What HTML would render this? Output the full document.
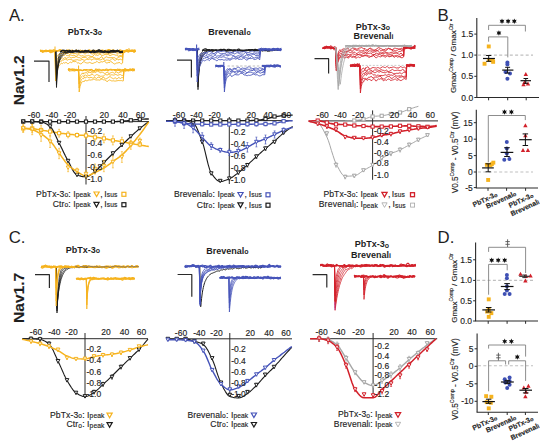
<!DOCTYPE html>
<html><head><meta charset="utf-8"><style>
html,body{margin:0;padding:0;background:#fff;}
svg{display:block;font-family:"Liberation Sans",sans-serif;}
.k{stroke:#1e1e1e;stroke-width:0.14px;}
</style></head><body>
<svg width="550" height="445" viewBox="0 0 550 445">
<rect width="550" height="445" fill="#fff"/>
<text xml:space="preserve" x="8.9" y="20.6" font-size="16.8" text-anchor="start" font-weight="normal" fill="#1e1e1e"><tspan>A.</tspan></text>
<text xml:space="preserve" x="8.7" y="242.5" font-size="16.8" text-anchor="start" font-weight="normal" fill="#1e1e1e"><tspan>C.</tspan></text>
<text xml:space="preserve" x="437.6" y="20.6" font-size="16.8" text-anchor="start" font-weight="normal" fill="#1e1e1e"><tspan>B.</tspan></text>
<text xml:space="preserve" x="437.6" y="242.5" font-size="16.8" text-anchor="start" font-weight="normal" fill="#1e1e1e"><tspan>D.</tspan></text>
<text xml:space="preserve" x="23.9" y="105.3" font-size="15.5" text-anchor="start" font-weight="bold" fill="#1e1e1e" transform="rotate(-90 23.9 105.3)" class="k"><tspan>Nav1.2</tspan></text>
<text xml:space="preserve" x="23.9" y="322.9" font-size="15.5" text-anchor="start" font-weight="bold" fill="#1e1e1e" transform="rotate(-90 23.9 322.9)" class="k"><tspan>Nav1.7</tspan></text>
<text xml:space="preserve" x="85" y="34.5" font-size="9" text-anchor="middle" font-weight="bold" fill="#1e1e1e"><tspan>PbTx-3</tspan><tspan font-size="7" dy="0.3">o</tspan></text>
<path d="M34 61.2 L49 61.2 L49 82" stroke="#2a2a2a" stroke-width="1.2" fill="none" stroke-linejoin="round"/>
<path d="M40 50.7 L40.9 50.3 L41.8 50.3 L42.7 50.4 L43.6 51.1 L44.5 51.6 L45.4 50.9 L46.3 50.7 L47.2 51.2 L48.1 51.3 L49 50.9 L49.9 50.5 L50.8 50.9 L51.7 51 L52.6 50.4 L53.5 49.9 L54.4 49.6 L55 51 L55.6 60 L56 58.8 L56.5 57.7 L56.9 56.6 L57.4 55.7 L57.8 55.2 L58.3 55 L58.7 54.5 L59.2 53.9 L59.6 53.6 L60.1 53.4 L60.5 53.6 L61 53.9 L61.4 53.5 L61.9 53.6 L62.3 53.8 L62.8 53.4 L63.2 53.3 L63.7 53.5 L64.1 53.1 L64.6 52.8 L65 53.4 L65.5 53.7 L65.9 53.1 L66.8 53.4 L67.7 53.4 L68.6 53.5 L69.5 54.4 L70.4 53.9 L71.3 52.9 L72.2 53.2 L73.1 53.6 L74 53.5 L74.9 53.6 L75.8 53.6 L76.7 54 L77.6 54 L78.5 53.4 L79.4 53.1 L80.3 53.1 L81.2 52.9 L82.1 52.6 L83 52.6 L83.9 53.3 L84.8 54 L85.7 53.8 L86.6 52.7 L87.5 52.7 L88.4 52.9 L89.3 52.3 L90.2 52.5 L91.1 53.5 L92 54.1 L92.9 53.9 L93.8 53.2 L94.7 53 L95.6 53.5 L96.5 53.9 L97.4 53.4 L98.3 53.1 L99.2 53.4 L100.1 53.3 L101 52.9 L101.9 52.7 L102.8 52.9 L103.7 53.4 L104.6 54 L105.5 53.9 L106.4 53.6 L107.3 53.6 L108.2 53.6 L109.1 53.8 L110 53.7 L110.9 53.3 L111.8 52.9 L112.7 52.7 L113.6 52 L114.5 51.7 L115.4 52.4 L116.3 52.8 L117.2 53.7 L118.1 54.3 L119 53.3 L119.9 52.8 L120.8 53.4 L121.7 53.6 L122.6 53.3 L123 50.7 L123.9 50.7 L124.8 50.5 L125.7 50.6 L126.6 50.9 L127.5 51.3 L128.4 51.4 L129.3 50.9 L130.2 50.7 L131.1 50.3 L132 49.6 L132.9 50 L133.8 50.3 L134.7 50.2 L135.6 50.4" stroke="#F6B31E" stroke-width="0.9" fill="none" stroke-linejoin="round"/>
<path d="M40 50.9 L40.9 50.6 L41.8 51.6 L42.7 52.1 L43.6 51.3 L44.5 50.8 L45.4 50.6 L46.3 50.7 L47.2 51.2 L48.1 51 L49 50.6 L49.9 50.4 L50.8 50.1 L51.7 50.5 L52.6 51.3 L53.5 51.5 L54.4 51.5 L55 51 L55.6 64 L56 62.4 L56.5 61 L56.9 59.8 L57.4 58.7 L57.8 58.1 L58.3 57.9 L58.7 57.1 L59.2 56.5 L59.6 56.7 L60.1 56.7 L60.5 55.8 L61 55.4 L61.4 55.1 L61.9 54.9 L62.3 55.6 L62.8 55.8 L63.2 55.4 L63.7 55.3 L64.1 55.4 L64.6 55.3 L65 55 L65.5 54.5 L65.9 54.9 L66.8 55.7 L67.7 55.6 L68.6 55.4 L69.5 55.4 L70.4 55 L71.3 55.2 L72.2 55.5 L73.1 55.4 L74 55.2 L74.9 55.7 L75.8 56.2 L76.7 56.2 L77.6 55.6 L78.5 54.8 L79.4 54.8 L80.3 55.8 L81.2 56.1 L82.1 55.7 L83 55.8 L83.9 56.2 L84.8 56.3 L85.7 56 L86.6 55.8 L87.5 55.7 L88.4 55.4 L89.3 55.7 L90.2 56.1 L91.1 56.5 L92 57 L92.9 56.4 L93.8 54.8 L94.7 54.4 L95.6 55.1 L96.5 55.1 L97.4 55.3 L98.3 55.4 L99.2 54.2 L100.1 53.9 L101 55 L101.9 55.4 L102.8 55.3 L103.7 55.1 L104.6 54.6 L105.5 54.3 L106.4 54.7 L107.3 54.4 L108.2 54.4 L109.1 55.2 L110 55.6 L110.9 55.3 L111.8 54.8 L112.7 54.5 L113.6 54.5 L114.5 54.7 L115.4 55.1 L116.3 55.1 L117.2 55.5 L118.1 56.2 L119 56.2 L119.9 55.4 L120.8 55.5 L121.7 55.6 L122.6 55 L123 50.9 L123.9 51.2 L124.8 51.5 L125.7 50.7 L126.6 49.7 L127.5 49.6 L128.4 49 L129.3 48.7 L130.2 50.2 L131.1 51.6 L132 51.1 L132.9 50.2 L133.8 50.5 L134.7 51.4 L135.6 51.4" stroke="#F6B31E" stroke-width="0.9" fill="none" stroke-linejoin="round"/>
<path d="M40 51.6 L40.9 51 L41.8 50.6 L42.7 50.8 L43.6 51.1 L44.5 51.1 L45.4 50.6 L46.3 50.6 L47.2 50.6 L48.1 50.8 L49 51.9 L49.9 52.1 L50.8 51.3 L51.7 51.4 L52.6 50.7 L53.5 49.8 L54.4 50.4 L55 51 L55.6 69 L56 66.9 L56.5 65.1 L56.9 63.7 L57.4 62.5 L57.8 61.6 L58.3 60.6 L58.7 59.6 L59.2 59.2 L59.6 59.5 L60.1 59.7 L60.5 59.3 L61 58.9 L61.4 58.5 L61.9 58.2 L62.3 57.9 L62.8 57.8 L63.2 58.2 L63.7 58.7 L64.1 58.4 L64.6 57.7 L65 57.2 L65.5 57.6 L65.9 58.5 L66.8 58.3 L67.7 57.7 L68.6 57.2 L69.5 56.9 L70.4 57.5 L71.3 57.9 L72.2 57.6 L73.1 57.3 L74 57.5 L74.9 57.2 L75.8 56.7 L76.7 56.8 L77.6 57.3 L78.5 57.6 L79.4 57.6 L80.3 58.1 L81.2 58.5 L82.1 57.7 L83 57.3 L83.9 57.5 L84.8 57.4 L85.7 57.2 L86.6 58.1 L87.5 58.7 L88.4 57.9 L89.3 57.2 L90.2 57.1 L91.1 57.2 L92 56.7 L92.9 57 L93.8 57.7 L94.7 57.7 L95.6 58.3 L96.5 58.7 L97.4 58.3 L98.3 58.5 L99.2 58.7 L100.1 57.9 L101 56.9 L101.9 56.8 L102.8 57.7 L103.7 58.6 L104.6 58.2 L105.5 57.1 L106.4 56.8 L107.3 57.2 L108.2 57.6 L109.1 57.6 L110 57.7 L110.9 57.7 L111.8 57.5 L112.7 57.6 L113.6 57.7 L114.5 57.7 L115.4 58.3 L116.3 58.9 L117.2 58.4 L118.1 57.3 L119 56.8 L119.9 56.9 L120.8 56.3 L121.7 56.6 L122.6 57.9 L123 50.7 L123.9 51.7 L124.8 52.4 L125.7 51.5 L126.6 50.3 L127.5 50.2 L128.4 50.6 L129.3 50.6 L130.2 50.4 L131.1 50.5 L132 50.7 L132.9 51.6 L133.8 52.1 L134.7 51.7 L135.6 51.2" stroke="#F6B31E" stroke-width="0.9" fill="none" stroke-linejoin="round"/>
<path d="M40 49.9 L40.9 50.1 L41.8 51 L42.7 51.2 L43.6 51.3 L44.5 51.1 L45.4 50.2 L46.3 50.2 L47.2 51 L48.1 51.2 L49 51.2 L49.9 51.5 L50.8 51.1 L51.7 50.2 L52.6 50.4 L53.5 51.3 L54.4 51 L55 51 L55.6 75 L56 72.3 L56.5 69.7 L56.9 67.8 L57.4 66.5 L57.8 65.4 L58.3 64.3 L58.7 63.2 L59.2 62.2 L59.6 61.4 L60.1 61.3 L60.5 61.4 L61 60.9 L61.4 61.1 L61.9 60.8 L62.3 59.9 L62.8 59.8 L63.2 60 L63.7 60 L64.1 59.7 L64.6 59.5 L65 59.5 L65.5 59.2 L65.9 59.1 L66.8 59.9 L67.7 60.1 L68.6 59.5 L69.5 59.4 L70.4 59.4 L71.3 59.6 L72.2 60.1 L73.1 60.3 L74 60.4 L74.9 60.1 L75.8 59.9 L76.7 59.8 L77.6 59.7 L78.5 60.1 L79.4 60.2 L80.3 60.3 L81.2 59.8 L82.1 59.4 L83 59.7 L83.9 60.2 L84.8 60.3 L85.7 59.8 L86.6 59.3 L87.5 59.3 L88.4 59.6 L89.3 59.1 L90.2 58.8 L91.1 59.8 L92 60.2 L92.9 59.2 L93.8 58.8 L94.7 59 L95.6 59.3 L96.5 59.7 L97.4 59.5 L98.3 59.6 L99.2 59.9 L100.1 59.9 L101 59.8 L101.9 59.3 L102.8 58.6 L103.7 59.2 L104.6 60.4 L105.5 60.4 L106.4 60 L107.3 60.1 L108.2 60.1 L109.1 60.6 L110 60.7 L110.9 59.6 L111.8 58.7 L112.7 58.7 L113.6 59.2 L114.5 60.3 L115.4 60.4 L116.3 59.4 L117.2 58.9 L118.1 59.8 L119 59.9 L119.9 59 L120.8 59.3 L121.7 59.8 L122.6 60 L123 51.7 L123.9 51.7 L124.8 50.8 L125.7 50 L126.6 49.7 L127.5 50.3 L128.4 50.9 L129.3 50.9 L130.2 50.6 L131.1 50.4 L132 50.7 L132.9 51.3 L133.8 52.1 L134.7 52.3 L135.6 51.2" stroke="#F6B31E" stroke-width="0.9" fill="none" stroke-linejoin="round"/>
<path d="M40 50.5 L40.9 50.6 L41.8 51 L42.7 51.2 L43.6 51.1 L44.5 50.8 L45.4 50.3 L46.3 50.3 L47.2 50.5 L48.1 50.7 L49 51 L49.9 50.7 L50.8 50.3 L51.7 50.3 L52.6 50.2 L53.5 50.3 L54.4 50.1 L55 51 L55.6 81 L56 77.6 L56.5 74.6 L56.9 72.1 L57.4 70.1 L57.8 68.6 L58.3 67.3 L58.7 66.2 L59.2 65.6 L59.6 65.2 L60.1 64.5 L60.5 64.1 L61 63.6 L61.4 63 L61.9 63.3 L62.3 63.6 L62.8 63.4 L63.2 63.1 L63.7 62.6 L64.1 62.7 L64.6 63.2 L65 63.2 L65.5 62.6 L65.9 62.1 L66.8 62.9 L67.7 63.7 L68.6 63.5 L69.5 62.6 L70.4 62.1 L71.3 62.7 L72.2 62.1 L73.1 61.3 L74 61.8 L74.9 61.6 L75.8 61.4 L76.7 62.3 L77.6 63 L78.5 62.8 L79.4 63.1 L80.3 64 L81.2 63.9 L82.1 62.9 L83 62.1 L83.9 61.7 L84.8 62 L85.7 62.7 L86.6 62.9 L87.5 63 L88.4 62.9 L89.3 62.4 L90.2 62.6 L91.1 63.1 L92 63.4 L92.9 63.4 L93.8 63 L94.7 62.6 L95.6 62.4 L96.5 61.7 L97.4 61.6 L98.3 62.5 L99.2 62.8 L100.1 62.3 L101 61.7 L101.9 61.8 L102.8 62 L103.7 61.4 L104.6 61.1 L105.5 62.1 L106.4 63.1 L107.3 62.9 L108.2 62.4 L109.1 62.6 L110 62.3 L110.9 61.3 L111.8 62 L112.7 63 L113.6 63.5 L114.5 64 L115.4 63.7 L116.3 63.1 L117.2 63 L118.1 62.9 L119 62.5 L119.9 62.7 L120.8 63.6 L121.7 63.8 L122.6 63 L123 51.5 L123.9 50.8 L124.8 50.6 L125.7 51.1 L126.6 51.6 L127.5 51.4 L128.4 50.2 L129.3 50.2 L130.2 50.8 L131.1 50.3 L132 50.3 L132.9 51.3 L133.8 51.7 L134.7 51.3 L135.6 51.1" stroke="#F6B31E" stroke-width="0.9" fill="none" stroke-linejoin="round"/>
<path d="M40 50.4 L40.9 50.7 L41.8 50.9 L42.7 51.2 L43.6 51.1 L44.5 50.6 L45.4 50.7 L46.3 51.1 L47.2 51.2 L48.1 50.8 L49 50.9 L49.9 52 L50.8 52.8 L51.7 52.5 L52.6 51.6 L53.5 51.5 L54.4 51.8 L55.3 51.1 L56.2 50.5 L57.1 50.9 L58 51 L58.9 50.3 L59.8 49.7 L60.7 50.1 L61.6 50.8 L62.5 50.8 L63.4 50.8 L64.3 51.2 L65.2 51.3 L66.1 51.1 L67 50.9 L67.9 50.6 L68.8 50.4 L69.7 50.7 L70.6 51.3 L71.5 51.1 L72.4 50.6 L73.3 50.6 L74.2 51 L75.1 50.9 L76 50.2 L76.9 50 L77.8 51.2 L78.7 52.4 L79.6 52 L80.5 51.3 L81.4 51.8 L82.3 52.1 L83.2 51.3 L84.1 51.1 L85 51.6 L85.9 51.7 L86.8 51.3 L87.7 51.4 L88.6 52.2 L89.5 52.4 L90.4 51.8 L91.3 51 L92.2 50.3 L93.1 50.8 L94 51.2 L94.9 51.3 L95.8 51.3 L96.7 50.6 L97.6 50.2 L98.5 50.6 L99.4 50.7 L100.3 50.5 L101.2 50.5 L102.1 50.1 L103 50.1 L103.9 51.1 L104.8 51.7 L105.7 52.1 L106.6 52.2 L107.5 51.1 L108.4 49.9 L109.3 49.8 L110.2 50.1 L111.1 50.5 L112 50.4 L112.9 50.1 L113.8 50.3 L114.7 50.4 L115.6 50.8 L116.5 50.9 L117.4 50.8 L118.3 50.8 L119.2 50.6 L120.1 50.2 L121 50 L121.9 51 L122.8 52.4 L123.7 52.7 L124.6 52.3 L125.5 51.5 L126.4 51.2 L127.3 51.5 L128.2 51.3 L129.1 50.9 L130 50.9 L130.9 50.9 L131.8 50.8 L132.7 50.6 L133.6 50.4 L134.5 51.1 L135.4 52" stroke="#F6B31E" stroke-width="1.1" fill="none" stroke-linejoin="round"/>
<path d="M40 50.6 L40.9 50.9 L41.8 51.5 L42.7 51.4 L43.6 51.5 L44.5 51.6 L45.4 51.1 L46.3 50.8 L47.2 51.1 L48.1 51.1 L49 50.3 L49.9 50.1 L50.8 50.7 L51.7 51.3 L52.6 51.8 L53.5 51.4 L54.4 50.8 L55.3 50.9 L56.2 50.9 L57.1 50.7 L58 50.9 L58.9 50.2 L59.8 49.7 L60.7 50 L61.6 50 L62.5 50.4 L63.4 51.1 L64.3 51.6 L65.2 51.8 L66.1 50.9 L67 50 L67.9 50 L68.8 50.1 L69.7 50.3 L70.6 50.8 L71.5 50.3 L72.4 50.1 L73.3 50.8 L74.2 51.2 L75.1 51.2 L76 51.3 L76.9 51.3 L77.8 51.5 L78.7 51.7 L79.6 51.6 L80.5 51.4 L81.4 50.9 L82.3 50.4 L83.2 50.5 L84.1 50.9 L85 50.7 L85.9 50.8 L86.8 51.5 L87.7 51.2 L88.6 50 L89.5 49.8 L90.4 50.4 L91.3 50.7 L92.2 50.7 L93.1 50.7 L94 50.8 L94.9 50.9 L95.8 50.8 L96.7 51 L97.6 52.1 L98.5 52.2 L99.4 51 L100.3 50.3 L101.2 50.7 L102.1 50.9 L103 50.5 L103.9 50.5 L104.8 50.6 L105.7 50.3 L106.6 50.2 L107.5 50 L108.4 49.5 L109.3 49.7 L110.2 50.5 L111.1 50.9 L112 50.5 L112.9 50 L113.8 50.5 L114.7 51.4 L115.6 51.4 L116.5 50.9 L117.4 50.7 L118.3 51 L119.2 50.6 L120.1 50.1 L121 50.7 L121.9 51.6 L122.8 51.7 L123.7 51.5 L124.6 51.3 L125.5 51.2 L126.4 50.9 L127.3 51.4 L128.2 52.3 L129.1 51.8 L130 50.9 L130.9 50.9 L131.8 51.4 L132.7 51.5 L133.6 50.6 L134.5 50 L135.4 50.5" stroke="#F6B31E" stroke-width="1.1" fill="none" stroke-linejoin="round"/>
<path d="M40 51.2 L40.9 50.9 L41.8 51.7 L42.7 52.4 L43.6 51.9 L44.5 51.3 L45.4 51.6 L46.3 51.7 L47.2 51 L48.1 50.8 L49 51.4 L49.9 51.4 L50.8 51 L51.7 51 L52.6 51 L53.5 51 L54.4 50.7 L55.3 50.4 L56.2 50.9 L57.1 51.2 L58 50.7 L58.9 50.8 L59.8 51 L60.7 50.7 L61.6 50.6 L62.5 50.8 L63.4 51.8 L64.3 52.9 L65.2 52.5 L66.1 51.6 L67 51.3 L67.9 51.3 L68.8 51.4 L69.7 51.5 L70.6 51 L71.5 51.2 L72.4 51.6 L73.3 51.7 L74.2 51.3 L75.1 50.8 L76 51.1 L76.9 51.4 L77.8 51.3 L78.7 51.1 L79.6 50.4 L80.5 50.1 L81.4 51.1 L82.3 51.6 L83.2 51.3 L84.1 51.3 L85 51.4 L85.9 50.9 L86.8 50.5 L87.7 51 L88.6 51.2 L89.5 50.9 L90.4 51.1 L91.3 50.7 L92.2 50.6 L93.1 51.3 L94 50.9 L94.9 50.3 L95.8 50.7 L96.7 51.6 L97.6 51.7 L98.5 51.2 L99.4 51.3 L100.3 51.3 L101.2 50.9 L102.1 51 L103 50.9 L103.9 50.6 L104.8 50.7 L105.7 50.9 L106.6 50.9 L107.5 50.6 L108.4 50.9 L109.3 51.5 L110.2 51.6 L111.1 51.8 L112 51.9 L112.9 52.1 L113.8 52 L114.7 51.3 L115.6 51.1 L116.5 51.5 L117.4 52.2 L118.3 51.8 L119.2 50.2 L120.1 50.2 L121 51.3 L121.9 51.7 L122.8 51.5 L123.7 51.3 L124.6 51.4 L125.5 51.4 L126.4 51.4 L127.3 50.9 L128.2 50.3 L129.1 50.5 L130 50.9 L130.9 51.2 L131.8 50.9 L132.7 50.6 L133.6 50.7 L134.5 50.4 L135.4 50" stroke="#F6B31E" stroke-width="1.1" fill="none" stroke-linejoin="round"/>
<path d="M55.8 51.3 L56.5 87.5 L56.9 76.6 L57.4 68.3 L57.8 62.8 L58.3 59 L58.7 56.6 L59.2 54.9 L59.6 53.9 L60.1 53.3 L60.5 52.8 L61 52.4 L61.4 52.1 L61.9 52.1 L62.3 52.1 L63.2 52 L64.1 52.2 L65 52.3 L65.9 52.3 L66.8 52.1 L67.7 51.7 L68.6 51.7 L69.5 51.9 L70.4 51.9 L71.3 51.8 L72.2 51.6 L73.1 51.4 L74 51.4 L74.9 51.4 L75.8 51.6 L76.7 51.6 L77.6 51.6 L78.5 51.7 L79.4 51.7 L80.3 51.4 L81.2 51.2 L82.1 51.2 L83 51.2 L83.9 51.6 L84.8 51.9 L85.7 51.8 L86.6 51.7 L87.5 51.6 L88.4 51.7 L89.3 51.8 L90.2 51.8 L91.1 52.1 L92 52.2 L92.9 52 L93.8 51.7 L94.7 51.7 L95.6 51.8 L96.5 51.9 L97.4 51.9 L98.3 52 L99.2 51.9 L100.1 51.5 L101 51.6 L101.9 51.9 L102.8 51.7 L103.7 51.6 L104.6 51.5 L105.5 51.5 L106.4 51.9 L107.3 52.4 L108.2 52.2 L109.1 51.6 L110 51.5 L110.9 51.7 L111.8 51.9 L112.7 51.7 L113.6 51.7 L114.5 52 L115.4 52 L116.3 51.7 L117.2 51.4 L118.1 51.3 L119 51.3 L119.9 51.4 L120.8 51.7 L121.7 51.8 L122.6 52" stroke="#1c1c1c" stroke-width="0.8" fill="none" stroke-linejoin="round"/>
<path d="M55.8 51.3 L56.5 85 L56.9 78 L57.4 71.9 L57.8 67.1 L58.3 63.5 L58.7 60.8 L59.2 58.8 L59.6 57.2 L60.1 55.9 L60.5 55 L61 54.2 L61.4 53.4 L61.9 52.9 L62.3 52.8 L62.8 52.6 L63.2 52.4 L63.7 52.1 L64.1 52 L64.6 52.2 L65 52.1 L65.9 52 L66.8 52.4 L67.7 52.4 L68.6 51.8 L69.5 52 L70.4 52.4 L71.3 52.2 L72.2 51.9 L73.1 51.7 L74 51.7 L74.9 51.6 L75.8 51.7 L76.7 51.9 L77.6 51.8 L78.5 51.6 L79.4 51.5 L80.3 51.6 L81.2 51.6 L82.1 51.8 L83 52 L83.9 52 L84.8 52 L85.7 51.9 L86.6 51.8 L87.5 51.7 L88.4 51.8 L89.3 51.8 L90.2 51.8 L91.1 52 L92 51.9 L92.9 51.6 L93.8 51.6 L94.7 51.6 L95.6 51.7 L96.5 51.8 L97.4 51.9 L98.3 51.5 L99.2 51.2 L100.1 51.2 L101 51.3 L101.9 51.7 L102.8 52.1 L103.7 51.9 L104.6 51.5 L105.5 51.7 L106.4 52.1 L107.3 52 L108.2 51.9 L109.1 52.3 L110 52.5 L110.9 52.3 L111.8 52 L112.7 51.9 L113.6 51.9 L114.5 51.6 L115.4 51.5 L116.3 51.6 L117.2 51.6 L118.1 51.7 L119 52 L119.9 52.2 L120.8 51.9 L121.7 51.7 L122.6 51.8" stroke="#1c1c1c" stroke-width="0.8" fill="none" stroke-linejoin="round"/>
<path d="M55.8 51.3 L56.5 80 L56.9 75.8 L57.4 71.9 L57.8 68.6 L58.3 65.8 L58.7 63.5 L59.2 61.5 L59.6 59.8 L60.1 58.5 L60.5 57.5 L61 56.4 L61.4 55.6 L61.9 55.1 L62.3 54.5 L62.8 53.9 L63.2 53.6 L63.7 53.4 L64.1 52.9 L64.6 52.5 L65 52.4 L65.5 52.3 L65.9 52.3 L66.4 52.4 L66.8 52.5 L67.3 52.4 L67.7 52.2 L68.2 52.3 L68.6 52.5 L69.1 52.5 L70 52.3 L70.9 52 L71.8 51.9 L72.7 51.9 L73.6 51.7 L74.5 51.7 L75.4 51.7 L76.3 51.5 L77.2 51.3 L78.1 51.5 L79 51.8 L79.9 52.1 L80.8 52.1 L81.7 51.9 L82.6 51.7 L83.5 51.7 L84.4 51.8 L85.3 51.9 L86.2 52.1 L87.1 52.2 L88 51.8 L88.9 51.4 L89.8 51.3 L90.7 51.3 L91.6 51.5 L92.5 52 L93.4 51.8 L94.3 51.6 L95.2 51.9 L96.1 52.1 L97 51.8 L97.9 51.6 L98.8 51.7 L99.7 51.9 L100.6 52.1 L101.5 52.2 L102.4 52.3 L103.3 52.3 L104.2 52.3 L105.1 51.9 L106 51.5 L106.9 51.7 L107.8 51.8 L108.7 51.8 L109.6 51.9 L110.5 51.7 L111.4 51.7 L112.3 52.1 L113.2 52.1 L114.1 52 L115 52.1 L115.9 52.1 L116.8 51.7 L117.7 51.3 L118.6 51.4 L119.5 51.5 L120.4 51.6 L121.3 51.9 L122.2 52" stroke="#1c1c1c" stroke-width="0.8" fill="none" stroke-linejoin="round"/>
<path d="M55.8 51.3 L56.5 74 L56.9 71.5 L57.4 69.1 L57.8 66.9 L58.3 65.1 L58.7 63.4 L59.2 62 L59.6 60.7 L60.1 59.7 L60.5 58.8 L61 57.9 L61.4 57.2 L61.9 56.5 L62.3 55.9 L62.8 55.5 L63.2 55.1 L63.7 54.8 L64.1 54.3 L64.6 53.8 L65 53.5 L65.5 53.5 L65.9 53.5 L66.4 53.4 L66.8 53.2 L67.3 53.1 L67.7 53 L68.2 52.6 L68.6 52 L69.1 51.8 L69.5 52 L70 52.3 L70.4 52.3 L70.9 52.3 L71.3 52.5 L71.8 52.6 L72.2 52.4 L72.7 52.1 L73.1 51.9 L73.6 52 L74.5 51.9 L75.4 51.8 L76.3 52 L77.2 52 L78.1 51.7 L79 51.6 L79.9 51.7 L80.8 51.8 L81.7 52 L82.6 52 L83.5 51.8 L84.4 51.7 L85.3 51.8 L86.2 51.9 L87.1 51.9 L88 51.6 L88.9 51.2 L89.8 51.4 L90.7 51.9 L91.6 52.2 L92.5 52 L93.4 51.7 L94.3 51.7 L95.2 52.1 L96.1 52.3 L97 52 L97.9 51.6 L98.8 51.5 L99.7 52.1 L100.6 52.5 L101.5 52.3 L102.4 52.2 L103.3 51.9 L104.2 51.8 L105.1 51.8 L106 51.7 L106.9 51.7 L107.8 51.9 L108.7 52 L109.6 52 L110.5 51.8 L111.4 51.6 L112.3 51.5 L113.2 51.6 L114.1 51.5 L115 51.3 L115.9 51.4 L116.8 51.4 L117.7 51.2 L118.6 51.2 L119.5 51.4 L120.4 51.7 L121.3 52.1 L122.2 52.1" stroke="#1c1c1c" stroke-width="0.8" fill="none" stroke-linejoin="round"/>
<path d="M60 51.4 L60.9 51.9 L61.8 51.2 L62.7 50.2 L63.6 50.4 L64.5 51.1 L65.4 51.1 L66.3 50.4 L67.2 50.5 L68.1 51.4 L69 51.5 L69.9 51.2 L70.8 51.5 L71.7 51.2 L72.6 50.4 L73.5 50.7 L74.4 51.2 L75.3 50.5 L76.2 50 L77.1 50.7 L78 51.9 L78.9 51.6 L79.8 51.2 L80.7 51.7 L81.6 51.5 L82.5 51.7 L83.4 52.3 L84.3 52 L85.2 51.2 L86.1 50.8 L87 51.1 L87.9 50.4 L88.8 50.5 L89.7 52.1 L90.6 52.7 L91.5 52 L92.4 51.6 L93.3 52.1 L94.2 52.7 L95.1 52.3 L96 51.3 L96.9 50.6 L97.8 50.3 L98.7 49.7 L99.6 49.9 L100.5 50.6 L101.4 50.7 L102.3 50.9 L103.2 51.6 L104.1 52.4 L105 52.3 L105.9 51.8 L106.8 51.6 L107.7 51 L108.6 51.1 L109.5 51.3 L110.4 50.8 L111.3 50.5 L112.2 50.5 L113.1 51.3 L114 51.8 L114.9 51.3 L115.8 50.9 L116.7 50.5 L117.6 50.1 L118.5 50.7 L119.4 52.2 L120.3 52.8 L121.2 51.8 L122.1 51.1 L123 51.3" stroke="#1c1c1c" stroke-width="1.1" fill="none" stroke-linejoin="round"/>
<path d="M60 51.4 L60.9 51 L61.8 50.5 L62.7 50.2 L63.6 50.2 L64.5 50.4 L65.4 50.6 L66.3 50.7 L67.2 51.1 L68.1 51.1 L69 50.4 L69.9 50.2 L70.8 50.7 L71.7 51.7 L72.6 52.4 L73.5 51.9 L74.4 51.6 L75.3 51.5 L76.2 51.2 L77.1 51.4 L78 50.6 L78.9 50.3 L79.8 52.2 L80.7 52.3 L81.6 51.1 L82.5 51 L83.4 51.2 L84.3 50.8 L85.2 50.3 L86.1 50.6 L87 51.3 L87.9 51.7 L88.8 51.8 L89.7 52.1 L90.6 52.2 L91.5 51.5 L92.4 50.7 L93.3 50 L94.2 50.5 L95.1 51.3 L96 51.2 L96.9 51.2 L97.8 51 L98.7 50.6 L99.6 50.7 L100.5 50.8 L101.4 51 L102.3 51.6 L103.2 51.6 L104.1 50.9 L105 50.7 L105.9 51.1 L106.8 51.5 L107.7 52.3 L108.6 52.9 L109.5 52.2 L110.4 51.3 L111.3 50.9 L112.2 50.5 L113.1 50.3 L114 50.4 L114.9 50.7 L115.8 51.1 L116.7 51.4 L117.6 51.1 L118.5 50.7 L119.4 51 L120.3 51.8 L121.2 52.3 L122.1 52.4 L123 52.4" stroke="#1c1c1c" stroke-width="1.1" fill="none" stroke-linejoin="round"/>
<line x1="55" y1="46.5" x2="55" y2="52" stroke="#F6B31E" stroke-width="1"/>
<path d="M68 70.4 L68.9 70.7 L69.8 71.3 L70.7 70.9 L71.6 70.8 L72.5 70.7 L73.4 70.1 L74.3 69.8 L75.2 69.5 L76.1 69.2 L77 69.5 L77.9 69.8 L78.6 70 L79.2 80 L79.6 78.3 L80 76.7 L80.5 75.5 L81 74.7 L81.4 74.3 L81.9 73.6 L82.3 72.9 L82.8 73.7 L83.2 74.1 L83.7 72.9 L84.1 72.9 L84.6 73.1 L85 73 L85.5 73 L85.9 72.3 L86.4 72.7 L87.3 73.3 L88.2 72.7 L89.1 72.3 L90 72.3 L90.9 72.7 L91.8 73 L92.7 72.7 L93.6 72.4 L94.5 72.2 L95.4 72.5 L96.3 71.9 L97.2 71.1 L98.1 71.5 L99 71.8 L99.9 72.4 L100.8 72.9 L101.7 72 L102.6 72 L103.5 73 L104.4 73.4 L105.3 73.4 L106.2 72.8 L107.1 72.1 L108 72.6 L108.9 73.4 L109.8 73.3 L110.7 72.8 L111.6 72.5 L112.5 72.3 L113.4 72.7 L114.3 73.4 L115.2 72.7 L116.1 71.8 L117 72.1 L117.9 72.9 L118.8 73 L119.7 72.4 L120.6 72.1 L121.5 71.9 L122.4 71.3 L123.3 71.6 L124 70.7 L124.9 70.8 L125.8 71.3 L126.7 70.8 L127.6 70.2 L128.5 70.4 L129.4 70.2 L130.3 69.7 L131.2 69.8 L132.1 69.4 L133 68.9 L133.9 69.3 L134.8 69.7" stroke="#F6B31E" stroke-width="0.9" fill="none" stroke-linejoin="round"/>
<path d="M68 69.7 L68.9 69.6 L69.8 69.7 L70.7 69.5 L71.6 69.9 L72.5 70.5 L73.4 69.8 L74.3 69.8 L75.2 70.3 L76.1 70 L77 69.8 L77.9 70.3 L78.6 70 L79.2 84 L79.6 81.7 L80 79.8 L80.5 78.5 L81 77.6 L81.4 76.8 L81.9 76.5 L82.3 76.2 L82.8 75.7 L83.2 76 L83.7 76.6 L84.1 75.9 L84.6 75.1 L85 74.9 L85.5 74.9 L85.9 75.4 L86.4 75.6 L87.3 75 L88.2 75.2 L89.1 75.6 L90 75.3 L90.9 74.9 L91.8 74.5 L92.7 74.4 L93.6 75.3 L94.5 76.1 L95.4 75.4 L96.3 74.7 L97.2 74.7 L98.1 75.1 L99 75.5 L99.9 76 L100.8 76.4 L101.7 76.2 L102.6 76.1 L103.5 75.9 L104.4 75.2 L105.3 74.6 L106.2 74.7 L107.1 75.1 L108 74.5 L108.9 74.2 L109.8 75 L110.7 75.1 L111.6 74.8 L112.5 74.9 L113.4 75.1 L114.3 75 L115.2 74.4 L116.1 74.5 L117 75.1 L117.9 75.3 L118.8 74.9 L119.7 74.6 L120.6 74.6 L121.5 75.3 L122.4 75.5 L123.3 75.4 L124 69 L124.9 68.4 L125.8 68.8 L126.7 69.4 L127.6 69.6 L128.5 69.7 L129.4 69.4 L130.3 69 L131.2 69.3 L132.1 69.2 L133 69.2 L133.9 69.3 L134.8 68.9" stroke="#F6B31E" stroke-width="0.9" fill="none" stroke-linejoin="round"/>
<path d="M68 70.2 L68.9 69.4 L69.8 69.1 L70.7 69.4 L71.6 69.5 L72.5 69.4 L73.4 70 L74.3 69.9 L75.2 69.6 L76.1 70.2 L77 70.7 L77.9 70.7 L78.6 70 L79.2 88 L79.6 85.5 L80 83.5 L80.5 82 L81 80.7 L81.4 79.6 L81.9 79.2 L82.3 78.9 L82.8 78.3 L83.2 78.5 L83.7 78.6 L84.1 77.8 L84.6 76.9 L85 77.5 L85.5 78 L85.9 77.7 L86.4 77.1 L87.3 76.8 L88.2 77.4 L89.1 77.9 L90 77.6 L90.9 77.3 L91.8 77.6 L92.7 78.1 L93.6 77.9 L94.5 77.4 L95.4 77.8 L96.3 78.6 L97.2 77.8 L98.1 77.1 L99 77.2 L99.9 77.5 L100.8 78.6 L101.7 78.8 L102.6 77.4 L103.5 77 L104.4 78.2 L105.3 78.9 L106.2 78.8 L107.1 78.4 L108 77.6 L108.9 77.1 L109.8 76.7 L110.7 77 L111.6 77.8 L112.5 78.3 L113.4 78.8 L114.3 78.3 L115.2 77.7 L116.1 78.5 L117 79.1 L117.9 78.2 L118.8 77.4 L119.7 78 L120.6 78.5 L121.5 77.7 L122.4 77.5 L123.3 78.2 L124 70 L124.9 70.4 L125.8 70.8 L126.7 70.3 L127.6 69.5 L128.5 70 L129.4 70.7 L130.3 70.7 L131.2 70.5 L132.1 69.7 L133 69.6 L133.9 70 L134.8 69.1" stroke="#F6B31E" stroke-width="0.9" fill="none" stroke-linejoin="round"/>
<path d="M68 68.8 L68.9 68.6 L69.8 69 L70.7 69.6 L71.6 69.5 L72.5 69.1 L73.4 69.5 L74.3 69.3 L75.2 69.3 L76.1 70.1 L77 69.7 L77.9 69.7 L78.6 70 L79.2 92 L79.6 89.1 L80 86.7 L80.5 84.9 L81 83.7 L81.4 82.8 L81.9 81.9 L82.3 81.6 L82.8 82 L83.2 81.5 L83.7 81.4 L84.1 81.8 L84.6 81 L85 80.2 L85.5 80.2 L85.9 80.2 L86.4 80.9 L87.3 81 L88.2 80.1 L89.1 79.8 L90 80.1 L90.9 80 L91.8 79.8 L92.7 79.7 L93.6 79.2 L94.5 79.3 L95.4 79.8 L96.3 80 L97.2 80 L98.1 79.8 L99 80.1 L99.9 80.1 L100.8 79.5 L101.7 79 L102.6 79.3 L103.5 79.8 L104.4 79.8 L105.3 80.3 L106.2 81 L107.1 81.4 L108 81.2 L108.9 80.2 L109.8 79.8 L110.7 80.5 L111.6 80.9 L112.5 80.9 L113.4 80.8 L114.3 81 L115.2 81.1 L116.1 80.9 L117 80.8 L117.9 80.6 L118.8 80.5 L119.7 80.6 L120.6 80.6 L121.5 80.6 L122.4 80.9 L123.3 80.9 L124 70 L124.9 69.1 L125.8 69.2 L126.7 70.2 L127.6 71.1 L128.5 70.9 L129.4 70.3 L130.3 69.8 L131.2 70.1 L132.1 70.9 L133 70.9 L133.9 70.3 L134.8 70.2" stroke="#F6B31E" stroke-width="0.9" fill="none" stroke-linejoin="round"/>
<path d="M68 69 L68.9 69.9 L69.8 70.3 L70.7 69.6 L71.6 69.6 L72.5 70.5 L73.4 70.7 L74.3 70.9 L75.2 70.8 L76.1 70.3 L77 70.2 L77.9 70.1 L78.8 69.9 L79.7 69.9 L80.6 70.2 L81.5 70.6 L82.4 70.3 L83.3 69.9 L84.2 69.9 L85.1 69.9 L86 69.5 L86.9 69.5 L87.8 69.7 L88.7 69.7 L89.6 69.7 L90.5 70.2 L91.4 71.1 L92.3 71.2 L93.2 70.5 L94.1 70.6 L95 71.1 L95.9 70.7 L96.8 70.1 L97.7 70.2 L98.6 70.6 L99.5 70.7 L100.4 70.8 L101.3 70.8 L102.2 70.2 L103.1 69.9 L104 70.1 L104.9 70.6 L105.8 70.3 L106.7 70.1 L107.6 70.7 L108.5 70.6 L109.4 69.7 L110.3 69.2 L111.2 69.3 L112.1 69.7 L113 69.9 L113.9 69.6 L114.8 69.5 L115.7 69.5 L116.6 69.7 L117.5 70.4 L118.4 70.4 L119.3 69.4 L120.2 69.4 L121.1 69.9 L122 69.9 L122.9 69.6 L123.8 69.5 L124.7 69.6 L125.6 70.1 L126.5 70.2 L127.4 70 L128.3 70.1 L129.2 69.6 L130.1 69.3 L131 70 L131.9 70.2 L132.8 70.2 L133.7 70.7 L134.6 70.6" stroke="#F6B31E" stroke-width="1.1" fill="none" stroke-linejoin="round"/>
<path d="M68 69.7 L68.9 69.1 L69.8 69.3 L70.7 69.2 L71.6 69.1 L72.5 69.3 L73.4 69.1 L74.3 69.3 L75.2 70 L76.1 69.9 L77 70 L77.9 70.5 L78.8 70.5 L79.7 70 L80.6 69.7 L81.5 70 L82.4 70.8 L83.3 70.5 L84.2 69.6 L85.1 69.9 L86 70.5 L86.9 70.8 L87.8 71.3 L88.7 71 L89.6 70 L90.5 69.5 L91.4 69.4 L92.3 69.8 L93.2 70.8 L94.1 71.4 L95 70.2 L95.9 68.9 L96.8 69.2 L97.7 69.6 L98.6 69.2 L99.5 69.2 L100.4 69.7 L101.3 70 L102.2 69.8 L103.1 69.7 L104 70 L104.9 69.8 L105.8 69.3 L106.7 69 L107.6 69.4 L108.5 69.7 L109.4 69.4 L110.3 69.7 L111.2 70.2 L112.1 70 L113 69.8 L113.9 69.8 L114.8 70.6 L115.7 70.9 L116.6 70 L117.5 69 L118.4 69.3 L119.3 70.6 L120.2 71.1 L121.1 70.9 L122 70.5 L122.9 70 L123.8 69.8 L124.7 70.1 L125.6 69.8 L126.5 69.6 L127.4 70.4 L128.3 70.6 L129.2 69.4 L130.1 69.2 L131 69.7 L131.9 69.2 L132.8 68.9 L133.7 69.9 L134.6 70.2" stroke="#F6B31E" stroke-width="1.1" fill="none" stroke-linejoin="round"/>
<line x1="78.6" y1="65.5" x2="78.6" y2="71" stroke="#F6B31E" stroke-width="1"/>
<line x1="22" y1="121.6" x2="149" y2="121.6" stroke="#2a2a2a" stroke-width="1"/>
<line x1="86" y1="116" x2="86" y2="184.5" stroke="#2a2a2a" stroke-width="1"/>
<path d="M23.2 121.6 L24.7 121.6 L26.2 121.6 L27.7 121.6 L29.2 121.6 L30.7 121.6 L32.2 121.6 L33.7 121.6 L35.2 121.6 L36.7 121.6 L38.2 121.6 L39.7 121.6 L41.1 121.6 L42.6 121.6 L44.1 121.6 L45.6 121.6 L47.1 121.6 L48.6 121.6 L50.1 121.6 L51.6 121.6 L53.1 121.6 L54.6 121.6 L56.1 121.6 L57.6 121.6 L59.1 121.6 L60.6 121.6 L62.1 121.6 L63.6 121.6 L65.1 121.6 L66.6 121.6 L68.1 121.6 L69.6 121.6 L71 121.6 L72.5 121.6 L74 121.6 L75.5 121.6 L77 121.6 L78.5 121.6 L80 121.6 L81.5 121.6 L83 121.6 L84.5 121.6 L86 121.6 L87.5 121.6 L89 121.6 L90.5 121.6 L92 121.6 L93.5 121.6 L95 121.6 L96.5 121.6 L98 121.6 L99.5 121.6 L101 121.6 L102.4 121.6 L103.9 121.6 L105.4 121.6 L106.9 121.6 L108.4 121.6 L109.9 121.6 L111.4 121.6 L112.9 121.6 L114.4 121.6 L115.9 121.6 L117.4 121.5 L118.9 121.4 L120.4 121.4 L121.9 121.3 L123.4 121.2 L124.9 121 L126.4 120.9 L127.9 120.7 L129.4 120.5 L130.8 120.3 L132.3 120.1 L133.8 119.9 L135.3 119.7 L136.8 119.6 L138.3 119.4 L139.8 119.3 L141.3 119.2 L142.8 119.2 L144.3 119.1 L145.8 119 L147.3 119 L148.8 119" stroke="#1c1c1c" stroke-width="1.3" fill="none" stroke-linejoin="round"/>
<path d="M23.2 128.4 L24.7 128.4 L26.2 128.4 L27.7 128.5 L29.2 128.5 L30.7 128.5 L32.2 128.6 L33.7 128.7 L35.2 128.9 L36.7 129.2 L38.2 129.4 L39.7 129.7 L41.1 130 L42.6 130.2 L44.1 130.5 L45.6 130.7 L47.1 131 L48.6 131.2 L50.1 131.5 L51.6 131.8 L53.1 132 L54.6 132.3 L56.1 132.5 L57.6 132.8 L59.1 133 L60.6 133.2 L62.1 133.4 L63.6 133.6 L65.1 133.8 L66.6 134 L68.1 134.2 L69.6 134.4 L71 134.5 L72.5 134.6 L74 134.8 L75.5 134.9 L77 135 L78.5 135.1 L80 135.2 L81.5 135.2 L83 135.3 L84.5 135.4 L86 135.5 L87.5 135.7 L89 135.9 L90.5 136.2 L92 136.5 L93.5 136.8 L95 137.1 L96.5 137.4 L98 137.6 L99.5 137.8 L101 138.1 L102.4 138.3 L103.9 138.6 L105.4 138.9 L106.9 139.1 L108.4 139.4 L109.9 139.7 L111.4 139.9 L112.9 140.2 L114.4 140.5 L115.9 140.7 L117.4 141 L118.9 141.3 L120.4 141.5 L121.9 141.8 L123.4 142.1 L124.9 142.3 L126.4 142.6 L127.9 142.9 L129.4 143.1 L130.8 143.4 L132.3 143.7 L133.8 143.9 L135.3 144.2 L136.8 144.4 L138.3 144.6 L139.8 144.9 L141.3 145.2 L142.8 145.4 L144.3 145.7 L145.8 146 L147.3 146.2 L148.8 146.5" stroke="#F6B31E" stroke-width="1.5" fill="none" stroke-linejoin="round"/>
<path d="M23.2 121.6 L24.7 121.6 L26.2 121.6 L27.7 121.6 L29.2 121.6 L30.7 121.6 L32.2 121.6 L33.7 121.6 L35.2 121.6 L36.7 121.7 L38.2 121.8 L39.7 121.9 L41.1 122 L42.6 122.3 L44.1 122.8 L45.6 123.5 L47.1 124.3 L48.6 125.4 L50.1 126.5 L51.6 128.1 L53.1 130.6 L54.6 133.5 L56.1 136.7 L57.6 139.9 L59.1 143 L60.6 146 L62.1 149.1 L63.6 152.2 L65.1 155.3 L66.6 158.2 L68.1 161 L69.6 163.8 L71 166.7 L72.5 169.6 L74 172.1 L75.5 174 L77 175 L78.5 175.5 L80 175.9 L81.5 176.3 L83 176.6 L84.5 176.7 L86 176.8 L87.5 176.6 L89 175.9 L90.5 175 L92 173.9 L93.5 172.7 L95 171.5 L96.5 170.3 L98 168.8 L99.5 167.3 L101 165.7 L102.4 164.1 L103.9 162.5 L105.4 161 L106.9 159.5 L108.4 158 L109.9 156.5 L111.4 155 L112.9 153.5 L114.4 152.1 L115.9 150.6 L117.4 149.2 L118.9 147.8 L120.4 146.4 L121.9 145 L123.4 143.6 L124.9 142.1 L126.4 140.7 L127.9 139.3 L129.4 137.9 L130.8 136.5 L132.3 135.1 L133.8 133.8 L135.3 132.4 L136.8 131.1 L138.3 129.8 L139.8 128.5 L141.3 127.3 L142.8 126.1 L144.3 124.9 L145.8 123.8 L147.3 122.7 L148.8 121.6" stroke="#1c1c1c" stroke-width="1.2" fill="none" stroke-linejoin="round"/>
<path d="M23.2 128.4 L24.7 128.5 L26.2 128.6 L27.7 128.8 L29.2 129.1 L30.7 129.5 L32.2 129.8 L33.7 130.2 L35.2 130.8 L36.7 131.5 L38.2 132.3 L39.7 133.1 L41.1 134 L42.6 134.9 L44.1 135.9 L45.6 137.1 L47.1 138.3 L48.6 139.6 L50.1 141 L51.6 142.6 L53.1 144.5 L54.6 146.6 L56.1 148.8 L57.6 150.9 L59.1 153 L60.6 155.1 L62.1 157.3 L63.6 159.4 L65.1 161.5 L66.6 163.4 L68.1 165 L69.6 166.3 L71 167.5 L72.5 168.6 L74 169.7 L75.5 170.6 L77 171.5 L78.5 172.4 L80 173.5 L81.5 174.4 L83 175.2 L84.5 175.8 L86 176 L87.5 175.8 L89 175.4 L90.5 174.7 L92 174 L93.5 173.2 L95 172.5 L96.5 171.8 L98 171.1 L99.5 170.4 L101 169.7 L102.4 168.9 L103.9 168 L105.4 167.1 L106.9 166 L108.4 164.9 L109.9 163.8 L111.4 162.6 L112.9 161.5 L114.4 160.4 L115.9 159.4 L117.4 158.4 L118.9 157.3 L120.4 156.2 L121.9 155 L123.4 153.6 L124.9 152.1 L126.4 150.6 L127.9 148.9 L129.4 147.2 L130.8 145.5 L132.3 143.8 L133.8 142 L135.3 140.2 L136.8 138.3 L138.3 136.4 L139.8 134.5 L141.3 132.5 L142.8 130.5 L144.3 128.4 L145.8 126.2 L147.3 124 L148.8 121.8" stroke="#F6B31E" stroke-width="1.5" fill="none" stroke-linejoin="round"/>
<rect x="21.6" y="120" width="3.2" height="3.2" stroke="#1c1c1c" stroke-width="1" fill="#fff"/>
<rect x="30.6" y="120" width="3.2" height="3.2" stroke="#1c1c1c" stroke-width="1" fill="#fff"/>
<rect x="39.5" y="120" width="3.2" height="3.2" stroke="#1c1c1c" stroke-width="1" fill="#fff"/>
<rect x="48.5" y="120" width="3.2" height="3.2" stroke="#1c1c1c" stroke-width="1" fill="#fff"/>
<rect x="57.5" y="120" width="3.2" height="3.2" stroke="#1c1c1c" stroke-width="1" fill="#fff"/>
<rect x="66.5" y="120" width="3.2" height="3.2" stroke="#1c1c1c" stroke-width="1" fill="#fff"/>
<rect x="75.4" y="120" width="3.2" height="3.2" stroke="#1c1c1c" stroke-width="1" fill="#fff"/>
<rect x="84.4" y="120" width="3.2" height="3.2" stroke="#1c1c1c" stroke-width="1" fill="#fff"/>
<rect x="93.4" y="120" width="3.2" height="3.2" stroke="#1c1c1c" stroke-width="1" fill="#fff"/>
<rect x="102.3" y="120" width="3.2" height="3.2" stroke="#1c1c1c" stroke-width="1" fill="#fff"/>
<rect x="111.3" y="120" width="3.2" height="3.2" stroke="#1c1c1c" stroke-width="1" fill="#fff"/>
<rect x="120.3" y="119.7" width="3.2" height="3.2" stroke="#1c1c1c" stroke-width="1" fill="#fff"/>
<rect x="129.2" y="118.7" width="3.2" height="3.2" stroke="#1c1c1c" stroke-width="1" fill="#fff"/>
<rect x="138.2" y="117.7" width="3.2" height="3.2" stroke="#1c1c1c" stroke-width="1" fill="#fff"/>
<line x1="23.2" y1="125.2" x2="23.2" y2="131.6" stroke="#F6B31E" stroke-width="0.7"/>
<line x1="22.2" y1="125.2" x2="24.2" y2="125.2" stroke="#F6B31E" stroke-width="0.6"/>
<line x1="22.2" y1="131.6" x2="24.2" y2="131.6" stroke="#F6B31E" stroke-width="0.6"/>
<rect x="21.6" y="126.8" width="3.2" height="3.2" stroke="#F6B31E" stroke-width="1" fill="#fff"/>
<line x1="32.2" y1="124.4" x2="32.2" y2="132.4" stroke="#F6B31E" stroke-width="0.7"/>
<line x1="31.2" y1="124.4" x2="33.2" y2="124.4" stroke="#F6B31E" stroke-width="0.6"/>
<line x1="31.2" y1="132.4" x2="33.2" y2="132.4" stroke="#F6B31E" stroke-width="0.6"/>
<rect x="30.6" y="126.8" width="3.2" height="3.2" stroke="#F6B31E" stroke-width="1" fill="#fff"/>
<line x1="41.1" y1="125.6" x2="41.1" y2="134.4" stroke="#F6B31E" stroke-width="0.7"/>
<line x1="40.1" y1="125.6" x2="42.1" y2="125.6" stroke="#F6B31E" stroke-width="0.6"/>
<line x1="40.1" y1="134.4" x2="42.1" y2="134.4" stroke="#F6B31E" stroke-width="0.6"/>
<rect x="39.5" y="128.4" width="3.2" height="3.2" stroke="#F6B31E" stroke-width="1" fill="#fff"/>
<line x1="50.1" y1="127.1" x2="50.1" y2="135.9" stroke="#F6B31E" stroke-width="0.7"/>
<line x1="49.1" y1="127.1" x2="51.1" y2="127.1" stroke="#F6B31E" stroke-width="0.6"/>
<line x1="49.1" y1="135.9" x2="51.1" y2="135.9" stroke="#F6B31E" stroke-width="0.6"/>
<rect x="48.5" y="129.9" width="3.2" height="3.2" stroke="#F6B31E" stroke-width="1" fill="#fff"/>
<line x1="59.1" y1="129.3" x2="59.1" y2="137.1" stroke="#F6B31E" stroke-width="0.7"/>
<line x1="58.1" y1="129.3" x2="60.1" y2="129.3" stroke="#F6B31E" stroke-width="0.6"/>
<line x1="58.1" y1="137.1" x2="60.1" y2="137.1" stroke="#F6B31E" stroke-width="0.6"/>
<rect x="57.5" y="131.6" width="3.2" height="3.2" stroke="#F6B31E" stroke-width="1" fill="#fff"/>
<line x1="68.1" y1="131.6" x2="68.1" y2="137.8" stroke="#F6B31E" stroke-width="0.7"/>
<line x1="67.1" y1="131.6" x2="69.1" y2="131.6" stroke="#F6B31E" stroke-width="0.6"/>
<line x1="67.1" y1="137.8" x2="69.1" y2="137.8" stroke="#F6B31E" stroke-width="0.6"/>
<rect x="66.5" y="133.1" width="3.2" height="3.2" stroke="#F6B31E" stroke-width="1" fill="#fff"/>
<line x1="77" y1="133.1" x2="77" y2="137.1" stroke="#F6B31E" stroke-width="0.7"/>
<line x1="76" y1="133.1" x2="78" y2="133.1" stroke="#F6B31E" stroke-width="0.6"/>
<line x1="76" y1="137.1" x2="78" y2="137.1" stroke="#F6B31E" stroke-width="0.6"/>
<rect x="75.4" y="133.5" width="3.2" height="3.2" stroke="#F6B31E" stroke-width="1" fill="#fff"/>
<line x1="86" y1="132.6" x2="86" y2="138.4" stroke="#F6B31E" stroke-width="0.7"/>
<line x1="85" y1="132.6" x2="87" y2="132.6" stroke="#F6B31E" stroke-width="0.6"/>
<line x1="85" y1="138.4" x2="87" y2="138.4" stroke="#F6B31E" stroke-width="0.6"/>
<rect x="84.4" y="133.9" width="3.2" height="3.2" stroke="#F6B31E" stroke-width="1" fill="#fff"/>
<line x1="95" y1="133.6" x2="95" y2="141.2" stroke="#F6B31E" stroke-width="0.7"/>
<line x1="94" y1="133.6" x2="96" y2="133.6" stroke="#F6B31E" stroke-width="0.6"/>
<line x1="94" y1="141.2" x2="96" y2="141.2" stroke="#F6B31E" stroke-width="0.6"/>
<rect x="93.4" y="135.8" width="3.2" height="3.2" stroke="#F6B31E" stroke-width="1" fill="#fff"/>
<line x1="103.9" y1="134" x2="103.9" y2="142.8" stroke="#F6B31E" stroke-width="0.7"/>
<line x1="102.9" y1="134" x2="104.9" y2="134" stroke="#F6B31E" stroke-width="0.6"/>
<line x1="102.9" y1="142.8" x2="104.9" y2="142.8" stroke="#F6B31E" stroke-width="0.6"/>
<rect x="102.3" y="136.8" width="3.2" height="3.2" stroke="#F6B31E" stroke-width="1" fill="#fff"/>
<line x1="112.9" y1="135.9" x2="112.9" y2="144.9" stroke="#F6B31E" stroke-width="0.7"/>
<line x1="111.9" y1="135.9" x2="113.9" y2="135.9" stroke="#F6B31E" stroke-width="0.6"/>
<line x1="111.9" y1="144.9" x2="113.9" y2="144.9" stroke="#F6B31E" stroke-width="0.6"/>
<rect x="111.3" y="138.8" width="3.2" height="3.2" stroke="#F6B31E" stroke-width="1" fill="#fff"/>
<line x1="121.9" y1="137.3" x2="121.9" y2="145.5" stroke="#F6B31E" stroke-width="0.7"/>
<line x1="120.9" y1="137.3" x2="122.9" y2="137.3" stroke="#F6B31E" stroke-width="0.6"/>
<line x1="120.9" y1="145.5" x2="122.9" y2="145.5" stroke="#F6B31E" stroke-width="0.6"/>
<rect x="120.3" y="139.8" width="3.2" height="3.2" stroke="#F6B31E" stroke-width="1" fill="#fff"/>
<line x1="130.8" y1="140.1" x2="130.8" y2="146.7" stroke="#F6B31E" stroke-width="0.7"/>
<line x1="129.8" y1="140.1" x2="131.8" y2="140.1" stroke="#F6B31E" stroke-width="0.6"/>
<line x1="129.8" y1="146.7" x2="131.8" y2="146.7" stroke="#F6B31E" stroke-width="0.6"/>
<rect x="129.2" y="141.8" width="3.2" height="3.2" stroke="#F6B31E" stroke-width="1" fill="#fff"/>
<line x1="139.8" y1="142.1" x2="139.8" y2="146.7" stroke="#F6B31E" stroke-width="0.7"/>
<line x1="138.8" y1="142.1" x2="140.8" y2="142.1" stroke="#F6B31E" stroke-width="0.6"/>
<line x1="138.8" y1="146.7" x2="140.8" y2="146.7" stroke="#F6B31E" stroke-width="0.6"/>
<rect x="138.2" y="142.8" width="3.2" height="3.2" stroke="#F6B31E" stroke-width="1" fill="#fff"/>
<line x1="23.2" y1="120.4" x2="23.2" y2="122.8" stroke="#1c1c1c" stroke-width="0.7"/>
<line x1="22.2" y1="120.4" x2="24.2" y2="120.4" stroke="#1c1c1c" stroke-width="0.6"/>
<line x1="22.2" y1="122.8" x2="24.2" y2="122.8" stroke="#1c1c1c" stroke-width="0.6"/>
<path d="M21.4 119.9 L25.1 119.9 L23.2 123.3Z" stroke="#1c1c1c" stroke-width="1" fill="#fff"/>
<line x1="32.2" y1="120.1" x2="32.2" y2="123.1" stroke="#1c1c1c" stroke-width="0.7"/>
<line x1="31.2" y1="120.1" x2="33.2" y2="120.1" stroke="#1c1c1c" stroke-width="0.6"/>
<line x1="31.2" y1="123.1" x2="33.2" y2="123.1" stroke="#1c1c1c" stroke-width="0.6"/>
<path d="M30.3 119.9 L34 119.9 L32.2 123.3Z" stroke="#1c1c1c" stroke-width="1" fill="#fff"/>
<line x1="41.1" y1="120.3" x2="41.1" y2="123.7" stroke="#1c1c1c" stroke-width="0.7"/>
<line x1="40.1" y1="120.3" x2="42.1" y2="120.3" stroke="#1c1c1c" stroke-width="0.6"/>
<line x1="40.1" y1="123.7" x2="42.1" y2="123.7" stroke="#1c1c1c" stroke-width="0.6"/>
<path d="M39.3 120.3 L43 120.3 L41.1 123.7Z" stroke="#1c1c1c" stroke-width="1" fill="#fff"/>
<line x1="50.1" y1="124.8" x2="50.1" y2="128.2" stroke="#1c1c1c" stroke-width="0.7"/>
<line x1="49.1" y1="124.8" x2="51.1" y2="124.8" stroke="#1c1c1c" stroke-width="0.6"/>
<line x1="49.1" y1="128.2" x2="51.1" y2="128.2" stroke="#1c1c1c" stroke-width="0.6"/>
<path d="M48.3 124.8 L52 124.8 L50.1 128.2Z" stroke="#1c1c1c" stroke-width="1" fill="#fff"/>
<line x1="59.1" y1="141.5" x2="59.1" y2="144.5" stroke="#1c1c1c" stroke-width="0.7"/>
<line x1="58.1" y1="141.5" x2="60.1" y2="141.5" stroke="#1c1c1c" stroke-width="0.6"/>
<line x1="58.1" y1="144.5" x2="60.1" y2="144.5" stroke="#1c1c1c" stroke-width="0.6"/>
<path d="M57.2 141.3 L60.9 141.3 L59.1 144.7Z" stroke="#1c1c1c" stroke-width="1" fill="#fff"/>
<line x1="68.1" y1="159.8" x2="68.1" y2="162.2" stroke="#1c1c1c" stroke-width="0.7"/>
<line x1="67.1" y1="159.8" x2="69.1" y2="159.8" stroke="#1c1c1c" stroke-width="0.6"/>
<line x1="67.1" y1="162.2" x2="69.1" y2="162.2" stroke="#1c1c1c" stroke-width="0.6"/>
<path d="M66.2 159.3 L69.9 159.3 L68.1 162.7Z" stroke="#1c1c1c" stroke-width="1" fill="#fff"/>
<line x1="77" y1="174.2" x2="77" y2="175.8" stroke="#1c1c1c" stroke-width="0.7"/>
<line x1="76" y1="174.2" x2="78" y2="174.2" stroke="#1c1c1c" stroke-width="0.6"/>
<line x1="76" y1="175.8" x2="78" y2="175.8" stroke="#1c1c1c" stroke-width="0.6"/>
<path d="M75.2 173.3 L78.9 173.3 L77 176.7Z" stroke="#1c1c1c" stroke-width="1" fill="#fff"/>
<line x1="86" y1="175.7" x2="86" y2="177.9" stroke="#1c1c1c" stroke-width="0.7"/>
<line x1="85" y1="175.7" x2="87" y2="175.7" stroke="#1c1c1c" stroke-width="0.6"/>
<line x1="85" y1="177.9" x2="87" y2="177.9" stroke="#1c1c1c" stroke-width="0.6"/>
<path d="M84.2 175.1 L87.8 175.1 L86 178.5Z" stroke="#1c1c1c" stroke-width="1" fill="#fff"/>
<line x1="95" y1="170.1" x2="95" y2="172.9" stroke="#1c1c1c" stroke-width="0.7"/>
<line x1="94" y1="170.1" x2="96" y2="170.1" stroke="#1c1c1c" stroke-width="0.6"/>
<line x1="94" y1="172.9" x2="96" y2="172.9" stroke="#1c1c1c" stroke-width="0.6"/>
<path d="M93.1 169.8 L96.8 169.8 L95 173.2Z" stroke="#1c1c1c" stroke-width="1" fill="#fff"/>
<line x1="103.9" y1="160.9" x2="103.9" y2="164.1" stroke="#1c1c1c" stroke-width="0.7"/>
<line x1="102.9" y1="160.9" x2="104.9" y2="160.9" stroke="#1c1c1c" stroke-width="0.6"/>
<line x1="102.9" y1="164.1" x2="104.9" y2="164.1" stroke="#1c1c1c" stroke-width="0.6"/>
<path d="M102.1 160.8 L105.8 160.8 L103.9 164.2Z" stroke="#1c1c1c" stroke-width="1" fill="#fff"/>
<line x1="112.9" y1="151.8" x2="112.9" y2="155.2" stroke="#1c1c1c" stroke-width="0.7"/>
<line x1="111.9" y1="151.8" x2="113.9" y2="151.8" stroke="#1c1c1c" stroke-width="0.6"/>
<line x1="111.9" y1="155.2" x2="113.9" y2="155.2" stroke="#1c1c1c" stroke-width="0.6"/>
<path d="M111.1 151.8 L114.8 151.8 L112.9 155.2Z" stroke="#1c1c1c" stroke-width="1" fill="#fff"/>
<line x1="121.9" y1="143.5" x2="121.9" y2="146.5" stroke="#1c1c1c" stroke-width="0.7"/>
<line x1="120.9" y1="143.5" x2="122.9" y2="143.5" stroke="#1c1c1c" stroke-width="0.6"/>
<line x1="120.9" y1="146.5" x2="122.9" y2="146.5" stroke="#1c1c1c" stroke-width="0.6"/>
<path d="M120 143.3 L123.7 143.3 L121.9 146.7Z" stroke="#1c1c1c" stroke-width="1" fill="#fff"/>
<line x1="130.8" y1="135.3" x2="130.8" y2="137.7" stroke="#1c1c1c" stroke-width="0.7"/>
<line x1="129.8" y1="135.3" x2="131.8" y2="135.3" stroke="#1c1c1c" stroke-width="0.6"/>
<line x1="129.8" y1="137.7" x2="131.8" y2="137.7" stroke="#1c1c1c" stroke-width="0.6"/>
<path d="M129 134.8 L132.7 134.8 L130.8 138.2Z" stroke="#1c1c1c" stroke-width="1" fill="#fff"/>
<line x1="139.8" y1="127.6" x2="139.8" y2="129.4" stroke="#1c1c1c" stroke-width="0.7"/>
<line x1="138.8" y1="127.6" x2="140.8" y2="127.6" stroke="#1c1c1c" stroke-width="0.6"/>
<line x1="138.8" y1="129.4" x2="140.8" y2="129.4" stroke="#1c1c1c" stroke-width="0.6"/>
<path d="M138 126.8 L141.7 126.8 L139.8 130.2Z" stroke="#1c1c1c" stroke-width="1" fill="#fff"/>
<line x1="23.2" y1="124.3" x2="23.2" y2="132.5" stroke="#F6B31E" stroke-width="0.7"/>
<line x1="22.2" y1="124.3" x2="24.2" y2="124.3" stroke="#F6B31E" stroke-width="0.6"/>
<line x1="22.2" y1="132.5" x2="24.2" y2="132.5" stroke="#F6B31E" stroke-width="0.6"/>
<path d="M21.4 126.7 L25.1 126.7 L23.2 130.1Z" stroke="#F6B31E" stroke-width="1" fill="#fff"/>
<line x1="32.2" y1="124.3" x2="32.2" y2="134.7" stroke="#F6B31E" stroke-width="0.7"/>
<line x1="31.2" y1="124.3" x2="33.2" y2="124.3" stroke="#F6B31E" stroke-width="0.6"/>
<line x1="31.2" y1="134.7" x2="33.2" y2="134.7" stroke="#F6B31E" stroke-width="0.6"/>
<path d="M30.3 127.8 L34 127.8 L32.2 131.2Z" stroke="#F6B31E" stroke-width="1" fill="#fff"/>
<line x1="41.1" y1="129.7" x2="41.1" y2="141.3" stroke="#F6B31E" stroke-width="0.7"/>
<line x1="40.1" y1="129.7" x2="42.1" y2="129.7" stroke="#F6B31E" stroke-width="0.6"/>
<line x1="40.1" y1="141.3" x2="42.1" y2="141.3" stroke="#F6B31E" stroke-width="0.6"/>
<path d="M39.3 133.8 L43 133.8 L41.1 137.2Z" stroke="#F6B31E" stroke-width="1" fill="#fff"/>
<line x1="50.1" y1="135.9" x2="50.1" y2="147.5" stroke="#F6B31E" stroke-width="0.7"/>
<line x1="49.1" y1="135.9" x2="51.1" y2="135.9" stroke="#F6B31E" stroke-width="0.6"/>
<line x1="49.1" y1="147.5" x2="51.1" y2="147.5" stroke="#F6B31E" stroke-width="0.6"/>
<path d="M48.3 140 L52 140 L50.1 143.4Z" stroke="#F6B31E" stroke-width="1" fill="#fff"/>
<line x1="59.1" y1="148.3" x2="59.1" y2="158.7" stroke="#F6B31E" stroke-width="0.7"/>
<line x1="58.1" y1="148.3" x2="60.1" y2="148.3" stroke="#F6B31E" stroke-width="0.6"/>
<line x1="58.1" y1="158.7" x2="60.1" y2="158.7" stroke="#F6B31E" stroke-width="0.6"/>
<path d="M57.2 151.8 L60.9 151.8 L59.1 155.2Z" stroke="#F6B31E" stroke-width="1" fill="#fff"/>
<line x1="68.1" y1="163.7" x2="68.1" y2="171.7" stroke="#F6B31E" stroke-width="0.7"/>
<line x1="67.1" y1="163.7" x2="69.1" y2="163.7" stroke="#F6B31E" stroke-width="0.6"/>
<line x1="67.1" y1="171.7" x2="69.1" y2="171.7" stroke="#F6B31E" stroke-width="0.6"/>
<path d="M66.2 166 L69.9 166 L68.1 169.4Z" stroke="#F6B31E" stroke-width="1" fill="#fff"/>
<line x1="77" y1="168.2" x2="77" y2="173.4" stroke="#F6B31E" stroke-width="0.7"/>
<line x1="76" y1="168.2" x2="78" y2="168.2" stroke="#F6B31E" stroke-width="0.6"/>
<line x1="76" y1="173.4" x2="78" y2="173.4" stroke="#F6B31E" stroke-width="0.6"/>
<path d="M75.2 169.1 L78.9 169.1 L77 172.5Z" stroke="#F6B31E" stroke-width="1" fill="#fff"/>
<line x1="86" y1="170.2" x2="86" y2="177.8" stroke="#F6B31E" stroke-width="0.7"/>
<line x1="85" y1="170.2" x2="87" y2="170.2" stroke="#F6B31E" stroke-width="0.6"/>
<line x1="85" y1="177.8" x2="87" y2="177.8" stroke="#F6B31E" stroke-width="0.6"/>
<path d="M84.2 172.3 L87.8 172.3 L86 175.7Z" stroke="#F6B31E" stroke-width="1" fill="#fff"/>
<line x1="95" y1="164" x2="95" y2="174" stroke="#F6B31E" stroke-width="0.7"/>
<line x1="94" y1="164" x2="96" y2="164" stroke="#F6B31E" stroke-width="0.6"/>
<line x1="94" y1="174" x2="96" y2="174" stroke="#F6B31E" stroke-width="0.6"/>
<path d="M93.1 167.3 L96.8 167.3 L95 170.7Z" stroke="#F6B31E" stroke-width="1" fill="#fff"/>
<line x1="103.9" y1="160.3" x2="103.9" y2="171.7" stroke="#F6B31E" stroke-width="0.7"/>
<line x1="102.9" y1="160.3" x2="104.9" y2="160.3" stroke="#F6B31E" stroke-width="0.6"/>
<line x1="102.9" y1="171.7" x2="104.9" y2="171.7" stroke="#F6B31E" stroke-width="0.6"/>
<path d="M102.1 164.3 L105.8 164.3 L103.9 167.7Z" stroke="#F6B31E" stroke-width="1" fill="#fff"/>
<line x1="112.9" y1="156.1" x2="112.9" y2="167.9" stroke="#F6B31E" stroke-width="0.7"/>
<line x1="111.9" y1="156.1" x2="113.9" y2="156.1" stroke="#F6B31E" stroke-width="0.6"/>
<line x1="111.9" y1="167.9" x2="113.9" y2="167.9" stroke="#F6B31E" stroke-width="0.6"/>
<path d="M111.1 160.3 L114.8 160.3 L112.9 163.7Z" stroke="#F6B31E" stroke-width="1" fill="#fff"/>
<line x1="121.9" y1="151.6" x2="121.9" y2="162.4" stroke="#F6B31E" stroke-width="0.7"/>
<line x1="120.9" y1="151.6" x2="122.9" y2="151.6" stroke="#F6B31E" stroke-width="0.6"/>
<line x1="120.9" y1="162.4" x2="122.9" y2="162.4" stroke="#F6B31E" stroke-width="0.6"/>
<path d="M120 155.3 L123.7 155.3 L121.9 158.7Z" stroke="#F6B31E" stroke-width="1" fill="#fff"/>
<line x1="130.8" y1="140.7" x2="130.8" y2="149.3" stroke="#F6B31E" stroke-width="0.7"/>
<line x1="129.8" y1="140.7" x2="131.8" y2="140.7" stroke="#F6B31E" stroke-width="0.6"/>
<line x1="129.8" y1="149.3" x2="131.8" y2="149.3" stroke="#F6B31E" stroke-width="0.6"/>
<path d="M129 143.3 L132.7 143.3 L130.8 146.7Z" stroke="#F6B31E" stroke-width="1" fill="#fff"/>
<line x1="139.8" y1="138" x2="139.8" y2="144" stroke="#F6B31E" stroke-width="0.7"/>
<line x1="138.8" y1="138" x2="140.8" y2="138" stroke="#F6B31E" stroke-width="0.6"/>
<line x1="138.8" y1="144" x2="140.8" y2="144" stroke="#F6B31E" stroke-width="0.6"/>
<path d="M138 139.3 L141.7 139.3 L139.8 142.7Z" stroke="#F6B31E" stroke-width="1" fill="#fff"/>
<text xml:space="preserve" x="34" y="118.4" font-size="8.5" text-anchor="middle" font-weight="normal" fill="#1e1e1e" class="k"><tspan>-60</tspan></text>
<text xml:space="preserve" x="52" y="118.4" font-size="8.5" text-anchor="middle" font-weight="normal" fill="#1e1e1e" class="k"><tspan>-40</tspan></text>
<text xml:space="preserve" x="70" y="118.4" font-size="8.5" text-anchor="middle" font-weight="normal" fill="#1e1e1e" class="k"><tspan>-20</tspan></text>
<text xml:space="preserve" x="104.3" y="118.4" font-size="8.5" text-anchor="middle" font-weight="normal" fill="#1e1e1e" class="k"><tspan>20</tspan></text>
<text xml:space="preserve" x="123" y="118.4" font-size="8.5" text-anchor="middle" font-weight="normal" fill="#1e1e1e" class="k"><tspan>40</tspan></text>
<text xml:space="preserve" x="140.5" y="118.4" font-size="8.5" text-anchor="middle" font-weight="normal" fill="#1e1e1e" class="k"><tspan>60</tspan></text>
<text xml:space="preserve" x="87.5" y="134.1" font-size="8.5" text-anchor="start" font-weight="normal" fill="#1e1e1e" class="k"><tspan>-0.2</tspan></text>
<text xml:space="preserve" x="87.5" y="146" font-size="8.5" text-anchor="start" font-weight="normal" fill="#1e1e1e" class="k"><tspan>-0.4</tspan></text>
<text xml:space="preserve" x="87.5" y="158.1" font-size="8.5" text-anchor="start" font-weight="normal" fill="#1e1e1e" class="k"><tspan>-0.6</tspan></text>
<text xml:space="preserve" x="87.5" y="170.1" font-size="8.5" text-anchor="start" font-weight="normal" fill="#1e1e1e" class="k"><tspan>-0.8</tspan></text>
<text xml:space="preserve" x="87.5" y="182.1" font-size="8.5" text-anchor="start" font-weight="normal" fill="#1e1e1e" class="k"><tspan>-1.0</tspan></text>
<text xml:space="preserve" x="90.6" y="196.6" font-size="8.6" text-anchor="end" font-weight="normal" fill="#1e1e1e" letter-spacing="0.1" class="k"><tspan>PbTx-3</tspan><tspan font-size="6.7" dy="0.3">o</tspan><tspan dy="-0.3">: I</tspan><tspan font-size="6.7" dy="0.3">peak</tspan></text>
<path d="M94 192 L99.2 192 L96.6 196.6Z" stroke="#F6B31E" stroke-width="1.2" fill="none"/>
<text xml:space="preserve" x="100.3" y="196.6" font-size="8.6" text-anchor="start" font-weight="normal" fill="#1e1e1e" letter-spacing="0.1" class="k"><tspan>,</tspan></text>
<text xml:space="preserve" x="104.2" y="196.6" font-size="8.6" text-anchor="start" font-weight="normal" fill="#1e1e1e" letter-spacing="0.1" class="k"><tspan>I</tspan><tspan font-size="6.7" dy="0.3">sus</tspan></text>
<rect x="121.9" y="192.3" width="4" height="4" stroke="#F6B31E" stroke-width="1.2" fill="none"/>
<text xml:space="preserve" x="90.6" y="207" font-size="8.6" text-anchor="end" font-weight="normal" fill="#1e1e1e" letter-spacing="0.1" class="k"><tspan>Ctr</tspan><tspan font-size="6.7" dy="0.3">o</tspan><tspan dy="-0.3">: I</tspan><tspan font-size="6.7" dy="0.3">peak</tspan></text>
<path d="M93.9 202.4 L99.1 202.4 L96.5 207Z" stroke="#1c1c1c" stroke-width="1.2" fill="none"/>
<text xml:space="preserve" x="100.3" y="207" font-size="8.6" text-anchor="start" font-weight="normal" fill="#1e1e1e" letter-spacing="0.1" class="k"><tspan>,</tspan></text>
<text xml:space="preserve" x="104.2" y="207" font-size="8.6" text-anchor="start" font-weight="normal" fill="#1e1e1e" letter-spacing="0.1" class="k"><tspan>I</tspan><tspan font-size="6.7" dy="0.3">sus</tspan></text>
<rect x="121.9" y="202.7" width="4" height="4" stroke="#1c1c1c" stroke-width="1.2" fill="none"/>
<text xml:space="preserve" x="229.5" y="34.7" font-size="9" text-anchor="middle" font-weight="bold" fill="#1e1e1e"><tspan>Brevenal</tspan><tspan font-size="7" dy="0.3">o</tspan></text>
<path d="M177 60.2 L191.4 60.2 L191.4 77.4" stroke="#2a2a2a" stroke-width="1.2" fill="none" stroke-linejoin="round"/>
<path d="M197.3 50 L198 89.7 L198.4 78.5 L198.8 69.8 L199.3 63.8 L199.7 59.7 L200.2 56.9 L200.6 54.9 L201.1 53.6 L201.5 52.8 L202 52.1 L202.4 51.6 L202.9 51 L203.3 50.6 L203.8 50.4 L204.2 50.5 L205.1 50.7 L206 50.7 L206.9 50.4 L207.8 50.3 L208.7 50.3 L209.6 50.1 L210.5 50.1 L211.4 50.1 L212.3 50.1 L213.2 50.3 L214.1 50.3 L215 50.2 L215.9 50 L216.8 50.2 L217.7 50.5 L218.6 50.5 L219.5 50.6 L220.4 50.6 L221.3 50.3 L222.2 50.2 L223.1 50.7 L224 50.8 L224.9 50.4 L225.8 50.4 L226.8 50.6 L227.7 50.8 L228.6 50.8 L229.5 50.5 L230.4 50.3 L231.3 50.4 L232.2 50.6 L233.1 50.2 L234 49.9 L234.9 50.1 L235.8 50.6 L236.7 50.7 L237.6 50.5 L238.5 50.4 L239.4 50.7 L240.3 50.8 L241.2 50.6 L242.1 50.7 L243 50.6 L243.9 50.4 L244.8 50.4 L245.7 50.3 L246.6 50.3 L247.5 50.4 L248.4 50.4 L249.3 50.6 L250.2 50.7 L251.1 50.4 L252 50.2 L252.9 50.3 L253.8 50.5 L254.7 50.6 L255.6 50.6 L256.5 50.6 L257.4 50.4 L258.3 50.2 L259.2 50.2 L260.1 50.4 L261 50.5 L261.9 50.4 L262.8 50.7 L263.6 50.4 L264.5 49.9 L265.4 50 L266.3 50.2 L267.2 50.7 L268.1 51 L269 50.6 L269.9 50.3" stroke="#1c1c1c" stroke-width="0.8" fill="none" stroke-linejoin="round"/>
<path d="M197.3 50 L198 87 L198.4 79.7 L198.8 73.3 L199.3 68.1 L199.7 64.2 L200.2 61.1 L200.6 58.8 L201.1 57 L201.5 55.4 L202 54.4 L202.4 53.7 L202.9 53 L203.3 52.6 L203.8 52.3 L204.2 51.9 L204.7 51.6 L205.1 51.5 L205.6 51.2 L206 50.7 L206.5 50.8 L206.9 50.7 L207.4 50.4 L208.3 50.1 L209.2 50 L210.1 50.1 L211 50.3 L211.9 50.3 L212.8 50.3 L213.7 50.6 L214.6 50.6 L215.5 50.3 L216.4 50.2 L217.3 50.1 L218.2 50 L219.1 50.2 L220 50.3 L220.9 50.2 L221.8 50.1 L222.7 50.1 L223.6 50.2 L224.5 50.5 L225.4 50.9 L226.3 50.7 L227.2 50.2 L228.1 49.9 L229 49.8 L229.9 50 L230.8 50.3 L231.7 50.3 L232.6 50.3 L233.5 50.3 L234.4 50.5 L235.3 50.6 L236.2 50.4 L237.1 50.2 L238 50.3 L238.9 50.4 L239.8 50.2 L240.7 49.9 L241.6 49.9 L242.5 50 L243.4 50.6 L244.3 50.9 L245.2 50.6 L246.1 50.5 L247 50.4 L247.9 50.2 L248.8 50.2 L249.7 50.3 L250.6 50.4 L251.5 50.5 L252.4 50.2 L253.3 50.3 L254.2 50.4 L255.1 50.3 L256 50.5 L256.9 50.6 L257.8 50.6 L258.7 50.6 L259.6 50.4 L260.5 50.2 L261.4 50.7 L262.3 51.1 L263.2 50.9 L264.1 50.6 L265 50.2 L265.9 50.2 L266.8 50.2 L267.7 50.3 L268.6 50.5 L269.5 50.3" stroke="#1c1c1c" stroke-width="0.8" fill="none" stroke-linejoin="round"/>
<path d="M197.3 50 L198 82 L198.4 77.3 L198.8 72.9 L199.3 69.3 L199.7 66.2 L200.2 63.6 L200.6 61.3 L201.1 59.5 L201.5 58.1 L202 56.8 L202.4 55.9 L202.9 55.1 L203.3 54.3 L203.8 53.7 L204.2 53.3 L204.7 52.8 L205.1 52.3 L205.6 52 L206 51.6 L206.5 51.3 L206.9 51.2 L207.4 51 L207.8 50.6 L208.3 50.4 L208.7 50.6 L209.2 51.2 L209.6 51.3 L210.1 51.1 L210.5 50.9 L211.4 50.6 L212.3 50.5 L213.2 50.4 L214.1 50.2 L215 50.1 L215.9 50.3 L216.8 50.3 L217.7 50.2 L218.6 50.4 L219.5 50.5 L220.4 50.6 L221.3 50.5 L222.2 50.4 L223.1 50.4 L224 50.3 L224.9 50.2 L225.8 50.3 L226.7 50.6 L227.6 50.7 L228.5 50.6 L229.4 50.2 L230.3 50.1 L231.2 50.3 L232.1 50.3 L233 50.3 L233.9 50.3 L234.8 50.5 L235.7 50.4 L236.6 50.3 L237.5 50.6 L238.4 50.7 L239.3 50.5 L240.2 50.4 L241.1 50.4 L242 50.5 L242.9 50.4 L243.8 50.2 L244.7 50.2 L245.6 50.2 L246.5 50.4 L247.4 50.5 L248.3 50.4 L249.2 49.9 L250.1 49.6 L251 49.9 L251.9 50.1 L252.8 50.4 L253.7 50.7 L254.6 50.5 L255.5 50.3 L256.4 50.3 L257.3 50.3 L258.2 50.2 L259.1 50.1 L260 50.3 L260.9 50.5 L261.8 50.6 L262.7 50.6 L263.6 50.5 L264.5 50.4 L265.4 50.4 L266.3 50.6 L267.2 50.6 L268.1 50.5 L269 50.2 L269.9 50.3" stroke="#1c1c1c" stroke-width="0.8" fill="none" stroke-linejoin="round"/>
<path d="M197.3 50 L198 75 L198.4 72.2 L198.8 69.4 L199.3 67 L199.7 64.8 L200.2 62.9 L200.6 61.4 L201.1 60 L201.5 58.7 L202 57.6 L202.4 56.6 L202.9 55.8 L203.3 55.1 L203.8 54.7 L204.2 54.5 L204.7 54.2 L205.1 53.5 L205.6 52.8 L206 52.1 L206.5 51.6 L206.9 51.6 L207.4 51.8 L207.8 51.9 L208.3 51.8 L208.7 51.5 L209.2 51.4 L209.6 51.4 L210.1 51.3 L210.5 50.8 L211 50.5 L211.4 50.7 L211.9 51.1 L212.3 51.2 L212.8 50.8 L213.2 50.5 L213.7 50.5 L214.1 50.6 L214.6 50.5 L215.5 50.5 L216.4 50.5 L217.3 50.5 L218.2 50.6 L219.1 50.5 L220 50.4 L220.9 50.3 L221.8 50.4 L222.7 50.5 L223.6 50.5 L224.5 50.4 L225.4 50.2 L226.3 50.2 L227.2 50.3 L228.1 50.3 L229 50.5 L229.9 50.4 L230.8 50 L231.7 50 L232.6 50.1 L233.5 50.1 L234.4 50.2 L235.3 50.4 L236.2 50.5 L237.1 50.4 L238 50.4 L238.9 50.3 L239.8 50.3 L240.7 50.4 L241.6 50.5 L242.5 50.4 L243.4 50.2 L244.3 50.2 L245.2 50.4 L246.1 50.5 L247 50.3 L247.9 50.3 L248.8 50.7 L249.7 50.9 L250.6 50.6 L251.5 50.5 L252.4 50.3 L253.3 49.9 L254.2 50.1 L255.1 50.4 L256 50.6 L256.9 50.4 L257.8 50.2 L258.7 50.3 L259.6 50.4 L260.5 50.3 L261.4 50.2 L262.3 50.1 L263.2 50.3 L264.1 50.7 L265 50.9 L265.9 50.8 L266.8 50.6 L267.7 50.8 L268.6 50.9 L269.5 50.9" stroke="#1c1c1c" stroke-width="0.8" fill="none" stroke-linejoin="round"/>
<path d="M202 50.3 L202.9 50.1 L203.8 49.3 L204.7 48.9 L205.6 48.9 L206.5 49.1 L207.4 49.7 L208.3 49.7 L209.2 49.5 L210.1 50.2 L211 50.7 L211.9 50.7 L212.8 51.3 L213.7 51 L214.6 50.2 L215.5 50.4 L216.4 50.6 L217.3 50.6 L218.2 50.4 L219.1 49.9 L220 49.5 L220.9 49.4 L221.8 49.6 L222.7 49.6 L223.6 49.2 L224.5 49.4 L225.4 50.1 L226.3 50.3 L227.2 49.8 L228.1 49.2 L229 49.2 L229.9 49.7 L230.8 49.9 L231.7 50.1 L232.6 50.4 L233.5 50.3 L234.4 50.1 L235.3 50.3 L236.2 50.3 L237.1 50.3 L238 50.6 L238.9 50.6 L239.8 50.3 L240.7 50.3 L241.6 50.6 L242.5 50.9 L243.4 50.8 L244.3 50.7 L245.2 50.6 L246.1 50.6 L247 50.7 L247.9 49.9 L248.8 49.5 L249.7 50.3 L250.6 50.2 L251.5 49.6 L252.4 49.6 L253.3 50.1 L254.2 50.9 L255.1 50.4 L256 49.6 L256.9 49.9 L257.8 50.5 L258.7 50.6 L259.6 49.6 L260.5 48.9 L261.4 49.6 L262.3 49.9 L263.2 49.4 L264.1 49.2 L265 50.2 L265.9 50.5 L266.8 49.9 L267.7 50.1 L268.6 50.6 L269.5 51.1 L270.4 50.8 L271.3 50.4 L272.2 50.7 L273.1 50.4 L274 50.1 L274.9 50.2 L275.8 49.6 L276.7 49.6 L277.6 50.5 L278.5 50.3 L279.4 49.8 L280.3 49.8" stroke="#1c1c1c" stroke-width="1.1" fill="none" stroke-linejoin="round"/>
<path d="M202 50.3 L202.9 50.5 L203.8 50.2 L204.7 50.3 L205.6 50.2 L206.5 49.8 L207.4 49.8 L208.3 50 L209.2 50.5 L210.1 50.5 L211 49.9 L211.9 49.5 L212.8 49.7 L213.7 49.9 L214.6 50.2 L215.5 50 L216.4 49.9 L217.3 50.5 L218.2 50.5 L219.1 50.3 L220 50.4 L220.9 50.2 L221.8 49.9 L222.7 49.9 L223.6 49.7 L224.5 49.7 L225.4 50.3 L226.3 51.1 L227.2 51 L228.1 50.7 L229 50.7 L229.9 50.5 L230.8 50.5 L231.7 50.6 L232.6 51 L233.5 51.3 L234.4 50.5 L235.3 49.9 L236.2 50.3 L237.1 50.1 L238 49.2 L238.9 48.9 L239.8 50.1 L240.7 50.9 L241.6 50.8 L242.5 51.1 L243.4 51 L244.3 50.7 L245.2 50.3 L246.1 49.9 L247 50 L247.9 50.6 L248.8 50.2 L249.7 49.7 L250.6 49.9 L251.5 49.9 L252.4 49.8 L253.3 50 L254.2 49.7 L255.1 49.1 L256 49.7 L256.9 50.3 L257.8 49.9 L258.7 50 L259.6 50.6 L260.5 50.2 L261.4 49.6 L262.3 49.7 L263.2 50.3 L264.1 50.3 L265 49.7 L265.9 49.7 L266.8 50.5 L267.7 50.9 L268.6 50.4 L269.5 50 L270.4 50.2 L271.3 50.4 L272.2 50.2 L273.1 49.8 L274 49.8 L274.9 49.8 L275.8 49.6 L276.7 50 L277.6 50.1 L278.5 50 L279.4 49.9 L280.3 49.6" stroke="#1c1c1c" stroke-width="1.1" fill="none" stroke-linejoin="round"/>
<path d="M185 48.8 L185.9 48.5 L186.8 49.4 L187.7 50.3 L188.6 50.8 L189.5 50.1 L190.4 49.4 L191.3 49.5 L192.2 48.9 L193.1 49.2 L194 50.5 L194.9 50.5 L195.8 50.1 L196.6 49.5 L197.2 60 L197.6 58.6 L198 57.4 L198.5 56.6 L198.9 55.9 L199.4 55.2 L199.8 54.5 L200.3 53.9 L200.7 53.6 L201.2 53.7 L201.6 53.6 L202.1 53.2 L202.5 53.2 L203 53.2 L203.4 53.1 L203.9 52.6 L204.3 52.1 L204.8 52.7 L205.2 53.3 L205.7 52.4 L206.1 52.2 L206.6 52.7 L207 52.9 L207.5 52.2 L207.9 51.6 L208.4 51.6 L209.3 51.4 L210.2 51.5 L211.1 52 L212 52.2 L212.9 53.1 L213.8 53.9 L214.7 53.3 L215.6 52.3 L216.5 51.6 L217.4 51.2 L218.3 51.2 L219.2 51.2 L220.1 51.2 L221 51.4 L221.9 51.5 L222.8 51.1 L223.7 50.8 L224.6 51.1 L225.5 51.9 L226.4 52.4 L227.3 52.8 L228.2 52.7 L229.1 52.2 L230 51.9 L230.9 52 L231.8 53 L232.7 53.1 L233.6 51.9 L234.5 51.5 L235.4 51.5 L236.3 51 L237.2 51.4 L238.1 52.2 L239 52.1 L239.9 52 L240.8 52.1 L241.7 51.8 L242.6 51.8 L243.5 51.6 L244.4 51.6 L245.3 51.8 L246.2 52.1 L247.1 52.5 L248 52.7 L248.9 52.6 L249.8 52.1 L250.7 51.7 L251.6 51.2 L252.5 51.1 L253.4 51.9 L254.3 52.1 L255.2 51.8 L256.1 52.1 L257 51.9 L257.9 52 L258.8 52.4 L259.7 51.9 L260.5 48.5 L261.4 48.1 L262.3 48.6 L263.2 49.4 L264.1 49.2 L265 48.7 L265.9 49.4 L266.8 50 L267.7 49.6 L268.6 49.5 L269.5 50.1 L270.4 50.1 L271.3 49.5 L272.2 48.8 L273.1 48.3 L274 48.5 L274.9 48.9 L275.8 49.4 L276.7 49.8 L277.6 49.9 L278.5 49.8 L279.4 49.4 L280.3 48.6 L281.2 48.1" stroke="#4654B9" stroke-width="0.9" fill="none" stroke-linejoin="round"/>
<path d="M185 48.6 L185.9 48.6 L186.8 49.2 L187.7 49.4 L188.6 49.3 L189.5 49.5 L190.4 49.3 L191.3 49 L192.2 49.7 L193.1 50.3 L194 49.9 L194.9 50.2 L195.8 50.8 L196.6 49.5 L197.2 65 L197.6 63.1 L198 61.4 L198.5 60.1 L198.9 58.9 L199.4 58 L199.8 57.3 L200.3 56.4 L200.7 55.8 L201.2 55.8 L201.6 55.8 L202.1 55.3 L202.5 54.8 L203 54.9 L203.4 55.3 L203.9 55 L204.3 54.1 L204.8 53.9 L205.2 53.6 L205.7 53 L206.1 53.5 L206.6 54.2 L207 53.8 L207.5 53.7 L207.9 54.4 L208.4 54.8 L209.3 54.4 L210.2 53.7 L211.1 53.9 L212 54.1 L212.9 53.6 L213.8 53.5 L214.7 54.4 L215.6 54.5 L216.5 53 L217.4 51.9 L218.3 52.2 L219.2 52.9 L220.1 53.6 L221 54 L221.9 53.7 L222.8 53.5 L223.7 53.5 L224.6 53.4 L225.5 53.4 L226.4 54.1 L227.3 55.1 L228.2 54.6 L229.1 53.4 L230 53 L230.9 53 L231.8 52.7 L232.7 52.9 L233.6 53.5 L234.5 53.9 L235.4 53.6 L236.3 53 L237.2 52.7 L238.1 52.9 L239 53.4 L239.9 54 L240.8 54.1 L241.7 54 L242.6 54.2 L243.5 54.2 L244.4 53.4 L245.3 52.5 L246.2 52.9 L247.1 54.2 L248 54.7 L248.9 54.4 L249.8 54.1 L250.7 53.7 L251.6 53.4 L252.5 53.6 L253.4 54.2 L254.3 54.1 L255.2 53.7 L256.1 53.7 L257 54.1 L257.9 53.9 L258.8 53.9 L259.7 54.5 L260.5 49.8 L261.4 49.5 L262.3 49 L263.2 48.4 L264.1 48.6 L265 49.1 L265.9 49 L266.8 49.2 L267.7 49 L268.6 48.8 L269.5 49.2 L270.4 49.7 L271.3 50.3 L272.2 50.6 L273.1 50.3 L274 49.9 L274.9 49.6 L275.8 49.7 L276.7 49.6 L277.6 49.3 L278.5 49.3 L279.4 49.5 L280.3 49.7 L281.2 49.6" stroke="#4654B9" stroke-width="0.9" fill="none" stroke-linejoin="round"/>
<path d="M185 49.2 L185.9 49.4 L186.8 48.4 L187.7 48.7 L188.6 49.3 L189.5 49.5 L190.4 49.7 L191.3 49.2 L192.2 49.9 L193.1 50.8 L194 50.3 L194.9 49.7 L195.8 49.4 L196.6 49.5 L197.2 70 L197.6 67.6 L198 65.3 L198.5 63.5 L198.9 62 L199.4 60.8 L199.8 60 L200.3 59.2 L200.7 58.1 L201.2 57.6 L201.6 57.1 L202.1 56.8 L202.5 56.6 L203 56.6 L203.4 56.6 L203.9 56.4 L204.3 56.4 L204.8 56.5 L205.2 56.2 L205.7 55.7 L206.1 55.2 L206.6 55.3 L207 56 L207.5 56.8 L207.9 57.3 L208.4 56.9 L209.3 56 L210.2 55.7 L211.1 55.8 L212 56 L212.9 56.5 L213.8 56.2 L214.7 55.3 L215.6 55.4 L216.5 56.2 L217.4 56 L218.3 55.8 L219.2 56 L220.1 55.6 L221 55.3 L221.9 54.8 L222.8 54.8 L223.7 55.3 L224.6 55.1 L225.5 54.9 L226.4 55.3 L227.3 55.8 L228.2 55.7 L229.1 55.2 L230 54.8 L230.9 54.8 L231.8 54.9 L232.7 55.5 L233.6 55.8 L234.5 56.2 L235.4 56.7 L236.3 56.5 L237.2 56 L238.1 55.8 L239 55.8 L239.9 56.3 L240.8 56 L241.7 55.5 L242.6 55.9 L243.5 56.3 L244.4 56.3 L245.3 55.8 L246.2 54.8 L247.1 55.2 L248 56.3 L248.9 55.8 L249.8 55.1 L250.7 55.3 L251.6 55.1 L252.5 54.1 L253.4 53.7 L254.3 54.3 L255.2 55.3 L256.1 55.6 L257 55.5 L257.9 55.8 L258.8 55.5 L259.7 54.7 L260.5 49.2 L261.4 49 L262.3 48.6 L263.2 49.4 L264.1 50.1 L265 49.1 L265.9 48.5 L266.8 49.4 L267.7 50 L268.6 49.6 L269.5 49.3 L270.4 49.5 L271.3 49.1 L272.2 48.6 L273.1 48.9 L274 49.5 L274.9 50 L275.8 50 L276.7 49.9 L277.6 50 L278.5 50 L279.4 49.6 L280.3 48.7 L281.2 48.6" stroke="#4654B9" stroke-width="0.9" fill="none" stroke-linejoin="round"/>
<path d="M185 49.1 L185.9 49.5 L186.8 49.5 L187.7 48.8 L188.6 49.9 L189.5 50.8 L190.4 50.1 L191.3 49.7 L192.2 50.3 L193.1 50.3 L194 49.4 L194.9 49.2 L195.8 49.6 L196.6 49.5 L197.2 76 L197.6 72.9 L198 70 L198.5 67.6 L198.9 65.7 L199.4 64.1 L199.8 62.9 L200.3 62.2 L200.7 61.1 L201.2 60.2 L201.6 59.9 L202.1 59.4 L202.5 59.1 L203 58.9 L203.4 58.6 L203.9 58.3 L204.3 57.9 L204.8 58.4 L205.2 58.3 L205.7 57.2 L206.1 57.3 L206.6 57.6 L207 56.9 L207.5 57.2 L207.9 58.2 L208.4 58.4 L209.3 58.5 L210.2 58.2 L211.1 57.7 L212 57.8 L212.9 58.1 L213.8 58.2 L214.7 57.9 L215.6 57.6 L216.5 57.8 L217.4 58.3 L218.3 57.9 L219.2 57 L220.1 56.9 L221 57.3 L221.9 57.1 L222.8 56.8 L223.7 56.8 L224.6 57.1 L225.5 57.8 L226.4 58 L227.3 58.1 L228.2 58.4 L229.1 58.6 L230 59.2 L230.9 58.8 L231.8 57.8 L232.7 56.6 L233.6 55.9 L234.5 56.7 L235.4 57.9 L236.3 58 L237.2 57.7 L238.1 57.9 L239 57.9 L239.9 57.1 L240.8 56.4 L241.7 56.8 L242.6 57.4 L243.5 57.7 L244.4 57.3 L245.3 57.1 L246.2 57.7 L247.1 58.1 L248 58.1 L248.9 58.3 L249.8 58.2 L250.7 57.3 L251.6 56.4 L252.5 56.7 L253.4 57.9 L254.3 58.1 L255.2 57.5 L256.1 57.2 L257 57.3 L257.9 57.3 L258.8 57.1 L259.7 57.5 L260.5 49 L261.4 49.9 L262.3 50 L263.2 49.6 L264.1 49.4 L265 49.1 L265.9 49.2 L266.8 49.9 L267.7 50.6 L268.6 50.6 L269.5 49.7 L270.4 49.5 L271.3 49.8 L272.2 49.3 L273.1 48.5 L274 48.7 L274.9 49.4 L275.8 49.7 L276.7 49.8 L277.6 50.2 L278.5 50.3 L279.4 49.9 L280.3 49.5 L281.2 49.5" stroke="#4654B9" stroke-width="0.9" fill="none" stroke-linejoin="round"/>
<path d="M185 49.1 L185.9 48.5 L186.8 48.9 L187.7 49.7 L188.6 50.3 L189.5 50.4 L190.4 50.1 L191.3 50.2 L192.2 50.6 L193.1 50.1 L194 49.4 L194.9 49.3 L195.8 49.3 L196.6 49.5 L197.2 82 L197.6 78.3 L198 74.7 L198.5 71.8 L198.9 69.4 L199.4 67.5 L199.8 66.1 L200.3 65 L200.7 64.3 L201.2 63.4 L201.6 62.5 L202.1 61.4 L202.5 60.6 L203 60.3 L203.4 60.3 L203.9 60.5 L204.3 60.7 L204.8 60.9 L205.2 60.7 L205.7 60.3 L206.1 60 L206.6 59.8 L207 60 L207.5 59.8 L207.9 59.4 L208.4 60 L209.3 60.6 L210.2 59.8 L211.1 58.9 L212 58.5 L212.9 58.6 L213.8 59.4 L214.7 59.6 L215.6 59.8 L216.5 60.8 L217.4 60.6 L218.3 59.6 L219.2 59.6 L220.1 59.8 L221 59.7 L221.9 59.5 L222.8 59.7 L223.7 60.1 L224.6 60 L225.5 59.8 L226.4 60.1 L227.3 60 L228.2 59.7 L229.1 59.9 L230 60.2 L230.9 59.8 L231.8 59.1 L232.7 58.7 L233.6 58.6 L234.5 58.6 L235.4 59.1 L236.3 58.9 L237.2 58.3 L238.1 58.9 L239 59.6 L239.9 59.2 L240.8 59.1 L241.7 59.4 L242.6 58.9 L243.5 58.2 L244.4 58.4 L245.3 59.2 L246.2 60 L247.1 60 L248 59.3 L248.9 58.5 L249.8 58.4 L250.7 58.6 L251.6 58.5 L252.5 58.3 L253.4 59 L254.3 59.5 L255.2 59.4 L256.1 59.2 L257 58.5 L257.9 58.1 L258.8 58.8 L259.7 59.9 L260.5 50.3 L261.4 50 L262.3 49.6 L263.2 49.6 L264.1 49.1 L265 48.5 L265.9 48.6 L266.8 49.3 L267.7 49.5 L268.6 49.4 L269.5 49.6 L270.4 50 L271.3 49.5 L272.2 49.4 L273.1 50.3 L274 50.6 L274.9 49.6 L275.8 48.6 L276.7 48.9 L277.6 49.7 L278.5 50 L279.4 49.9 L280.3 49.4 L281.2 49.3" stroke="#4654B9" stroke-width="0.9" fill="none" stroke-linejoin="round"/>
<path d="M185 48.9 L185.9 48.3 L186.8 48.4 L187.7 48.6 L188.6 49 L189.5 49.9 L190.4 50.2 L191.3 49.5 L192.2 48.9 L193.1 48.9 L194 49.3 L194.9 49.9 L195.8 49.9 L196.7 49.5 L197.6 48.8 L198.5 48.2 L199.4 48.3" stroke="#4654B9" stroke-width="1.1" fill="none" stroke-linejoin="round"/>
<path d="M185 49.3 L185.9 49.7 L186.8 49 L187.7 48.6 L188.6 48.8 L189.5 48.8 L190.4 49.1 L191.3 49.8 L192.2 49.8 L193.1 48.9 L194 48.9 L194.9 49.3 L195.8 49.2 L196.7 49.1 L197.6 49.3 L198.5 49.6 L199.4 49.3" stroke="#4654B9" stroke-width="1.1" fill="none" stroke-linejoin="round"/>
<path d="M185 49.7 L185.9 49.6 L186.8 49.4 L187.7 49.1 L188.6 48.7 L189.5 48.5 L190.4 48.7 L191.3 49 L192.2 48.8 L193.1 48.7 L194 49.3 L194.9 49.2 L195.8 49 L196.7 49.7 L197.6 49.7 L198.5 49.5 L199.4 49.8" stroke="#4654B9" stroke-width="1.1" fill="none" stroke-linejoin="round"/>
<path d="M258 49.3 L258.9 49.5 L259.8 49.1 L260.7 49.2 L261.6 50.1 L262.5 50.3 L263.4 49.5 L264.3 49.3 L265.2 49.7 L266.1 49.3 L267 49 L267.9 49.3 L268.8 49.6 L269.7 49.9 L270.6 50.2 L271.5 50.2 L272.4 49.9 L273.3 49.4 L274.2 49 L275.1 49.1 L276 49.4 L276.9 49.3 L277.8 49.2 L278.7 49.4 L279.6 50.4 L280.5 50.6 L281.4 49.8" stroke="#4654B9" stroke-width="1.1" fill="none" stroke-linejoin="round"/>
<path d="M258 49.5 L258.9 49.3 L259.8 49.2 L260.7 49.1 L261.6 49.3 L262.5 49.4 L263.4 49.5 L264.3 49.8 L265.2 49.9 L266.1 49.9 L267 49.6 L267.9 49.4 L268.8 49.4 L269.7 49.5 L270.6 49.5 L271.5 49.7 L272.4 49.4 L273.3 48.8 L274.2 48.8 L275.1 49.1 L276 49.2 L276.9 48.6 L277.8 48.2 L278.7 48.8 L279.6 49.5 L280.5 49.2 L281.4 49" stroke="#4654B9" stroke-width="1.1" fill="none" stroke-linejoin="round"/>
<path d="M258 49.7 L258.9 49.7 L259.8 49.4 L260.7 49.2 L261.6 49.3 L262.5 49.9 L263.4 50.4 L264.3 50 L265.2 49.4 L266.1 49 L267 49.3 L267.9 49.6 L268.8 49 L269.7 48.7 L270.6 49.1 L271.5 49.6 L272.4 49.6 L273.3 48.9 L274.2 49.2 L275.1 49.5 L276 48.9 L276.9 49 L277.8 49.8 L278.7 50 L279.6 49 L280.5 48.7 L281.4 49.8" stroke="#4654B9" stroke-width="1.1" fill="none" stroke-linejoin="round"/>
<line x1="196.6" y1="44.5" x2="196.6" y2="50" stroke="#4654B9" stroke-width="1.1"/>
<path d="M215.6 66.5 L216.5 66.5 L217.4 66.2 L218.3 65.7 L219.2 66 L220.1 66.9 L221 66.5 L221.9 65.1 L222.8 65.5 L223.7 66.5 L223.8 66 L224.4 76 L224.8 74 L225.2 72.4 L225.7 71.2 L226.1 70.3 L226.6 69.7 L227 69.1 L227.5 68.8 L227.9 69 L228.4 69.3 L228.8 69 L229.3 68.6 L229.7 68.7 L230.2 68.9 L230.6 69 L231.1 69.2 L231.5 69.6 L232.4 69.3 L233.3 68.4 L234.2 68.2 L235.1 68.7 L236 68.6 L236.9 67.9 L237.8 67 L238.7 67 L239.6 68.1 L240.5 68.8 L241.4 68.5 L242.3 68 L243.2 68.3 L244.1 68.3 L245 68.4 L245.9 68.3 L246.8 67.8 L247.7 67.2 L248.6 66.8 L249.5 66.8 L250.4 67.2 L251.3 68 L252.2 68.6 L253.1 68.7 L254 68.4 L254.9 68.1 L255.8 68.1 L256.8 68.2 L257.6 68.5 L258.5 68.3 L259.4 67.8 L260.3 68 L261.2 68.2 L262.1 68.3 L263 69 L263.9 69.1 L264.8 68.4 L265 64.9 L265.9 65.8 L266.8 66.2 L267.7 65.7 L268.6 65.4 L269.5 65.6 L270.4 65.8 L271.3 65.4 L272.2 66 L273.1 66.9 L274 66.6 L274.9 66.2 L275.8 65.8 L276.7 65.4 L277.6 65.8 L278.5 65.9 L279.4 65.7 L280.3 66.2" stroke="#4654B9" stroke-width="0.9" fill="none" stroke-linejoin="round"/>
<path d="M215.6 65.2 L216.5 66.3 L217.4 66.7 L218.3 66.3 L219.2 65.5 L220.1 65.2 L221 65.8 L221.9 65.9 L222.8 65.6 L223.7 66 L223.8 66 L224.4 80 L224.8 77.4 L225.2 75.3 L225.7 73.7 L226.1 72.4 L226.6 71.6 L227 71.3 L227.5 70.9 L227.9 70.3 L228.4 69.6 L228.8 69.5 L229.3 69.6 L229.7 69.1 L230.2 68.8 L230.6 69.5 L231.1 70.2 L231.5 70.4 L232.4 70.3 L233.3 69.8 L234.2 69.1 L235.1 68.7 L236 69.3 L236.9 70.2 L237.8 70.3 L238.7 70.2 L239.6 70.1 L240.5 69.7 L241.4 69.5 L242.3 69.8 L243.2 70.1 L244.1 70.1 L245 70 L245.9 69.6 L246.8 69.2 L247.7 69.1 L248.6 69.3 L249.5 69.4 L250.4 68.8 L251.3 69.6 L252.2 70.6 L253.1 69.7 L254 69 L254.9 69.6 L255.8 70.2 L256.8 70 L257.6 69.9 L258.5 69.7 L259.4 70.2 L260.3 71 L261.2 70.3 L262.1 69.2 L263 69.3 L263.9 69.8 L264.8 70.1 L265 65.9 L265.9 65.4 L266.8 65.1 L267.7 65.2 L268.6 65.5 L269.5 65.5 L270.4 65.3 L271.3 65.7 L272.2 65.8 L273.1 65.3 L274 65.2 L274.9 65.7 L275.8 65.6 L276.7 64.9 L277.6 64.8 L278.5 65 L279.4 65.6 L280.3 66.2" stroke="#4654B9" stroke-width="0.9" fill="none" stroke-linejoin="round"/>
<path d="M215.6 67.2 L216.5 66.4 L217.4 65.4 L218.3 65.4 L219.2 66.2 L220.1 66.1 L221 65.9 L221.9 65.8 L222.8 65.7 L223.7 66.1 L223.8 66 L224.4 84 L224.8 80.8 L225.2 78.2 L225.7 76.5 L226.1 75.1 L226.6 74.1 L227 72.9 L227.5 71.8 L227.9 71.9 L228.4 71.9 L228.8 71.5 L229.3 71 L229.7 70.5 L230.2 70.9 L230.6 71.8 L231.1 71.9 L231.5 71 L232.4 70.9 L233.3 71.4 L234.2 71.5 L235.1 71.9 L236 71.4 L236.9 70.9 L237.8 71.8 L238.7 71.8 L239.6 71.2 L240.5 71.4 L241.4 71.7 L242.3 71.7 L243.2 70.9 L244.1 70.4 L245 71.2 L245.9 72.2 L246.8 72.7 L247.7 72.6 L248.6 71.8 L249.5 71 L250.4 70.7 L251.3 70.6 L252.2 70.6 L253.1 70.2 L254 69.9 L254.9 70.6 L255.8 71.7 L256.8 72.5 L257.6 72 L258.5 71.2 L259.4 71 L260.3 70.5 L261.2 70.1 L262.1 70.4 L263 71.5 L263.9 71.4 L264.8 70.7 L265 65.5 L265.9 65.5 L266.8 66.1 L267.7 66.3 L268.6 65.6 L269.5 65.5 L270.4 66.1 L271.3 66.1 L272.2 66.4 L273.1 66.6 L274 66.9 L274.9 67.2 L275.8 66.9 L276.7 66.3 L277.6 65.6 L278.5 65.6 L279.4 66.5 L280.3 67.2" stroke="#4654B9" stroke-width="0.9" fill="none" stroke-linejoin="round"/>
<path d="M215.6 66.5 L216.5 66.2 L217.4 65.7 L218.3 65.7 L219.2 66 L220.1 65.8 L221 65.6 L221.9 65.7 L222.8 65.9 L223.7 66 L223.8 66 L224.4 88 L224.8 84.2 L225.2 81 L225.7 78.6 L226.1 76.7 L226.6 75.8 L227 75.1 L227.5 74.2 L227.9 73.9 L228.4 73.2 L228.8 72.8 L229.3 72.9 L229.7 73.4 L230.2 73.6 L230.6 73 L231.1 73.1 L231.5 73.1 L232.4 71.7 L233.3 71.7 L234.2 72.6 L235.1 72.8 L236 73.1 L236.9 73.4 L237.8 72.6 L238.7 71.5 L239.6 71.3 L240.5 72 L241.4 72.5 L242.3 72.8 L243.2 72.7 L244.1 72.6 L245 73.6 L245.9 73.9 L246.8 73.2 L247.7 72.3 L248.6 72.2 L249.5 72.3 L250.4 72.2 L251.3 72.3 L252.2 72.8 L253.1 73.1 L254 72.9 L254.9 73 L255.8 73.3 L256.8 72.5 L257.6 71.4 L258.5 71.8 L259.4 72.9 L260.3 73.2 L261.2 72.8 L262.1 72.4 L263 72.6 L263.9 72.9 L264.8 72.6 L265 65.2 L265.9 65.7 L266.8 65.9 L267.7 66.1 L268.6 66.6 L269.5 66.9 L270.4 66.7 L271.3 65.9 L272.2 65.5 L273.1 65.7 L274 66.6 L274.9 66.9 L275.8 66.7 L276.7 65.7 L277.6 65.3 L278.5 66.3 L279.4 66.4 L280.3 66.1" stroke="#4654B9" stroke-width="0.9" fill="none" stroke-linejoin="round"/>
<path d="M215.6 66 L216.5 65.9 L217.4 66.1 L218.3 66.9 L219.2 66.8 L220.1 65.6 L221 65.1 L221.9 65.8 L222.8 66.3 L223.7 65.8 L223.8 66 L224.4 92 L224.8 87.8 L225.2 84.3 L225.7 81.6 L226.1 79.8 L226.6 78.5 L227 77.3 L227.5 76.9 L227.9 77 L228.4 76.6 L228.8 75.9 L229.3 75.3 L229.7 74.7 L230.2 74.3 L230.6 74.9 L231.1 76 L231.5 76.5 L232.4 76.1 L233.3 75.5 L234.2 74.9 L235.1 74.5 L236 74.7 L236.9 74.9 L237.8 74.8 L238.7 74.8 L239.6 74.1 L240.5 73.5 L241.4 73.5 L242.3 73.4 L243.2 74 L244.1 75 L245 75 L245.9 75.1 L246.8 75.7 L247.7 75.6 L248.6 75.2 L249.5 75.4 L250.4 75.3 L251.3 75 L252.2 74.7 L253.1 74 L254 74.1 L254.9 74.7 L255.8 75 L256.8 74.7 L257.6 74.9 L258.5 75.6 L259.4 75.9 L260.3 75.8 L261.2 75.5 L262.1 74.8 L263 74.6 L263.9 74.8 L264.8 74.6 L265 66.4 L265.9 67 L266.8 66.8 L267.7 66.5 L268.6 66 L269.5 65.5 L270.4 65.5 L271.3 66.2 L272.2 66.6 L273.1 66.3 L274 66.3 L274.9 65.9 L275.8 65.8 L276.7 66.5 L277.6 66.6 L278.5 65.9 L279.4 65.4 L280.3 65.5" stroke="#4654B9" stroke-width="0.9" fill="none" stroke-linejoin="round"/>
<path d="M215.6 65.4 L216.5 65.3 L217.4 65.5 L218.3 66.1 L219.2 66.2 L220.1 66 L221 65.7 L221.9 65.9 L222.8 66.2 L223.7 65.5" stroke="#4654B9" stroke-width="1.1" fill="none" stroke-linejoin="round"/>
<path d="M215.6 66.1 L216.5 66 L217.4 66.1 L218.3 66.2 L219.2 66.8 L220.1 66.8 L221 66 L221.9 65.6 L222.8 65.6 L223.7 66.2" stroke="#4654B9" stroke-width="1.1" fill="none" stroke-linejoin="round"/>
<path d="M215.6 64.9 L216.5 65.5 L217.4 66.5 L218.3 66.5 L219.2 66 L220.1 66 L221 65.9 L221.9 65.3 L222.8 66 L223.7 66.9" stroke="#4654B9" stroke-width="1.1" fill="none" stroke-linejoin="round"/>
<path d="M262 66 L262.9 66.5 L263.8 66.4 L264.7 66.1 L265.6 66 L266.5 66.1 L267.4 66.4 L268.3 66.8 L269.2 66.6 L270.1 65.5 L271 65 L271.9 65.9 L272.8 66.3 L273.7 65.3 L274.6 64.7 L275.5 65.3 L276.4 65.9 L277.3 65.6 L278.2 65.6 L279.1 66.3 L280 66.6 L280.9 66.2" stroke="#4654B9" stroke-width="1.1" fill="none" stroke-linejoin="round"/>
<path d="M262 65.9 L262.9 65.2 L263.8 65.5 L264.7 65.9 L265.6 66 L266.5 66.3 L267.4 66.4 L268.3 66.4 L269.2 66.5 L270.1 66.2 L271 65.7 L271.9 66.2 L272.8 66.7 L273.7 65.9 L274.6 65.8 L275.5 66.3 L276.4 66 L277.3 65.3 L278.2 65.4 L279.1 66.2 L280 66.9 L280.9 66.9" stroke="#4654B9" stroke-width="1.1" fill="none" stroke-linejoin="round"/>
<path d="M262 65.8 L262.9 66.1 L263.8 66.6 L264.7 66.4 L265.6 66.1 L266.5 66.2 L267.4 65.8 L268.3 65.4 L269.2 65.4 L270.1 65.3 L271 65.7 L271.9 66.1 L272.8 66.1 L273.7 66.1 L274.6 66 L275.5 65.6 L276.4 65.4 L277.3 65.5 L278.2 65.5 L279.1 65.6 L280 65.9 L280.9 65.7" stroke="#4654B9" stroke-width="1.1" fill="none" stroke-linejoin="round"/>
<line x1="227.5" y1="66" x2="262" y2="66" stroke="#b4b4b4" stroke-width="0.9" stroke-dasharray="2.4,1.8"/>
<line x1="223.8" y1="62" x2="223.8" y2="66" stroke="#4654B9" stroke-width="1.1"/>
<line x1="166" y1="120.6" x2="292" y2="120.6" stroke="#2a2a2a" stroke-width="1"/>
<line x1="229.3" y1="117" x2="229.3" y2="184" stroke="#2a2a2a" stroke-width="1"/>
<path d="M166 120.6 L167.5 120.6 L169 120.6 L170.5 120.6 L172 120.6 L173.5 120.6 L175 120.6 L176.5 120.6 L178 120.6 L179.5 120.6 L181 120.6 L182.5 120.6 L184.1 120.6 L185.6 120.6 L187.1 120.6 L188.6 120.6 L190.1 120.6 L191.6 120.6 L193.1 120.6 L194.6 120.6 L196.1 120.6 L197.6 120.6 L199.1 120.6 L200.6 120.6 L202.2 120.6 L203.7 120.6 L205.2 120.6 L206.7 120.6 L208.2 120.6 L209.7 120.6 L211.2 120.6 L212.7 120.6 L214.2 120.6 L215.7 120.6 L217.2 120.6 L218.7 120.6 L220.2 120.6 L221.8 120.6 L223.3 120.6 L224.8 120.6 L226.3 120.6 L227.8 120.6 L229.3 120.6 L230.8 120.6 L232.3 120.6 L233.8 120.6 L235.3 120.6 L236.8 120.6 L238.4 120.6 L239.9 120.6 L241.4 120.6 L242.9 120.6 L244.4 120.6 L245.9 120.6 L247.4 120.6 L248.9 120.6 L250.4 120.6 L251.9 120.5 L253.4 120.4 L254.9 120.4 L256.4 120.3 L258 120.2 L259.5 120 L261 119.8 L262.5 119.5 L264 119.3 L265.5 119 L267 118.7 L268.5 118.3 L270 117.9 L271.5 117.5 L273 117.1 L274.6 116.8 L276.1 116.5 L277.6 116.3 L279.1 116.1 L280.6 115.9 L282.1 115.7 L283.6 115.6 L285.1 115.5 L286.6 115.4 L288.1 115.3 L289.6 115.3 L291.1 115.2 L292.7 115.2" stroke="#1c1c1c" stroke-width="1.3" fill="none" stroke-linejoin="round"/>
<path d="M166 121 L167.5 121 L169 121.1 L170.5 121.2 L172 121.3 L173.5 121.4 L175 121.5 L176.5 121.7 L178 122 L179.5 122.3 L181 122.7 L182.5 123 L184.1 123.2 L185.6 123.4 L187.1 123.5 L188.6 123.7 L190.1 123.8 L191.6 123.9 L193.1 124 L194.6 124 L196.1 124.1 L197.6 124.1 L199.1 124.1 L200.6 124.2 L202.2 124.2 L203.7 124.3 L205.2 124.3 L206.7 124.4 L208.2 124.4 L209.7 124.5 L211.2 124.5 L212.7 124.5 L214.2 124.5 L215.7 124.5 L217.2 124.5 L218.7 124.5 L220.2 124.5 L221.8 124.5 L223.3 124.5 L224.8 124.5 L226.3 124.4 L227.8 124.4 L229.3 124.4 L230.8 124.4 L232.3 124.4 L233.8 124.4 L235.3 124.3 L236.8 124.3 L238.4 124.3 L239.9 124.3 L241.4 124.3 L242.9 124.2 L244.4 124.2 L245.9 124.2 L247.4 124.2 L248.9 124.2 L250.4 124.2 L251.9 124.2 L253.4 124.1 L254.9 124.1 L256.4 124.1 L258 124.1 L259.5 124.1 L261 124.1 L262.5 124 L264 124 L265.5 124 L267 124 L268.5 123.9 L270 123.8 L271.5 123.6 L273 123.5 L274.6 123.3 L276.1 123.1 L277.6 122.8 L279.1 122.4 L280.6 122 L282.1 121.7 L283.6 121.5 L285.1 121.3 L286.6 121.2 L288.1 121 L289.6 120.9 L291.1 120.8 L292.7 120.8" stroke="#4654B9" stroke-width="1.4" fill="none" stroke-linejoin="round"/>
<path d="M166 120.6 L167.5 120.6 L169 120.6 L170.5 120.6 L172 120.6 L173.5 120.6 L175 120.6 L176.5 120.6 L178 120.6 L179.5 120.7 L181 120.7 L182.5 120.8 L184.1 120.9 L185.6 121 L187.1 121.2 L188.6 121.5 L190.1 121.9 L191.6 122.4 L193.1 123 L194.6 124.3 L196.1 126.6 L197.6 129.8 L199.1 133.5 L200.6 137.5 L202.2 141.5 L203.7 146.2 L205.2 152.1 L206.7 158.5 L208.2 164.6 L209.7 169.7 L211.2 173 L212.7 175.2 L214.2 177.2 L215.7 178.9 L217.2 180.3 L218.7 181.2 L220.2 181.5 L221.8 181.4 L223.3 181.1 L224.8 180.6 L226.3 180.1 L227.8 179.4 L229.3 178.8 L230.8 178.1 L232.3 177.2 L233.8 176.1 L235.3 175 L236.8 173.9 L238.4 172.7 L239.9 171.5 L241.4 170.3 L242.9 169 L244.4 167.7 L245.9 166.3 L247.4 165 L248.9 163.6 L250.4 162.2 L251.9 160.8 L253.4 159.4 L254.9 158 L256.4 156.6 L258 155.2 L259.5 153.9 L261 152.5 L262.5 151.2 L264 149.9 L265.5 148.6 L267 147.3 L268.5 146.1 L270 144.8 L271.5 143.5 L273 142.3 L274.6 141 L276.1 139.7 L277.6 138.3 L279.1 136.9 L280.6 135.6 L282.1 134.2 L283.6 133 L285.1 131.8 L286.6 130.7 L288.1 129.6 L289.6 128.5 L291.1 127.5 L292.7 126.5" stroke="#1c1c1c" stroke-width="1.1" fill="none" stroke-linejoin="round"/>
<path d="M166 121.3 L167.5 121.3 L169 121.3 L170.5 121.4 L172 121.4 L173.5 121.4 L175 121.5 L176.5 121.6 L178 121.8 L179.5 122 L181 122.3 L182.5 122.6 L184.1 123 L185.6 123.5 L187.1 124.2 L188.6 125 L190.1 125.9 L191.6 126.9 L193.1 128 L194.6 129.2 L196.1 130.7 L197.6 132.3 L199.1 134 L200.6 135.7 L202.2 137.3 L203.7 138.9 L205.2 140.6 L206.7 142.2 L208.2 143.8 L209.7 145.2 L211.2 146.3 L212.7 147.2 L214.2 148 L215.7 148.8 L217.2 149.4 L218.7 150 L220.2 150.5 L221.8 150.9 L223.3 151.4 L224.8 151.8 L226.3 152.1 L227.8 152.3 L229.3 152.4 L230.8 152.4 L232.3 152.2 L233.8 152.1 L235.3 151.8 L236.8 151.6 L238.4 151.3 L239.9 150.9 L241.4 150.3 L242.9 149.6 L244.4 148.9 L245.9 148.1 L247.4 147.3 L248.9 146.5 L250.4 145.6 L251.9 144.7 L253.4 143.8 L254.9 142.9 L256.4 142.2 L258 141.6 L259.5 141 L261 140.5 L262.5 139.9 L264 139.4 L265.5 138.8 L267 138.1 L268.5 137.4 L270 136.7 L271.5 136 L273 135.2 L274.6 134.5 L276.1 133.8 L277.6 133 L279.1 132.3 L280.6 131.6 L282.1 130.9 L283.6 130.3 L285.1 129.8 L286.6 129.2 L288.1 128.7 L289.6 128.3 L291.1 127.9 L292.7 127.5" stroke="#4654B9" stroke-width="1.4" fill="none" stroke-linejoin="round"/>
<rect x="173.4" y="119" width="3.2" height="3.2" stroke="#1c1c1c" stroke-width="1" fill="#fff"/>
<rect x="182.5" y="119" width="3.2" height="3.2" stroke="#1c1c1c" stroke-width="1" fill="#fff"/>
<rect x="191.5" y="119" width="3.2" height="3.2" stroke="#1c1c1c" stroke-width="1" fill="#fff"/>
<rect x="200.6" y="119" width="3.2" height="3.2" stroke="#1c1c1c" stroke-width="1" fill="#fff"/>
<rect x="209.6" y="119" width="3.2" height="3.2" stroke="#1c1c1c" stroke-width="1" fill="#fff"/>
<rect x="218.7" y="119" width="3.2" height="3.2" stroke="#1c1c1c" stroke-width="1" fill="#fff"/>
<rect x="227.7" y="119" width="3.2" height="3.2" stroke="#1c1c1c" stroke-width="1" fill="#fff"/>
<rect x="236.8" y="119" width="3.2" height="3.2" stroke="#1c1c1c" stroke-width="1" fill="#fff"/>
<rect x="245.8" y="119" width="3.2" height="3.2" stroke="#1c1c1c" stroke-width="1" fill="#fff"/>
<rect x="254.8" y="118.7" width="3.2" height="3.2" stroke="#1c1c1c" stroke-width="1" fill="#fff"/>
<rect x="263.9" y="117.4" width="3.2" height="3.2" stroke="#1c1c1c" stroke-width="1" fill="#fff"/>
<rect x="272.9" y="114.9" width="3.2" height="3.2" stroke="#1c1c1c" stroke-width="1" fill="#fff"/>
<rect x="282" y="113.9" width="3.2" height="3.2" stroke="#1c1c1c" stroke-width="1" fill="#fff"/>
<line x1="175" y1="119.6" x2="175" y2="123.4" stroke="#4654B9" stroke-width="0.7"/>
<line x1="174" y1="119.6" x2="176" y2="119.6" stroke="#4654B9" stroke-width="0.6"/>
<line x1="174" y1="123.4" x2="176" y2="123.4" stroke="#4654B9" stroke-width="0.6"/>
<rect x="173.4" y="119.9" width="3.2" height="3.2" stroke="#4654B9" stroke-width="1" fill="#fff"/>
<line x1="184.1" y1="121.1" x2="184.1" y2="125.3" stroke="#4654B9" stroke-width="0.7"/>
<line x1="183.1" y1="121.1" x2="185.1" y2="121.1" stroke="#4654B9" stroke-width="0.6"/>
<line x1="183.1" y1="125.3" x2="185.1" y2="125.3" stroke="#4654B9" stroke-width="0.6"/>
<rect x="182.5" y="121.6" width="3.2" height="3.2" stroke="#4654B9" stroke-width="1" fill="#fff"/>
<line x1="193.1" y1="121.9" x2="193.1" y2="126.1" stroke="#4654B9" stroke-width="0.7"/>
<line x1="192.1" y1="121.9" x2="194.1" y2="121.9" stroke="#4654B9" stroke-width="0.6"/>
<line x1="192.1" y1="126.1" x2="194.1" y2="126.1" stroke="#4654B9" stroke-width="0.6"/>
<rect x="191.5" y="122.4" width="3.2" height="3.2" stroke="#4654B9" stroke-width="1" fill="#fff"/>
<line x1="202.2" y1="122.4" x2="202.2" y2="126" stroke="#4654B9" stroke-width="0.7"/>
<line x1="201.2" y1="122.4" x2="203.2" y2="122.4" stroke="#4654B9" stroke-width="0.6"/>
<line x1="201.2" y1="126" x2="203.2" y2="126" stroke="#4654B9" stroke-width="0.6"/>
<rect x="200.6" y="122.6" width="3.2" height="3.2" stroke="#4654B9" stroke-width="1" fill="#fff"/>
<line x1="211.2" y1="123.1" x2="211.2" y2="125.9" stroke="#4654B9" stroke-width="0.7"/>
<line x1="210.2" y1="123.1" x2="212.2" y2="123.1" stroke="#4654B9" stroke-width="0.6"/>
<line x1="210.2" y1="125.9" x2="212.2" y2="125.9" stroke="#4654B9" stroke-width="0.6"/>
<rect x="209.6" y="122.9" width="3.2" height="3.2" stroke="#4654B9" stroke-width="1" fill="#fff"/>
<line x1="220.2" y1="123.6" x2="220.2" y2="125.4" stroke="#4654B9" stroke-width="0.7"/>
<line x1="219.2" y1="123.6" x2="221.2" y2="123.6" stroke="#4654B9" stroke-width="0.6"/>
<line x1="219.2" y1="125.4" x2="221.2" y2="125.4" stroke="#4654B9" stroke-width="0.6"/>
<rect x="218.7" y="122.9" width="3.2" height="3.2" stroke="#4654B9" stroke-width="1" fill="#fff"/>
<line x1="229.3" y1="123" x2="229.3" y2="125.8" stroke="#4654B9" stroke-width="0.7"/>
<line x1="228.3" y1="123" x2="230.3" y2="123" stroke="#4654B9" stroke-width="0.6"/>
<line x1="228.3" y1="125.8" x2="230.3" y2="125.8" stroke="#4654B9" stroke-width="0.6"/>
<rect x="227.7" y="122.8" width="3.2" height="3.2" stroke="#4654B9" stroke-width="1" fill="#fff"/>
<line x1="238.4" y1="122.5" x2="238.4" y2="126.1" stroke="#4654B9" stroke-width="0.7"/>
<line x1="237.4" y1="122.5" x2="239.4" y2="122.5" stroke="#4654B9" stroke-width="0.6"/>
<line x1="237.4" y1="126.1" x2="239.4" y2="126.1" stroke="#4654B9" stroke-width="0.6"/>
<rect x="236.8" y="122.7" width="3.2" height="3.2" stroke="#4654B9" stroke-width="1" fill="#fff"/>
<line x1="247.4" y1="122.2" x2="247.4" y2="126.2" stroke="#4654B9" stroke-width="0.7"/>
<line x1="246.4" y1="122.2" x2="248.4" y2="122.2" stroke="#4654B9" stroke-width="0.6"/>
<line x1="246.4" y1="126.2" x2="248.4" y2="126.2" stroke="#4654B9" stroke-width="0.6"/>
<rect x="245.8" y="122.6" width="3.2" height="3.2" stroke="#4654B9" stroke-width="1" fill="#fff"/>
<line x1="256.4" y1="122" x2="256.4" y2="126.2" stroke="#4654B9" stroke-width="0.7"/>
<line x1="255.4" y1="122" x2="257.4" y2="122" stroke="#4654B9" stroke-width="0.6"/>
<line x1="255.4" y1="126.2" x2="257.4" y2="126.2" stroke="#4654B9" stroke-width="0.6"/>
<rect x="254.8" y="122.5" width="3.2" height="3.2" stroke="#4654B9" stroke-width="1" fill="#fff"/>
<line x1="265.5" y1="122.1" x2="265.5" y2="125.9" stroke="#4654B9" stroke-width="0.7"/>
<line x1="264.5" y1="122.1" x2="266.5" y2="122.1" stroke="#4654B9" stroke-width="0.6"/>
<line x1="264.5" y1="125.9" x2="266.5" y2="125.9" stroke="#4654B9" stroke-width="0.6"/>
<rect x="263.9" y="122.4" width="3.2" height="3.2" stroke="#4654B9" stroke-width="1" fill="#fff"/>
<line x1="274.6" y1="121.7" x2="274.6" y2="124.9" stroke="#4654B9" stroke-width="0.7"/>
<line x1="273.6" y1="121.7" x2="275.6" y2="121.7" stroke="#4654B9" stroke-width="0.6"/>
<line x1="273.6" y1="124.9" x2="275.6" y2="124.9" stroke="#4654B9" stroke-width="0.6"/>
<rect x="272.9" y="121.7" width="3.2" height="3.2" stroke="#4654B9" stroke-width="1" fill="#fff"/>
<line x1="283.6" y1="120.1" x2="283.6" y2="122.3" stroke="#4654B9" stroke-width="0.7"/>
<line x1="282.6" y1="120.1" x2="284.6" y2="120.1" stroke="#4654B9" stroke-width="0.6"/>
<line x1="282.6" y1="122.3" x2="284.6" y2="122.3" stroke="#4654B9" stroke-width="0.6"/>
<rect x="282" y="119.6" width="3.2" height="3.2" stroke="#4654B9" stroke-width="1" fill="#fff"/>
<line x1="175" y1="119" x2="175" y2="122.2" stroke="#1c1c1c" stroke-width="0.7"/>
<line x1="174" y1="119" x2="176" y2="119" stroke="#1c1c1c" stroke-width="0.6"/>
<line x1="174" y1="122.2" x2="176" y2="122.2" stroke="#1c1c1c" stroke-width="0.6"/>
<path d="M173.2 118.9 L176.8 118.9 L175 122.3Z" stroke="#1c1c1c" stroke-width="1" fill="#fff"/>
<line x1="184.1" y1="119.1" x2="184.1" y2="122.7" stroke="#1c1c1c" stroke-width="0.7"/>
<line x1="183.1" y1="119.1" x2="185.1" y2="119.1" stroke="#1c1c1c" stroke-width="0.6"/>
<line x1="183.1" y1="122.7" x2="185.1" y2="122.7" stroke="#1c1c1c" stroke-width="0.6"/>
<path d="M182.2 119.2 L185.9 119.2 L184.1 122.6Z" stroke="#1c1c1c" stroke-width="1" fill="#fff"/>
<line x1="193.1" y1="121.2" x2="193.1" y2="124.8" stroke="#1c1c1c" stroke-width="0.7"/>
<line x1="192.1" y1="121.2" x2="194.1" y2="121.2" stroke="#1c1c1c" stroke-width="0.6"/>
<line x1="192.1" y1="124.8" x2="194.1" y2="124.8" stroke="#1c1c1c" stroke-width="0.6"/>
<path d="M191.3 121.3 L195 121.3 L193.1 124.7Z" stroke="#1c1c1c" stroke-width="1" fill="#fff"/>
<line x1="202.2" y1="140.3" x2="202.2" y2="143.5" stroke="#1c1c1c" stroke-width="0.7"/>
<line x1="201.2" y1="140.3" x2="203.2" y2="140.3" stroke="#1c1c1c" stroke-width="0.6"/>
<line x1="201.2" y1="143.5" x2="203.2" y2="143.5" stroke="#1c1c1c" stroke-width="0.6"/>
<path d="M200.3 140.2 L204 140.2 L202.2 143.6Z" stroke="#1c1c1c" stroke-width="1" fill="#fff"/>
<line x1="211.2" y1="172.3" x2="211.2" y2="174.7" stroke="#1c1c1c" stroke-width="0.7"/>
<line x1="210.2" y1="172.3" x2="212.2" y2="172.3" stroke="#1c1c1c" stroke-width="0.6"/>
<line x1="210.2" y1="174.7" x2="212.2" y2="174.7" stroke="#1c1c1c" stroke-width="0.6"/>
<path d="M209.4 171.8 L213.1 171.8 L211.2 175.2Z" stroke="#1c1c1c" stroke-width="1" fill="#fff"/>
<line x1="220.2" y1="180.2" x2="220.2" y2="181.8" stroke="#1c1c1c" stroke-width="0.7"/>
<line x1="219.2" y1="180.2" x2="221.2" y2="180.2" stroke="#1c1c1c" stroke-width="0.6"/>
<line x1="219.2" y1="181.8" x2="221.2" y2="181.8" stroke="#1c1c1c" stroke-width="0.6"/>
<path d="M218.4 179.3 L222.1 179.3 L220.2 182.7Z" stroke="#1c1c1c" stroke-width="1" fill="#fff"/>
<line x1="229.3" y1="177.4" x2="229.3" y2="179.8" stroke="#1c1c1c" stroke-width="0.7"/>
<line x1="228.3" y1="177.4" x2="230.3" y2="177.4" stroke="#1c1c1c" stroke-width="0.6"/>
<line x1="228.3" y1="179.8" x2="230.3" y2="179.8" stroke="#1c1c1c" stroke-width="0.6"/>
<path d="M227.5 176.9 L231.2 176.9 L229.3 180.3Z" stroke="#1c1c1c" stroke-width="1" fill="#fff"/>
<line x1="238.4" y1="171.2" x2="238.4" y2="174.2" stroke="#1c1c1c" stroke-width="0.7"/>
<line x1="237.4" y1="171.2" x2="239.4" y2="171.2" stroke="#1c1c1c" stroke-width="0.6"/>
<line x1="237.4" y1="174.2" x2="239.4" y2="174.2" stroke="#1c1c1c" stroke-width="0.6"/>
<path d="M236.5 171 L240.2 171 L238.4 174.4Z" stroke="#1c1c1c" stroke-width="1" fill="#fff"/>
<line x1="247.4" y1="163.4" x2="247.4" y2="167" stroke="#1c1c1c" stroke-width="0.7"/>
<line x1="246.4" y1="163.4" x2="248.4" y2="163.4" stroke="#1c1c1c" stroke-width="0.6"/>
<line x1="246.4" y1="167" x2="248.4" y2="167" stroke="#1c1c1c" stroke-width="0.6"/>
<path d="M245.6 163.5 L249.2 163.5 L247.4 166.9Z" stroke="#1c1c1c" stroke-width="1" fill="#fff"/>
<line x1="256.4" y1="154.8" x2="256.4" y2="158.4" stroke="#1c1c1c" stroke-width="0.7"/>
<line x1="255.4" y1="154.8" x2="257.4" y2="154.8" stroke="#1c1c1c" stroke-width="0.6"/>
<line x1="255.4" y1="158.4" x2="257.4" y2="158.4" stroke="#1c1c1c" stroke-width="0.6"/>
<path d="M254.6 154.9 L258.3 154.9 L256.4 158.3Z" stroke="#1c1c1c" stroke-width="1" fill="#fff"/>
<line x1="265.5" y1="146.9" x2="265.5" y2="150.3" stroke="#1c1c1c" stroke-width="0.7"/>
<line x1="264.5" y1="146.9" x2="266.5" y2="146.9" stroke="#1c1c1c" stroke-width="0.6"/>
<line x1="264.5" y1="150.3" x2="266.5" y2="150.3" stroke="#1c1c1c" stroke-width="0.6"/>
<path d="M263.6 146.9 L267.4 146.9 L265.5 150.3Z" stroke="#1c1c1c" stroke-width="1" fill="#fff"/>
<line x1="274.6" y1="140.7" x2="274.6" y2="143.3" stroke="#1c1c1c" stroke-width="0.7"/>
<line x1="273.6" y1="140.7" x2="275.6" y2="140.7" stroke="#1c1c1c" stroke-width="0.6"/>
<line x1="273.6" y1="143.3" x2="275.6" y2="143.3" stroke="#1c1c1c" stroke-width="0.6"/>
<path d="M272.7 140.3 L276.4 140.3 L274.6 143.7Z" stroke="#1c1c1c" stroke-width="1" fill="#fff"/>
<line x1="283.6" y1="131.9" x2="283.6" y2="133.7" stroke="#1c1c1c" stroke-width="0.7"/>
<line x1="282.6" y1="131.9" x2="284.6" y2="131.9" stroke="#1c1c1c" stroke-width="0.6"/>
<line x1="282.6" y1="133.7" x2="284.6" y2="133.7" stroke="#1c1c1c" stroke-width="0.6"/>
<path d="M281.8 131.1 L285.5 131.1 L283.6 134.5Z" stroke="#1c1c1c" stroke-width="1" fill="#fff"/>
<line x1="175" y1="117.4" x2="175" y2="126.2" stroke="#4654B9" stroke-width="0.7"/>
<line x1="174" y1="117.4" x2="176" y2="117.4" stroke="#4654B9" stroke-width="0.6"/>
<line x1="174" y1="126.2" x2="176" y2="126.2" stroke="#4654B9" stroke-width="0.6"/>
<path d="M173.2 120.1 L176.8 120.1 L175 123.5Z" stroke="#4654B9" stroke-width="1" fill="#fff"/>
<line x1="184.1" y1="118.8" x2="184.1" y2="128.4" stroke="#4654B9" stroke-width="0.7"/>
<line x1="183.1" y1="118.8" x2="185.1" y2="118.8" stroke="#4654B9" stroke-width="0.6"/>
<line x1="183.1" y1="128.4" x2="185.1" y2="128.4" stroke="#4654B9" stroke-width="0.6"/>
<path d="M182.2 121.9 L185.9 121.9 L184.1 125.3Z" stroke="#4654B9" stroke-width="1" fill="#fff"/>
<line x1="193.1" y1="123.2" x2="193.1" y2="132.8" stroke="#4654B9" stroke-width="0.7"/>
<line x1="192.1" y1="123.2" x2="194.1" y2="123.2" stroke="#4654B9" stroke-width="0.6"/>
<line x1="192.1" y1="132.8" x2="194.1" y2="132.8" stroke="#4654B9" stroke-width="0.6"/>
<path d="M191.3 126.3 L195 126.3 L193.1 129.7Z" stroke="#4654B9" stroke-width="1" fill="#fff"/>
<line x1="202.2" y1="132.7" x2="202.2" y2="141.3" stroke="#4654B9" stroke-width="0.7"/>
<line x1="201.2" y1="132.7" x2="203.2" y2="132.7" stroke="#4654B9" stroke-width="0.6"/>
<line x1="201.2" y1="141.3" x2="203.2" y2="141.3" stroke="#4654B9" stroke-width="0.6"/>
<path d="M200.3 135.3 L204 135.3 L202.2 138.7Z" stroke="#4654B9" stroke-width="1" fill="#fff"/>
<line x1="211.2" y1="142.7" x2="211.2" y2="149.5" stroke="#4654B9" stroke-width="0.7"/>
<line x1="210.2" y1="142.7" x2="212.2" y2="142.7" stroke="#4654B9" stroke-width="0.6"/>
<line x1="210.2" y1="149.5" x2="212.2" y2="149.5" stroke="#4654B9" stroke-width="0.6"/>
<path d="M209.4 144.4 L213.1 144.4 L211.2 147.8Z" stroke="#4654B9" stroke-width="1" fill="#fff"/>
<line x1="220.2" y1="148" x2="220.2" y2="152.4" stroke="#4654B9" stroke-width="0.7"/>
<line x1="219.2" y1="148" x2="221.2" y2="148" stroke="#4654B9" stroke-width="0.6"/>
<line x1="219.2" y1="152.4" x2="221.2" y2="152.4" stroke="#4654B9" stroke-width="0.6"/>
<path d="M218.4 148.5 L222.1 148.5 L220.2 151.9Z" stroke="#4654B9" stroke-width="1" fill="#fff"/>
<line x1="229.3" y1="149.2" x2="229.3" y2="155.6" stroke="#4654B9" stroke-width="0.7"/>
<line x1="228.3" y1="149.2" x2="230.3" y2="149.2" stroke="#4654B9" stroke-width="0.6"/>
<line x1="228.3" y1="155.6" x2="230.3" y2="155.6" stroke="#4654B9" stroke-width="0.6"/>
<path d="M227.5 150.7 L231.2 150.7 L229.3 154.1Z" stroke="#4654B9" stroke-width="1" fill="#fff"/>
<line x1="238.4" y1="146.9" x2="238.4" y2="155.3" stroke="#4654B9" stroke-width="0.7"/>
<line x1="237.4" y1="146.9" x2="239.4" y2="146.9" stroke="#4654B9" stroke-width="0.6"/>
<line x1="237.4" y1="155.3" x2="239.4" y2="155.3" stroke="#4654B9" stroke-width="0.6"/>
<path d="M236.5 149.4 L240.2 149.4 L238.4 152.8Z" stroke="#4654B9" stroke-width="1" fill="#fff"/>
<line x1="247.4" y1="142.5" x2="247.4" y2="152.1" stroke="#4654B9" stroke-width="0.7"/>
<line x1="246.4" y1="142.5" x2="248.4" y2="142.5" stroke="#4654B9" stroke-width="0.6"/>
<line x1="246.4" y1="152.1" x2="248.4" y2="152.1" stroke="#4654B9" stroke-width="0.6"/>
<path d="M245.6 145.6 L249.2 145.6 L247.4 149Z" stroke="#4654B9" stroke-width="1" fill="#fff"/>
<line x1="256.4" y1="137.1" x2="256.4" y2="146.9" stroke="#4654B9" stroke-width="0.7"/>
<line x1="255.4" y1="137.1" x2="257.4" y2="137.1" stroke="#4654B9" stroke-width="0.6"/>
<line x1="255.4" y1="146.9" x2="257.4" y2="146.9" stroke="#4654B9" stroke-width="0.6"/>
<path d="M254.6 140.3 L258.3 140.3 L256.4 143.7Z" stroke="#4654B9" stroke-width="1" fill="#fff"/>
<line x1="265.5" y1="135" x2="265.5" y2="144" stroke="#4654B9" stroke-width="0.7"/>
<line x1="264.5" y1="135" x2="266.5" y2="135" stroke="#4654B9" stroke-width="0.6"/>
<line x1="264.5" y1="144" x2="266.5" y2="144" stroke="#4654B9" stroke-width="0.6"/>
<path d="M263.6 137.8 L267.4 137.8 L265.5 141.2Z" stroke="#4654B9" stroke-width="1" fill="#fff"/>
<line x1="274.6" y1="130.9" x2="274.6" y2="138.1" stroke="#4654B9" stroke-width="0.7"/>
<line x1="273.6" y1="130.9" x2="275.6" y2="130.9" stroke="#4654B9" stroke-width="0.6"/>
<line x1="273.6" y1="138.1" x2="275.6" y2="138.1" stroke="#4654B9" stroke-width="0.6"/>
<path d="M272.7 132.8 L276.4 132.8 L274.6 136.2Z" stroke="#4654B9" stroke-width="1" fill="#fff"/>
<line x1="283.6" y1="127.8" x2="283.6" y2="132.8" stroke="#4654B9" stroke-width="0.7"/>
<line x1="282.6" y1="127.8" x2="284.6" y2="127.8" stroke="#4654B9" stroke-width="0.6"/>
<line x1="282.6" y1="132.8" x2="284.6" y2="132.8" stroke="#4654B9" stroke-width="0.6"/>
<path d="M281.8 128.6 L285.5 128.6 L283.6 132Z" stroke="#4654B9" stroke-width="1" fill="#fff"/>
<text xml:space="preserve" x="179" y="117.8" font-size="8.5" text-anchor="middle" font-weight="normal" fill="#1e1e1e" class="k"><tspan>-60</tspan></text>
<text xml:space="preserve" x="196.5" y="117.8" font-size="8.5" text-anchor="middle" font-weight="normal" fill="#1e1e1e" class="k"><tspan>-40</tspan></text>
<text xml:space="preserve" x="214.6" y="117.8" font-size="8.5" text-anchor="middle" font-weight="normal" fill="#1e1e1e" class="k"><tspan>-20</tspan></text>
<text xml:space="preserve" x="251.3" y="117.8" font-size="8.5" text-anchor="middle" font-weight="normal" fill="#1e1e1e" class="k"><tspan>20</tspan></text>
<text xml:space="preserve" x="268" y="117.8" font-size="8.5" text-anchor="middle" font-weight="normal" fill="#1e1e1e" class="k"><tspan>40</tspan></text>
<text xml:space="preserve" x="286.5" y="117.8" font-size="8.5" text-anchor="middle" font-weight="normal" fill="#1e1e1e" class="k"><tspan>60</tspan></text>
<text xml:space="preserve" x="230.8" y="134.6" font-size="8.5" text-anchor="start" font-weight="normal" fill="#1e1e1e" class="k"><tspan>-0.2</tspan></text>
<text xml:space="preserve" x="230.8" y="146.6" font-size="8.5" text-anchor="start" font-weight="normal" fill="#1e1e1e" class="k"><tspan>-0.4</tspan></text>
<text xml:space="preserve" x="230.8" y="158.8" font-size="8.5" text-anchor="start" font-weight="normal" fill="#1e1e1e" class="k"><tspan>-0.6</tspan></text>
<text xml:space="preserve" x="230.8" y="171" font-size="8.5" text-anchor="start" font-weight="normal" fill="#1e1e1e" class="k"><tspan>-0.8</tspan></text>
<text xml:space="preserve" x="230.8" y="183" font-size="8.5" text-anchor="start" font-weight="normal" fill="#1e1e1e" class="k"><tspan>-1.0</tspan></text>
<text xml:space="preserve" x="234.8" y="197.1" font-size="8.6" text-anchor="end" font-weight="normal" fill="#1e1e1e" letter-spacing="0.1" class="k"><tspan>Brevenal</tspan><tspan font-size="6.7" dy="0.3">o</tspan><tspan dy="-0.3">: I</tspan><tspan font-size="6.7" dy="0.3">peak</tspan></text>
<path d="M237.9 192.5 L243.1 192.5 L240.5 197.1Z" stroke="#4654B9" stroke-width="1.2" fill="none"/>
<text xml:space="preserve" x="244.6" y="197.1" font-size="8.6" text-anchor="start" font-weight="normal" fill="#1e1e1e" letter-spacing="0.1" class="k"><tspan>,</tspan></text>
<text xml:space="preserve" x="248.8" y="197.1" font-size="8.6" text-anchor="start" font-weight="normal" fill="#1e1e1e" letter-spacing="0.1" class="k"><tspan>I</tspan><tspan font-size="6.7" dy="0.3">sus</tspan></text>
<rect x="266" y="192.8" width="4" height="4" stroke="#4654B9" stroke-width="1.2" fill="none"/>
<text xml:space="preserve" x="234.8" y="207.5" font-size="8.6" text-anchor="end" font-weight="normal" fill="#1e1e1e" letter-spacing="0.1" class="k"><tspan>Ctr</tspan><tspan font-size="6.7" dy="0.3">o</tspan><tspan dy="-0.3">: I</tspan><tspan font-size="6.7" dy="0.3">peak</tspan></text>
<path d="M237.9 202.9 L243.1 202.9 L240.5 207.5Z" stroke="#1c1c1c" stroke-width="1.2" fill="none"/>
<text xml:space="preserve" x="244.6" y="207.5" font-size="8.6" text-anchor="start" font-weight="normal" fill="#1e1e1e" letter-spacing="0.1" class="k"><tspan>,</tspan></text>
<text xml:space="preserve" x="248.8" y="207.5" font-size="8.6" text-anchor="start" font-weight="normal" fill="#1e1e1e" letter-spacing="0.1" class="k"><tspan>I</tspan><tspan font-size="6.7" dy="0.3">sus</tspan></text>
<rect x="266" y="203.2" width="4" height="4" stroke="#1c1c1c" stroke-width="1.2" fill="none"/>
<text xml:space="preserve" x="372.8" y="29.5" font-size="9" text-anchor="middle" font-weight="bold" fill="#1e1e1e"><tspan>PbTx-3</tspan><tspan font-size="7" dy="0.3">o</tspan></text>
<text xml:space="preserve" x="373.5" y="38.9" font-size="9" text-anchor="middle" font-weight="bold" fill="#1e1e1e"><tspan>Brevenal</tspan><tspan font-size="7" dy="0.3">i</tspan></text>
<path d="M314.5 58.7 L328.6 58.7 L328.6 73.6" stroke="#2a2a2a" stroke-width="1.2" fill="none" stroke-linejoin="round"/>
<path d="M322.7 48.1 L323.6 48.5 L324.5 48.6 L325.4 48.2 L326.3 47.5 L327.2 46.8 L328.1 46.7 L329 47.2 L329.9 47.7 L330.8 47.8 L331.7 47.6 L332.6 47.7 L333.5 47.9 L334.4 47.9 L335.3 47.9 L335.7 47.6 L336.3 62 L336.7 59.1 L337.1 56.5 L337.6 54.6 L338 53.4 L338.5 52.1 L338.9 51 L339.4 50.4 L339.8 49.7 L340.3 49.9 L340.7 50.6 L341.2 50.3 L341.6 49.8 L342.1 49.5 L342.5 49.3 L343 49.3 L343.4 48.8 L343.9 48.5 L344.3 48.9 L345.2 49.2 L346.1 49.2 L347 48.5 L347.9 48 L348.8 49.3 L349.7 50.5 L350.6 49.8 L351.5 48.6 L352.4 48.1 L353.3 48.3 L354.2 48.3 L355.1 48.6 L356 48.8 L356.9 49.3 L357.8 49 L358.7 48 L359.6 48 L360.5 47.9 L361.4 47.5 L362.3 47.9 L363.2 48.6 L364.1 48.7 L365 48.4 L365.9 49.3 L366.8 50.1 L367.7 49.6 L368.6 49 L369.5 48.4 L370.4 48.1 L371.3 48.7 L372.2 49.1 L373.1 49.7 L374 50.3 L374.9 49.8 L375.8 49.4 L376.7 49.2 L377.6 48 L378.5 47.6 L379.4 47.9 L380.3 48.3 L381.2 48.7 L382.1 49.1 L383 49.8 L383.9 50 L384.8 49.3 L385.7 48.8 L386.6 49 L387.5 48.9 L388.4 48.3 L389.3 48.7 L390.2 49.1 L391.1 49.3 L392 49.8 L392.9 49.4 L393.8 48.5 L394.7 48.2 L395.6 48.3 L396.5 48.5 L397.4 48.5 L398.3 49 L399.2 49.3 L400.1 49.2 L401 48.4 L401.9 48.3 L402.8 49.1 L403.7 49.3 L404 48.6 L404.9 48 L405.8 47.4 L406.7 47.6 L407.6 47.7 L408.5 47.5 L409.4 47.7 L410.3 48.2 L411.2 48.1 L412.1 47.1 L413 47 L413.9 47.5 L414.8 47.9" stroke="#D2202A" stroke-width="0.9" fill="none" stroke-linejoin="round"/>
<path d="M322.7 48.2 L323.6 47.7 L324.5 47.2 L325.4 47 L326.3 47.6 L327.2 48 L328.1 47.8 L329 47.5 L329.9 46.3 L330.8 45.7 L331.7 46.3 L332.6 47 L333.5 47.5 L334.4 47.5 L335.3 47.7 L335.7 47.6 L336.3 64 L336.7 61 L337.1 58.3 L337.6 56.3 L338 55.3 L338.5 54 L338.9 52.8 L339.4 52.4 L339.8 52.4 L340.3 52 L340.7 51.3 L341.2 51.3 L341.6 51.5 L342.1 51.8 L342.5 51.6 L343 50.4 L343.4 49.8 L343.9 50.8 L344.3 51.7 L345.2 51.3 L346.1 51.4 L347 51.5 L347.9 50.7 L348.8 50.5 L349.7 50.4 L350.6 50.3 L351.5 50.9 L352.4 51 L353.3 50.2 L354.2 49.5 L355.1 49.6 L356 50.1 L356.9 50.4 L357.8 50.2 L358.7 49.9 L359.6 50.2 L360.5 50.8 L361.4 50.7 L362.3 50.8 L363.2 50.7 L364.1 49.9 L365 49.8 L365.9 50.6 L366.8 51 L367.7 50.4 L368.6 49.2 L369.5 48.5 L370.4 48.6 L371.3 49.7 L372.2 50.9 L373.1 51 L374 50.6 L374.9 50.7 L375.8 50.8 L376.7 50.5 L377.6 50.6 L378.5 50 L379.4 49.2 L380.3 50 L381.2 50.9 L382.1 50.5 L383 50.1 L383.9 49.9 L384.8 50.3 L385.7 50.8 L386.6 50.3 L387.5 49 L388.4 48.4 L389.3 48.8 L390.2 48.8 L391.1 49.1 L392 50.5 L392.9 50.5 L393.8 49.8 L394.7 50.5 L395.6 50.7 L396.5 50.3 L397.4 50.2 L398.3 49.4 L399.2 49 L400.1 49 L401 49.7 L401.9 50.2 L402.8 49.6 L403.7 49.2 L404 47.1 L404.9 46.6 L405.8 47 L406.7 47.2 L407.6 47.2 L408.5 48 L409.4 48.5 L410.3 47.8 L411.2 47.8 L412.1 48.1 L413 47.4 L413.9 46.7 L414.8 46.9" stroke="#D2202A" stroke-width="0.9" fill="none" stroke-linejoin="round"/>
<path d="M322.7 48.5 L323.6 48 L324.5 47.1 L325.4 47.2 L326.3 47.8 L327.2 47.9 L328.1 47.5 L329 47.1 L329.9 46.7 L330.8 46.5 L331.7 46.9 L332.6 47.4 L333.5 47.4 L334.4 47 L335.3 46.8 L335.7 47.6 L336.3 66 L336.7 62.9 L337.1 60.2 L337.6 58.1 L338 56.5 L338.5 55.3 L338.9 54.7 L339.4 54.3 L339.8 53.8 L340.3 53.4 L340.7 53.4 L341.2 53.3 L341.6 53.2 L342.1 53 L342.5 52.5 L343 52.3 L343.4 52.3 L343.9 52.2 L344.3 52.6 L345.2 53.1 L346.1 52.8 L347 51.9 L347.9 51.4 L348.8 51.8 L349.7 52.4 L350.6 52.6 L351.5 52.2 L352.4 52.1 L353.3 52.4 L354.2 52.1 L355.1 52.4 L356 53.4 L356.9 53.5 L357.8 52.9 L358.7 52.2 L359.6 51.9 L360.5 52.2 L361.4 52.4 L362.3 52.1 L363.2 51.9 L364.1 52 L365 52.1 L365.9 52.6 L366.8 53.1 L367.7 52.3 L368.6 51.1 L369.5 50.8 L370.4 50.9 L371.3 51.5 L372.2 52.3 L373.1 52.3 L374 52 L374.9 51.9 L375.8 51.5 L376.7 50.9 L377.6 50.8 L378.5 51.7 L379.4 52.3 L380.3 52.1 L381.2 52.8 L382.1 53.1 L383 52.4 L383.9 51.9 L384.8 51.8 L385.7 52.1 L386.6 52.5 L387.5 52.6 L388.4 53 L389.3 53.1 L390.2 52.7 L391.1 52.4 L392 52.3 L392.9 52 L393.8 51.8 L394.7 52.1 L395.6 52.1 L396.5 52.3 L397.4 52.8 L398.3 52 L399.2 51.5 L400.1 51.6 L401 51 L401.9 50.8 L402.8 50.9 L403.7 51.2 L404 48.5 L404.9 48 L405.8 47.7 L406.7 47.9 L407.6 47.4 L408.5 47.5 L409.4 48.4 L410.3 48.4 L411.2 48.1 L412.1 48.2 L413 47.8 L413.9 47 L414.8 46.8" stroke="#D2202A" stroke-width="0.9" fill="none" stroke-linejoin="round"/>
<path d="M322.7 48 L323.6 47.3 L324.5 47 L325.4 46.9 L326.3 47.4 L327.2 47.9 L328.1 47.3 L329 46.5 L329.9 47 L330.8 47.8 L331.7 48.1 L332.6 47.9 L333.5 47.3 L334.4 47.3 L335.3 47.4 L335.7 47.6 L336.3 68 L336.7 64.9 L337.1 62.1 L337.6 60 L338 58.6 L338.5 57.4 L338.9 56 L339.4 55.4 L339.8 55.6 L340.3 56 L340.7 55.9 L341.2 54.8 L341.6 53.7 L342.1 53.9 L342.5 54.5 L343 54.6 L343.4 54.4 L343.9 54.5 L344.3 55.3 L345.2 55.2 L346.1 54 L347 54 L347.9 54.6 L348.8 54.5 L349.7 54.9 L350.6 55 L351.5 54 L352.4 53.8 L353.3 54 L354.2 54.2 L355.1 54.7 L356 55.2 L356.9 54.7 L357.8 54.4 L358.7 54.5 L359.6 54 L360.5 54.3 L361.4 54.8 L362.3 54 L363.2 53.5 L364.1 53.6 L365 52.9 L365.9 52.8 L366.8 53.7 L367.7 53.7 L368.6 53.4 L369.5 53.3 L370.4 53.1 L371.3 53.2 L372.2 54.4 L373.1 55.4 L374 55.1 L374.9 54.1 L375.8 53.3 L376.7 53.2 L377.6 53.5 L378.5 54 L379.4 54 L380.3 53.9 L381.2 53.8 L382.1 53.2 L383 53.1 L383.9 53.5 L384.8 53.1 L385.7 52.9 L386.6 53.3 L387.5 53.6 L388.4 54.2 L389.3 54.6 L390.2 54.4 L391.1 54.1 L392 54.2 L392.9 53.9 L393.8 53.3 L394.7 53.4 L395.6 53.2 L396.5 53.1 L397.4 53.5 L398.3 53.9 L399.2 54.4 L400.1 54.1 L401 53 L401.9 53.8 L402.8 55.2 L403.7 55.3 L404 47.9 L404.9 48 L405.8 47.3 L406.7 47.3 L407.6 47.1 L408.5 46.6 L409.4 47.3 L410.3 48.9 L411.2 49.1 L412.1 48.5 L413 48.3 L413.9 47.5 L414.8 46.4" stroke="#D2202A" stroke-width="0.9" fill="none" stroke-linejoin="round"/>
<path d="M322.7 48.4 L323.6 47.3 L324.5 47 L325.4 47.8 L326.3 47.7 L327.2 46.8 L328.1 46.6 L329 47.7 L329.9 48.1 L330.8 47.5 L331.7 47.5 L332.6 48 L333.5 48.2 L334.4 48.3 L335.3 48.4 L335.7 47.6 L336.3 70 L336.7 66.7 L337.1 64.1 L337.6 62 L338 60.3 L338.5 59 L338.9 57.7 L339.4 57.3 L339.8 57.4 L340.3 57 L340.7 56.5 L341.2 57 L341.6 57.2 L342.1 56.4 L342.5 55.7 L343 54.6 L343.4 54.4 L343.9 55.5 L344.3 55.9 L345.2 55.6 L346.1 55.2 L347 55.5 L347.9 56.3 L348.8 56.6 L349.7 55.5 L350.6 55 L351.5 55.9 L352.4 56.4 L353.3 56.1 L354.2 56.4 L355.1 56.8 L356 56.3 L356.9 55.4 L357.8 54.6 L358.7 54.6 L359.6 55 L360.5 55.4 L361.4 55.5 L362.3 55.7 L363.2 56 L364.1 55.3 L365 55.1 L365.9 55.2 L366.8 55.1 L367.7 55.7 L368.6 55.9 L369.5 56.1 L370.4 56.5 L371.3 56.2 L372.2 55.5 L373.1 54.7 L374 54.3 L374.9 54.7 L375.8 55.1 L376.7 55.4 L377.6 55.2 L378.5 54.2 L379.4 53.9 L380.3 54.7 L381.2 55.6 L382.1 55.5 L383 54.8 L383.9 55.1 L384.8 55.6 L385.7 55.6 L386.6 55 L387.5 54.9 L388.4 55.7 L389.3 56.2 L390.2 56.3 L391.1 56.3 L392 55.7 L392.9 55.6 L393.8 56 L394.7 55.9 L395.6 55.5 L396.5 55.4 L397.4 55.5 L398.3 56 L399.2 56.2 L400.1 56.3 L401 56.1 L401.9 55.2 L402.8 55.5 L403.7 56.3 L404 47.3 L404.9 47.4 L405.8 46.9 L406.7 46.5 L407.6 47 L408.5 47 L409.4 46.8 L410.3 46.8 L411.2 46.9 L412.1 47.3 L413 47.7 L413.9 47.8 L414.8 47.2" stroke="#D2202A" stroke-width="0.9" fill="none" stroke-linejoin="round"/>
<path d="M322.7 48.2 L323.6 47.7 L324.5 47.6 L325.4 47.5 L326.3 47.7 L327.2 47.8 L328.1 48 L329 48 L329.9 47.7 L330.8 47.4 L331.7 47.1 L332.6 47.5 L333.5 49.2 L334.4 50.2 L335.3 49 L335.7 47.6 L336.3 71 L336.7 67.8 L337.1 65.2 L337.6 63.2 L338 62 L338.5 60.9 L338.9 59.6 L339.4 58.5 L339.8 57.6 L340.3 57.3 L340.7 57.8 L341.2 58.1 L341.6 57.9 L342.1 57.4 L342.5 57.1 L343 56.8 L343.4 56.4 L343.9 57.1 L344.3 58.2 L345.2 58 L346.1 57 L347 57 L347.9 58.1 L348.8 57.9 L349.7 56.5 L350.6 56.4 L351.5 57.3 L352.4 57.4 L353.3 57 L354.2 57 L355.1 57.6 L356 58.2 L356.9 57.8 L357.8 56.9 L358.7 57 L359.6 57.6 L360.5 57.3 L361.4 56.6 L362.3 56.4 L363.2 56.1 L364.1 55.9 L365 55.7 L365.9 55.7 L366.8 56 L367.7 56.4 L368.6 57.2 L369.5 57.4 L370.4 56.7 L371.3 56.5 L372.2 56.6 L373.1 55.6 L374 55.6 L374.9 57 L375.8 57.7 L376.7 57.6 L377.6 56.8 L378.5 56.1 L379.4 56.5 L380.3 56.9 L381.2 56.5 L382.1 56 L383 55.7 L383.9 56.2 L384.8 57.2 L385.7 57.1 L386.6 56.2 L387.5 55.9 L388.4 56.5 L389.3 56.8 L390.2 56.4 L391.1 56 L392 55.5 L392.9 55.8 L393.8 57.1 L394.7 57.2 L395.6 56.4 L396.5 56.5 L397.4 57.1 L398.3 56.8 L399.2 56.7 L400.1 57.1 L401 57.5 L401.9 57.8 L402.8 57.5 L403.7 56.8 L404 47.4 L404.9 47.2 L405.8 47.7 L406.7 47.9 L407.6 47.7 L408.5 47.9 L409.4 48.3 L410.3 48.2 L411.2 47.6 L412.1 47.3 L413 47.9 L413.9 48.7 L414.8 48.3" stroke="#D2202A" stroke-width="0.9" fill="none" stroke-linejoin="round"/>
<path d="M322.7 48.3 L323.6 48.3 L324.5 47.5 L325.4 47.7 L326.3 47.9 L327.2 47.3 L328.1 47.2 L329 47.3 L329.9 47.7 L330.8 47.7 L331.7 47.4 L332.6 47.8 L333.5 48.1 L334.4 48.4 L335.3 48.5" stroke="#D2202A" stroke-width="1.1" fill="none" stroke-linejoin="round"/>
<path d="M322.7 47.3 L323.6 47.9 L324.5 48.7 L325.4 48.3 L326.3 47 L327.2 47.2 L328.1 47.7 L329 47.1 L329.9 47.7 L330.8 49 L331.7 48.6 L332.6 47.8 L333.5 48.4 L334.4 48.8 L335.3 48.4" stroke="#D2202A" stroke-width="1.1" fill="none" stroke-linejoin="round"/>
<path d="M322.7 47.9 L323.6 48.3 L324.5 48.5 L325.4 47.3 L326.3 46.1 L327.2 46.8 L328.1 47.7 L329 47.9 L329.9 47.5 L330.8 47.5 L331.7 48 L332.6 47.8 L333.5 47.7 L334.4 47.3 L335.3 47.2" stroke="#D2202A" stroke-width="1.1" fill="none" stroke-linejoin="round"/>
<path d="M403 47.5 L403.9 47.6 L404.8 47.4 L405.7 47.7 L406.6 48.3 L407.5 47.8 L408.4 47 L409.3 46.6 L410.2 46.9 L411.1 47.6 L412 47.8 L412.9 47.3 L413.8 47.2 L414.7 47.1 L415.6 46.6" stroke="#D2202A" stroke-width="1.1" fill="none" stroke-linejoin="round"/>
<path d="M403 46.9 L403.9 47.3 L404.8 48.2 L405.7 48.5 L406.6 48.2 L407.5 47.9 L408.4 48 L409.3 48.3 L410.2 48.7 L411.1 48.8 L412 47.9 L412.9 47.4 L413.8 46.6 L414.7 45.4 L415.6 45.9" stroke="#D2202A" stroke-width="1.1" fill="none" stroke-linejoin="round"/>
<path d="M403 48.2 L403.9 47.8 L404.8 48.4 L405.7 48.7 L406.6 47.8 L407.5 47.4 L408.4 47.8 L409.3 47.6 L410.2 47.2 L411.1 47.2 L412 47.4 L412.9 48 L413.8 48.3 L414.7 48.3 L415.6 47.8" stroke="#D2202A" stroke-width="1.1" fill="none" stroke-linejoin="round"/>
<path d="M334.4 47.5 L335.4 47.5 L335.8 50.6 L336.1 55.1 L336.5 60.4 L336.8 66.3 L337.2 72.6 L337.5 79.3 L337.9 86.4 L338.2 89.6 L338.6 83.4 L338.9 78.1 L339.3 73.5 L339.6 69.6 L340 66.3 L340.3 63.4 L340.7 60.9 L341 58.7 L341.4 56.9 L341.7 55.3 L342.1 54 L342.4 52.8 L342.8 51.8 L343.1 51 L343.5 50.3 L343.8 49.8 L344.2 49 L344.5 49.2 L344.9 48.2 L345.2 47.8 L345.6 47.8 L345.9 47.5 L346.3 47.1 L346.6 46.9 L347 46.9 L347.3 46.8 L347.7 46.7 L348 46.4 L348.4 46.4 L348.7 46.4 L349.1 46.3 L350 45.4 L350.9 45.8 L351.8 45.8 L352.7 45.8 L353.6 45.9 L354.5 46 L355.4 45.9 L356.3 45.8 L357.2 45.8 L358.1 46.2 L359 45.7 L359.9 45.9 L360.8 46.1 L361.7 45.9 L362.6 45.4 L363.5 45.9 L364.4 45.7 L365.3 45.8 L366.2 46 L367.1 45.9 L368 45.7 L368.9 46 L369.8 45.9 L370.7 45.8 L371.6 45.9 L372.5 45.9 L373.4 45.7 L374.3 45.7 L375.2 45.8 L376.1 45.6 L377 45.5 L377.9 46.1 L378.8 45.8 L379.7 45.8 L380.6 45.8 L381.5 45.8 L382.4 45.8 L383.2 45.8 L384.1 45.6 L385 46 L385.9 45.7 L386.8 46 L387.7 45.4 L388.6 45.6 L389.5 46 L390.4 45.8 L391.3 45.7 L392.2 45.9 L393.1 45.6 L394 45.8 L394.9 45.4 L395.8 45.7 L396.7 45.7 L397.6 45.9 L398.5 46 L399.4 45.6 L400.3 46.1 L401.2 45.7 L402.1 45.4 L403 45.3 L403.9 46.1 L404.8 45.8 L405.7 45.7 L406.6 45.7 L407.5 45.6 L408.4 46.1 L409.3 45.8 L410.2 46.2 L411.1 45.8" stroke="#A6A6A6" stroke-width="0.8" fill="none" stroke-linejoin="round"/>
<path d="M334.4 47.5 L335.4 47.5 L335.8 49.7 L336.1 53 L336.5 56.8 L336.8 60.9 L337.2 65.5 L337.5 70.3 L337.9 75.3 L338.2 80.6 L338.6 86.1 L338.9 85.6 L339.3 80.9 L339.6 76.8 L340 73.1 L340.3 69.9 L340.7 67.1 L341 64.6 L341.4 62.4 L341.7 60.5 L342.1 58.7 L342.4 57.2 L342.8 55.9 L343.1 54.7 L343.5 53.7 L343.8 52.7 L344.2 51.9 L344.5 51.2 L344.9 50.6 L345.2 50 L345.6 49 L345.9 49.2 L346.3 48.6 L346.6 48.3 L347 48.4 L347.3 47.7 L347.7 47.8 L348 47.3 L348.4 47 L348.7 47.1 L349.1 46.7 L349.4 47 L349.8 46.8 L350.1 46.5 L350.5 46.6 L350.8 46.5 L351.2 46.2 L351.5 46.4 L351.9 46.1 L352.2 46.3 L353.1 45.9 L354 46 L354.9 46 L355.8 45.7 L356.7 45.8 L357.6 45.7 L358.5 46 L359.4 45.7 L360.3 45.9 L361.2 46.1 L362.1 45.9 L363 45.5 L363.9 45.8 L364.8 46 L365.7 45.7 L366.6 46 L367.5 45.9 L368.4 45.9 L369.3 45.8 L370.2 45.7 L371.1 45.8 L372 45.8 L372.9 45.9 L373.8 45.9 L374.7 45.7 L375.6 45.8 L376.5 45.9 L377.4 45.5 L378.3 45.6 L379.2 45.6 L380.1 45.8 L381 45.7 L381.9 45.8 L382.8 45.6 L383.7 45.9 L384.6 45.9 L385.5 45.5 L386.4 45.8 L387.3 45.6 L388.2 46.1 L389.1 45.7 L390 45.7 L390.9 45.8 L391.8 45.8 L392.7 45.8 L393.6 46.1 L394.5 45.8 L395.4 46 L396.3 46 L397.2 45.6 L398.1 46.1 L399 45.9 L399.9 46 L400.8 45.6 L401.7 46 L402.6 45.9 L403.5 45.7 L404.4 46.3 L405.3 45.9 L406.2 45.8 L407.1 45.8 L408 46 L408.9 46 L409.8 45.9 L410.7 46 L411.6 46.1" stroke="#A6A6A6" stroke-width="0.8" fill="none" stroke-linejoin="round"/>
<path d="M334.4 47.5 L335.4 47.5 L335.8 48.8 L336.1 50.6 L336.5 52.7 L336.8 55.1 L337.2 57.7 L337.5 60.4 L337.9 63.3 L338.2 66.3 L338.6 69.4 L338.9 72.6 L339.3 75.9 L339.6 79.3 L340 82.8 L340.3 84.3 L340.7 81.2 L341 78.3 L341.4 75.6 L341.7 73.1 L342.1 70.9 L342.4 68.8 L342.8 66.9 L343.1 65.2 L343.5 63.6 L343.8 62.1 L344.2 60.8 L344.5 59.6 L344.9 58.4 L345.2 57.4 L345.6 56.4 L345.9 55.6 L346.3 54.8 L346.6 54 L347 53.4 L347.3 52.7 L347.7 52.2 L348 51.6 L348.4 51.2 L348.7 50.7 L349.1 50.3 L349.4 49.9 L349.8 49.6 L350.1 49 L350.5 48.9 L350.8 48.6 L351.2 48.5 L351.5 48.6 L351.9 48.2 L352.2 47.7 L352.6 47.7 L352.9 47.8 L353.3 47.3 L353.6 47.3 L354 47.2 L354.3 46.7 L354.7 47.1 L355 46.9 L355.4 46.9 L355.7 46.5 L356.1 46.5 L356.4 46.4 L356.8 46.5 L357.1 46.4 L357.5 46.4 L357.8 46.7 L358.2 46.6 L358.5 46.1 L358.9 46.1 L359.2 46.5 L359.6 46.1 L360.5 46.4 L361.4 46.3 L362.3 45.9 L363.2 45.9 L364.1 45.9 L365 45.7 L365.9 45.7 L366.8 45.8 L367.7 46 L368.6 45.8 L369.5 45.8 L370.4 45.7 L371.3 45.6 L372.2 46.1 L373.1 45.3 L374 45.7 L374.9 45.9 L375.8 45.5 L376.7 45.9 L377.6 46.1 L378.5 45.6 L379.4 45.8 L380.3 45.6 L381.2 45.9 L382.1 45.8 L383 45.8 L383.9 46.1 L384.8 45.9 L385.7 46.1 L386.6 45.9 L387.5 45.6 L388.4 45.9 L389.3 45.9 L390.2 45.5 L391.1 46.1 L392 45.8 L392.9 45.9 L393.8 45.6 L394.7 45.8 L395.6 45.9 L396.5 45.7 L397.4 45.8 L398.3 45.4 L399.2 46.1 L400.1 45.6 L401 45.4 L401.9 45.6 L402.8 45.6 L403.7 45.9 L404.6 45.6 L405.5 45.9 L406.4 45.6 L407.3 46.2 L408.2 45.9 L409.1 46.2 L410 45.6 L410.9 45.9 L411.8 45.6" stroke="#A6A6A6" stroke-width="0.8" fill="none" stroke-linejoin="round"/>
<path d="M334.4 47.5 L335.4 47.5 L335.8 48.9 L336.1 50.9 L336.5 53.2 L336.8 55.8 L337.2 58.6 L337.5 61.6 L337.9 64.7 L338.2 67.9 L338.6 71.3 L338.9 74.8 L339.3 78.4 L339.6 78 L340 74.9 L340.3 72 L340.7 69.5 L341 67.2 L341.4 65.1 L341.7 63.2 L342.1 61.5 L342.4 60 L342.8 58.6 L343.1 57.3 L343.5 56.2 L343.8 55.2 L344.2 54.3 L344.5 53.4 L344.9 52.7 L345.2 52 L345.6 51.4 L345.9 50.9 L346.3 50.4 L346.6 49.9 L347 49.5 L347.3 49.1 L347.7 48.9 L348 48.7 L348.4 47.9 L348.7 47.8 L349.1 47.6 L349.4 47.3 L349.8 47.3 L350.1 47.1 L350.5 46.8 L350.8 47 L351.2 47 L351.5 46.5 L351.9 46.6 L352.2 46.6 L352.6 46.5 L352.9 46.3 L353.3 46.5 L353.6 46.5 L354 46.4 L354.3 46.2 L354.7 46.6 L355 46.5 L355.4 46 L355.7 46.1 L356.6 46.3 L357.5 45.8 L358.4 46 L359.3 45.9 L360.2 45.7 L361.1 45.8 L362 45.5 L362.9 45.7 L363.8 45.4 L364.7 46.3 L365.6 46.1 L366.5 46.1 L367.4 45.9 L368.3 46 L369.2 46.1 L370.1 46 L371 46 L371.9 45.6 L372.8 45.9 L373.7 45.7 L374.6 45.6 L375.5 45.6 L376.4 45.9 L377.3 46 L378.2 45.5 L379.1 46.2 L380 46.1 L380.9 45.7 L381.8 45.7 L382.7 45.8 L383.6 46 L384.5 45.7 L385.4 45.6 L386.3 45.9 L387.2 45.4 L388.1 45.8 L389 46 L389.9 45.9 L390.8 46 L391.7 45.9 L392.6 45.9 L393.5 45.8 L394.4 45.6 L395.3 45.8 L396.2 45.8 L397.1 46.1 L398 46.1 L398.9 45.9 L399.8 45.6 L400.7 45.7 L401.6 45.8 L402.5 46.1 L403.4 45.9 L404.3 45.8 L405.2 45.6 L406.1 46 L407 45.9 L407.9 45.8 L408.8 45.8 L409.7 46.1 L410.6 45.8 L411.5 46.1" stroke="#A6A6A6" stroke-width="0.8" fill="none" stroke-linejoin="round"/>
<path d="M345 46.1 L345.9 45.9 L346.8 45.6 L347.7 45.6 L348.6 45.7 L349.5 45.9 L350.4 46.1 L351.3 46.2 L352.2 45.8 L353.1 45.2 L354 45.3 L354.9 45.5 L355.8 45.6 L356.7 45.7 L357.6 46 L358.5 46.1 L359.4 45.6 L360.3 45.7 L361.2 45.6 L362.1 45.4 L363 45.8 L363.9 45.9 L364.8 45.7 L365.7 46.1 L366.6 46.6 L367.5 46 L368.4 45.2 L369.3 45.3 L370.2 45.6 L371.1 45.7 L372 45.7 L372.9 45.7 L373.8 45.8 L374.7 45.6 L375.6 45.3 L376.5 45.4 L377.4 45.8 L378.3 46.2 L379.2 46.1 L380.1 45.9 L381 45.9 L381.9 46.2 L382.8 46.4 L383.7 46.1 L384.6 46 L385.5 46 L386.4 45.8 L387.3 45.8 L388.2 45.9 L389.1 45.9 L390 46.1 L390.9 46.4 L391.8 46.3 L392.7 46 L393.6 46.3 L394.5 46.4 L395.4 46 L396.3 45.9 L397.2 46.2 L398.1 46.2 L399 46.1 L399.9 46.1 L400.8 46.3 L401.7 46.3 L402.6 46 L403.5 45.9 L404.4 45.9 L405.3 45.8 L406.2 45.7 L407.1 45.7 L408 46.2 L408.9 46.7 L409.8 46.8 L410.7 46.4 L411.6 46" stroke="#A6A6A6" stroke-width="1.1" fill="none" stroke-linejoin="round"/>
<path d="M345 46 L345.9 46 L346.8 46.1 L347.7 45.8 L348.6 45.7 L349.5 45.8 L350.4 46 L351.3 46.3 L352.2 46.2 L353.1 45.6 L354 45.5 L354.9 45.6 L355.8 45.4 L356.7 45.4 L357.6 45.7 L358.5 45.6 L359.4 45.3 L360.3 45.6 L361.2 45.8 L362.1 45.5 L363 45.7 L363.9 46.4 L364.8 46.3 L365.7 45.4 L366.6 45.3 L367.5 45.6 L368.4 45.6 L369.3 45.6 L370.2 45.8 L371.1 45.6 L372 45 L372.9 44.8 L373.8 45.4 L374.7 46 L375.6 45.8 L376.5 45.5 L377.4 45.9 L378.3 46.1 L379.2 45.9 L380.1 45.8 L381 46.1 L381.9 46.3 L382.8 46.2 L383.7 46.1 L384.6 45.9 L385.5 45.7 L386.4 45.6 L387.3 45.8 L388.2 45.8 L389.1 45.9 L390 46.2 L390.9 46.3 L391.8 46 L392.7 45.7 L393.6 45.8 L394.5 45.7 L395.4 45.5 L396.3 45.7 L397.2 46.2 L398.1 46.2 L399 45.7 L399.9 45.5 L400.8 45.7 L401.7 46 L402.6 46.1 L403.5 45.5 L404.4 45.1 L405.3 45.6 L406.2 45.9 L407.1 46 L408 46.4 L408.9 46.5 L409.8 46 L410.7 45.5 L411.6 45.4" stroke="#A6A6A6" stroke-width="1.1" fill="none" stroke-linejoin="round"/>
<path d="M350 66.1 L350.9 66.3 L351.8 65.7 L352.7 64.8 L353.6 64.4 L354.5 64 L355.4 64.2 L356.3 65.3 L357.2 66.4 L358.1 66.6 L359 65.8 L359.8 65.4 L360.4 72 L360.8 71 L361.2 70.2 L361.7 69.5 L362.1 68.7 L362.6 68.6 L363 68.5 L363.5 68.1 L363.9 68.2 L364.4 69.2 L364.8 69.7 L365.3 69 L365.7 67.6 L366.2 67.5 L366.6 67.8 L367.1 67.3 L367.5 66.7 L368.4 67.2 L369.3 68.6 L370.2 69 L371.1 68.4 L372 67.9 L372.9 67.5 L373.8 67.6 L374.7 67.8 L375.6 67.9 L376.5 68.1 L377.4 67.6 L378.3 67.6 L379.2 68.2 L380.1 68.2 L381 67.9 L381.9 67.1 L382.8 66.7 L383.7 67.1 L384.6 67.5 L385.5 67.6 L386.4 66.8 L387.3 66.5 L388.2 67.6 L389.1 68.1 L390 67.7 L390.9 67.4 L391.8 67.6 L392.7 67.1 L393.6 67 L394.5 67.2 L395.4 67.6 L396.3 68 L397.2 67.8 L398.1 68.1 L399 67.9 L399.9 66.8 L400.8 66.6 L401.7 67.1 L402.6 67.5 L403.5 67.3 L404.4 67.1 L405.3 67.9 L406.2 68.3 L406.7 65.5 L407.6 65.7 L408.5 65.6 L409.4 65.7 L410.3 65.4 L411.2 64.3 L412.1 64.4 L413 65 L413.9 64.9 L414.8 65.1" stroke="#D2202A" stroke-width="0.9" fill="none" stroke-linejoin="round"/>
<path d="M350 65.3 L350.9 65.3 L351.8 65.7 L352.7 66.4 L353.6 65.7 L354.5 65.1 L355.4 65.8 L356.3 66.4 L357.2 66.7 L358.1 66.4 L359 65.7 L359.8 65.4 L360.4 76 L360.8 74.4 L361.2 73.2 L361.7 72.6 L362.1 71.6 L362.6 71.1 L363 71.2 L363.5 71.4 L363.9 71.1 L364.4 70.1 L364.8 70.2 L365.3 70.5 L365.7 69.9 L366.2 70.4 L366.6 71.6 L367.1 71.6 L367.5 70.2 L368.4 69 L369.3 69.6 L370.2 70.3 L371.1 70.1 L372 70.9 L372.9 71.7 L373.8 70.6 L374.7 69.7 L375.6 70 L376.5 70 L377.4 69.9 L378.3 70.3 L379.2 70.6 L380.1 70.2 L381 69.6 L381.9 69.9 L382.8 70.3 L383.7 70.4 L384.6 70.9 L385.5 70.6 L386.4 70 L387.3 70.6 L388.2 71.7 L389.1 71.5 L390 70.8 L390.9 70.5 L391.8 69.7 L392.7 69.4 L393.6 70.2 L394.5 70.6 L395.4 70.5 L396.3 70.4 L397.2 70.2 L398.1 70.1 L399 70.5 L399.9 70.7 L400.8 70.6 L401.7 70.1 L402.6 69.3 L403.5 69.7 L404.4 71.2 L405.3 71.6 L406.2 70.8 L406.7 65 L407.6 65.4 L408.5 65.9 L409.4 65.5 L410.3 65.1 L411.2 65 L412.1 65.1 L413 65.8 L413.9 65.6 L414.8 65.2" stroke="#D2202A" stroke-width="0.9" fill="none" stroke-linejoin="round"/>
<path d="M350 65.5 L350.9 65.6 L351.8 65.5 L352.7 64.8 L353.6 65.3 L354.5 65.6 L355.4 65.1 L356.3 64.9 L357.2 65 L358.1 64.7 L359 64.5 L359.8 65.4 L360.4 80 L360.8 78.1 L361.2 76.6 L361.7 75.6 L362.1 75 L362.6 74.4 L363 73.7 L363.5 73.2 L363.9 73.3 L364.4 73.6 L364.8 73.4 L365.3 72.2 L365.7 72.1 L366.2 73.5 L366.6 73.8 L367.1 73.1 L367.5 72.8 L368.4 72.2 L369.3 71.9 L370.2 72.1 L371.1 72.2 L372 71.8 L372.9 71.6 L373.8 72.2 L374.7 72.7 L375.6 72.5 L376.5 71.9 L377.4 71.5 L378.3 71.9 L379.2 72.2 L380.1 71.5 L381 71.5 L381.9 72.2 L382.8 72.4 L383.7 72.5 L384.6 72.7 L385.5 72.7 L386.4 72.2 L387.3 71.7 L388.2 72.1 L389.1 72.6 L390 72.7 L390.9 72.4 L391.8 72.5 L392.7 73.2 L393.6 73.6 L394.5 73.6 L395.4 73.5 L396.3 73.3 L397.2 73.3 L398.1 73.4 L399 73.1 L399.9 72.8 L400.8 73.3 L401.7 73.9 L402.6 73.2 L403.5 72.4 L404.4 72.3 L405.3 72.6 L406.2 72.4 L406.7 65.2 L407.6 65.8 L408.5 66.5 L409.4 66.7 L410.3 65.9 L411.2 64.9 L412.1 64.4 L413 64.7 L413.9 64.7 L414.8 64.4" stroke="#D2202A" stroke-width="0.9" fill="none" stroke-linejoin="round"/>
<path d="M350 65.2 L350.9 64.9 L351.8 64.5 L352.7 64.4 L353.6 65.4 L354.5 66.3 L355.4 66 L356.3 65.4 L357.2 65.4 L358.1 65.7 L359 65.6 L359.8 65.4 L360.4 85 L360.8 82.5 L361.2 80.5 L361.7 79 L362.1 77.9 L362.6 77 L363 76.5 L363.5 76 L363.9 75.6 L364.4 74.9 L364.8 74.3 L365.3 74.4 L365.7 74.8 L366.2 75.3 L366.6 75.3 L367.1 74.5 L367.5 74.1 L368.4 73.6 L369.3 73.8 L370.2 73.9 L371.1 73.2 L372 73.5 L372.9 74.6 L373.8 75.1 L374.7 74.8 L375.6 75.1 L376.5 75.9 L377.4 75.3 L378.3 74.9 L379.2 75.8 L380.1 75.7 L381 75.3 L381.9 75.6 L382.8 75.6 L383.7 75.4 L384.6 75 L385.5 74.8 L386.4 75.3 L387.3 75.1 L388.2 74.3 L389.1 74.6 L390 75.2 L390.9 75.1 L391.8 75.1 L392.7 75.4 L393.6 74.8 L394.5 74.4 L395.4 75.2 L396.3 75.9 L397.2 76.1 L398.1 76.2 L399 75.8 L399.9 75.9 L400.8 76 L401.7 75.7 L402.6 76.3 L403.5 76.6 L404.4 76.3 L405.3 76.4 L406.2 75.7 L406.7 65.9 L407.6 66.3 L408.5 65.9 L409.4 65.3 L410.3 65.7 L411.2 65.7 L412.1 65.1 L413 64.9 L413.9 64.9 L414.8 65.1" stroke="#D2202A" stroke-width="0.9" fill="none" stroke-linejoin="round"/>
<path d="M350 66.5 L350.9 66.6 L351.8 66.3 L352.7 65.7 L353.6 65.7 L354.5 65.7 L355.4 65.3 L356.3 65 L357.2 64.9 L358.1 64.8 L359 64.8 L359.8 65.4 L360.4 89 L360.8 86.1 L361.2 83.7 L361.7 81.8 L362.1 80.1 L362.6 78.7 L363 78.4 L363.5 78.5 L363.9 78 L364.4 78.2 L364.8 78.7 L365.3 78.3 L365.7 78.9 L366.2 79.2 L366.6 79.1 L367.1 79.1 L367.5 78.2 L368.4 77.4 L369.3 77.4 L370.2 77 L371.1 76.3 L372 77 L372.9 78.1 L373.8 77.7 L374.7 77.1 L375.6 77.1 L376.5 77.2 L377.4 77.2 L378.3 76.8 L379.2 76.3 L380.1 76.2 L381 76.7 L381.9 77.9 L382.8 78.8 L383.7 79 L384.6 78.8 L385.5 78.1 L386.4 77.2 L387.3 76.7 L388.2 76.5 L389.1 76.2 L390 77.1 L390.9 78.3 L391.8 78.3 L392.7 78 L393.6 77.2 L394.5 76.5 L395.4 76.7 L396.3 77.4 L397.2 78.5 L398.1 78.6 L399 77.5 L399.9 77 L400.8 77.2 L401.7 76.9 L402.6 76.7 L403.5 77.2 L404.4 77.7 L405.3 77.4 L406.2 76.9 L406.7 64.9 L407.6 65 L408.5 64.7 L409.4 64.3 L410.3 64.7 L411.2 65.9 L412.1 66.1 L413 66.2 L413.9 66.6 L414.8 66.1" stroke="#D2202A" stroke-width="0.9" fill="none" stroke-linejoin="round"/>
<path d="M350 65.7 L350.9 65.5 L351.8 65.8 L352.7 65.6 L353.6 64.6 L354.5 64.7 L355.4 65.1 L356.3 64.7 L357.2 64.5 L358.1 65.1 L359 65.1 L359.8 65.4 L360.4 93 L360.8 89.5 L361.2 86.7 L361.7 84.8 L362.1 83.4 L362.6 82.4 L363 82 L363.5 82 L363.9 81.1 L364.4 79.8 L364.8 79.4 L365.3 79.5 L365.7 79.5 L366.2 79.3 L366.6 79.6 L367.1 80.4 L367.5 80.1 L368.4 79.4 L369.3 79.4 L370.2 79.8 L371.1 80.4 L372 80.5 L372.9 79.5 L373.8 78.4 L374.7 79.3 L375.6 80.8 L376.5 80.9 L377.4 79.7 L378.3 78.9 L379.2 79.3 L380.1 79 L381 78.4 L381.9 79.1 L382.8 80.3 L383.7 80.7 L384.6 80.1 L385.5 79.9 L386.4 80.4 L387.3 79.7 L388.2 78.9 L389.1 79.2 L390 80.1 L390.9 80.4 L391.8 80.2 L392.7 79.9 L393.6 79.7 L394.5 79.2 L395.4 79 L396.3 79.9 L397.2 80.3 L398.1 79.7 L399 79.6 L399.9 80.2 L400.8 80.6 L401.7 80.3 L402.6 79.6 L403.5 79 L404.4 78.6 L405.3 79 L406.2 79.5 L406.7 65.9 L407.6 65.9 L408.5 65.7 L409.4 65.6 L410.3 65.2 L411.2 65 L412.1 65.3 L413 65.3 L413.9 65.6 L414.8 66" stroke="#D2202A" stroke-width="0.9" fill="none" stroke-linejoin="round"/>
<path d="M350 65.9 L350.9 65.6 L351.8 65.8 L352.7 66.2 L353.6 66.2 L354.5 65.4 L355.4 64.6 L356.3 64.9 L357.2 65.9 L358.1 66.5 L359 66.1 L359.9 65.8" stroke="#D2202A" stroke-width="1.1" fill="none" stroke-linejoin="round"/>
<path d="M350 65 L350.9 65.7 L351.8 65.9 L352.7 65.1 L353.6 64.8 L354.5 65.6 L355.4 66.1 L356.3 65.2 L357.2 64.8 L358.1 65 L359 64.2 L359.9 63.8" stroke="#D2202A" stroke-width="1.1" fill="none" stroke-linejoin="round"/>
<path d="M350 65.4 L350.9 65.3 L351.8 65 L352.7 65.2 L353.6 65.9 L354.5 66.4 L355.4 66.4 L356.3 65.2 L357.2 63.7 L358.1 64 L359 65.1 L359.9 65.1" stroke="#D2202A" stroke-width="1.1" fill="none" stroke-linejoin="round"/>
<path d="M406 65.1 L406.9 64.9 L407.8 64.9 L408.7 65.2 L409.6 64.8 L410.5 64.3 L411.4 64.6 L412.3 64.8 L413.2 65 L414.1 65.3 L415 65.5" stroke="#D2202A" stroke-width="1.1" fill="none" stroke-linejoin="round"/>
<path d="M406 65.8 L406.9 65.2 L407.8 64.7 L408.7 65.5 L409.6 65.9 L410.5 65.2 L411.4 65.2 L412.3 65.4 L413.2 65.1 L414.1 65 L415 65.3" stroke="#D2202A" stroke-width="1.1" fill="none" stroke-linejoin="round"/>
<path d="M406 65.2 L406.9 65.3 L407.8 65.8 L408.7 66 L409.6 66 L410.5 65.9 L411.4 65.7 L412.3 65.8 L413.2 66.2 L414.1 66.2 L415 65.7" stroke="#D2202A" stroke-width="1.1" fill="none" stroke-linejoin="round"/>
<line x1="362" y1="65.4" x2="405.5" y2="65.4" stroke="#bdbdbd" stroke-width="0.8" stroke-dasharray="2,1.6"/>
<line x1="309.5" y1="120.9" x2="438" y2="120.9" stroke="#2a2a2a" stroke-width="1"/>
<line x1="372.6" y1="110.4" x2="372.6" y2="179.8" stroke="#2a2a2a" stroke-width="1"/>
<path d="M345.2 120.9 L346.7 120.9 L348.2 120.8 L349.7 120.8 L351.2 120.7 L352.8 120.6 L354.3 120.5 L355.8 120.4 L357.4 120.2 L358.9 120 L360.4 119.8 L361.9 119.6 L363.5 119.3 L365 118.9 L366.5 118.4 L368 117.8 L369.6 117.3 L371.1 116.8 L372.6 116.5 L374.1 116.3 L375.7 116.2 L377.2 116.1 L378.7 116 L380.2 115.9 L381.8 115.8 L383.3 115.6 L384.8 115.3 L386.3 115 L387.9 114.6 L389.4 114.3 L390.9 114 L392.4 113.7 L394 113.5 L395.5 113.3 L397 113.1 L398.5 112.8 L400.1 112.5 L401.6 112.1 L403.1 111.6 L404.6 111 L406.2 110.4 L407.7 109.8 L409.2 109.2 L410.7 108.7 L412.3 108.2 L413.8 107.7 L415.3 107.2 L416.8 106.8 L418.4 106.3" stroke="#A6A6A6" stroke-width="1" fill="none" stroke-linejoin="round"/>
<path d="M308.6 120.9 L310.1 120.8 L311.6 120.8 L313.1 120.7 L314.7 120.7 L316.2 120.7 L317.7 120.7 L319.2 120.8 L320.8 121.1 L322.3 121.4 L323.8 121.8 L325.3 122.3 L326.9 122.6 L328.4 122.9 L329.9 123.3 L331.4 123.6 L333 123.9 L334.5 124.2 L336 124.3 L337.5 124.4 L339.1 124.4 L340.6 124.5 L342.1 124.5 L343.6 124.5 L345.2 124.6 L346.7 124.7 L348.2 124.9 L349.7 125 L351.2 125.2 L352.8 125.4 L354.3 125.5 L355.8 125.6 L357.4 125.7 L358.9 125.8 L360.4 125.8 L361.9 125.9 L363.5 126 L365 126.1 L366.5 126.2 L368 126.4 L369.6 126.5 L371.1 126.6 L372.6 126.6 L374.1 126.6 L375.7 126.6 L377.2 126.6 L378.7 126.6 L380.2 126.6 L381.8 126.6 L383.3 126.6 L384.8 126.6 L386.3 126.5 L387.9 126.5 L389.4 126.4 L390.9 126.4 L392.4 126.3 L394 126.3 L395.5 126.2 L397 126.1 L398.5 126 L400.1 126 L401.6 126 L403.1 126 L404.6 125.9 L406.2 125.9 L407.7 125.9 L409.2 125.9 L410.7 125.9 L412.3 126 L413.8 126.1 L415.3 126.2 L416.8 126.2 L418.4 126.3 L419.9 126.3 L421.4 126.4 L422.9 126.4 L424.5 126.5 L426 126.5 L427.5 126.5 L429 126.5 L430.6 126.4 L432.1 126.2 L433.6 126 L435.1 125.8 L436.7 125.5" stroke="#D2202A" stroke-width="1.6" fill="none" stroke-linejoin="round"/>
<path d="M308.6 121 L310.1 121.1 L311.6 121.3 L313.1 121.6 L314.7 122 L316.2 122.4 L317.7 123 L319.2 124 L320.8 125.8 L322.3 128.1 L323.8 130.9 L325.3 133.9 L326.9 137 L328.4 140.7 L329.9 145.3 L331.4 150.4 L333 155.4 L334.5 160 L336 163.5 L337.5 166.4 L339.1 169.3 L340.6 172 L342.1 174.2 L343.6 175.7 L345.2 176.2 L346.7 176.2 L348.2 176.2 L349.7 176.1 L351.2 176 L352.8 175.9 L354.3 175.8 L355.8 175.4 L357.4 174.7 L358.9 173.7 L360.4 172.6 L361.9 171.5 L363.5 170.5 L365 169.6 L366.5 168.8 L368 167.9 L369.6 167.1 L371.1 166.2 L372.6 165.2 L374.1 164.1 L375.7 163 L377.2 161.8 L378.7 160.6 L380.2 159.4 L381.8 158.4 L383.3 157.5 L384.8 156.6 L386.3 155.8 L387.9 155 L389.4 154.3 L390.9 153.6 L392.4 152.9 L394 152.3 L395.5 151.8 L397 151.2 L398.5 150.6 L400.1 149.9 L401.6 149.2 L403.1 148.3 L404.6 147.5 L406.2 146.6 L407.7 145.8 L409.2 144.9 L410.7 144.1 L412.3 143.2 L413.8 142.4 L415.3 141.5 L416.8 140.7 L418.4 139.9 L419.9 139.1 L421.4 138.3 L422.9 137.6 L424.5 136.8 L426 136 L427.5 135.3" stroke="#A6A6A6" stroke-width="1" fill="none" stroke-linejoin="round"/>
<path d="M308.6 121.2 L310.1 121.6 L311.6 121.9 L313.1 122.3 L314.7 122.7 L316.2 123.2 L317.7 123.6 L319.2 124.1 L320.8 124.5 L322.3 125 L323.8 125.5 L325.3 126 L326.9 126.6 L328.4 127.2 L329.9 127.8 L331.4 128.4 L333 129.1 L334.5 129.8 L336 130.5 L337.5 131.4 L339.1 132.4 L340.6 133.5 L342.1 134.5 L343.6 135.4 L345.2 136 L346.7 136.5 L348.2 136.9 L349.7 137.3 L351.2 137.6 L352.8 137.9 L354.3 138 L355.8 138.1 L357.4 138.2 L358.9 138.2 L360.4 138.3 L361.9 138.3 L363.5 138.3 L365 138.3 L366.5 138.2 L368 138 L369.6 137.9 L371.1 137.7 L372.6 137.5 L374.1 137.2 L375.7 136.9 L377.2 136.5 L378.7 136 L380.2 135.6 L381.8 135.3 L383.3 135.1 L384.8 134.8 L386.3 134.7 L387.9 134.5 L389.4 134.3 L390.9 134 L392.4 133.7 L394 133.3 L395.5 132.8 L397 132.4 L398.5 132 L400.1 131.6 L401.6 131.3 L403.1 131 L404.6 130.7 L406.2 130.5 L407.7 130.2 L409.2 130 L410.7 129.8 L412.3 129.5 L413.8 129.3 L415.3 129 L416.8 128.8 L418.4 128.6 L419.9 128.4 L421.4 128.2 L422.9 128 L424.5 127.9 L426 127.7 L427.5 127.5 L429 127.3 L430.6 127.1 L432.1 126.9 L433.6 126.7 L435.1 126.5 L436.7 126.3" stroke="#D2202A" stroke-width="1.6" fill="none" stroke-linejoin="round"/>
<rect x="352.7" y="118.9" width="3.2" height="3.2" stroke="#A6A6A6" stroke-width="1" fill="#fff"/>
<rect x="361.9" y="117.7" width="3.2" height="3.2" stroke="#A6A6A6" stroke-width="1" fill="#fff"/>
<rect x="371" y="114.9" width="3.2" height="3.2" stroke="#A6A6A6" stroke-width="1" fill="#fff"/>
<rect x="380.1" y="114.2" width="3.2" height="3.2" stroke="#A6A6A6" stroke-width="1" fill="#fff"/>
<rect x="389.3" y="112.4" width="3.2" height="3.2" stroke="#A6A6A6" stroke-width="1" fill="#fff"/>
<rect x="398.4" y="110.9" width="3.2" height="3.2" stroke="#A6A6A6" stroke-width="1" fill="#fff"/>
<rect x="407.6" y="107.6" width="3.2" height="3.2" stroke="#A6A6A6" stroke-width="1" fill="#fff"/>
<line x1="317.7" y1="119.4" x2="317.7" y2="121.8" stroke="#D2202A" stroke-width="0.7"/>
<line x1="316.7" y1="119.4" x2="318.7" y2="119.4" stroke="#D2202A" stroke-width="0.6"/>
<line x1="316.7" y1="121.8" x2="318.7" y2="121.8" stroke="#D2202A" stroke-width="0.6"/>
<rect x="316.1" y="119" width="3.2" height="3.2" stroke="#D2202A" stroke-width="1" fill="#fff"/>
<line x1="326.9" y1="121.2" x2="326.9" y2="124" stroke="#D2202A" stroke-width="0.7"/>
<line x1="325.9" y1="121.2" x2="327.9" y2="121.2" stroke="#D2202A" stroke-width="0.6"/>
<line x1="325.9" y1="124" x2="327.9" y2="124" stroke="#D2202A" stroke-width="0.6"/>
<rect x="325.2" y="121" width="3.2" height="3.2" stroke="#D2202A" stroke-width="1" fill="#fff"/>
<line x1="336" y1="122.9" x2="336" y2="125.7" stroke="#D2202A" stroke-width="0.7"/>
<line x1="335" y1="122.9" x2="337" y2="122.9" stroke="#D2202A" stroke-width="0.6"/>
<line x1="335" y1="125.7" x2="337" y2="125.7" stroke="#D2202A" stroke-width="0.6"/>
<rect x="334.4" y="122.7" width="3.2" height="3.2" stroke="#D2202A" stroke-width="1" fill="#fff"/>
<line x1="345.2" y1="123.4" x2="345.2" y2="125.8" stroke="#D2202A" stroke-width="0.7"/>
<line x1="344.2" y1="123.4" x2="346.2" y2="123.4" stroke="#D2202A" stroke-width="0.6"/>
<line x1="344.2" y1="125.8" x2="346.2" y2="125.8" stroke="#D2202A" stroke-width="0.6"/>
<rect x="343.6" y="123" width="3.2" height="3.2" stroke="#D2202A" stroke-width="1" fill="#fff"/>
<line x1="354.3" y1="124.5" x2="354.3" y2="126.5" stroke="#D2202A" stroke-width="0.7"/>
<line x1="353.3" y1="124.5" x2="355.3" y2="124.5" stroke="#D2202A" stroke-width="0.6"/>
<line x1="353.3" y1="126.5" x2="355.3" y2="126.5" stroke="#D2202A" stroke-width="0.6"/>
<rect x="352.7" y="123.9" width="3.2" height="3.2" stroke="#D2202A" stroke-width="1" fill="#fff"/>
<line x1="363.5" y1="125.4" x2="363.5" y2="126.6" stroke="#D2202A" stroke-width="0.7"/>
<line x1="362.5" y1="125.4" x2="364.5" y2="125.4" stroke="#D2202A" stroke-width="0.6"/>
<line x1="362.5" y1="126.6" x2="364.5" y2="126.6" stroke="#D2202A" stroke-width="0.6"/>
<rect x="361.9" y="124.4" width="3.2" height="3.2" stroke="#D2202A" stroke-width="1" fill="#fff"/>
<line x1="372.6" y1="125.7" x2="372.6" y2="127.5" stroke="#D2202A" stroke-width="0.7"/>
<line x1="371.6" y1="125.7" x2="373.6" y2="125.7" stroke="#D2202A" stroke-width="0.6"/>
<line x1="371.6" y1="127.5" x2="373.6" y2="127.5" stroke="#D2202A" stroke-width="0.6"/>
<rect x="371" y="125" width="3.2" height="3.2" stroke="#D2202A" stroke-width="1" fill="#fff"/>
<line x1="381.8" y1="125.4" x2="381.8" y2="127.8" stroke="#D2202A" stroke-width="0.7"/>
<line x1="380.8" y1="125.4" x2="382.8" y2="125.4" stroke="#D2202A" stroke-width="0.6"/>
<line x1="380.8" y1="127.8" x2="382.8" y2="127.8" stroke="#D2202A" stroke-width="0.6"/>
<rect x="380.1" y="125" width="3.2" height="3.2" stroke="#D2202A" stroke-width="1" fill="#fff"/>
<line x1="390.9" y1="125.1" x2="390.9" y2="127.9" stroke="#D2202A" stroke-width="0.7"/>
<line x1="389.9" y1="125.1" x2="391.9" y2="125.1" stroke="#D2202A" stroke-width="0.6"/>
<line x1="389.9" y1="127.9" x2="391.9" y2="127.9" stroke="#D2202A" stroke-width="0.6"/>
<rect x="389.3" y="124.9" width="3.2" height="3.2" stroke="#D2202A" stroke-width="1" fill="#fff"/>
<line x1="400.1" y1="124.4" x2="400.1" y2="127.2" stroke="#D2202A" stroke-width="0.7"/>
<line x1="399.1" y1="124.4" x2="401.1" y2="124.4" stroke="#D2202A" stroke-width="0.6"/>
<line x1="399.1" y1="127.2" x2="401.1" y2="127.2" stroke="#D2202A" stroke-width="0.6"/>
<rect x="398.4" y="124.2" width="3.2" height="3.2" stroke="#D2202A" stroke-width="1" fill="#fff"/>
<line x1="409.2" y1="124.5" x2="409.2" y2="127.1" stroke="#D2202A" stroke-width="0.7"/>
<line x1="408.2" y1="124.5" x2="410.2" y2="124.5" stroke="#D2202A" stroke-width="0.6"/>
<line x1="408.2" y1="127.1" x2="410.2" y2="127.1" stroke="#D2202A" stroke-width="0.6"/>
<rect x="407.6" y="124.2" width="3.2" height="3.2" stroke="#D2202A" stroke-width="1" fill="#fff"/>
<line x1="418.4" y1="125.3" x2="418.4" y2="127.3" stroke="#D2202A" stroke-width="0.7"/>
<line x1="417.4" y1="125.3" x2="419.4" y2="125.3" stroke="#D2202A" stroke-width="0.6"/>
<line x1="417.4" y1="127.3" x2="419.4" y2="127.3" stroke="#D2202A" stroke-width="0.6"/>
<rect x="416.8" y="124.7" width="3.2" height="3.2" stroke="#D2202A" stroke-width="1" fill="#fff"/>
<line x1="427.5" y1="126.1" x2="427.5" y2="127.5" stroke="#D2202A" stroke-width="0.7"/>
<line x1="426.5" y1="126.1" x2="428.5" y2="126.1" stroke="#D2202A" stroke-width="0.6"/>
<line x1="426.5" y1="127.5" x2="428.5" y2="127.5" stroke="#D2202A" stroke-width="0.6"/>
<rect x="425.9" y="125.2" width="3.2" height="3.2" stroke="#D2202A" stroke-width="1" fill="#fff"/>
<line x1="317.7" y1="121.1" x2="317.7" y2="124.9" stroke="#A6A6A6" stroke-width="0.7"/>
<line x1="316.7" y1="121.1" x2="318.7" y2="121.1" stroke="#A6A6A6" stroke-width="0.6"/>
<line x1="316.7" y1="124.9" x2="318.7" y2="124.9" stroke="#A6A6A6" stroke-width="0.6"/>
<path d="M315.9 121.3 L319.6 121.3 L317.7 124.7Z" stroke="#A6A6A6" stroke-width="1" fill="#fff"/>
<line x1="326.9" y1="131.4" x2="326.9" y2="135.6" stroke="#A6A6A6" stroke-width="0.7"/>
<line x1="325.9" y1="131.4" x2="327.9" y2="131.4" stroke="#A6A6A6" stroke-width="0.6"/>
<line x1="325.9" y1="135.6" x2="327.9" y2="135.6" stroke="#A6A6A6" stroke-width="0.6"/>
<path d="M325 131.8 L328.7 131.8 L326.9 135.2Z" stroke="#A6A6A6" stroke-width="1" fill="#fff"/>
<line x1="336" y1="162.9" x2="336" y2="167.1" stroke="#A6A6A6" stroke-width="0.7"/>
<line x1="335" y1="162.9" x2="337" y2="162.9" stroke="#A6A6A6" stroke-width="0.6"/>
<line x1="335" y1="167.1" x2="337" y2="167.1" stroke="#A6A6A6" stroke-width="0.6"/>
<path d="M334.1 163.3 L337.9 163.3 L336 166.7Z" stroke="#A6A6A6" stroke-width="1" fill="#fff"/>
<line x1="345.2" y1="175.2" x2="345.2" y2="178.8" stroke="#A6A6A6" stroke-width="0.7"/>
<line x1="344.2" y1="175.2" x2="346.2" y2="175.2" stroke="#A6A6A6" stroke-width="0.6"/>
<line x1="344.2" y1="178.8" x2="346.2" y2="178.8" stroke="#A6A6A6" stroke-width="0.6"/>
<path d="M343.3 175.3 L347 175.3 L345.2 178.7Z" stroke="#A6A6A6" stroke-width="1" fill="#fff"/>
<line x1="354.3" y1="174.5" x2="354.3" y2="177.3" stroke="#A6A6A6" stroke-width="0.7"/>
<line x1="353.3" y1="174.5" x2="355.3" y2="174.5" stroke="#A6A6A6" stroke-width="0.6"/>
<line x1="353.3" y1="177.3" x2="355.3" y2="177.3" stroke="#A6A6A6" stroke-width="0.6"/>
<path d="M352.4 174.2 L356.2 174.2 L354.3 177.6Z" stroke="#A6A6A6" stroke-width="1" fill="#fff"/>
<line x1="363.5" y1="169.5" x2="363.5" y2="171.3" stroke="#A6A6A6" stroke-width="0.7"/>
<line x1="362.5" y1="169.5" x2="364.5" y2="169.5" stroke="#A6A6A6" stroke-width="0.6"/>
<line x1="362.5" y1="171.3" x2="364.5" y2="171.3" stroke="#A6A6A6" stroke-width="0.6"/>
<path d="M361.6 168.7 L365.3 168.7 L363.5 172.1Z" stroke="#A6A6A6" stroke-width="1" fill="#fff"/>
<line x1="372.6" y1="163.6" x2="372.6" y2="166.4" stroke="#A6A6A6" stroke-width="0.7"/>
<line x1="371.6" y1="163.6" x2="373.6" y2="163.6" stroke="#A6A6A6" stroke-width="0.6"/>
<line x1="371.6" y1="166.4" x2="373.6" y2="166.4" stroke="#A6A6A6" stroke-width="0.6"/>
<path d="M370.8 163.3 L374.5 163.3 L372.6 166.7Z" stroke="#A6A6A6" stroke-width="1" fill="#fff"/>
<line x1="381.8" y1="156.4" x2="381.8" y2="160" stroke="#A6A6A6" stroke-width="0.7"/>
<line x1="380.8" y1="156.4" x2="382.8" y2="156.4" stroke="#A6A6A6" stroke-width="0.6"/>
<line x1="380.8" y1="160" x2="382.8" y2="160" stroke="#A6A6A6" stroke-width="0.6"/>
<path d="M379.9 156.5 L383.6 156.5 L381.8 159.9Z" stroke="#A6A6A6" stroke-width="1" fill="#fff"/>
<line x1="390.9" y1="151.6" x2="390.9" y2="155.6" stroke="#A6A6A6" stroke-width="0.7"/>
<line x1="389.9" y1="151.6" x2="391.9" y2="151.6" stroke="#A6A6A6" stroke-width="0.6"/>
<line x1="389.9" y1="155.6" x2="391.9" y2="155.6" stroke="#A6A6A6" stroke-width="0.6"/>
<path d="M389.1 151.9 L392.8 151.9 L390.9 155.3Z" stroke="#A6A6A6" stroke-width="1" fill="#fff"/>
<line x1="400.1" y1="147.8" x2="400.1" y2="152" stroke="#A6A6A6" stroke-width="0.7"/>
<line x1="399.1" y1="147.8" x2="401.1" y2="147.8" stroke="#A6A6A6" stroke-width="0.6"/>
<line x1="399.1" y1="152" x2="401.1" y2="152" stroke="#A6A6A6" stroke-width="0.6"/>
<path d="M398.2 148.2 L401.9 148.2 L400.1 151.6Z" stroke="#A6A6A6" stroke-width="1" fill="#fff"/>
<line x1="409.2" y1="143" x2="409.2" y2="146.8" stroke="#A6A6A6" stroke-width="0.7"/>
<line x1="408.2" y1="143" x2="410.2" y2="143" stroke="#A6A6A6" stroke-width="0.6"/>
<line x1="408.2" y1="146.8" x2="410.2" y2="146.8" stroke="#A6A6A6" stroke-width="0.6"/>
<path d="M407.4 143.2 L411.1 143.2 L409.2 146.6Z" stroke="#A6A6A6" stroke-width="1" fill="#fff"/>
<line x1="418.4" y1="138.3" x2="418.4" y2="141.5" stroke="#A6A6A6" stroke-width="0.7"/>
<line x1="417.4" y1="138.3" x2="419.4" y2="138.3" stroke="#A6A6A6" stroke-width="0.6"/>
<line x1="417.4" y1="141.5" x2="419.4" y2="141.5" stroke="#A6A6A6" stroke-width="0.6"/>
<path d="M416.5 138.2 L420.2 138.2 L418.4 141.6Z" stroke="#A6A6A6" stroke-width="1" fill="#fff"/>
<line x1="427.5" y1="134.2" x2="427.5" y2="136.4" stroke="#A6A6A6" stroke-width="0.7"/>
<line x1="426.5" y1="134.2" x2="428.5" y2="134.2" stroke="#A6A6A6" stroke-width="0.6"/>
<line x1="426.5" y1="136.4" x2="428.5" y2="136.4" stroke="#A6A6A6" stroke-width="0.6"/>
<path d="M425.6 133.6 L429.4 133.6 L427.5 137Z" stroke="#A6A6A6" stroke-width="1" fill="#fff"/>
<line x1="317.7" y1="122.2" x2="317.7" y2="125.4" stroke="#D2202A" stroke-width="0.7"/>
<line x1="316.7" y1="122.2" x2="318.7" y2="122.2" stroke="#D2202A" stroke-width="0.6"/>
<line x1="316.7" y1="125.4" x2="318.7" y2="125.4" stroke="#D2202A" stroke-width="0.6"/>
<path d="M315.9 122.1 L319.6 122.1 L317.7 125.5Z" stroke="#D2202A" stroke-width="1" fill="#fff"/>
<line x1="326.9" y1="124.8" x2="326.9" y2="128.4" stroke="#D2202A" stroke-width="0.7"/>
<line x1="325.9" y1="124.8" x2="327.9" y2="124.8" stroke="#D2202A" stroke-width="0.6"/>
<line x1="325.9" y1="128.4" x2="327.9" y2="128.4" stroke="#D2202A" stroke-width="0.6"/>
<path d="M325 124.9 L328.7 124.9 L326.9 128.3Z" stroke="#D2202A" stroke-width="1" fill="#fff"/>
<line x1="336" y1="127.8" x2="336" y2="131.4" stroke="#D2202A" stroke-width="0.7"/>
<line x1="335" y1="127.8" x2="337" y2="127.8" stroke="#D2202A" stroke-width="0.6"/>
<line x1="335" y1="131.4" x2="337" y2="131.4" stroke="#D2202A" stroke-width="0.6"/>
<path d="M334.1 127.9 L337.9 127.9 L336 131.3Z" stroke="#D2202A" stroke-width="1" fill="#fff"/>
<line x1="345.2" y1="135.5" x2="345.2" y2="138.7" stroke="#D2202A" stroke-width="0.7"/>
<line x1="344.2" y1="135.5" x2="346.2" y2="135.5" stroke="#D2202A" stroke-width="0.6"/>
<line x1="344.2" y1="138.7" x2="346.2" y2="138.7" stroke="#D2202A" stroke-width="0.6"/>
<path d="M343.3 135.4 L347 135.4 L345.2 138.8Z" stroke="#D2202A" stroke-width="1" fill="#fff"/>
<line x1="354.3" y1="136.8" x2="354.3" y2="139.2" stroke="#D2202A" stroke-width="0.7"/>
<line x1="353.3" y1="136.8" x2="355.3" y2="136.8" stroke="#D2202A" stroke-width="0.6"/>
<line x1="353.3" y1="139.2" x2="355.3" y2="139.2" stroke="#D2202A" stroke-width="0.6"/>
<path d="M352.4 136.3 L356.2 136.3 L354.3 139.7Z" stroke="#D2202A" stroke-width="1" fill="#fff"/>
<line x1="363.5" y1="137.6" x2="363.5" y2="139.2" stroke="#D2202A" stroke-width="0.7"/>
<line x1="362.5" y1="137.6" x2="364.5" y2="137.6" stroke="#D2202A" stroke-width="0.6"/>
<line x1="362.5" y1="139.2" x2="364.5" y2="139.2" stroke="#D2202A" stroke-width="0.6"/>
<path d="M361.6 136.7 L365.3 136.7 L363.5 140.1Z" stroke="#D2202A" stroke-width="1" fill="#fff"/>
<line x1="372.6" y1="136.4" x2="372.6" y2="138.8" stroke="#D2202A" stroke-width="0.7"/>
<line x1="371.6" y1="136.4" x2="373.6" y2="136.4" stroke="#D2202A" stroke-width="0.6"/>
<line x1="371.6" y1="138.8" x2="373.6" y2="138.8" stroke="#D2202A" stroke-width="0.6"/>
<path d="M370.8 135.9 L374.5 135.9 L372.6 139.3Z" stroke="#D2202A" stroke-width="1" fill="#fff"/>
<line x1="381.8" y1="133.8" x2="381.8" y2="136.8" stroke="#D2202A" stroke-width="0.7"/>
<line x1="380.8" y1="133.8" x2="382.8" y2="133.8" stroke="#D2202A" stroke-width="0.6"/>
<line x1="380.8" y1="136.8" x2="382.8" y2="136.8" stroke="#D2202A" stroke-width="0.6"/>
<path d="M379.9 133.6 L383.6 133.6 L381.8 137Z" stroke="#D2202A" stroke-width="1" fill="#fff"/>
<line x1="390.9" y1="132.3" x2="390.9" y2="135.9" stroke="#D2202A" stroke-width="0.7"/>
<line x1="389.9" y1="132.3" x2="391.9" y2="132.3" stroke="#D2202A" stroke-width="0.6"/>
<line x1="389.9" y1="135.9" x2="391.9" y2="135.9" stroke="#D2202A" stroke-width="0.6"/>
<path d="M389.1 132.4 L392.8 132.4 L390.9 135.8Z" stroke="#D2202A" stroke-width="1" fill="#fff"/>
<line x1="400.1" y1="129.8" x2="400.1" y2="133.4" stroke="#D2202A" stroke-width="0.7"/>
<line x1="399.1" y1="129.8" x2="401.1" y2="129.8" stroke="#D2202A" stroke-width="0.6"/>
<line x1="399.1" y1="133.4" x2="401.1" y2="133.4" stroke="#D2202A" stroke-width="0.6"/>
<path d="M398.2 129.9 L401.9 129.9 L400.1 133.3Z" stroke="#D2202A" stroke-width="1" fill="#fff"/>
<line x1="409.2" y1="128.3" x2="409.2" y2="131.7" stroke="#D2202A" stroke-width="0.7"/>
<line x1="408.2" y1="128.3" x2="410.2" y2="128.3" stroke="#D2202A" stroke-width="0.6"/>
<line x1="408.2" y1="131.7" x2="410.2" y2="131.7" stroke="#D2202A" stroke-width="0.6"/>
<path d="M407.4 128.3 L411.1 128.3 L409.2 131.7Z" stroke="#D2202A" stroke-width="1" fill="#fff"/>
<line x1="418.4" y1="127.3" x2="418.4" y2="129.9" stroke="#D2202A" stroke-width="0.7"/>
<line x1="417.4" y1="127.3" x2="419.4" y2="127.3" stroke="#D2202A" stroke-width="0.6"/>
<line x1="417.4" y1="129.9" x2="419.4" y2="129.9" stroke="#D2202A" stroke-width="0.6"/>
<path d="M416.5 126.9 L420.2 126.9 L418.4 130.3Z" stroke="#D2202A" stroke-width="1" fill="#fff"/>
<line x1="427.5" y1="126.6" x2="427.5" y2="128.4" stroke="#D2202A" stroke-width="0.7"/>
<line x1="426.5" y1="126.6" x2="428.5" y2="126.6" stroke="#D2202A" stroke-width="0.6"/>
<line x1="426.5" y1="128.4" x2="428.5" y2="128.4" stroke="#D2202A" stroke-width="0.6"/>
<path d="M425.6 125.8 L429.4 125.8 L427.5 129.2Z" stroke="#D2202A" stroke-width="1" fill="#fff"/>
<text xml:space="preserve" x="322.7" y="117.5" font-size="8.5" text-anchor="middle" font-weight="normal" fill="#1e1e1e" class="k"><tspan>-60</tspan></text>
<text xml:space="preserve" x="340.5" y="117.5" font-size="8.5" text-anchor="middle" font-weight="normal" fill="#1e1e1e" class="k"><tspan>-40</tspan></text>
<text xml:space="preserve" x="358.2" y="117.5" font-size="8.5" text-anchor="middle" font-weight="normal" fill="#1e1e1e" class="k"><tspan>-20</tspan></text>
<text xml:space="preserve" x="394.4" y="117.5" font-size="8.5" text-anchor="middle" font-weight="normal" fill="#1e1e1e" class="k"><tspan>20</tspan></text>
<text xml:space="preserve" x="412.6" y="117.5" font-size="8.5" text-anchor="middle" font-weight="normal" fill="#1e1e1e" class="k"><tspan>40</tspan></text>
<text xml:space="preserve" x="430.3" y="117.5" font-size="8.5" text-anchor="middle" font-weight="normal" fill="#1e1e1e" class="k"><tspan>60</tspan></text>
<text xml:space="preserve" x="374" y="134.1" font-size="8.5" text-anchor="start" font-weight="normal" fill="#1e1e1e" class="k"><tspan>-0.2</tspan></text>
<text xml:space="preserve" x="374" y="144.8" font-size="8.5" text-anchor="start" font-weight="normal" fill="#1e1e1e" class="k"><tspan>-0.4</tspan></text>
<text xml:space="preserve" x="374" y="155.6" font-size="8.5" text-anchor="start" font-weight="normal" fill="#1e1e1e" class="k"><tspan>-0.6</tspan></text>
<text xml:space="preserve" x="374" y="166.4" font-size="8.5" text-anchor="start" font-weight="normal" fill="#1e1e1e" class="k"><tspan>-0.8</tspan></text>
<text xml:space="preserve" x="374" y="177.6" font-size="8.5" text-anchor="start" font-weight="normal" fill="#1e1e1e" class="k"><tspan>-1.0</tspan></text>
<text xml:space="preserve" x="377.9" y="197" font-size="8.6" text-anchor="end" font-weight="normal" fill="#1e1e1e" letter-spacing="0.1" class="k"><tspan>PbTx-3</tspan><tspan font-size="6.7" dy="0.3">o</tspan><tspan dy="-0.3">: I</tspan><tspan font-size="6.7" dy="0.3">peak</tspan></text>
<path d="M381.9 192.4 L387.1 192.4 L384.5 197Z" stroke="#D2202A" stroke-width="1.3" fill="none"/>
<text xml:space="preserve" x="387.9" y="197" font-size="8.6" text-anchor="start" font-weight="normal" fill="#1e1e1e" letter-spacing="0.1" class="k"><tspan>,</tspan></text>
<text xml:space="preserve" x="391.8" y="197" font-size="8.6" text-anchor="start" font-weight="normal" fill="#1e1e1e" letter-spacing="0.1" class="k"><tspan>I</tspan><tspan font-size="6.7" dy="0.3">sus</tspan></text>
<rect x="410.5" y="192.7" width="4" height="4" stroke="#D2202A" stroke-width="1.3" fill="none"/>
<text xml:space="preserve" x="318.7" y="207.4" font-size="8.6" text-anchor="start" font-weight="normal" fill="#1e1e1e" letter-spacing="0.2" class="k"><tspan>Brevenal</tspan><tspan font-size="6.7" dy="0.3">i</tspan><tspan dy="-0.3">:</tspan></text>
<text xml:space="preserve" x="377.9" y="207.4" font-size="8.6" text-anchor="end" font-weight="normal" fill="#1e1e1e" letter-spacing="0.1" class="k"><tspan>I</tspan><tspan font-size="6.7" dy="0.3">peak</tspan></text>
<path d="M381.9 202.8 L387.1 202.8 L384.5 207.4Z" stroke="#A6A6A6" stroke-width="0.8" fill="none"/>
<text xml:space="preserve" x="388.3" y="207.4" font-size="8.6" text-anchor="start" font-weight="normal" fill="#1e1e1e" letter-spacing="0.1" class="k"><tspan>,</tspan></text>
<text xml:space="preserve" x="392.6" y="207.4" font-size="8.6" text-anchor="start" font-weight="normal" fill="#1e1e1e" letter-spacing="0.1" class="k"><tspan>I</tspan><tspan font-size="6.7" dy="0.3">sus</tspan></text>
<rect x="410.6" y="203.1" width="4" height="4" stroke="#A6A6A6" stroke-width="0.8" fill="none"/>
<line x1="476.8" y1="18" x2="476.8" y2="97.5" stroke="#2a2a2a" stroke-width="1.1"/>
<line x1="476.2" y1="97.5" x2="539" y2="97.5" stroke="#2a2a2a" stroke-width="1.1"/>
<line x1="474.3" y1="97.5" x2="476.8" y2="97.5" stroke="#2a2a2a" stroke-width="1"/>
<text xml:space="preserve" x="473.2" y="100.5" font-size="8.5" text-anchor="end" font-weight="normal" fill="#1e1e1e" class="k"><tspan>0.0</tspan></text>
<line x1="474.3" y1="76.3" x2="476.8" y2="76.3" stroke="#2a2a2a" stroke-width="1"/>
<text xml:space="preserve" x="473.2" y="79.3" font-size="8.5" text-anchor="end" font-weight="normal" fill="#1e1e1e" class="k"><tspan>0.5</tspan></text>
<line x1="474.3" y1="55.1" x2="476.8" y2="55.1" stroke="#2a2a2a" stroke-width="1"/>
<text xml:space="preserve" x="473.2" y="58.1" font-size="8.5" text-anchor="end" font-weight="normal" fill="#1e1e1e" class="k"><tspan>1.0</tspan></text>
<line x1="474.3" y1="34.1" x2="476.8" y2="34.1" stroke="#2a2a2a" stroke-width="1"/>
<text xml:space="preserve" x="473.2" y="37.1" font-size="8.5" text-anchor="end" font-weight="normal" fill="#1e1e1e" class="k"><tspan>1.5</tspan></text>
<line x1="488.6" y1="97.5" x2="488.6" y2="100.3" stroke="#2a2a2a" stroke-width="1"/>
<line x1="507.7" y1="97.5" x2="507.7" y2="100.3" stroke="#2a2a2a" stroke-width="1"/>
<line x1="526.2" y1="97.5" x2="526.2" y2="100.3" stroke="#2a2a2a" stroke-width="1"/>
<line x1="478" y1="55.1" x2="533" y2="55.1" stroke="#c0c0c0" stroke-width="1.1" stroke-dasharray="3,2.3"/>
<path d="M488.6 30 L488.6 25.3 L525.4 25.3 L525.4 31.5" stroke="#808080" stroke-width="0.9" fill="none" stroke-linejoin="round"/>
<path d="M488.6 41.7 L488.6 36.9 L507.8 36.9 L507.8 57.4" stroke="#808080" stroke-width="0.9" fill="none" stroke-linejoin="round"/>
<path d="M502 18.4 L502.7 20 L504.4 19.8 L503.4 21.2 L504.4 22.6 L502.7 22.4 L502 24 L501.3 22.4 L499.6 22.6 L500.6 21.2 L499.6 19.8 L501.3 20Z" fill="#111"/>
<path d="M508.1 18.4 L508.8 20 L510.5 19.8 L509.5 21.2 L510.5 22.6 L508.8 22.4 L508.1 24 L507.4 22.4 L505.7 22.6 L506.7 21.2 L505.7 19.8 L507.4 20Z" fill="#111"/>
<path d="M514.3 18.4 L515 20 L516.7 19.8 L515.7 21.2 L516.7 22.6 L515 22.4 L514.3 24 L513.6 22.4 L511.9 22.6 L512.9 21.2 L511.9 19.8 L513.6 20Z" fill="#111"/>
<path d="M498.9 30.2 L499.6 31.8 L501.3 31.6 L500.3 33 L501.3 34.4 L499.6 34.2 L498.9 35.8 L498.2 34.2 L496.5 34.4 L497.5 33 L496.5 31.6 L498.2 31.8Z" fill="#111"/>
<rect x="486.8" y="44.5" width="3.9" height="3.9" fill="#F6B31E"/>
<rect x="482.6" y="61.8" width="3.9" height="3.9" fill="#F6B31E"/>
<rect x="491.2" y="59.9" width="3.9" height="3.9" fill="#F6B31E"/>
<rect x="487.1" y="58" width="3.9" height="3.9" fill="#F6B31E"/>
<rect x="490.7" y="58.2" width="3.9" height="3.9" fill="#F6B31E"/>
<line x1="483" y1="58.5" x2="494.9" y2="58.5" stroke="#111" stroke-width="1.2"/>
<line x1="488.7" y1="55.5" x2="488.7" y2="61.3" stroke="#111" stroke-width="1"/>
<line x1="486.1" y1="55.5" x2="491.3" y2="55.5" stroke="#111" stroke-width="1"/>
<line x1="486.1" y1="61.3" x2="491.3" y2="61.3" stroke="#111" stroke-width="1"/>
<circle cx="507.4" cy="62.5" r="2" fill="#3E50B4"/>
<circle cx="507.4" cy="64.5" r="2" fill="#3E50B4"/>
<circle cx="505.5" cy="72" r="2" fill="#3E50B4"/>
<circle cx="510" cy="73.5" r="2" fill="#3E50B4"/>
<circle cx="507.4" cy="78.8" r="2" fill="#3E50B4"/>
<line x1="502.2" y1="70.1" x2="513.4" y2="70.1" stroke="#111" stroke-width="1.2"/>
<line x1="507.6" y1="67.3" x2="507.6" y2="73.1" stroke="#111" stroke-width="1"/>
<line x1="505.1" y1="67.3" x2="510.1" y2="67.3" stroke="#111" stroke-width="1"/>
<line x1="505.1" y1="73.1" x2="510.1" y2="73.1" stroke="#111" stroke-width="1"/>
<path d="M523.6 75.9 L528 75.9 L525.8 71.9Z" fill="#D2202A"/>
<path d="M521.3 86.2 L525.7 86.2 L523.5 82.2Z" fill="#D2202A"/>
<path d="M525.8 85.6 L530.2 85.6 L528 81.6Z" fill="#D2202A"/>
<path d="M522.4 84.1 L526.8 84.1 L524.6 80.1Z" fill="#D2202A"/>
<line x1="520.5" y1="80.7" x2="531" y2="80.7" stroke="#111" stroke-width="1.2"/>
<line x1="525.8" y1="78.5" x2="525.8" y2="83.3" stroke="#111" stroke-width="1"/>
<line x1="523.5" y1="78.5" x2="528.1" y2="78.5" stroke="#111" stroke-width="1"/>
<line x1="523.5" y1="83.3" x2="528.1" y2="83.3" stroke="#111" stroke-width="1"/>
<text xml:space="preserve" x="456.4" y="93" font-size="8" text-anchor="start" font-weight="normal" fill="#1e1e1e" transform="rotate(-90 456.4 93)" class="k"><tspan>Gmax</tspan><tspan font-size="5" dy="-3.7">Comp</tspan><tspan dy="3.7"> / Gmax</tspan><tspan font-size="5" dy="-3.7">Ctr</tspan></text>
<line x1="476.3" y1="109.8" x2="476.3" y2="188" stroke="#2a2a2a" stroke-width="1.1"/>
<line x1="475.8" y1="188" x2="538" y2="188" stroke="#2a2a2a" stroke-width="1.1"/>
<line x1="473.8" y1="187.6" x2="476.3" y2="187.6" stroke="#2a2a2a" stroke-width="1"/>
<text xml:space="preserve" x="472.7" y="190.6" font-size="8.5" text-anchor="end" font-weight="normal" fill="#1e1e1e" class="k"><tspan>-5</tspan></text>
<line x1="473.8" y1="172" x2="476.3" y2="172" stroke="#2a2a2a" stroke-width="1"/>
<text xml:space="preserve" x="472.7" y="175" font-size="8.5" text-anchor="end" font-weight="normal" fill="#1e1e1e" class="k"><tspan>0</tspan></text>
<line x1="473.8" y1="155.6" x2="476.3" y2="155.6" stroke="#2a2a2a" stroke-width="1"/>
<text xml:space="preserve" x="472.7" y="158.6" font-size="8.5" text-anchor="end" font-weight="normal" fill="#1e1e1e" class="k"><tspan>5</tspan></text>
<line x1="473.8" y1="139.2" x2="476.3" y2="139.2" stroke="#2a2a2a" stroke-width="1"/>
<text xml:space="preserve" x="472.7" y="142.2" font-size="8.5" text-anchor="end" font-weight="normal" fill="#1e1e1e" class="k"><tspan>10</tspan></text>
<line x1="473.8" y1="122.7" x2="476.3" y2="122.7" stroke="#2a2a2a" stroke-width="1"/>
<text xml:space="preserve" x="472.7" y="125.7" font-size="8.5" text-anchor="end" font-weight="normal" fill="#1e1e1e" class="k"><tspan>15</tspan></text>
<line x1="488" y1="188" x2="488" y2="190.8" stroke="#2a2a2a" stroke-width="1"/>
<line x1="506.6" y1="188" x2="506.6" y2="190.8" stroke="#2a2a2a" stroke-width="1"/>
<line x1="525.6" y1="188" x2="525.6" y2="190.8" stroke="#2a2a2a" stroke-width="1"/>
<line x1="478" y1="172" x2="533" y2="172" stroke="#c0c0c0" stroke-width="1.1" stroke-dasharray="3,2.3"/>
<path d="M488.3 162.3 L488.3 115.5 L525.3 115.5 L525.3 120.1" stroke="#808080" stroke-width="0.9" fill="none" stroke-linejoin="round"/>
<path d="M504.5 109.2 L505.2 110.8 L506.9 110.6 L505.9 112 L506.9 113.4 L505.2 113.2 L504.5 114.8 L503.8 113.2 L502.1 113.4 L503.1 112 L502.1 110.6 L503.8 110.8Z" fill="#111"/>
<path d="M511.4 109.2 L512.1 110.8 L513.8 110.6 L512.8 112 L513.8 113.4 L512.1 113.2 L511.4 114.8 L510.7 113.2 L509 113.4 L510 112 L509 110.6 L510.7 110.8Z" fill="#111"/>
<rect x="486.2" y="178" width="3.9" height="3.9" fill="#F6B31E"/>
<rect x="491.4" y="160.7" width="3.9" height="3.9" fill="#F6B31E"/>
<rect x="489.9" y="162.2" width="3.9" height="3.9" fill="#F6B31E"/>
<rect x="488.4" y="163.1" width="3.9" height="3.9" fill="#F6B31E"/>
<rect x="484.9" y="162.9" width="3.9" height="3.9" fill="#F6B31E"/>
<line x1="482.1" y1="167.9" x2="493.8" y2="167.9" stroke="#111" stroke-width="1.2"/>
<line x1="488.2" y1="163.8" x2="488.2" y2="171.8" stroke="#111" stroke-width="1"/>
<line x1="485.6" y1="163.8" x2="490.8" y2="163.8" stroke="#111" stroke-width="1"/>
<line x1="485.6" y1="171.8" x2="490.8" y2="171.8" stroke="#111" stroke-width="1"/>
<circle cx="506.8" cy="141.9" r="2" fill="#3E50B4"/>
<circle cx="506.8" cy="148.5" r="2" fill="#3E50B4"/>
<circle cx="504.3" cy="159.7" r="2" fill="#3E50B4"/>
<circle cx="509.4" cy="159.1" r="2" fill="#3E50B4"/>
<circle cx="506.8" cy="153.6" r="2" fill="#3E50B4"/>
<line x1="500.6" y1="152.4" x2="513.3" y2="152.4" stroke="#111" stroke-width="1.2"/>
<line x1="507" y1="147.7" x2="507" y2="156.5" stroke="#111" stroke-width="1"/>
<line x1="504.2" y1="147.7" x2="509.8" y2="147.7" stroke="#111" stroke-width="1"/>
<line x1="504.2" y1="156.5" x2="509.8" y2="156.5" stroke="#111" stroke-width="1"/>
<path d="M523.2 127.3 L527.6 127.3 L525.4 123.3Z" fill="#D2202A"/>
<path d="M523.2 137.3 L527.6 137.3 L525.4 133.3Z" fill="#D2202A"/>
<path d="M520.8 151.9 L525.2 151.9 L523 147.9Z" fill="#D2202A"/>
<path d="M525.7 151.9 L530.1 151.9 L527.9 147.9Z" fill="#D2202A"/>
<line x1="519.2" y1="139.7" x2="531.7" y2="139.7" stroke="#111" stroke-width="1.2"/>
<line x1="525.4" y1="133.9" x2="525.4" y2="145.5" stroke="#111" stroke-width="1"/>
<line x1="522.6" y1="133.9" x2="528.1" y2="133.9" stroke="#111" stroke-width="1"/>
<line x1="522.6" y1="145.5" x2="528.1" y2="145.5" stroke="#111" stroke-width="1"/>
<text xml:space="preserve" x="458.2" y="193.3" font-size="8.2" text-anchor="start" font-weight="normal" fill="#1e1e1e" transform="rotate(-90 458.2 193.3)" class="k"><tspan>V0.5</tspan><tspan font-size="5.2" dy="-3.8">Comp</tspan><tspan dy="3.8"> - V0.5</tspan><tspan font-size="5.2" dy="-3.8">Ctr</tspan><tspan dy="3.8"> (mV)</tspan></text>
<text xml:space="preserve" x="474" y="207.2" font-size="6.9" text-anchor="start" font-weight="bold" fill="#1e1e1e" transform="rotate(-25 474 207.2)" class="k"><tspan>PbTx-3</tspan><tspan font-size="5.4" dy="0.2">o</tspan></text>
<text xml:space="preserve" x="487.3" y="208.8" font-size="6.9" text-anchor="start" font-weight="bold" fill="#1e1e1e" transform="rotate(-25 487.3 208.8)" class="k"><tspan>Brevenal</tspan><tspan font-size="5.4" dy="0.2">o</tspan></text>
<text xml:space="preserve" x="510" y="208" font-size="6.9" text-anchor="start" font-weight="bold" fill="#1e1e1e" transform="rotate(-25 510 208)" class="k"><tspan>PbTx-3</tspan><tspan font-size="5.4" dy="0.2">o</tspan></text>
<text xml:space="preserve" x="512" y="216.3" font-size="6.9" text-anchor="start" font-weight="bold" fill="#1e1e1e" transform="rotate(-25 512 216.3)" class="k"><tspan>Brevenal</tspan><tspan font-size="5.4" dy="0.2">i</tspan></text>
<text xml:space="preserve" x="83" y="253" font-size="9" text-anchor="middle" font-weight="bold" fill="#1e1e1e"><tspan>PbTx-3</tspan><tspan font-size="7" dy="0.3">o</tspan></text>
<path d="M35 274.7 L49.4 274.7 L49.4 288" stroke="#2a2a2a" stroke-width="1.2" fill="none" stroke-linejoin="round"/>
<path d="M56.2 267 L57 313 L57.4 302.3 L57.9 293.2 L58.3 286.5 L58.8 281.5 L59.2 277.8 L59.7 275.1 L60.1 273 L60.6 271.4 L61 270.4 L61.5 269.8 L61.9 269.3 L62.4 268.8 L62.8 268.3 L63.3 267.8 L63.7 267.5 L64.2 267.6 L64.6 267.7 L65.5 267.5 L66.4 267.5 L67.3 267.6 L68.2 267.5 L69.1 267.4 L70 267.2 L70.9 266.9 L71.8 267 L72.7 267.2 L73.6 267.2 L74.5 267.1 L75.4 267 L76.3 267 L77.2 267.1 L78.1 267.3 L79 267.4 L79.9 267.4 L80.8 267.3 L81.7 267.3 L82.6 267.3 L83.5 267.4 L84.4 267.3 L85.3 266.9 L86.2 267 L87.1 267.4 L88 267.3 L88.9 267.2 L89.8 267.3 L90.7 267.4 L91.6 267.1 L92.5 266.9 L93.4 266.9 L94.3 267.1 L95.2 267.2 L96.1 267.3 L97 267.5 L97.9 267.3 L98.8 267.1 L99.7 267 L100.6 267 L101.5 267.3 L102.4 267.5 L103.3 267.4 L104.2 267.3 L105.1 267.2 L106 267.4 L106.9 267.5 L107.8 267.3 L108.7 267.4 L109.6 267.4" stroke="#1c1c1c" stroke-width="0.8" fill="none" stroke-linejoin="round"/>
<path d="M56.2 267 L57 311 L57.4 303.4 L57.9 296.4 L58.3 290.8 L58.8 286.3 L59.2 282.6 L59.7 279.6 L60.1 277.2 L60.6 275.3 L61 273.7 L61.5 272.3 L61.9 271.3 L62.4 270.4 L62.8 269.8 L63.3 269.4 L63.7 269 L64.2 268.6 L64.6 268.5 L65.1 268.4 L65.5 268 L66 267.6 L66.4 267.4 L66.9 267.4 L67.3 267.5 L67.8 267.6 L68.7 267.6 L69.6 267.4 L70.5 267.4 L71.4 267.3 L72.3 267.3 L73.2 267.3 L74.1 267.4 L75 267.4 L75.9 267.1 L76.8 266.8 L77.7 267 L78.6 267 L79.5 266.8 L80.4 267 L81.3 267.2 L82.2 267.1 L83.1 267.1 L84 267.5 L84.9 267.6 L85.8 267.4 L86.7 267.5 L87.6 267.4 L88.5 267.4 L89.4 267.5 L90.3 267.3 L91.2 267 L92.1 267 L93 267 L93.9 267 L94.8 267.2 L95.7 267.4 L96.6 267.3 L97.5 267.3 L98.4 267.4 L99.3 267.3 L100.2 267.3 L101.1 267.3 L102 267.2 L102.9 267.2 L103.8 267.2 L104.7 267.2 L105.6 267 L106.5 267.1 L107.4 267.2 L108.3 267.1 L109.2 267" stroke="#1c1c1c" stroke-width="0.8" fill="none" stroke-linejoin="round"/>
<path d="M56.2 267 L57 308.5 L57.4 303 L57.9 297.7 L58.3 293.1 L58.8 289.2 L59.2 286 L59.7 283.2 L60.1 280.8 L60.6 278.8 L61 277 L61.5 275.4 L61.9 274.2 L62.4 273.3 L62.8 272.5 L63.3 271.9 L63.7 271.3 L64.2 270.6 L64.6 270 L65.1 269.5 L65.5 269.2 L66 268.8 L66.4 268.6 L66.9 268.5 L67.3 268.1 L67.8 268 L68.2 268.1 L68.7 267.8 L69.1 267.6 L69.6 267.5 L70 267.4 L70.5 267.3 L70.9 267.4 L71.4 267.3 L72.3 267.3 L73.2 267.3 L74.1 267.2 L75 267.2 L75.9 267.2 L76.8 267.3 L77.7 267.3 L78.6 267.2 L79.5 267 L80.4 266.9 L81.3 267 L82.2 267.2 L83.1 267.4 L84 267.4 L84.9 267.2 L85.8 267 L86.7 266.8 L87.6 266.6 L88.5 266.8 L89.4 266.9 L90.3 266.8 L91.2 266.8 L92.1 267.1 L93 267 L93.9 267 L94.8 267.4 L95.7 267.4 L96.6 267.2 L97.5 267.2 L98.4 267.3 L99.3 267.3 L100.2 267 L101.1 266.9 L102 267 L102.9 267.2 L103.8 267.2 L104.7 267 L105.6 267 L106.5 267.2 L107.4 267.4 L108.3 267.4 L109.2 267.5" stroke="#1c1c1c" stroke-width="0.8" fill="none" stroke-linejoin="round"/>
<path d="M56.2 267 L57 305 L57.4 301 L57.9 297 L58.3 293.5 L58.8 290.4 L59.2 287.7 L59.7 285.4 L60.1 283.3 L60.6 281.4 L61 279.6 L61.5 278.2 L61.9 277 L62.4 275.8 L62.8 274.8 L63.3 273.9 L63.7 273.1 L64.2 272.4 L64.6 271.6 L65.1 271 L65.5 270.6 L66 270.3 L66.4 269.9 L66.9 269.6 L67.3 269.4 L67.8 269.2 L68.2 268.9 L68.7 268.4 L69.1 268.4 L69.6 268.3 L70 267.9 L70.5 267.8 L70.9 267.9 L71.4 267.7 L71.8 267.7 L72.3 267.7 L72.7 267.7 L73.2 267.6 L73.6 267.5 L74.1 267.6 L74.5 267.7 L75 267.4 L75.4 267.1 L76.3 267.3 L77.2 267.3 L78.1 267.3 L79 267.3 L79.9 267.2 L80.8 267.3 L81.7 267.4 L82.6 267.4 L83.5 267.2 L84.4 267 L85.3 267.1 L86.2 267.3 L87.1 267.4 L88 267.3 L88.9 267.2 L89.8 267.3 L90.7 267.3 L91.6 267.1 L92.5 266.9 L93.4 267 L94.3 267.3 L95.2 267.3 L96.1 267 L97 267 L97.9 267.1 L98.8 267 L99.7 267 L100.6 266.9 L101.5 266.8 L102.4 267 L103.3 267.3 L104.2 267.6 L105.1 267.6 L106 267.4 L106.9 267.4 L107.8 267.4 L108.7 267.1 L109.6 267.1" stroke="#1c1c1c" stroke-width="0.8" fill="none" stroke-linejoin="round"/>
<path d="M41 266.5 L41.9 266.6 L42.8 267 L43.7 267.1 L44.6 266.5 L45.5 266.2 L46.4 266.2 L47.3 266.1 L48.2 266.4 L49.1 267.3 L50 267.7 L50.9 267 L51.8 266.5 L52.7 266.4 L53.6 266 L54.5 266.3 L55.4 267.2 L55.6 266.7 L56.2 306 L56.6 292 L57.1 282.1 L57.5 276.1 L58 272.2 L58.4 269.8 L58.9 268.8 L59.3 267.9 L59.8 267 L60.2 266.8 L60.7 266.9 L61.1 266.9 L62 267 L62.9 267.1 L63.8 267.1 L64.7 266.8 L65.6 266.3 L66.5 266 L67.4 266.3 L68.3 267.4 L69.2 267.8 L70.1 266.8 L71 266.4 L71.9 266.9 L72.8 267 L73.7 266.7 L74.6 266.5 L75.5 266.3 L76.4 266.7 L77.3 267.4 L78.2 267.5 L79.1 267 L80 266.8 L80.9 267.1 L81.8 267.4 L82.7 267.1 L83.6 266.8 L84.5 267 L85.4 267.1 L86.3 266.6 L87.2 266.4 L88.1 266.9 L89 267.2 L89.9 267.2 L90.8 266.9 L91.7 266.6 L92.6 266.5 L93.5 266.3 L94.4 266.3 L95.3 266.5 L96.2 266.8 L97.1 266.9 L98 266.6 L98.9 266.6 L99.8 266.9 L100.7 267.3 L101.6 267.1 L102.5 266.9 L103.4 267.1 L104.3 266.9 L105.2 267 L106.1 267.4 L107 267.6 L107.9 267.7 L108.8 267.6 L109.7 267.3 L110.6 266.9 L111.5 266.7 L112.4 266.9 L113.3 267.1 L114.2 267.1 L115.1 266.9 L116 266.5 L116.9 266.6 L117.8 267.1 L118.7 267.3 L119.6 267.1 L120.5 267.2 L121.4 267.3 L122.3 266.8 L123.2 266.5 L124.1 266.6 L125 267.1 L125.9 267.1 L126.8 266.5 L127.7 266.2 L128.6 266.7 L129.5 267.1 L130.4 266.9 L131.3 266.8 L132.2 266.8 L133.1 266.6 L134 266.8 L134.9 266.9 L135.8 266.6 L136.7 266.5 L137.6 266.8 L138.5 266.8" stroke="#F6B31E" stroke-width="0.8" fill="none" stroke-linejoin="round"/>
<path d="M41 266.4 L41.9 266.9 L42.8 267.3 L43.7 267.1 L44.6 266.8 L45.5 267 L46.4 267.1 L47.3 266.9 L48.2 267 L49.1 267.3 L50 267.2 L50.9 266.7 L51.8 266.7 L52.7 266.7 L53.6 266.8 L54.5 267.1 L55.4 267 L55.6 266.7 L56.2 301 L56.6 291.3 L57.1 283.7 L57.5 278.5 L58 275 L58.4 272.7 L58.9 270.8 L59.3 269.6 L59.8 269.1 L60.2 268.1 L60.7 267.3 L61.1 267.1 L61.6 267.4 L62 267.5 L62.5 267.3 L63.4 267.1 L64.3 266.8 L65.2 266.5 L66.1 266.6 L67 266.9 L67.9 267.2 L68.8 267.3 L69.7 266.8 L70.6 266.4 L71.5 266.7 L72.4 267 L73.3 266.8 L74.2 267.2 L75.1 267.4 L76 267.2 L76.9 266.8 L77.8 266.3 L78.7 266.2 L79.6 266.3 L80.5 266.7 L81.4 266.8 L82.3 266.8 L83.2 267.1 L84.1 267.1 L85 266.7 L85.9 266.4 L86.8 266.3 L87.7 266.9 L88.6 267.4 L89.5 267.1 L90.4 266.8 L91.3 266.9 L92.2 267.1 L93.1 267.1 L94 266.6 L94.9 266.2 L95.8 266.6 L96.7 267.1 L97.6 267.1 L98.5 267 L99.4 266.5 L100.3 266.3 L101.2 266.8 L102.1 267 L103 266.7 L103.9 266.7 L104.8 266.8 L105.7 266.8 L106.6 266.9 L107.5 266.5 L108.4 266.1 L109.3 266.4 L110.2 266.5 L111.1 266.6 L112 266.8 L112.9 266.9 L113.8 267.2 L114.7 267.3 L115.6 266.9 L116.5 266.3 L117.4 266.6 L118.3 267 L119.2 266.8 L120.1 266.6 L121 266.8 L121.9 267.1 L122.8 267.1 L123.7 267 L124.6 266.7 L125.5 266.6 L126.4 266.8 L127.3 266.5 L128.2 266.2 L129.1 266.3 L130 266.6 L130.9 267.4 L131.8 267.9 L132.7 267.8 L133.6 267.3 L134.5 267 L135.4 267.1 L136.3 267.1 L137.2 266.9 L138.1 266.6 L139 266.6" stroke="#F6B31E" stroke-width="0.8" fill="none" stroke-linejoin="round"/>
<path d="M41 267.7 L41.9 266.7 L42.8 266.3 L43.7 266.4 L44.6 266.4 L45.5 266.5 L46.4 266.7 L47.3 267.1 L48.2 267.2 L49.1 266.9 L50 266.8 L50.9 266.7 L51.8 266.8 L52.7 266.9 L53.6 266.9 L54.5 266.6 L55.4 266.5 L55.6 266.7 L56.2 295 L56.6 288.4 L57.1 282.8 L57.5 278.4 L58 275.5 L58.4 273.5 L58.9 271.9 L59.3 270.8 L59.8 269.9 L60.2 268.7 L60.7 267.6 L61.1 267.3 L61.6 267.7 L62 267.6 L62.5 267 L62.9 266.9 L63.4 266.9 L63.8 266.2 L64.7 266 L65.6 266.6 L66.5 266.9 L67.4 266.4 L68.3 266.1 L69.2 266.3 L70.1 266.6 L71 266.9 L71.9 267 L72.8 267.1 L73.7 267.1 L74.6 267 L75.5 267.3 L76.4 267.5 L77.3 267.4 L78.2 267.3 L79.1 267 L80 267.1 L80.9 267 L81.8 266.6 L82.7 266.6 L83.6 266.6 L84.5 266.6 L85.4 267 L86.3 267.2 L87.2 267 L88.1 266.6 L89 266.5 L89.9 266.9 L90.8 267.4 L91.7 267.4 L92.6 267.1 L93.5 266.6 L94.4 266.5 L95.3 266.5 L96.2 266.3 L97.1 266.4 L98 266.9 L98.9 267 L99.8 267.1 L100.7 266.8 L101.6 266.6 L102.5 266.6 L103.4 266.6 L104.3 266.6 L105.2 266.7 L106.1 266.8 L107 266.8 L107.9 267.2 L108.8 267.4 L109.7 267.1 L110.6 267.1 L111.5 267.1 L112.4 267.2 L113.3 267.2 L114.2 266.4 L115.1 266 L116 266.2 L116.9 266.5 L117.8 267.4 L118.7 268.1 L119.6 267.9 L120.5 267.7 L121.4 267.5 L122.3 267 L123.2 267.2 L124.1 267.5 L125 267.2 L125.9 267.1 L126.8 266.8 L127.7 266.4 L128.6 266.4 L129.5 267 L130.4 267 L131.3 266.6 L132.2 266.6 L133.1 266.8 L134 266.9 L134.9 267.1 L135.8 267.1 L136.7 266.7 L137.6 266.3 L138.5 266.4" stroke="#F6B31E" stroke-width="0.8" fill="none" stroke-linejoin="round"/>
<path d="M41 266.4 L41.9 266.7 L42.8 266.4 L43.7 266.2 L44.6 266.3 L45.5 267 L46.4 267.2 L47.3 266.4 L48.2 266.3 L49.1 266.8 L50 266.9 L50.9 266.3 L51.8 266.1 L52.7 266.5 L53.6 266.5 L54.5 266.3 L55.4 266.1 L55.6 266.7 L56.2 288 L56.6 283.8 L57.1 280.1 L57.5 277.1 L58 274.9 L58.4 273.2 L58.9 271.8 L59.3 270.6 L59.8 269.8 L60.2 269.2 L60.7 268.6 L61.1 268.3 L61.6 268.3 L62 268 L62.5 267.7 L62.9 267.8 L63.4 267.4 L63.8 267 L64.3 267.4 L64.7 267.1 L65.2 266.6 L65.6 267.2 L66.5 267.8 L67.4 267.2 L68.3 266.5 L69.2 266.8 L70.1 267 L71 266.6 L71.9 266.6 L72.8 267.1 L73.7 267.5 L74.6 267.3 L75.5 267.1 L76.4 266.7 L77.3 266.7 L78.2 267.2 L79.1 267 L80 266.5 L80.9 266.9 L81.8 267.1 L82.7 266.8 L83.6 266.9 L84.5 266.9 L85.4 266.7 L86.3 266.5 L87.2 266.5 L88.1 266.5 L89 266.4 L89.9 266.4 L90.8 266.4 L91.7 266.7 L92.6 266.7 L93.5 266.7 L94.4 267.3 L95.3 267.8 L96.2 267.4 L97.1 266.9 L98 267.1 L98.9 267.1 L99.8 266.8 L100.7 266.7 L101.6 267 L102.5 267.4 L103.4 267.2 L104.3 266.7 L105.2 266.5 L106.1 266.7 L107 267.3 L107.9 267.4 L108.8 266.8 L109.7 266.6 L110.6 266.6 L111.5 266.6 L112.4 267 L113.3 266.9 L114.2 266.4 L115.1 266.5 L116 267.1 L116.9 267.3 L117.8 267 L118.7 266.7 L119.6 266.8 L120.5 266.9 L121.4 266.6 L122.3 266.4 L123.2 266.8 L124.1 267 L125 266.9 L125.9 267.2 L126.8 267.1 L127.7 266.7 L128.6 266.7 L129.5 267 L130.4 267.2 L131.3 267 L132.2 266.4 L133.1 266.4 L134 267 L134.9 267.1 L135.8 267.1 L136.7 267.3 L137.6 267.2 L138.5 266.9" stroke="#F6B31E" stroke-width="0.8" fill="none" stroke-linejoin="round"/>
<path d="M41 266.4 L41.9 266.5 L42.8 266.6 L43.7 266.5 L44.6 266.4 L45.5 265.9 L46.4 266.1 L47.3 267 L48.2 267.1 L49.1 266.3 L50 266.4 L50.9 267.7 L51.8 267.8 L52.7 266.9 L53.6 266.1 L54.5 266.2 L55.4 266.4 L56.3 266.6 L57.2 267.2 L58.1 267.2 L59 266.6 L59.9 266.1 L60.8 265.8 L61.7 266.1 L62.6 266.5 L63.5 266.5 L64.4 266.5 L65.3 266.8 L66.2 267.2 L67.1 267.4 L68 266.7 L68.9 266.1 L69.8 266.8 L70.7 267.2 L71.6 266.8 L72.5 266.5 L73.4 266.6 L74.3 266.8 L75.2 266.7 L76.1 266.3 L77 266.6 L77.9 267.3 L78.8 267.6 L79.7 267.6 L80.6 267.2 L81.5 266.6 L82.4 266.6 L83.3 266.7 L84.2 266.3 L85.1 265.9 L86 265.7 L86.9 265.9 L87.8 266 L88.7 266.1 L89.6 266.5 L90.5 266.4 L91.4 266.3 L92.3 266.3 L93.2 266.6 L94.1 267 L95 266.8 L95.9 266.3 L96.8 266 L97.7 266.1 L98.6 266.3 L99.5 266.3 L100.4 266.4 L101.3 267 L102.2 267.4 L103.1 266.9 L104 266.5 L104.9 267 L105.8 268.2 L106.7 268.2 L107.6 267.5 L108.5 267 L109.4 266.5 L110.3 266.5 L111.2 266.8 L112.1 266.6 L113 266.1 L113.9 266.2 L114.8 266.8 L115.7 266.4 L116.6 265.8 L117.5 266.5 L118.4 267.1 L119.3 266.7 L120.2 266.3 L121.1 266.2 L122 266.5 L122.9 266 L123.8 265.7 L124.7 266.8 L125.6 267.6 L126.5 266.6 L127.4 266 L128.3 266.6 L129.2 267.3 L130.1 267.2 L131 266.1 L131.9 265.5 L132.8 266.2 L133.7 266.9 L134.6 267.2 L135.5 266.9 L136.4 266 L137.3 265.9 L138.2 266.6" stroke="#F6B31E" stroke-width="1.1" fill="none" stroke-linejoin="round"/>
<path d="M41 267.1 L41.9 268 L42.8 268.1 L43.7 267.6 L44.6 267.1 L45.5 266.4 L46.4 266 L47.3 266.1 L48.2 266.1 L49.1 266 L50 266.2 L50.9 266.4 L51.8 266.6 L52.7 266.9 L53.6 266.8 L54.5 267 L55.4 267.4 L56.3 267.2 L57.2 266.8 L58.1 266.7 L59 266.8 L59.9 266.8 L60.8 266.7 L61.7 267.4 L62.6 268 L63.5 267.5 L64.4 266.3 L65.3 265.7 L66.2 266.1 L67.1 266.8 L68 267.1 L68.9 266.7 L69.8 266.8 L70.7 267.2 L71.6 267 L72.5 267.2 L73.4 267 L74.3 266.3 L75.2 266.4 L76.1 266.3 L77 265.7 L77.9 265.2 L78.8 265.6 L79.7 266.4 L80.6 266.7 L81.5 266.5 L82.4 266.2 L83.3 266.2 L84.2 266.1 L85.1 265.5 L86 265.6 L86.9 266.5 L87.8 266.6 L88.7 266.2 L89.6 266.6 L90.5 267.4 L91.4 267.5 L92.3 266.8 L93.2 267.3 L94.1 267.8 L95 267.5 L95.9 266.8 L96.8 266.1 L97.7 266.7 L98.6 266.6 L99.5 266 L100.4 266.8 L101.3 267.6 L102.2 267.8 L103.1 267.5 L104 266.8 L104.9 266.2 L105.8 266.3 L106.7 266.6 L107.6 266.7 L108.5 266.6 L109.4 266.8 L110.3 267.2 L111.2 267.6 L112.1 268.3 L113 268 L113.9 266.5 L114.8 265.8 L115.7 265.6 L116.6 265.9 L117.5 266.4 L118.4 266.1 L119.3 265.9 L120.2 266.5 L121.1 266.9 L122 266.6 L122.9 266.6 L123.8 267.1 L124.7 267.2 L125.6 267.2 L126.5 267 L127.4 266.5 L128.3 266.4 L129.2 266.7 L130.1 267.2 L131 267.1 L131.9 266.7 L132.8 266.8 L133.7 266.7 L134.6 267 L135.5 266.8 L136.4 266 L137.3 265.9 L138.2 266.3" stroke="#F6B31E" stroke-width="1.1" fill="none" stroke-linejoin="round"/>
<path d="M41 266.3 L41.9 266.2 L42.8 265.9 L43.7 266.1 L44.6 265.6 L45.5 265 L46.4 265.7 L47.3 266.6 L48.2 266.9 L49.1 267 L50 267.6 L50.9 268 L51.8 267.8 L52.7 267.6 L53.6 267 L54.5 266.6 L55.4 267.1 L56.3 267.3 L57.2 267 L58.1 266.2 L59 266 L59.9 266.7 L60.8 266.7 L61.7 266.2 L62.6 266.6 L63.5 267 L64.4 267 L65.3 267.2 L66.2 266.9 L67.1 266.1 L68 266.3 L68.9 267 L69.8 267.6 L70.7 267.1 L71.6 266.1 L72.5 266.4 L73.4 267.3 L74.3 267.8 L75.2 267.5 L76.1 266.5 L77 266 L77.9 266.3 L78.8 266.5 L79.7 266.5 L80.6 267.1 L81.5 267.5 L82.4 266.6 L83.3 265.6 L84.2 266 L85.1 266.5 L86 266.1 L86.9 266.2 L87.8 266.8 L88.7 267.1 L89.6 267.1 L90.5 266.8 L91.4 266.5 L92.3 266.5 L93.2 266.8 L94.1 266.9 L95 267 L95.9 266.7 L96.8 266.4 L97.7 266.8 L98.6 267.1 L99.5 267.2 L100.4 267.2 L101.3 267.4 L102.2 267.4 L103.1 266.8 L104 266.5 L104.9 266.7 L105.8 266.3 L106.7 265.9 L107.6 266.1 L108.5 266.3 L109.4 266.2 L110.3 266 L111.2 266.2 L112.1 267.1 L113 267.7 L113.9 267.5 L114.8 266.4 L115.7 266 L116.6 266.1 L117.5 266 L118.4 266.2 L119.3 266.3 L120.2 266.4 L121.1 266.7 L122 267.2 L122.9 267.7 L123.8 267.1 L124.7 266.4 L125.6 266.5 L126.5 266.3 L127.4 266.1 L128.3 265.9 L129.2 266.3 L130.1 267 L131 266.6 L131.9 266.1 L132.8 266.2 L133.7 266.7 L134.6 267 L135.5 266.2 L136.4 265.9 L137.3 266.3 L138.2 266" stroke="#F6B31E" stroke-width="1.1" fill="none" stroke-linejoin="round"/>
<path d="M75 266.3 L75.9 266.2 L76.8 266.5 L77.7 267.1 L78.6 267.6 L79.5 267.4 L80.4 266.7 L81.3 266.6 L82.2 266.6 L83.1 266.2 L84 266.3 L84.9 266.4 L85.8 266.2 L86.7 266.3 L87.6 266.5 L88.5 266.1 L89.4 266 L90.3 266.4 L91.2 266.5 L92.1 266.5 L93 267 L93.9 266.9 L94.8 266.6 L95.7 266.5 L96.6 266.3 L97.5 266.6 L98.4 267.2 L99.3 267.1 L100.2 267 L101.1 267.1 L102 266.9 L102.9 267 L103.8 266.8 L104.7 266.7 L105.6 266.7 L106.5 266.5 L107.4 266.6 L108.3 266.7 L109.2 267.1 L110.1 267.6 L111 267.2 L111.9 266.7 L112.8 266.6 L113.7 266.5 L114.6 266.1 L115.5 266.2 L116.4 266.7 L117.3 266.7 L118.2 266.2 L119.1 266.6 L120 267 L120.9 266.8 L121.8 266.7 L122.7 266.8 L123.6 266.7 L124.5 267.2 L125.4 267.2 L126.3 266.4 L127.2 266.6 L128.1 267.1 L129 266.8 L129.9 266.5 L130.8 266.3 L131.7 266.2 L132.6 266.7 L133.5 266.9 L134.4 266.5 L135.3 266.2 L136.2 266.5 L137.1 266.7 L138 266.8 L138.9 266.8" stroke="#44507a" stroke-width="0.6" fill="none" stroke-linejoin="round"/>
<path d="M76 278.9 L76.9 278.2 L77.8 278.2 L78.7 278.7 L79.6 279 L80.5 279.1 L81.4 279 L82.3 278.8 L83.2 278.7 L84.1 278.7 L85 278.7 L85.9 278.9 L86.3 278.6 L86.8 309 L87.2 298.1 L87.7 290.4 L88.1 285.5 L88.6 282.7 L89 281.4 L89.5 280.3 L89.9 279.4 L90.4 279.1 L90.8 279.4 L91.3 279.4 L91.7 279 L92.6 279 L93.5 279.1 L94.4 279.3 L95.3 278.8 L96.2 278.3 L97.1 278.6 L98 279.2 L98.9 279 L99.8 278.8 L100.7 278.9 L101.6 279 L102.5 278.7 L103.4 278.2 L104.3 278.3 L105.2 278.8 L106.1 278.8 L107 279.1 L107.9 279.4 L108.8 279 L109.7 278.7 L110.6 278.5 L111.5 278.4 L112.4 278.4 L113.3 277.9 L114.2 278.1 L115.1 278.8 L116 279.1 L116.9 279.1 L117.8 279 L118.7 278.9 L119.6 279.1 L120.5 278.9 L121.4 278.7 L122.3 278.8 L123.2 278.7 L124.1 279 L125 279.6 L125.9 279.4 L126.8 279.2 L127.7 279 L128.6 278.9 L129.5 278.9 L130.4 278.7 L131.3 278.4 L132.2 278.4 L133.1 278.5 L134 278.2 L134.9 278.3" stroke="#F6B31E" stroke-width="0.8" fill="none" stroke-linejoin="round"/>
<path d="M76 278.4 L76.9 278.5 L77.8 278.5 L78.7 278.8 L79.6 279 L80.5 278.4 L81.4 277.9 L82.3 278.3 L83.2 278.6 L84.1 278.3 L85 278.2 L85.9 278.6 L86.3 278.6 L86.8 305 L87.2 297.6 L87.7 291.8 L88.1 287.6 L88.6 284.7 L89 282.8 L89.5 281.5 L89.9 280.6 L90.4 279.8 L90.8 279.4 L91.3 279.3 L91.7 279.1 L92.2 278.7 L92.6 278.6 L93.1 278.6 L94 278.6 L94.9 278.7 L95.8 278.3 L96.7 278 L97.6 278.6 L98.5 279.2 L99.4 279.1 L100.3 279 L101.2 278.9 L102.1 278.5 L103 278.4 L103.9 278.9 L104.8 279.3 L105.7 279.1 L106.6 279 L107.5 278.9 L108.4 278.8 L109.3 278.8 L110.2 278.8 L111.1 278.7 L112 278.4 L112.9 278.5 L113.8 278.8 L114.7 278.3 L115.6 278 L116.5 278 L117.4 278.3 L118.3 279.1 L119.2 279.4 L120.1 279 L121 278.5 L121.9 278.3 L122.8 278.5 L123.7 278.6 L124.6 278.5 L125.5 278.8 L126.4 279.1 L127.3 278.9 L128.2 278.2 L129.1 277.9 L130 278.3 L130.9 278.6 L131.8 279 L132.7 279.6 L133.6 279.5 L134.5 279.3" stroke="#F6B31E" stroke-width="0.8" fill="none" stroke-linejoin="round"/>
<path d="M76 278.8 L76.9 278.6 L77.8 278.3 L78.7 278.2 L79.6 278.3 L80.5 278.5 L81.4 278.6 L82.3 278.8 L83.2 279.1 L84.1 279 L85 278.5 L85.9 278.6 L86.3 278.6 L86.8 299 L87.2 294.3 L87.7 290.2 L88.1 287.3 L88.6 285.1 L89 283.5 L89.5 282.2 L89.9 281.2 L90.4 280.5 L90.8 280 L91.3 279.9 L91.7 279.9 L92.2 279.5 L92.6 279.6 L93.1 279.9 L93.5 279.4 L94 278.8 L94.4 278.9 L95.3 279.1 L96.2 279 L97.1 278.9 L98 278.7 L98.9 278.7 L99.8 278.8 L100.7 278.9 L101.6 278.7 L102.5 278.5 L103.4 278.6 L104.3 278.3 L105.2 278.4 L106.1 278.6 L107 278.4 L107.9 278.7 L108.8 278.6 L109.7 278.5 L110.6 278.8 L111.5 278.9 L112.4 278.7 L113.3 278.7 L114.2 279.1 L115.1 279.1 L116 278.8 L116.9 278.4 L117.8 278.3 L118.7 278.6 L119.6 279 L120.5 279.1 L121.4 279.2 L122.3 279.2 L123.2 278.8 L124.1 278.6 L125 278.9 L125.9 279 L126.8 278.5 L127.7 278.6 L128.6 279 L129.5 279.2 L130.4 279.7 L131.3 279.6 L132.2 279.1 L133.1 278.7 L134 278.7 L134.9 278.8" stroke="#F6B31E" stroke-width="0.8" fill="none" stroke-linejoin="round"/>
<path d="M76 279.3 L76.9 279.2 L77.8 278.5 L78.7 278.2 L79.6 278.8 L80.5 279 L81.4 278.6 L82.3 278.5 L83.2 278.6 L84.1 278.6 L85 278.5 L85.9 278.2 L86.3 278.6 L86.8 292 L87.2 289.4 L87.7 287 L88.1 285.2 L88.6 283.8 L89 282.7 L89.5 281.9 L89.9 281 L90.4 280.3 L90.8 279.7 L91.3 279.4 L91.7 279.6 L92.2 280 L92.6 279.7 L93.1 279.1 L93.5 279.2 L94 279.2 L94.4 279 L94.9 279.1 L95.3 279.1 L95.8 278.8 L96.2 278.7 L97.1 278.7 L98 278.6 L98.9 278.7 L99.8 278.7 L100.7 278.5 L101.6 278.5 L102.5 278.9 L103.4 279.2 L104.3 278.9 L105.2 278.7 L106.1 278.9 L107 279 L107.9 279.2 L108.8 279.1 L109.7 278.7 L110.6 278.5 L111.5 278.5 L112.4 278.7 L113.3 279.4 L114.2 279.1 L115.1 278.5 L116 278.6 L116.9 278.9 L117.8 279.1 L118.7 279 L119.6 278.8 L120.5 278.9 L121.4 278.9 L122.3 278.8 L123.2 278.7 L124.1 278.8 L125 278.8 L125.9 278.5 L126.8 278.6 L127.7 278.7 L128.6 278.7 L129.5 278.8 L130.4 278.5 L131.3 278.4 L132.2 278.6 L133.1 278.8 L134 278.7 L134.9 278.8" stroke="#F6B31E" stroke-width="0.8" fill="none" stroke-linejoin="round"/>
<path d="M76 278.3 L76.9 278.7 L77.8 279.1 L78.7 279.5 L79.6 279.6 L80.5 279 L81.4 278.3 L82.3 278.4 L83.2 279.1 L84.1 279.5 L85 279 L85.9 278.5 L86.8 278.7 L87.7 278.8 L88.6 278.5 L89.5 277.7 L90.4 277.2 L91.3 278 L92.2 279 L93.1 278.4 L94 277.7 L94.9 277.7 L95.8 278.2 L96.7 279.1 L97.6 278.9 L98.5 278.3 L99.4 278.5 L100.3 278.6 L101.2 278.7 L102.1 278.5 L103 278.2 L103.9 278.3 L104.8 278.4 L105.7 278.9 L106.6 278.7 L107.5 277.7 L108.4 277.9 L109.3 279.2 L110.2 279.3 L111.1 278.7 L112 279.1 L112.9 279 L113.8 278.5 L114.7 278.5 L115.6 278.8 L116.5 279.2 L117.4 278.6 L118.3 278.3 L119.2 279.3 L120.1 279.2 L121 278.2 L121.9 278 L122.8 278.1 L123.7 278.5 L124.6 278.8 L125.5 278.7 L126.4 278.2 L127.3 278.3 L128.2 278.8 L129.1 279.2 L130 279.4 L130.9 278.9 L131.8 278.8 L132.7 278.6 L133.6 278.6 L134.5 279.1" stroke="#F6B31E" stroke-width="1.1" fill="none" stroke-linejoin="round"/>
<path d="M76 278.6 L76.9 279.1 L77.8 279.2 L78.7 278.9 L79.6 279.5 L80.5 279.8 L81.4 279.3 L82.3 279.2 L83.2 279.8 L84.1 279.5 L85 278.5 L85.9 278.3 L86.8 278.4 L87.7 278 L88.6 278 L89.5 278.7 L90.4 278.9 L91.3 279 L92.2 279.1 L93.1 278.6 L94 278.5 L94.9 278.6 L95.8 278.4 L96.7 278.6 L97.6 278.9 L98.5 279.1 L99.4 279 L100.3 278.6 L101.2 278.2 L102.1 278 L103 278.1 L103.9 278.6 L104.8 279.2 L105.7 279.4 L106.6 279.4 L107.5 279.9 L108.4 279.8 L109.3 279.1 L110.2 278.1 L111.1 277.8 L112 278.2 L112.9 278.3 L113.8 278.2 L114.7 277.9 L115.6 278.1 L116.5 278.6 L117.4 278.3 L118.3 278.2 L119.2 278.3 L120.1 278.2 L121 278.9 L121.9 279.2 L122.8 278.4 L123.7 277.9 L124.6 277.7 L125.5 278 L126.4 278.8 L127.3 278.8 L128.2 278.1 L129.1 278.2 L130 279 L130.9 279.1 L131.8 278.2 L132.7 277.7 L133.6 277.8 L134.5 278.5" stroke="#F6B31E" stroke-width="1.1" fill="none" stroke-linejoin="round"/>
<path d="M76 278.4 L76.9 278.5 L77.8 278.2 L78.7 278.6 L79.6 278.8 L80.5 278.2 L81.4 278.3 L82.3 279.3 L83.2 279.6 L84.1 278.9 L85 279.1 L85.9 279.4 L86.8 278.7 L87.7 278.1 L88.6 278 L89.5 278.2 L90.4 278.4 L91.3 278.2 L92.2 277.8 L93.1 277.4 L94 277.4 L94.9 278 L95.8 278.6 L96.7 278.3 L97.6 278.2 L98.5 278.8 L99.4 278.8 L100.3 278.2 L101.2 278.3 L102.1 278.8 L103 278.7 L103.9 278.4 L104.8 278.5 L105.7 278.9 L106.6 278.9 L107.5 278.7 L108.4 278.9 L109.3 278.8 L110.2 278.5 L111.1 279.1 L112 279 L112.9 278.7 L113.8 278.9 L114.7 278.3 L115.6 277.8 L116.5 278.4 L117.4 279 L118.3 279 L119.2 279 L120.1 279.3 L121 279.4 L121.9 280 L122.8 280.3 L123.7 278.7 L124.6 277.4 L125.5 277.6 L126.4 278 L127.3 278.4 L128.2 278.4 L129.1 277.8 L130 277.7 L130.9 278.2 L131.8 277.8 L132.7 277.6 L133.6 278.5 L134.5 278.8" stroke="#F6B31E" stroke-width="1.1" fill="none" stroke-linejoin="round"/>
<line x1="22.6" y1="338.7" x2="148" y2="338.7" stroke="#2a2a2a" stroke-width="1"/>
<line x1="85" y1="333" x2="85" y2="398" stroke="#2a2a2a" stroke-width="1"/>
<path d="M22 338.9 L23.5 338.9 L25 338.9 L26.5 338.9 L28 338.9 L29.5 338.9 L31 338.9 L32.5 338.9 L34 339 L35.5 339 L37 339.1 L38.5 339.3 L40 339.4 L41.5 339.7 L43 340.2 L44.5 340.9 L46 341.8 L47.5 342.8 L49 344 L50.5 345.7 L52 348.1 L53.5 351.1 L55 354.5 L56.5 357.8 L58 361 L59.5 364.2 L61 367.6 L62.5 371 L64 374.4 L65.5 377.5 L67 380.3 L68.5 382.9 L70 385.4 L71.5 387.8 L73 389.9 L74.5 391.7 L76 392.9 L77.5 393.8 L79 394.7 L80.5 395.5 L82 396.1 L83.5 396.5 L85 396.6 L86.5 396.4 L88 395.9 L89.5 395.2 L91 394.4 L92.5 393.4 L94 392.5 L95.5 391.5 L97 390.2 L98.5 388.9 L100 387.4 L101.5 385.9 L103 384.5 L104.5 383.1 L106 381.7 L107.5 380.3 L109 378.9 L110.5 377.5 L112 376 L113.5 374.5 L115 373 L116.5 371.5 L118 370 L119.5 368.5 L121 367 L122.5 365.5 L124 364.1 L125.5 362.6 L127 361.2 L128.5 359.8 L130 358.3 L131.5 356.9 L133 355.4 L134.5 354 L136 352.5 L137.5 351.1 L139 349.5 L140.5 347.9 L142 346.2 L143.5 344.5 L145 342.7 L146.5 340.9 L148 339.1" stroke="#1c1c1c" stroke-width="1.1" fill="none" stroke-linejoin="round"/>
<path d="M22 339.3 L23.5 339.6 L25 339.9 L26.5 340.3 L28 340.6 L29.5 340.9 L31 341.3 L32.5 341.7 L34 342 L35.5 342.4 L37 342.8 L38.5 343.2 L40 343.6 L41.5 344 L43 344.5 L44.5 345 L46 345.5 L47.5 346 L49 346.6 L50.5 347.2 L52 347.8 L53.5 348.5 L55 349.1 L56.5 349.9 L58 350.6 L59.5 351.4 L61 352.4 L62.5 353.4 L64 354.4 L65.5 355.3 L67 356 L68.5 356.6 L70 357.2 L71.5 357.8 L73 358.3 L74.5 358.6 L76 358.8 L77.5 358.9 L79 358.9 L80.5 358.9 L82 359 L83.5 359 L85 359 L86.5 358.9 L88 358.5 L89.5 358 L91 357.5 L92.5 357 L94 356.6 L95.5 356.3 L97 356.1 L98.5 355.8 L100 355.6 L101.5 355.4 L103 355.2 L104.5 355 L106 354.9 L107.5 354.7 L109 354.6 L110.5 354.4 L112 354.2 L113.5 354 L115 353.7 L116.5 353.5 L118 353.2 L119.5 352.9 L121 352.6 L122.5 352.2 L124 351.8 L125.5 351.4 L127 350.9 L128.5 350.5 L130 350 L131.5 349.5 L133 349 L134.5 348.5 L136 347.9 L137.5 347.5 L139 347 L140.5 346.6 L142 346.2 L143.5 345.8 L145 345.4 L146.5 345.1 L148 344.8" stroke="#F6B31E" stroke-width="1.4" fill="none" stroke-linejoin="round"/>
<line x1="31" y1="337" x2="31" y2="340.8" stroke="#1c1c1c" stroke-width="0.7"/>
<line x1="30" y1="337" x2="32" y2="337" stroke="#1c1c1c" stroke-width="0.6"/>
<line x1="30" y1="340.8" x2="32" y2="340.8" stroke="#1c1c1c" stroke-width="0.6"/>
<path d="M29.1 337.2 L32.9 337.2 L31 340.6Z" stroke="#1c1c1c" stroke-width="1" fill="#fff"/>
<line x1="40" y1="337.3" x2="40" y2="341.5" stroke="#1c1c1c" stroke-width="0.7"/>
<line x1="39" y1="337.3" x2="41" y2="337.3" stroke="#1c1c1c" stroke-width="0.6"/>
<line x1="39" y1="341.5" x2="41" y2="341.5" stroke="#1c1c1c" stroke-width="0.6"/>
<path d="M38.1 337.7 L41.9 337.7 L40 341.1Z" stroke="#1c1c1c" stroke-width="1" fill="#fff"/>
<line x1="49" y1="341.8" x2="49" y2="346" stroke="#1c1c1c" stroke-width="0.7"/>
<line x1="48" y1="341.8" x2="50" y2="341.8" stroke="#1c1c1c" stroke-width="0.6"/>
<line x1="48" y1="346" x2="50" y2="346" stroke="#1c1c1c" stroke-width="0.6"/>
<path d="M47.1 342.2 L50.9 342.2 L49 345.6Z" stroke="#1c1c1c" stroke-width="1" fill="#fff"/>
<line x1="58" y1="359.4" x2="58" y2="363" stroke="#1c1c1c" stroke-width="0.7"/>
<line x1="57" y1="359.4" x2="59" y2="359.4" stroke="#1c1c1c" stroke-width="0.6"/>
<line x1="57" y1="363" x2="59" y2="363" stroke="#1c1c1c" stroke-width="0.6"/>
<path d="M56.1 359.5 L59.9 359.5 L58 362.9Z" stroke="#1c1c1c" stroke-width="1" fill="#fff"/>
<line x1="67" y1="378.9" x2="67" y2="381.7" stroke="#1c1c1c" stroke-width="0.7"/>
<line x1="66" y1="378.9" x2="68" y2="378.9" stroke="#1c1c1c" stroke-width="0.6"/>
<line x1="66" y1="381.7" x2="68" y2="381.7" stroke="#1c1c1c" stroke-width="0.6"/>
<path d="M65.2 378.6 L68.8 378.6 L67 382Z" stroke="#1c1c1c" stroke-width="1" fill="#fff"/>
<line x1="76" y1="392" x2="76" y2="393.8" stroke="#1c1c1c" stroke-width="0.7"/>
<line x1="75" y1="392" x2="77" y2="392" stroke="#1c1c1c" stroke-width="0.6"/>
<line x1="75" y1="393.8" x2="77" y2="393.8" stroke="#1c1c1c" stroke-width="0.6"/>
<path d="M74.2 391.2 L77.8 391.2 L76 394.6Z" stroke="#1c1c1c" stroke-width="1" fill="#fff"/>
<line x1="85" y1="394.9" x2="85" y2="397.7" stroke="#1c1c1c" stroke-width="0.7"/>
<line x1="84" y1="394.9" x2="86" y2="394.9" stroke="#1c1c1c" stroke-width="0.6"/>
<line x1="84" y1="397.7" x2="86" y2="397.7" stroke="#1c1c1c" stroke-width="0.6"/>
<path d="M83.2 394.6 L86.8 394.6 L85 398Z" stroke="#1c1c1c" stroke-width="1" fill="#fff"/>
<line x1="94" y1="390.3" x2="94" y2="393.9" stroke="#1c1c1c" stroke-width="0.7"/>
<line x1="93" y1="390.3" x2="95" y2="390.3" stroke="#1c1c1c" stroke-width="0.6"/>
<line x1="93" y1="393.9" x2="95" y2="393.9" stroke="#1c1c1c" stroke-width="0.6"/>
<path d="M92.2 390.4 L95.8 390.4 L94 393.8Z" stroke="#1c1c1c" stroke-width="1" fill="#fff"/>
<line x1="103" y1="382.3" x2="103" y2="386.3" stroke="#1c1c1c" stroke-width="0.7"/>
<line x1="102" y1="382.3" x2="104" y2="382.3" stroke="#1c1c1c" stroke-width="0.6"/>
<line x1="102" y1="386.3" x2="104" y2="386.3" stroke="#1c1c1c" stroke-width="0.6"/>
<path d="M101.2 382.6 L104.8 382.6 L103 386Z" stroke="#1c1c1c" stroke-width="1" fill="#fff"/>
<line x1="112" y1="374.9" x2="112" y2="379.1" stroke="#1c1c1c" stroke-width="0.7"/>
<line x1="111" y1="374.9" x2="113" y2="374.9" stroke="#1c1c1c" stroke-width="0.6"/>
<line x1="111" y1="379.1" x2="113" y2="379.1" stroke="#1c1c1c" stroke-width="0.6"/>
<path d="M110.2 375.3 L113.8 375.3 L112 378.7Z" stroke="#1c1c1c" stroke-width="1" fill="#fff"/>
<line x1="121" y1="365.1" x2="121" y2="368.9" stroke="#1c1c1c" stroke-width="0.7"/>
<line x1="120" y1="365.1" x2="122" y2="365.1" stroke="#1c1c1c" stroke-width="0.6"/>
<line x1="120" y1="368.9" x2="122" y2="368.9" stroke="#1c1c1c" stroke-width="0.6"/>
<path d="M119.2 365.3 L122.8 365.3 L121 368.7Z" stroke="#1c1c1c" stroke-width="1" fill="#fff"/>
<line x1="130" y1="356.7" x2="130" y2="359.9" stroke="#1c1c1c" stroke-width="0.7"/>
<line x1="129" y1="356.7" x2="131" y2="356.7" stroke="#1c1c1c" stroke-width="0.6"/>
<line x1="129" y1="359.9" x2="131" y2="359.9" stroke="#1c1c1c" stroke-width="0.6"/>
<path d="M128.2 356.6 L131.8 356.6 L130 360Z" stroke="#1c1c1c" stroke-width="1" fill="#fff"/>
<line x1="139" y1="348.6" x2="139" y2="350.8" stroke="#1c1c1c" stroke-width="0.7"/>
<line x1="138" y1="348.6" x2="140" y2="348.6" stroke="#1c1c1c" stroke-width="0.6"/>
<line x1="138" y1="350.8" x2="140" y2="350.8" stroke="#1c1c1c" stroke-width="0.6"/>
<path d="M137.2 348 L140.8 348 L139 351.4Z" stroke="#1c1c1c" stroke-width="1" fill="#fff"/>
<line x1="31" y1="340" x2="31" y2="343.2" stroke="#F6B31E" stroke-width="0.7"/>
<line x1="30" y1="340" x2="32" y2="340" stroke="#F6B31E" stroke-width="0.6"/>
<line x1="30" y1="343.2" x2="32" y2="343.2" stroke="#F6B31E" stroke-width="0.6"/>
<path d="M29.1 339.9 L32.9 339.9 L31 343.3Z" stroke="#F6B31E" stroke-width="1" fill="#fff"/>
<line x1="40" y1="342.1" x2="40" y2="345.7" stroke="#F6B31E" stroke-width="0.7"/>
<line x1="39" y1="342.1" x2="41" y2="342.1" stroke="#F6B31E" stroke-width="0.6"/>
<line x1="39" y1="345.7" x2="41" y2="345.7" stroke="#F6B31E" stroke-width="0.6"/>
<path d="M38.1 342.2 L41.9 342.2 L40 345.6Z" stroke="#F6B31E" stroke-width="1" fill="#fff"/>
<line x1="49" y1="344.8" x2="49" y2="348.4" stroke="#F6B31E" stroke-width="0.7"/>
<line x1="48" y1="344.8" x2="50" y2="344.8" stroke="#F6B31E" stroke-width="0.6"/>
<line x1="48" y1="348.4" x2="50" y2="348.4" stroke="#F6B31E" stroke-width="0.6"/>
<path d="M47.1 344.9 L50.9 344.9 L49 348.3Z" stroke="#F6B31E" stroke-width="1" fill="#fff"/>
<line x1="58" y1="348.2" x2="58" y2="351.4" stroke="#F6B31E" stroke-width="0.7"/>
<line x1="57" y1="348.2" x2="59" y2="348.2" stroke="#F6B31E" stroke-width="0.6"/>
<line x1="57" y1="351.4" x2="59" y2="351.4" stroke="#F6B31E" stroke-width="0.6"/>
<path d="M56.1 348.1 L59.9 348.1 L58 351.5Z" stroke="#F6B31E" stroke-width="1" fill="#fff"/>
<line x1="67" y1="356.8" x2="67" y2="359.2" stroke="#F6B31E" stroke-width="0.7"/>
<line x1="66" y1="356.8" x2="68" y2="356.8" stroke="#F6B31E" stroke-width="0.6"/>
<line x1="66" y1="359.2" x2="68" y2="359.2" stroke="#F6B31E" stroke-width="0.6"/>
<path d="M65.2 356.3 L68.8 356.3 L67 359.7Z" stroke="#F6B31E" stroke-width="1" fill="#fff"/>
<line x1="76" y1="358.3" x2="76" y2="359.9" stroke="#F6B31E" stroke-width="0.7"/>
<line x1="75" y1="358.3" x2="77" y2="358.3" stroke="#F6B31E" stroke-width="0.6"/>
<line x1="75" y1="359.9" x2="77" y2="359.9" stroke="#F6B31E" stroke-width="0.6"/>
<path d="M74.2 357.4 L77.8 357.4 L76 360.8Z" stroke="#F6B31E" stroke-width="1" fill="#fff"/>
<line x1="85" y1="357.6" x2="85" y2="360" stroke="#F6B31E" stroke-width="0.7"/>
<line x1="84" y1="357.6" x2="86" y2="357.6" stroke="#F6B31E" stroke-width="0.6"/>
<line x1="84" y1="360" x2="86" y2="360" stroke="#F6B31E" stroke-width="0.6"/>
<path d="M83.2 357.1 L86.8 357.1 L85 360.5Z" stroke="#F6B31E" stroke-width="1" fill="#fff"/>
<line x1="94" y1="354.9" x2="94" y2="357.9" stroke="#F6B31E" stroke-width="0.7"/>
<line x1="93" y1="354.9" x2="95" y2="354.9" stroke="#F6B31E" stroke-width="0.6"/>
<line x1="93" y1="357.9" x2="95" y2="357.9" stroke="#F6B31E" stroke-width="0.6"/>
<path d="M92.2 354.7 L95.8 354.7 L94 358.1Z" stroke="#F6B31E" stroke-width="1" fill="#fff"/>
<line x1="103" y1="353.4" x2="103" y2="357" stroke="#F6B31E" stroke-width="0.7"/>
<line x1="102" y1="353.4" x2="104" y2="353.4" stroke="#F6B31E" stroke-width="0.6"/>
<line x1="102" y1="357" x2="104" y2="357" stroke="#F6B31E" stroke-width="0.6"/>
<path d="M101.2 353.5 L104.8 353.5 L103 356.9Z" stroke="#F6B31E" stroke-width="1" fill="#fff"/>
<line x1="112" y1="352.9" x2="112" y2="356.5" stroke="#F6B31E" stroke-width="0.7"/>
<line x1="111" y1="352.9" x2="113" y2="352.9" stroke="#F6B31E" stroke-width="0.6"/>
<line x1="111" y1="356.5" x2="113" y2="356.5" stroke="#F6B31E" stroke-width="0.6"/>
<path d="M110.2 353 L113.8 353 L112 356.4Z" stroke="#F6B31E" stroke-width="1" fill="#fff"/>
<line x1="121" y1="351.1" x2="121" y2="354.5" stroke="#F6B31E" stroke-width="0.7"/>
<line x1="120" y1="351.1" x2="122" y2="351.1" stroke="#F6B31E" stroke-width="0.6"/>
<line x1="120" y1="354.5" x2="122" y2="354.5" stroke="#F6B31E" stroke-width="0.6"/>
<path d="M119.2 351.1 L122.8 351.1 L121 354.5Z" stroke="#F6B31E" stroke-width="1" fill="#fff"/>
<line x1="130" y1="348.8" x2="130" y2="351.4" stroke="#F6B31E" stroke-width="0.7"/>
<line x1="129" y1="348.8" x2="131" y2="348.8" stroke="#F6B31E" stroke-width="0.6"/>
<line x1="129" y1="351.4" x2="131" y2="351.4" stroke="#F6B31E" stroke-width="0.6"/>
<path d="M128.2 348.4 L131.8 348.4 L130 351.8Z" stroke="#F6B31E" stroke-width="1" fill="#fff"/>
<line x1="139" y1="345.6" x2="139" y2="347.4" stroke="#F6B31E" stroke-width="0.7"/>
<line x1="138" y1="345.6" x2="140" y2="345.6" stroke="#F6B31E" stroke-width="0.6"/>
<line x1="138" y1="347.4" x2="140" y2="347.4" stroke="#F6B31E" stroke-width="0.6"/>
<path d="M137.2 344.8 L140.8 344.8 L139 348.2Z" stroke="#F6B31E" stroke-width="1" fill="#fff"/>
<text xml:space="preserve" x="36" y="335.3" font-size="8.5" text-anchor="middle" font-weight="normal" fill="#1e1e1e" class="k"><tspan>-60</tspan></text>
<text xml:space="preserve" x="54.4" y="335.3" font-size="8.5" text-anchor="middle" font-weight="normal" fill="#1e1e1e" class="k"><tspan>-40</tspan></text>
<text xml:space="preserve" x="71.5" y="335.3" font-size="8.5" text-anchor="middle" font-weight="normal" fill="#1e1e1e" class="k"><tspan>-20</tspan></text>
<text xml:space="preserve" x="106" y="335.3" font-size="8.5" text-anchor="middle" font-weight="normal" fill="#1e1e1e" class="k"><tspan>20</tspan></text>
<text xml:space="preserve" x="124.4" y="335.3" font-size="8.5" text-anchor="middle" font-weight="normal" fill="#1e1e1e" class="k"><tspan>40</tspan></text>
<text xml:space="preserve" x="141.5" y="335.3" font-size="8.5" text-anchor="middle" font-weight="normal" fill="#1e1e1e" class="k"><tspan>60</tspan></text>
<text xml:space="preserve" x="86.5" y="351.9" font-size="8.5" text-anchor="start" font-weight="normal" fill="#1e1e1e" class="k"><tspan>-0.2</tspan></text>
<text xml:space="preserve" x="86.5" y="363.3" font-size="8.5" text-anchor="start" font-weight="normal" fill="#1e1e1e" class="k"><tspan>-0.4</tspan></text>
<text xml:space="preserve" x="86.5" y="374.6" font-size="8.5" text-anchor="start" font-weight="normal" fill="#1e1e1e" class="k"><tspan>-0.6</tspan></text>
<text xml:space="preserve" x="86.5" y="385.9" font-size="8.5" text-anchor="start" font-weight="normal" fill="#1e1e1e" class="k"><tspan>-0.8</tspan></text>
<text xml:space="preserve" x="86.5" y="397.2" font-size="8.5" text-anchor="start" font-weight="normal" fill="#1e1e1e" class="k"><tspan>-1.0</tspan></text>
<text xml:space="preserve" x="104.5" y="417.7" font-size="8.6" text-anchor="end" font-weight="normal" fill="#1e1e1e" letter-spacing="0.1" class="k"><tspan>PbTx-3</tspan><tspan font-size="6.7" dy="0.3">o</tspan><tspan dy="-0.3">: I</tspan><tspan font-size="6.7" dy="0.3">peak</tspan></text>
<path d="M107 413.1 L112.2 413.1 L109.6 417.7Z" stroke="#F6B31E" stroke-width="1.2" fill="none"/>
<text xml:space="preserve" x="104.5" y="427.2" font-size="8.6" text-anchor="end" font-weight="normal" fill="#1e1e1e" letter-spacing="0.1" class="k"><tspan>Ctr</tspan><tspan font-size="6.7" dy="0.3">o</tspan><tspan dy="-0.3">: I</tspan><tspan font-size="6.7" dy="0.3">peak</tspan></text>
<path d="M107 422.6 L112.2 422.6 L109.6 427.2Z" stroke="#1c1c1c" stroke-width="1.2" fill="none"/>
<text xml:space="preserve" x="227.3" y="253.5" font-size="9" text-anchor="middle" font-weight="bold" fill="#1e1e1e"><tspan>Brevenal</tspan><tspan font-size="7" dy="0.3">o</tspan></text>
<path d="M177.6 274.5 L191.8 274.5 L191.8 296.7" stroke="#2a2a2a" stroke-width="1.2" fill="none" stroke-linejoin="round"/>
<path d="M184.8 266.9 L185.7 267 L186.6 266.6 L187.5 266 L188.4 266.1 L189.3 266.7 L190.2 266.7 L191.1 265.6 L192 264.9 L192.9 264.8 L193.8 265.4 L194.7 266.4 L195.6 266.4 L196.5 265.8 L197.4 266.5 L198.3 267.6 L199.2 267.1 L200.1 265.8 L201 265.5 L201.9 265.2 L202.8 265.1 L203.7 266.4 L204.6 267.7 L205.5 267.5 L206.4 266.5 L207.3 266.1 L208.2 266.4 L209.1 266.4 L210 265.3 L210.9 265.4 L211.8 266.7 L212.7 267.2 L213.6 267.1 L214.5 267 L215.4 266.8 L216.3 266.4 L217.2 266.7 L218.1 267.3 L219 266.9 L219.9 266.4 L220.8 266.4 L221.7 265.8 L222.6 265.5 L223.5 266.4 L224.4 267.2 L225.3 266.6 L226.2 266 L227.1 266.5 L228 266.6 L228.9 265.6 L229.8 265.2 L230.7 266.3 L231.6 267 L232.5 266.2 L233.4 265.1 L234.3 265.3 L235.2 266.5 L236.1 266.9 L237 266.6 L237.9 266.3 L238.8 266.2 L239.7 266 L240.6 265.7 L241.5 265.8 L242.4 266 L243.3 266.3 L244.2 266.7 L245.1 266.6 L246 266.4 L246.9 266.6 L247.8 266.2 L248.7 266.4 L249.6 267.1 L250.5 266.5 L251.4 265.7 L252.3 266.4 L253.2 267.4 L254.1 266.6 L255 265.3 L255.9 265.3 L256.8 265.9 L257.7 266.3 L258.6 266.6 L259.5 266.5 L260.4 266.8 L261.3 266.4 L262.2 265.4 L263.1 265.3 L264 265.8 L264.9 266.4 L265.8 266.7 L266.7 266.6 L267.6 266.2 L268.5 264.9 L269.4 264.3 L270.3 265.4 L271.2 266.3 L272.1 265.9 L273 265.7 L273.9 266.6 L274.8 267.2 L275.7 266.4 L276.6 265.6 L277.5 266.1 L278.4 266.9 L279.3 266.8 L280.2 266.8 L281.1 267.2" stroke="#4654B9" stroke-width="1.1" fill="none" stroke-linejoin="round"/>
<path d="M184.8 266.9 L185.7 266.7 L186.6 266.2 L187.5 265.9 L188.4 266.1 L189.3 266.3 L190.2 266.2 L191.1 266 L192 265.7 L192.9 265.8 L193.8 266 L194.7 266.1 L195.6 266.2 L196.5 266.1 L197.4 265.6 L198.3 265.4 L199.2 266.1 L200.1 266.1 L201 265.7 L201.9 266 L202.8 266.3 L203.7 266.1 L204.6 266.5 L205.5 267.3 L206.4 267.6 L207.3 267.3 L208.2 266.5 L209.1 266.1 L210 266.8 L210.9 267.3 L211.8 267.1 L212.7 266.8 L213.6 266.3 L214.5 266.2 L215.4 266.9 L216.3 266.8 L217.2 266.2 L218.1 266.5 L219 266.8 L219.9 266.8 L220.8 266.8 L221.7 267.1 L222.6 267.2 L223.5 266.5 L224.4 266 L225.3 266.3 L226.2 266.2 L227.1 265.9 L228 266 L228.9 265.9 L229.8 266.7 L230.7 267.1 L231.6 266.6 L232.5 266.6 L233.4 266.8 L234.3 266.3 L235.2 265.9 L236.1 266.2 L237 266.6 L237.9 266.6 L238.8 266.7 L239.7 266.8 L240.6 266.8 L241.5 266.9 L242.4 267.1 L243.3 266.9 L244.2 266.8 L245.1 266.7 L246 266.4 L246.9 266.3 L247.8 266.8 L248.7 267 L249.6 266.7 L250.5 266.7 L251.4 266.4 L252.3 265.9 L253.2 266.4 L254.1 266.8 L255 265.9 L255.9 265.3 L256.8 265.8 L257.7 266.4 L258.6 267 L259.5 266.7 L260.4 266.1 L261.3 266 L262.2 266.1 L263.1 265.8 L264 265.7 L264.9 265.8 L265.8 266.1 L266.7 266.4 L267.6 266 L268.5 265.8 L269.4 265.6 L270.3 265.8 L271.2 266.2 L272.1 266 L273 266.1 L273.9 265.9 L274.8 266.5 L275.7 266.8 L276.6 265.4 L277.5 265.4 L278.4 266.6 L279.3 266.5 L280.2 266 L281.1 265.9" stroke="#4654B9" stroke-width="1.1" fill="none" stroke-linejoin="round"/>
<path d="M184.8 266.5 L185.7 267.3 L186.6 267.3 L187.5 266.5 L188.4 266.1 L189.3 265.9 L190.2 265.7 L191.1 265.7 L192 265.4 L192.9 264.8 L193.8 264.7 L194.7 265.5 L195.6 266.4 L196.5 266.7 L197.4 266.2 L198.3 266.2 L199.2 266.7 L200.1 266.7 L201 266.3 L201.9 266.6 L202.8 267 L203.7 266.4 L204.6 265.5 L205.5 265.5 L206.4 266 L207.3 266.7 L208.2 267 L209.1 266.7 L210 266.8 L210.9 267.3 L211.8 266.9 L212.7 266.4 L213.6 266.7 L214.5 266.6 L215.4 266.1 L216.3 266 L217.2 265.9 L218.1 265.4 L219 265.2 L219.9 265.9 L220.8 266.2 L221.7 265.8 L222.6 266.5 L223.5 267.4 L224.4 266.9 L225.3 266.5 L226.2 266.8 L227.1 266.2 L228 265.8 L228.9 265.9 L229.8 266.2 L230.7 266.7 L231.6 266.5 L232.5 266 L233.4 266 L234.3 266.1 L235.2 266.1 L236.1 266 L237 265.7 L237.9 265.7 L238.8 265.8 L239.7 265.9 L240.6 266.1 L241.5 266 L242.4 265.6 L243.3 265.6 L244.2 265.8 L245.1 266.1 L246 266.2 L246.9 266 L247.8 266.1 L248.7 266.9 L249.6 267 L250.5 266.7 L251.4 266.8 L252.3 266.5 L253.2 266.2 L254.1 266.8 L255 267.7 L255.9 267.6 L256.8 266.9 L257.7 266.4 L258.6 266.9 L259.5 267.5 L260.4 267.2 L261.3 267.1 L262.2 267.2 L263.1 267.2 L264 267.2 L264.9 266.8 L265.8 266.4 L266.7 266.7 L267.6 267.4 L268.5 267 L269.4 266.7 L270.3 266.8 L271.2 266.3 L272.1 265.9 L273 265.9 L273.9 266 L274.8 266.2 L275.7 266.4 L276.6 266.2 L277.5 265.9 L278.4 265.9 L279.3 266 L280.2 266.2 L281.1 266.7" stroke="#4654B9" stroke-width="1.1" fill="none" stroke-linejoin="round"/>
<path d="M199.8 267 L200.7 306.7 L201.1 302.5 L201.6 298.4 L202 295 L202.4 292.1 L202.9 289.6 L203.3 287.5 L203.8 285.6 L204.2 284 L204.7 282.5 L205.1 281.4 L205.6 280.6 L206 279.6 L206.5 278.6 L206.9 278 L207.4 277.3 L207.8 276.7 L208.3 276.2 L208.7 275.8 L209.2 275.4 L209.6 275 L210.1 274.5 L210.5 273.9 L211 273.6 L211.4 273.5 L211.9 273.2 L212.3 273.1 L212.8 273.2 L213.2 272.9 L213.7 272.6 L214.1 272.4 L214.6 272.3 L215 272 L215.5 271.8 L215.9 271.8 L216.4 271.4 L216.8 271 L217.3 271 L217.7 271 L218.2 270.8 L218.6 271 L219.1 271.2 L219.5 271.1 L220 270.7 L220.4 270.2 L220.9 269.8 L221.3 269.8 L221.8 270.1 L222.2 270.1 L222.7 269.9 L223.1 269.7 L223.6 269.4 L224 269.4 L224.5 269.6 L224.9 269.7 L225.4 269.8 L225.8 269.8 L226.3 269.5 L226.7 268.8 L227.2 268.7 L227.6 268.8 L228.1 268.9 L228.5 269.2 L229 269.2 L229.4 268.9 L229.9 269 L230.3 269 L230.8 268.7 L231.2 268.6 L231.7 268.8 L232.1 269 L232.6 269 L233 268.8 L233.5 268.6 L233.9 268.2 L234.4 268 L234.8 267.8 L235.3 267.6 L235.7 268.1 L236.2 268.5 L236.6 268.3 L237.1 268.2 L237.5 268.4 L238 268.4 L238.4 268.6 L238.9 268.9 L239.3 268.6 L239.8 268.4 L240.2 268.3 L240.7 268.1 L241.1 268 L241.6 268.1 L242 268 L242.5 267.5 L242.9 267.6 L243.4 267.9 L243.8 267.7 L244.3 267.6 L244.7 267.6 L245.2 267.9 L245.6 268.2 L246.1 268.3 L246.5 268 L247 267.6 L247.4 267.7 L247.9 268.1 L248.3 267.8 L248.8 267.3 L249.2 267.2 L249.7 267.3 L250.1 267.6 L250.6 267.9 L251 267.9 L251.5 267.9 L251.9 267.7 L252.4 267.5 L252.8 267.7 L253.3 267.9 L253.7 267.7 L254.2 267.4 L254.6 267.4 L255.1 267.6 L255.5 267.4 L256 267.2 L256.4 267.2 L256.9 267.2 L257.3 267.5 L257.8 267.9 L258.2 268.1 L258.7 268.2 L259.1 267.9 L259.6 267.5 L260 267.7 L260.5 268.2 L260.9 268.1 L261.4 267.2 L261.8 266.9" stroke="#1c1c1c" stroke-width="1" fill="none" stroke-linejoin="round"/>
<path d="M184.8 265.9 L185.7 265.6 L186.6 266 L187.5 266.4 L188.4 266.6 L189.3 266.7 L190.2 266.5 L191.1 266.2 L192 265.9 L192.9 265.7 L193.8 266.1 L194.7 266.6 L195.6 266.9 L196.5 266.9 L197.4 266.3 L198.3 265.9 L199.2 266.4 L199.3 266.3 L200 305.5 L200.4 291.9 L200.8 283.1 L201.3 278.1 L201.7 275.2 L202.2 273.3 L202.6 272.1 L203.1 271.3 L203.5 270.7 L204 269.9 L204.4 269.4 L204.9 269.5 L205.3 269.1 L205.8 268.6 L206.2 268.4 L206.7 268.2 L207.1 267.9 L207.6 267.9 L208 268 L208.5 267.8 L208.9 267.4 L209.4 267.2 L209.8 267.6 L210.3 267.7 L210.7 267.2 L211.2 267 L211.6 267 L212.1 267.2 L212.5 267.3 L213 267.1 L213.4 267.1 L213.9 266.9 L214.3 266.7 L214.8 266.5 L215.2 266.3 L215.7 266.4 L216.1 266.5 L216.6 266.7 L217 267 L217.5 267 L217.9 267 L218.4 266.7 L218.8 266.3 L219.3 266.5 L219.7 266.7 L220.2 266.5 L221.1 266.4 L222 266.8 L222.9 267.2 L223.8 267 L224.7 266.8 L225.6 266.9 L226.5 267.2 L227.4 267.4 L228.3 267.2 L229.2 266.8 L230.1 266.7 L231 266.7 L231.9 266.6 L232.8 266.6 L233.7 266.7 L234.6 266.4 L235.5 266.3 L236.4 266.5 L237.3 266.5 L238.2 266.2 L239.1 266.1 L240 266.5 L240.9 266.7 L241.8 266.6 L242.7 266.7 L243.6 266.6 L244.5 266.7 L245.4 267 L246.3 266.9 L247.2 267 L248.1 267.1 L249 266.7 L249.9 266.4 L250.8 266.5 L251.7 266.7 L252.6 266.5 L253.5 266.4 L254.4 266.9 L255.3 266.9 L256.2 266.6 L257.1 266.8 L258 267.2 L258.9 267.6 L259.8 267.3 L260.7 266.6 L261.6 266.3 L262.5 266.3 L263.4 266.5 L264.3 266.7 L265.2 266.8 L266.1 266.5 L267 266.1 L267.9 266.4 L268.8 267 L269.7 267.1 L270.6 266.7 L271.5 266.5 L272.4 266.5 L273.3 266.4 L274.2 266.3 L275.1 266.5 L276 266.6 L276.9 266.2 L277.8 266 L278.7 266.5 L279.6 266.7 L280.5 266.4" stroke="#4654B9" stroke-width="0.9" fill="none" stroke-linejoin="round"/>
<path d="M184.8 266.4 L185.7 266.6 L186.6 266.5 L187.5 266.2 L188.4 266.2 L189.3 266.3 L190.2 266.3 L191.1 266.2 L192 265.9 L192.9 265.6 L193.8 266 L194.7 266.2 L195.6 265.9 L196.5 265.8 L197.4 266.4 L198.3 266.7 L199.2 267.2 L199.3 266.3 L200 304 L200.4 294.3 L200.8 287 L201.3 282.1 L201.7 278.8 L202.2 276.5 L202.6 275 L203.1 273.9 L203.5 273.1 L204 272.3 L204.4 271.7 L204.9 271.2 L205.3 270.8 L205.8 270.3 L206.2 269.9 L206.7 270 L207.1 270 L207.6 269.7 L208 269.4 L208.5 269.5 L208.9 269.5 L209.4 268.9 L209.8 268.1 L210.3 268.1 L210.7 268.5 L211.2 268.6 L211.6 268.5 L212.1 268.3 L212.5 267.8 L213 267.3 L213.4 267 L213.9 267 L214.3 267 L214.8 267.1 L215.2 267.2 L215.7 267 L216.1 266.8 L216.6 267.3 L217 267.3 L217.5 266.9 L217.9 267.1 L218.4 267.2 L218.8 267.2 L219.3 267.2 L219.7 267.3 L220.2 267.3 L220.6 267.1 L221.1 266.9 L221.5 267.1 L222 267.2 L222.4 266.9 L222.9 266.6 L223.3 266.5 L223.8 266.5 L224.2 266.6 L224.7 266.8 L225.1 266.8 L225.6 266.7 L226 266.7 L226.5 267 L226.9 267.3 L227.4 267.2 L227.8 266.8 L228.3 266.7 L228.7 266.6 L229.2 266.6 L229.6 266.5 L230.1 266.3 L231 265.9 L231.9 265.8 L232.8 266.5 L233.7 266.9 L234.6 266.6 L235.5 266.6 L236.4 266.6 L237.3 266.5 L238.2 266.4 L239.1 266.4 L240 266.2 L240.9 266 L241.8 266.3 L242.7 266.3 L243.6 266 L244.5 266.4 L245.4 266.7 L246.3 266.7 L247.2 266.7 L248.1 266.4 L249 266.2 L249.9 266.3 L250.8 266.7 L251.7 267.4 L252.6 267.3 L253.5 266.7 L254.4 266.5 L255.3 266.7 L256.2 266.7 L257.1 266.3 L258 266.5 L258.9 267.1 L259.8 266.9 L260.7 266.1 L261.6 265.8 L262.5 266.2 L263.4 266.6 L264.3 266.7 L265.2 266.3 L266.1 266.1 L267 266.5 L267.9 266.8 L268.8 266.6 L269.7 266.5 L270.6 266.7 L271.5 266.5 L272.4 266.3 L273.3 266.3 L274.2 266.4 L275.1 266.7 L276 266.7 L276.9 266.4 L277.8 266.7 L278.7 266.7 L279.6 266.2 L280.5 266.5" stroke="#4654B9" stroke-width="0.9" fill="none" stroke-linejoin="round"/>
<path d="M184.8 265.7 L185.7 265.4 L186.6 265.4 L187.5 265.9 L188.4 266.3 L189.3 266.5 L190.2 266.6 L191.1 266.8 L192 266.7 L192.9 266.4 L193.8 266.1 L194.7 266.5 L195.6 267.4 L196.5 267.5 L197.4 266.9 L198.3 266.7 L199.2 266.6 L199.3 266.3 L200 302 L200.4 294.8 L200.8 288.8 L201.3 284.4 L201.7 281.1 L202.2 278.7 L202.6 277 L203.1 275.6 L203.5 274.6 L204 273.7 L204.4 273 L204.9 272.4 L205.3 271.9 L205.8 271.5 L206.2 271.2 L206.7 270.9 L207.1 270.7 L207.6 270.5 L208 270.3 L208.5 270.3 L208.9 269.8 L209.4 269.3 L209.8 269.1 L210.3 268.7 L210.7 268.8 L211.2 268.8 L211.6 268.5 L212.1 268.6 L212.5 268.9 L213 269 L213.4 268.9 L213.9 269 L214.3 268.8 L214.8 268.1 L215.2 267.9 L215.7 268.2 L216.1 268.1 L216.6 267.8 L217 267.5 L217.5 267.3 L217.9 267.2 L218.4 267 L218.8 266.9 L219.3 267.4 L219.7 268.1 L220.2 268.1 L220.6 267.6 L221.1 267.4 L221.5 267.6 L222 267.7 L222.4 267.4 L222.9 267 L223.3 267.1 L223.8 267.7 L224.2 267.9 L224.7 266.9 L225.1 266.5 L225.6 266.9 L226 267.1 L226.5 267.1 L226.9 267.3 L227.4 266.9 L227.8 266.3 L228.3 266.1 L228.7 266.4 L229.2 266.6 L229.6 266.6 L230.1 266.4 L230.5 266.3 L231 266.3 L231.4 266.4 L231.9 266.7 L232.3 267 L232.8 267.2 L233.2 266.8 L233.7 266.7 L234.1 267.2 L234.6 267.2 L235 267 L235.5 267.2 L235.9 267.3 L236.4 267.3 L236.8 267.1 L237.3 266.9 L237.7 266.5 L238.2 266.4 L238.6 266.6 L239.1 266.7 L239.5 266.7 L240 266.7 L240.4 266.6 L241.3 266.3 L242.2 266.2 L243.1 266.7 L244 266.8 L244.9 266.5 L245.8 266.7 L246.7 266.8 L247.6 266.4 L248.5 265.9 L249.4 265.9 L250.3 266.5 L251.2 266.8 L252.1 266.5 L253 266.2 L253.9 266.2 L254.8 266.4 L255.7 266.3 L256.6 265.7 L257.5 265.6 L258.4 266.4 L259.3 266.6 L260.2 266.6 L261.1 266.9 L262 266.7 L262.9 266.1 L263.8 266.4 L264.7 266.8 L265.6 266.5 L266.5 266.5 L267.4 266.8 L268.3 266.5 L269.2 266.1 L270.1 266 L271 266.2 L271.9 266.3 L272.8 266.3 L273.7 266.4 L274.6 266.3 L275.5 266.2 L276.4 266.1 L277.3 266.4 L278.2 267 L279.1 267.2 L280 267.1 L280.9 266.8" stroke="#4654B9" stroke-width="0.9" fill="none" stroke-linejoin="round"/>
<path d="M184.8 266.6 L185.7 266.7 L186.6 266.7 L187.5 266.7 L188.4 266.4 L189.3 266.1 L190.2 265.9 L191.1 265.8 L192 266 L192.9 266.3 L193.8 266.3 L194.7 266.5 L195.6 267 L196.5 266.9 L197.4 266.8 L198.3 266.4 L199.2 265.7 L199.3 266.3 L200 299 L200.4 293.6 L200.8 288.9 L201.3 285.3 L201.7 282.4 L202.2 280.3 L202.6 278.5 L203.1 277.2 L203.5 276.2 L204 275.5 L204.4 274.7 L204.9 273.9 L205.3 273.4 L205.8 272.9 L206.2 272.6 L206.7 272.4 L207.1 272.1 L207.6 271.8 L208 271.6 L208.5 271.4 L208.9 271 L209.4 270.8 L209.8 270.8 L210.3 270.4 L210.7 270 L211.2 269.8 L211.6 269.8 L212.1 269.7 L212.5 269.3 L213 269.3 L213.4 269.6 L213.9 269.6 L214.3 269.1 L214.8 268.8 L215.2 269.1 L215.7 269.5 L216.1 269.3 L216.6 268.9 L217 269.2 L217.5 269.5 L217.9 268.9 L218.4 268.2 L218.8 268.1 L219.3 268.1 L219.7 267.9 L220.2 267.7 L220.6 267.6 L221.1 267.7 L221.5 267.9 L222 267.8 L222.4 267.2 L222.9 267 L223.3 267.5 L223.8 267.9 L224.2 267.9 L224.7 267.2 L225.1 266.6 L225.6 266.8 L226 267.2 L226.5 267.1 L226.9 267 L227.4 267 L227.8 267.5 L228.3 268.1 L228.7 267.8 L229.2 267.3 L229.6 267.2 L230.1 267.2 L230.5 267.2 L231 267.1 L231.4 267.2 L231.9 267.5 L232.3 267.5 L232.8 267.5 L233.2 267.5 L233.7 267.1 L234.1 266.5 L234.6 266.3 L235 266.5 L235.5 266.9 L235.9 267.2 L236.4 267.2 L236.8 266.8 L237.3 266.7 L237.7 267.2 L238.2 267.3 L238.6 266.9 L239.1 267.1 L239.5 267.3 L240 267.1 L240.4 266.6 L240.9 266.4 L241.3 267 L241.8 267.2 L242.2 266.8 L242.7 266.5 L243.1 266.3 L243.6 266.5 L244 266.9 L244.5 266.9 L244.9 266.8 L245.4 267 L245.8 267.1 L246.3 266.9 L246.7 266.7 L247.2 266.8 L247.6 267.1 L248.1 266.7 L248.5 266.3 L249 266.5 L249.4 266.6 L249.9 266.2 L250.3 266.1 L250.8 266.4 L251.2 266.5 L251.7 266.6 L252.1 266.2 L252.6 265.9 L253 266.4 L253.5 266.8 L253.9 266.6 L254.4 266.6 L254.8 266.6 L255.3 266.6 L256.2 266.8 L257.1 266.9 L258 266.5 L258.9 266 L259.8 265.5 L260.7 265.6 L261.6 266.1 L262.5 266.6 L263.4 267 L264.3 267.1 L265.2 266.7 L266.1 266.6 L267 266.9 L267.9 267 L268.8 266.7 L269.7 266.6 L270.6 266.6 L271.5 266.6 L272.4 266.7 L273.3 266.3 L274.2 266.3 L275.1 266.6 L276 266.6 L276.9 266.5 L277.8 266.6 L278.7 266.7 L279.6 266.7 L280.5 266.8" stroke="#4654B9" stroke-width="0.9" fill="none" stroke-linejoin="round"/>
<path d="M184.8 266.4 L185.7 266.2 L186.6 266.5 L187.5 267 L188.4 266.7 L189.3 266.6 L190.2 266.5 L191.1 266 L192 265.8 L192.9 265.9 L193.8 265.8 L194.7 265.7 L195.6 266.1 L196.5 266.7 L197.4 266.7 L198.3 266.4 L199.2 266.1 L199.3 266.3 L200 295 L200.4 291.2 L200.8 287.6 L201.3 284.7 L201.7 282.4 L202.2 280.4 L202.6 278.9 L203.1 277.7 L203.5 276.6 L204 275.7 L204.4 274.9 L204.9 274.3 L205.3 273.8 L205.8 273.3 L206.2 273 L206.7 272.7 L207.1 272.3 L207.6 271.9 L208 271.6 L208.5 271.3 L208.9 271.1 L209.4 270.9 L209.8 270.8 L210.3 270.9 L210.7 270.6 L211.2 269.9 L211.6 269.9 L212.1 270.2 L212.5 270.2 L213 270.1 L213.4 270 L213.9 270 L214.3 270.1 L214.8 270 L215.2 269.7 L215.7 269.4 L216.1 269 L216.6 268.9 L217 269 L217.5 269.5 L217.9 269.7 L218.4 269.1 L218.8 268.5 L219.3 268.5 L219.7 268.7 L220.2 268.8 L220.6 269 L221.1 268.5 L221.5 268 L222 268.3 L222.4 268.3 L222.9 268.2 L223.3 268.5 L223.8 268.1 L224.2 267.5 L224.7 267.5 L225.1 268 L225.6 268.4 L226 268.4 L226.5 268 L226.9 267.9 L227.4 268.1 L227.8 268.1 L228.3 268.1 L228.7 268 L229.2 267.7 L229.6 267.6 L230.1 267.6 L230.5 267.4 L231 267.2 L231.4 267.3 L231.9 267.3 L232.3 267.4 L232.8 267.4 L233.2 267.3 L233.7 267.2 L234.1 267.5 L234.6 267.8 L235 267.4 L235.5 267.1 L235.9 267.2 L236.4 267.3 L236.8 267.2 L237.3 267.1 L237.7 267.1 L238.2 267.2 L238.6 267.3 L239.1 267.1 L239.5 266.5 L240 266.2 L240.4 266.3 L240.9 267.1 L241.3 267.6 L241.8 267.6 L242.2 267.4 L242.7 267.3 L243.1 267.1 L243.6 266.7 L244 266.4 L244.5 266.4 L244.9 266.8 L245.4 267.3 L245.8 267.4 L246.3 267.1 L246.7 267 L247.2 266.9 L247.6 266.5 L248.1 266.2 L248.5 266.2 L249 266.3 L249.4 266.5 L249.9 266.7 L250.3 266.7 L250.8 266.8 L251.2 266.8 L251.7 266.7 L252.1 266.7 L252.6 266.4 L253 266.6 L253.5 266.8 L253.9 266.4 L254.4 266.3 L254.8 266.6 L255.3 266.8 L255.7 267 L256.2 267.1 L256.6 266.8 L257.1 266.9 L257.5 267.1 L258 266.8 L258.4 266.5 L258.9 266.7 L259.3 266.9 L259.8 266.9 L260.2 266.8 L260.7 266.7 L261.1 266.5 L261.6 266.2 L262 266.3 L262.5 266.7 L262.9 266.7 L263.4 266.4 L263.8 266.3 L264.3 266.4 L264.7 266.9 L265.2 267.2 L265.6 266.7 L266.1 266.4 L266.5 266.9 L267 266.8 L267.4 266.3 L267.9 266.6 L268.3 266.8 L268.8 266.5 L269.2 266.6 L269.7 266.5 L270.1 266.2 L271 266.3 L271.9 266.3 L272.8 266.5 L273.7 267 L274.6 266.7 L275.5 266.5 L276.4 266.7 L277.3 266.9 L278.2 266.9 L279.1 266.8 L280 266.7 L280.9 266.7" stroke="#4654B9" stroke-width="0.9" fill="none" stroke-linejoin="round"/>
<path d="M219.7 277.6 L220.6 277.3 L221.5 277.5 L222.4 277.8 L223.3 277.9 L224.2 277.7 L225.1 277.4 L226 277.4 L226.9 277.5 L227.8 277.5 L228.7 277.3 L228.9 277.6 L229.4 312 L229.8 307.1 L230.2 302.5 L230.7 298.6 L231.1 295.3 L231.6 292.4 L232 290 L232.5 288 L232.9 286.5 L233.4 285.3 L233.8 284.1 L234.3 283 L234.7 282.3 L235.2 281.5 L235.6 280.8 L236.1 280.3 L236.5 279.6 L237 279.3 L237.4 279.2 L237.9 278.8 L238.3 278.6 L238.8 278.4 L239.2 278.3 L239.7 278.3 L240.1 277.9 L240.6 277.6 L241 277.8 L241.5 278 L241.9 277.8 L242.4 278 L242.8 278.1 L243.7 277.9 L244.6 277.7 L245.5 277.6 L246.4 277.9 L247.3 278.4 L248.2 278.7 L249.1 278.5 L250 278.2 L250.9 278.1 L251.8 277.9 L252.7 277.9 L253.6 277.7 L254.5 277.7 L255.4 278 L256.3 278.2 L257.2 278 L258.1 277.6 L259 277.6 L259.9 277.6 L260.8 277.4 L261.7 277.4 L262.6 277.8 L263.5 277.8 L264.4 277.4 L265.3 277.2 L266.2 277.6 L267.1 278 L268 277.9 L268.9 277.8 L269.8 277.9 L270.7 277.9 L271.6 278 L272.5 278.1 L273.4 278.1 L274.3 277.9 L275.2 277.6 L276.1 277.6 L277 277.7 L277.9 277.8 L278.8 277.7 L279.7 277.6 L280.6 277.7" stroke="#4654B9" stroke-width="0.8" fill="none" stroke-linejoin="round"/>
<path d="M219.7 277.9 L220.6 277.7 L221.5 277.5 L222.4 277.4 L223.3 277.6 L224.2 278 L225.1 278 L226 277.7 L226.9 277.3 L227.8 277.2 L228.7 277.5 L228.9 277.6 L229.4 308 L229.8 302.5 L230.2 297.5 L230.7 293.6 L231.1 290.6 L231.6 288.1 L232 286 L232.5 284.4 L232.9 283.1 L233.4 282 L233.8 281.2 L234.3 280.6 L234.7 279.7 L235.2 279.1 L235.6 279.1 L236.1 279 L236.5 278.9 L237 278.6 L237.4 278.3 L237.9 278.4 L238.3 278.5 L238.8 278.1 L239.2 277.7 L239.7 277.7 L240.6 278.3 L241.5 278.3 L242.4 277.8 L243.3 278 L244.2 278.1 L245.1 277.7 L246 277.5 L246.9 277.4 L247.8 277.5 L248.7 277.8 L249.6 278 L250.5 278 L251.4 278.1 L252.3 277.8 L253.2 277.7 L254.1 278.2 L255 278.2 L255.9 278 L256.8 278.3 L257.7 278.2 L258.6 278.2 L259.5 278 L260.4 277.2 L261.3 277.1 L262.2 277.8 L263.1 277.7 L264 277.7 L264.9 278.2 L265.8 278 L266.7 277.4 L267.6 277.6 L268.5 278.2 L269.4 278.1 L270.3 277.5 L271.2 277.6 L272.1 277.5 L273 277.3 L273.9 277.3 L274.8 277.3 L275.7 277.7 L276.6 278.3 L277.5 278.3 L278.4 278.2 L279.3 278.1 L280.2 278.1" stroke="#4654B9" stroke-width="0.8" fill="none" stroke-linejoin="round"/>
<path d="M219.7 277.5 L220.6 277.6 L221.5 278.1 L222.4 278.1 L223.3 277.6 L224.2 277.4 L225.1 277.7 L226 277.7 L226.9 277.6 L227.8 277.8 L228.7 277.9 L228.9 277.6 L229.4 303 L229.8 297.2 L230.2 292.3 L230.7 288.6 L231.1 285.7 L231.6 283.6 L232 282.1 L232.5 280.9 L232.9 280.2 L233.4 279.7 L233.8 279.1 L234.3 278.8 L234.7 278.5 L235.2 278.1 L235.6 278.2 L236.1 278.3 L236.5 277.8 L237 277.6 L237.9 277.8 L238.8 277.5 L239.7 277.5 L240.6 277.8 L241.5 277.7 L242.4 277.3 L243.3 277.1 L244.2 277.4 L245.1 277.9 L246 278 L246.9 277.9 L247.8 277.9 L248.7 277.9 L249.6 277.6 L250.5 277.8 L251.4 278.1 L252.3 278 L253.2 278.1 L254.1 278.2 L255 278.2 L255.9 277.9 L256.8 277.9 L257.7 278 L258.6 277.9 L259.5 277.8 L260.4 277.6 L261.3 277.6 L262.2 277.8 L263.1 278 L264 277.7 L264.9 277.4 L265.8 277.5 L266.7 277.6 L267.6 277.7 L268.5 278.1 L269.4 278.2 L270.3 278 L271.2 277.7 L272.1 277.7 L273 277.9 L273.9 277.6 L274.8 277.7 L275.7 277.8 L276.6 277.7 L277.5 277.6 L278.4 277.6 L279.3 277.6 L280.2 277.3" stroke="#4654B9" stroke-width="0.8" fill="none" stroke-linejoin="round"/>
<path d="M219.7 277.5 L220.6 277.1 L221.5 276.5 L222.4 277.3 L223.3 277.9 L224.2 278.1 L225.1 278.1 L226 277.9 L226.9 277.6 L227.8 277.5 L228.7 277.7 L228.9 277.6 L229.4 298 L229.8 291.8 L230.2 287.1 L230.7 284 L231.1 281.9 L231.6 280.5 L232 279.7 L232.5 279.2 L232.9 278.6 L233.4 278.6 L233.8 279 L234.3 278.4 L234.7 277.9 L235.2 278.1 L236.1 278.3 L237 278 L237.9 277.4 L238.8 277.3 L239.7 277.5 L240.6 278.1 L241.5 278 L242.4 277.8 L243.3 278 L244.2 277.9 L245.1 277.8 L246 278.1 L246.9 277.7 L247.8 277.5 L248.7 278.2 L249.6 278.6 L250.5 278.5 L251.4 278 L252.3 277.8 L253.2 278.2 L254.1 278.6 L255 278.5 L255.9 278.3 L256.8 278 L257.7 278.1 L258.6 278 L259.5 277.3 L260.4 277.1 L261.3 277.4 L262.2 277.8 L263.1 277.9 L264 277.8 L264.9 277.8 L265.8 277.8 L266.7 277.9 L267.6 278.1 L268.5 278 L269.4 277.9 L270.3 277.8 L271.2 277.9 L272.1 277.9 L273 278 L273.9 278.2 L274.8 278.1 L275.7 277.8 L276.6 277.6 L277.5 277.7 L278.4 277.8 L279.3 277.8 L280.2 277.5" stroke="#4654B9" stroke-width="0.8" fill="none" stroke-linejoin="round"/>
<path d="M219.7 278.3 L220.6 277.3 L221.5 276.6 L222.4 276.7 L223.3 276.4 L224.2 276.8 L225.1 278 L226 278 L226.9 277.3 L227.8 277.2 L228.7 277 L229.6 276.9 L230.5 277.4 L231.4 278 L232.3 278.2 L233.2 277.8 L234.1 277.7 L235 277.8 L235.9 277.7 L236.8 277.6 L237.7 277.7 L238.6 277.4 L239.5 277.1 L240.4 277.5 L241.3 277.9 L242.2 278.3 L243.1 278.7 L244 277.8 L244.9 276.5 L245.8 276.4 L246.7 276.5 L247.6 277.1 L248.5 277.5 L249.4 276.9 L250.3 276.8 L251.2 277.4 L252.1 277.9 L253 278.4 L253.9 278.3 L254.8 278.4 L255.7 278.5 L256.6 277.8 L257.5 277.3 L258.4 277.2 L259.3 277.8 L260.2 278.5 L261.1 278.5 L262 277.8 L262.9 277.1 L263.8 276.8 L264.7 276.8 L265.6 277.7 L266.5 277.8 L267.4 276.3 L268.3 276.4 L269.2 277.4 L270.1 277.3 L271 277.1 L271.9 277.3 L272.8 277.9 L273.7 278.3 L274.6 278.1 L275.5 278.1 L276.4 278 L277.3 278.4 L278.2 278.9 L279.1 278.5 L280 277.4 L280.9 277.1" stroke="#4654B9" stroke-width="1.1" fill="none" stroke-linejoin="round"/>
<path d="M219.7 277.8 L220.6 277.9 L221.5 277.8 L222.4 277.9 L223.3 277.7 L224.2 277.6 L225.1 278.2 L226 278.3 L226.9 278.1 L227.8 278.3 L228.7 278.5 L229.6 278.3 L230.5 277.9 L231.4 277.2 L232.3 276.9 L233.2 277.3 L234.1 277.5 L235 278 L235.9 278.3 L236.8 277.4 L237.7 277.5 L238.6 278.5 L239.5 278.7 L240.4 278.2 L241.3 277.1 L242.2 277.1 L243.1 277.7 L244 278.1 L244.9 278.5 L245.8 278.2 L246.7 277.9 L247.6 277.9 L248.5 277.7 L249.4 277.5 L250.3 277.4 L251.2 277.4 L252.1 277.5 L253 277.3 L253.9 276.7 L254.8 276.7 L255.7 277.6 L256.6 277.7 L257.5 277.2 L258.4 277.1 L259.3 277.6 L260.2 278 L261.1 277.8 L262 277.9 L262.9 277.8 L263.8 277.6 L264.7 277.6 L265.6 277.7 L266.5 278.2 L267.4 278.2 L268.3 277.5 L269.2 277.7 L270.1 278.8 L271 278.9 L271.9 278 L272.8 277.6 L273.7 277.8 L274.6 278.1 L275.5 278 L276.4 277.5 L277.3 277.3 L278.2 277.6 L279.1 278.6 L280 278.8 L280.9 278.2" stroke="#4654B9" stroke-width="1.1" fill="none" stroke-linejoin="round"/>
<path d="M219.7 278.1 L220.6 278.1 L221.5 278.1 L222.4 278.4 L223.3 277.7 L224.2 277 L225.1 277.4 L226 278.2 L226.9 278.6 L227.8 278.1 L228.7 277.7 L229.6 277.9 L230.5 277.6 L231.4 277.1 L232.3 277.3 L233.2 277.9 L234.1 278.9 L235 278.9 L235.9 277.5 L236.8 276.8 L237.7 276.9 L238.6 277 L239.5 277.2 L240.4 277.8 L241.3 277.9 L242.2 277 L243.1 276.2 L244 276.7 L244.9 278.1 L245.8 278.2 L246.7 276.9 L247.6 276.6 L248.5 277.6 L249.4 278.5 L250.3 278.5 L251.2 278.2 L252.1 278.1 L253 277.9 L253.9 278 L254.8 278.5 L255.7 277.9 L256.6 277 L257.5 276.8 L258.4 276.8 L259.3 277.6 L260.2 277.9 L261.1 277.6 L262 278.4 L262.9 279.1 L263.8 278.1 L264.7 277 L265.6 276.9 L266.5 277 L267.4 276.7 L268.3 276.7 L269.2 277.2 L270.1 277.7 L271 277.7 L271.9 277.7 L272.8 278.6 L273.7 278.9 L274.6 278.2 L275.5 278 L276.4 278.3 L277.3 278.4 L278.2 278.7 L279.1 278.4 L280 277.4 L280.9 277.7" stroke="#4654B9" stroke-width="1.1" fill="none" stroke-linejoin="round"/>
<line x1="166.4" y1="338.8" x2="292" y2="338.8" stroke="#2a2a2a" stroke-width="1"/>
<line x1="229.8" y1="333" x2="229.8" y2="397" stroke="#2a2a2a" stroke-width="1"/>
<path d="M167.9 339 L169.3 339 L170.8 339 L172.3 339 L173.8 339 L175.2 339 L176.7 339 L178.2 339 L179.7 339 L181.1 339 L182.6 339 L184.1 339 L185.6 339 L187 339.1 L188.5 339.4 L190 339.8 L191.5 340.3 L192.9 340.8 L194.4 341.3 L195.9 341.7 L197.4 342.1 L198.8 342.6 L200.3 343.1 L201.8 343.7 L203.2 344.5 L204.7 345.8 L206.2 347.7 L207.7 350.1 L209.2 353 L210.6 356 L212.1 359 L213.6 362.5 L215.1 366.6 L216.5 371.1 L218 375.6 L219.5 379.6 L221 383 L222.4 385.9 L223.9 388.9 L225.4 391.6 L226.9 393.9 L228.3 395.6 L229.8 396.5 L231.3 396.9 L232.8 397.3 L234.2 397.6 L235.7 397.8 L237.2 398 L238.7 398 L240.1 397.8 L241.6 397.3 L243.1 396.5 L244.6 395.5 L246 394.5 L247.5 393.5 L249 392.4 L250.5 391.2 L251.9 389.9 L253.4 388.4 L254.9 387 L256.4 385.5 L257.8 384 L259.3 382.4 L260.8 380.7 L262.2 379 L263.7 377.4 L265.2 375.8 L266.7 374.3 L268.2 372.8 L269.6 371.4 L271.1 370 L272.6 368.5 L274.1 367 L275.5 365.4 L277 363.7 L278.5 362.1 L280 360.4 L281.4 358.7 L282.9 357 L284.4 355.4 L285.9 353.7 L287.3 352.1 L288.8 350.5 L290.3 348.9 L291.8 347.3" stroke="#1c1c1c" stroke-width="1.1" fill="none" stroke-linejoin="round"/>
<path d="M167.9 339.8 L169.3 339.8 L170.8 339.8 L172.3 339.8 L173.8 339.8 L175.2 339.8 L176.7 339.8 L178.2 339.8 L179.7 339.9 L181.1 339.9 L182.6 340 L184.1 340.1 L185.6 340.2 L187 340.3 L188.5 340.5 L190 340.7 L191.5 341 L192.9 341.4 L194.4 341.8 L195.9 342.5 L197.4 343.6 L198.8 345.1 L200.3 346.8 L201.8 348.8 L203.2 350.8 L204.7 353.3 L206.2 356.4 L207.7 359.9 L209.2 363.6 L210.6 367.1 L212.1 370.1 L213.6 372.9 L215.1 375.6 L216.5 378.3 L218 380.7 L219.5 382.7 L221 384.3 L222.4 385.6 L223.9 386.9 L225.4 388 L226.9 389 L228.3 389.6 L229.8 389.8 L231.3 389.7 L232.8 389.5 L234.2 389.1 L235.7 388.6 L237.2 388.1 L238.7 387.6 L240.1 386.9 L241.6 386 L243.1 385 L244.6 383.9 L246 382.7 L247.5 381.6 L249 380.5 L250.5 379.3 L251.9 378.1 L253.4 376.9 L254.9 375.7 L256.4 374.5 L257.8 373.4 L259.3 372.3 L260.8 371.2 L262.2 370.1 L263.7 369 L265.2 367.8 L266.7 366.6 L268.2 365.3 L269.6 364 L271.1 362.7 L272.6 361.4 L274.1 360.2 L275.5 359 L277 357.8 L278.5 356.7 L280 355.6 L281.4 354.4 L282.9 353.3 L284.4 352.2 L285.9 351 L287.3 349.9 L288.8 348.8 L290.3 347.6 L291.8 346.5" stroke="#4654B9" stroke-width="1.4" fill="none" stroke-linejoin="round"/>
<line x1="167.9" y1="337.8" x2="167.9" y2="340.2" stroke="#1c1c1c" stroke-width="0.7"/>
<line x1="166.9" y1="337.8" x2="168.9" y2="337.8" stroke="#1c1c1c" stroke-width="0.6"/>
<line x1="166.9" y1="340.2" x2="168.9" y2="340.2" stroke="#1c1c1c" stroke-width="0.6"/>
<path d="M166 337.3 L169.7 337.3 L167.9 340.7Z" stroke="#1c1c1c" stroke-width="1" fill="#fff"/>
<line x1="176.7" y1="337.5" x2="176.7" y2="340.5" stroke="#1c1c1c" stroke-width="0.7"/>
<line x1="175.7" y1="337.5" x2="177.7" y2="337.5" stroke="#1c1c1c" stroke-width="0.6"/>
<line x1="175.7" y1="340.5" x2="177.7" y2="340.5" stroke="#1c1c1c" stroke-width="0.6"/>
<path d="M174.9 337.3 L178.6 337.3 L176.7 340.7Z" stroke="#1c1c1c" stroke-width="1" fill="#fff"/>
<line x1="185.6" y1="337.3" x2="185.6" y2="340.7" stroke="#1c1c1c" stroke-width="0.7"/>
<line x1="184.6" y1="337.3" x2="186.6" y2="337.3" stroke="#1c1c1c" stroke-width="0.6"/>
<line x1="184.6" y1="340.7" x2="186.6" y2="340.7" stroke="#1c1c1c" stroke-width="0.6"/>
<path d="M183.7 337.3 L187.4 337.3 L185.6 340.7Z" stroke="#1c1c1c" stroke-width="1" fill="#fff"/>
<line x1="194.4" y1="339.6" x2="194.4" y2="343" stroke="#1c1c1c" stroke-width="0.7"/>
<line x1="193.4" y1="339.6" x2="195.4" y2="339.6" stroke="#1c1c1c" stroke-width="0.6"/>
<line x1="193.4" y1="343" x2="195.4" y2="343" stroke="#1c1c1c" stroke-width="0.6"/>
<path d="M192.6 339.6 L196.2 339.6 L194.4 343Z" stroke="#1c1c1c" stroke-width="1" fill="#fff"/>
<line x1="203.2" y1="342.3" x2="203.2" y2="345.3" stroke="#1c1c1c" stroke-width="0.7"/>
<line x1="202.2" y1="342.3" x2="204.2" y2="342.3" stroke="#1c1c1c" stroke-width="0.6"/>
<line x1="202.2" y1="345.3" x2="204.2" y2="345.3" stroke="#1c1c1c" stroke-width="0.6"/>
<path d="M201.4 342.1 L205.1 342.1 L203.2 345.5Z" stroke="#1c1c1c" stroke-width="1" fill="#fff"/>
<line x1="212.1" y1="357.1" x2="212.1" y2="359.5" stroke="#1c1c1c" stroke-width="0.7"/>
<line x1="211.1" y1="357.1" x2="213.1" y2="357.1" stroke="#1c1c1c" stroke-width="0.6"/>
<line x1="211.1" y1="359.5" x2="213.1" y2="359.5" stroke="#1c1c1c" stroke-width="0.6"/>
<path d="M210.3 356.6 L214 356.6 L212.1 360Z" stroke="#1c1c1c" stroke-width="1" fill="#fff"/>
<line x1="221" y1="381.9" x2="221" y2="383.5" stroke="#1c1c1c" stroke-width="0.7"/>
<line x1="220" y1="381.9" x2="222" y2="381.9" stroke="#1c1c1c" stroke-width="0.6"/>
<line x1="220" y1="383.5" x2="222" y2="383.5" stroke="#1c1c1c" stroke-width="0.6"/>
<path d="M219.1 381 L222.8 381 L221 384.4Z" stroke="#1c1c1c" stroke-width="1" fill="#fff"/>
<line x1="229.8" y1="393.9" x2="229.8" y2="396.1" stroke="#1c1c1c" stroke-width="0.7"/>
<line x1="228.8" y1="393.9" x2="230.8" y2="393.9" stroke="#1c1c1c" stroke-width="0.6"/>
<line x1="228.8" y1="396.1" x2="230.8" y2="396.1" stroke="#1c1c1c" stroke-width="0.6"/>
<path d="M228 393.3 L231.7 393.3 L229.8 396.7Z" stroke="#1c1c1c" stroke-width="1" fill="#fff"/>
<line x1="238.7" y1="394.7" x2="238.7" y2="397.5" stroke="#1c1c1c" stroke-width="0.7"/>
<line x1="237.7" y1="394.7" x2="239.7" y2="394.7" stroke="#1c1c1c" stroke-width="0.6"/>
<line x1="237.7" y1="397.5" x2="239.7" y2="397.5" stroke="#1c1c1c" stroke-width="0.6"/>
<path d="M236.8 394.4 L240.5 394.4 L238.7 397.8Z" stroke="#1c1c1c" stroke-width="1" fill="#fff"/>
<line x1="247.5" y1="390.5" x2="247.5" y2="393.7" stroke="#1c1c1c" stroke-width="0.7"/>
<line x1="246.5" y1="390.5" x2="248.5" y2="390.5" stroke="#1c1c1c" stroke-width="0.6"/>
<line x1="246.5" y1="393.7" x2="248.5" y2="393.7" stroke="#1c1c1c" stroke-width="0.6"/>
<path d="M245.7 390.4 L249.3 390.4 L247.5 393.8Z" stroke="#1c1c1c" stroke-width="1" fill="#fff"/>
<line x1="256.4" y1="383.3" x2="256.4" y2="386.7" stroke="#1c1c1c" stroke-width="0.7"/>
<line x1="255.4" y1="383.3" x2="257.4" y2="383.3" stroke="#1c1c1c" stroke-width="0.6"/>
<line x1="255.4" y1="386.7" x2="257.4" y2="386.7" stroke="#1c1c1c" stroke-width="0.6"/>
<path d="M254.5 383.3 L258.2 383.3 L256.4 386.7Z" stroke="#1c1c1c" stroke-width="1" fill="#fff"/>
<line x1="265.2" y1="373.3" x2="265.2" y2="376.3" stroke="#1c1c1c" stroke-width="0.7"/>
<line x1="264.2" y1="373.3" x2="266.2" y2="373.3" stroke="#1c1c1c" stroke-width="0.6"/>
<line x1="264.2" y1="376.3" x2="266.2" y2="376.3" stroke="#1c1c1c" stroke-width="0.6"/>
<path d="M263.3 373.1 L267.1 373.1 L265.2 376.5Z" stroke="#1c1c1c" stroke-width="1" fill="#fff"/>
<line x1="274.1" y1="365.8" x2="274.1" y2="368.2" stroke="#1c1c1c" stroke-width="0.7"/>
<line x1="273.1" y1="365.8" x2="275.1" y2="365.8" stroke="#1c1c1c" stroke-width="0.6"/>
<line x1="273.1" y1="368.2" x2="275.1" y2="368.2" stroke="#1c1c1c" stroke-width="0.6"/>
<path d="M272.2 365.3 L275.9 365.3 L274.1 368.7Z" stroke="#1c1c1c" stroke-width="1" fill="#fff"/>
<line x1="167.9" y1="338.8" x2="167.9" y2="340.8" stroke="#4654B9" stroke-width="0.7"/>
<line x1="166.9" y1="338.8" x2="168.9" y2="338.8" stroke="#4654B9" stroke-width="0.6"/>
<line x1="166.9" y1="340.8" x2="168.9" y2="340.8" stroke="#4654B9" stroke-width="0.6"/>
<path d="M166 338.1 L169.7 338.1 L167.9 341.5Z" stroke="#4654B9" stroke-width="1" fill="#fff"/>
<line x1="176.7" y1="338.6" x2="176.7" y2="341" stroke="#4654B9" stroke-width="0.7"/>
<line x1="175.7" y1="338.6" x2="177.7" y2="338.6" stroke="#4654B9" stroke-width="0.6"/>
<line x1="175.7" y1="341" x2="177.7" y2="341" stroke="#4654B9" stroke-width="0.6"/>
<path d="M174.9 338.1 L178.6 338.1 L176.7 341.5Z" stroke="#4654B9" stroke-width="1" fill="#fff"/>
<line x1="185.6" y1="338.8" x2="185.6" y2="341.6" stroke="#4654B9" stroke-width="0.7"/>
<line x1="184.6" y1="338.8" x2="186.6" y2="338.8" stroke="#4654B9" stroke-width="0.6"/>
<line x1="184.6" y1="341.6" x2="186.6" y2="341.6" stroke="#4654B9" stroke-width="0.6"/>
<path d="M183.7 338.5 L187.4 338.5 L185.6 341.9Z" stroke="#4654B9" stroke-width="1" fill="#fff"/>
<line x1="194.4" y1="340.4" x2="194.4" y2="343.2" stroke="#4654B9" stroke-width="0.7"/>
<line x1="193.4" y1="340.4" x2="195.4" y2="340.4" stroke="#4654B9" stroke-width="0.6"/>
<line x1="193.4" y1="343.2" x2="195.4" y2="343.2" stroke="#4654B9" stroke-width="0.6"/>
<path d="M192.6 340.1 L196.2 340.1 L194.4 343.5Z" stroke="#4654B9" stroke-width="1" fill="#fff"/>
<line x1="203.2" y1="349.6" x2="203.2" y2="352" stroke="#4654B9" stroke-width="0.7"/>
<line x1="202.2" y1="349.6" x2="204.2" y2="349.6" stroke="#4654B9" stroke-width="0.6"/>
<line x1="202.2" y1="352" x2="204.2" y2="352" stroke="#4654B9" stroke-width="0.6"/>
<path d="M201.4 349.1 L205.1 349.1 L203.2 352.5Z" stroke="#4654B9" stroke-width="1" fill="#fff"/>
<line x1="212.1" y1="369.1" x2="212.1" y2="371.1" stroke="#4654B9" stroke-width="0.7"/>
<line x1="211.1" y1="369.1" x2="213.1" y2="369.1" stroke="#4654B9" stroke-width="0.6"/>
<line x1="211.1" y1="371.1" x2="213.1" y2="371.1" stroke="#4654B9" stroke-width="0.6"/>
<path d="M210.3 368.4 L214 368.4 L212.1 371.8Z" stroke="#4654B9" stroke-width="1" fill="#fff"/>
<line x1="221" y1="383.7" x2="221" y2="384.9" stroke="#4654B9" stroke-width="0.7"/>
<line x1="220" y1="383.7" x2="222" y2="383.7" stroke="#4654B9" stroke-width="0.6"/>
<line x1="220" y1="384.9" x2="222" y2="384.9" stroke="#4654B9" stroke-width="0.6"/>
<path d="M219.1 382.6 L222.8 382.6 L221 386Z" stroke="#4654B9" stroke-width="1" fill="#fff"/>
<line x1="229.8" y1="388.6" x2="229.8" y2="390.4" stroke="#4654B9" stroke-width="0.7"/>
<line x1="228.8" y1="388.6" x2="230.8" y2="388.6" stroke="#4654B9" stroke-width="0.6"/>
<line x1="228.8" y1="390.4" x2="230.8" y2="390.4" stroke="#4654B9" stroke-width="0.6"/>
<path d="M228 387.8 L231.7 387.8 L229.8 391.2Z" stroke="#4654B9" stroke-width="1" fill="#fff"/>
<line x1="238.7" y1="385.4" x2="238.7" y2="387.8" stroke="#4654B9" stroke-width="0.7"/>
<line x1="237.7" y1="385.4" x2="239.7" y2="385.4" stroke="#4654B9" stroke-width="0.6"/>
<line x1="237.7" y1="387.8" x2="239.7" y2="387.8" stroke="#4654B9" stroke-width="0.6"/>
<path d="M236.8 384.9 L240.5 384.9 L238.7 388.3Z" stroke="#4654B9" stroke-width="1" fill="#fff"/>
<line x1="247.5" y1="379.7" x2="247.5" y2="382.5" stroke="#4654B9" stroke-width="0.7"/>
<line x1="246.5" y1="379.7" x2="248.5" y2="379.7" stroke="#4654B9" stroke-width="0.6"/>
<line x1="246.5" y1="382.5" x2="248.5" y2="382.5" stroke="#4654B9" stroke-width="0.6"/>
<path d="M245.7 379.4 L249.3 379.4 L247.5 382.8Z" stroke="#4654B9" stroke-width="1" fill="#fff"/>
<line x1="256.4" y1="373.1" x2="256.4" y2="375.9" stroke="#4654B9" stroke-width="0.7"/>
<line x1="255.4" y1="373.1" x2="257.4" y2="373.1" stroke="#4654B9" stroke-width="0.6"/>
<line x1="255.4" y1="375.9" x2="257.4" y2="375.9" stroke="#4654B9" stroke-width="0.6"/>
<path d="M254.5 372.8 L258.2 372.8 L256.4 376.2Z" stroke="#4654B9" stroke-width="1" fill="#fff"/>
<line x1="265.2" y1="366.5" x2="265.2" y2="369.1" stroke="#4654B9" stroke-width="0.7"/>
<line x1="264.2" y1="366.5" x2="266.2" y2="366.5" stroke="#4654B9" stroke-width="0.6"/>
<line x1="264.2" y1="369.1" x2="266.2" y2="369.1" stroke="#4654B9" stroke-width="0.6"/>
<path d="M263.3 366.1 L267.1 366.1 L265.2 369.5Z" stroke="#4654B9" stroke-width="1" fill="#fff"/>
<line x1="274.1" y1="359.2" x2="274.1" y2="361.2" stroke="#4654B9" stroke-width="0.7"/>
<line x1="273.1" y1="359.2" x2="275.1" y2="359.2" stroke="#4654B9" stroke-width="0.6"/>
<line x1="273.1" y1="361.2" x2="275.1" y2="361.2" stroke="#4654B9" stroke-width="0.6"/>
<path d="M272.2 358.5 L275.9 358.5 L274.1 361.9Z" stroke="#4654B9" stroke-width="1" fill="#fff"/>
<text xml:space="preserve" x="181" y="335.8" font-size="8.5" text-anchor="middle" font-weight="normal" fill="#1e1e1e" class="k"><tspan>-60</tspan></text>
<text xml:space="preserve" x="199.4" y="335.8" font-size="8.5" text-anchor="middle" font-weight="normal" fill="#1e1e1e" class="k"><tspan>-40</tspan></text>
<text xml:space="preserve" x="216.5" y="335.8" font-size="8.5" text-anchor="middle" font-weight="normal" fill="#1e1e1e" class="k"><tspan>-20</tspan></text>
<text xml:space="preserve" x="250.3" y="335.8" font-size="8.5" text-anchor="middle" font-weight="normal" fill="#1e1e1e" class="k"><tspan>20</tspan></text>
<text xml:space="preserve" x="268.9" y="335.8" font-size="8.5" text-anchor="middle" font-weight="normal" fill="#1e1e1e" class="k"><tspan>40</tspan></text>
<text xml:space="preserve" x="286" y="335.8" font-size="8.5" text-anchor="middle" font-weight="normal" fill="#1e1e1e" class="k"><tspan>60</tspan></text>
<text xml:space="preserve" x="231.2" y="352.4" font-size="8.5" text-anchor="start" font-weight="normal" fill="#1e1e1e" class="k"><tspan>-0.2</tspan></text>
<text xml:space="preserve" x="231.2" y="363.6" font-size="8.5" text-anchor="start" font-weight="normal" fill="#1e1e1e" class="k"><tspan>-0.4</tspan></text>
<text xml:space="preserve" x="231.2" y="374.8" font-size="8.5" text-anchor="start" font-weight="normal" fill="#1e1e1e" class="k"><tspan>-0.6</tspan></text>
<text xml:space="preserve" x="231.2" y="385.9" font-size="8.5" text-anchor="start" font-weight="normal" fill="#1e1e1e" class="k"><tspan>-0.8</tspan></text>
<text xml:space="preserve" x="231.2" y="397" font-size="8.5" text-anchor="start" font-weight="normal" fill="#1e1e1e" class="k"><tspan>-1.0</tspan></text>
<text xml:space="preserve" x="248.3" y="417.6" font-size="8.6" text-anchor="end" font-weight="normal" fill="#1e1e1e" letter-spacing="0.1" class="k"><tspan>Brevenal</tspan><tspan font-size="6.7" dy="0.3">o</tspan><tspan dy="-0.3">: I</tspan><tspan font-size="6.7" dy="0.3">peak</tspan></text>
<path d="M251.3 413 L256.5 413 L253.9 417.6Z" stroke="#4654B9" stroke-width="1.2" fill="none"/>
<text xml:space="preserve" x="248.3" y="427.1" font-size="8.6" text-anchor="end" font-weight="normal" fill="#1e1e1e" letter-spacing="0.1" class="k"><tspan>Ctr</tspan><tspan font-size="6.7" dy="0.3">o</tspan><tspan dy="-0.3">: I</tspan><tspan font-size="6.7" dy="0.3">peak</tspan></text>
<path d="M251.3 422.5 L256.5 422.5 L253.9 427.1Z" stroke="#1c1c1c" stroke-width="1.2" fill="none"/>
<text xml:space="preserve" x="372" y="247.4" font-size="9" text-anchor="middle" font-weight="bold" fill="#1e1e1e"><tspan>PbTx-3</tspan><tspan font-size="7" dy="0.3">o</tspan></text>
<text xml:space="preserve" x="371" y="257.9" font-size="9" text-anchor="middle" font-weight="bold" fill="#1e1e1e"><tspan>Brevenal</tspan><tspan font-size="7" dy="0.3">i</tspan></text>
<path d="M312.6 274.7 L326.8 274.7 L326.8 287.4" stroke="#2a2a2a" stroke-width="1.2" fill="none" stroke-linejoin="round"/>
<path d="M320.3 265.5 L321.2 265.3 L322.1 265.3 L323 265.3 L323.9 265.4 L324.8 265.5 L325.7 265.5 L326.6 265.6 L327.5 265.8 L328.4 265.9 L329.3 266.1 L330.2 266.1 L331.1 266 L332 265.8 L332.9 265.7 L333.8 265.6 L334.5 265.5 L335.1 310.3 L335.5 307.2 L335.9 304 L336.4 301.1 L336.8 298.3 L337.3 295.8 L337.7 293.5 L338.2 291.4 L338.6 289.3 L339.1 287.4 L339.5 285.7 L340 284.2 L340.4 282.8 L340.9 281.6 L341.3 280.4 L341.8 279 L342.2 277.9 L342.7 277.2 L343.1 276.5 L343.6 275.7 L344 274.9 L344.5 274.2 L344.9 273.7 L345.4 273.2 L345.8 272.4 L346.3 271.6 L346.7 271.1 L347.2 270.8 L347.6 270.3 L348.1 269.9 L348.5 269.6 L349 269.3 L349.4 269.2 L349.9 268.8 L350.3 268.3 L350.8 268.1 L351.2 268.4 L351.7 268.7 L352.1 268.5 L352.6 268.2 L353 267.6 L353.5 266.9 L353.9 267 L354.4 266.8 L354.8 266.4 L355.3 266.7 L355.7 267 L356.2 266.5 L356.6 266.5 L357.1 267 L357.5 266.7 L358 266.1 L358.4 266.1 L358.9 266.2 L359.3 266.3 L359.8 266.4 L360.2 266.2 L360.7 266.2 L361.1 266.3 L361.6 265.8 L362 265.8 L362.5 266 L362.9 265.7 L363.4 265.5 L364.3 265.6 L365.2 265.7 L366.1 265.9 L367 266.2 L367.9 266.3 L368.8 266 L369.7 265.8 L370.6 265.9 L371.5 265.7 L372.4 265.6 L373.3 266 L374.2 266.1 L375.1 265.8 L376 265.6 L376.9 266.1 L377.8 266.6 L378.7 266 L379.6 265.4 L380.5 265.6 L381.4 265.8 L382.3 265.8 L383.2 265.8 L384.1 265.8 L385 265.7 L385.9 265.7 L386.8 265.6 L387.7 265.8 L388.6 266 L389.5 265.8 L390.4 265.7 L391.3 265.5 L392.2 265.5 L393.1 265.8 L394 266 L394.9 265.9 L395.8 265.8 L396.7 265.5 L397.6 265.6 L398.5 266.1 L399.4 265.9 L400.3 265.4 L401.2 265.4 L402.1 265.6 L403 265.6 L403.9 265.7 L404.8 265.7 L405.7 266 L406.6 266.6 L407.5 266.6 L408.4 266 L409.3 265.5 L410.2 265.7 L411.1 265.8 L412 265.9 L412.9 265.9 L413.8 265.5 L414.7 265.6 L415.6 265.7" stroke="#D2202A" stroke-width="0.8" fill="none" stroke-linejoin="round"/>
<path d="M320.3 265.3 L321.2 264.7 L322.1 264.7 L323 265.2 L323.9 265.8 L324.8 266 L325.7 265.9 L326.6 265.4 L327.5 265 L328.4 265.2 L329.3 265.6 L330.2 266 L331.1 266.4 L332 266.5 L332.9 266.2 L333.8 265.7 L334.5 265.5 L335.1 308 L335.5 304.5 L335.9 300.8 L336.4 297.6 L336.8 294.6 L337.3 291.9 L337.7 289.5 L338.2 287.2 L338.6 285.2 L339.1 283.5 L339.5 281.8 L340 280.5 L340.4 279.1 L340.9 277.5 L341.3 276.3 L341.8 275.6 L342.2 274.8 L342.7 273.9 L343.1 273 L343.6 272.3 L344 271.7 L344.5 271.1 L344.9 270.4 L345.4 269.5 L345.8 269.3 L346.3 269.7 L346.7 269.2 L347.2 268.9 L347.6 269.1 L348.1 269 L348.5 268.4 L349 267.9 L349.4 267.8 L349.9 267.4 L350.3 267 L350.8 267 L351.2 267.2 L351.7 267.4 L352.1 267.2 L352.6 266.6 L353 266.4 L353.5 266.6 L353.9 266.6 L354.4 266.3 L354.8 266.3 L355.3 266.5 L355.7 266.6 L356.2 266.6 L356.6 266.2 L357.1 265.6 L357.5 265.5 L358 266 L358.4 266 L359.3 265.8 L360.2 265.6 L361.1 265.3 L362 265.2 L362.9 265 L363.8 265.2 L364.7 265.8 L365.6 266.3 L366.5 266.1 L367.4 265.8 L368.3 265.9 L369.2 265.9 L370.1 265.6 L371 265.5 L371.9 266 L372.8 266.4 L373.7 265.8 L374.6 265.3 L375.5 266.1 L376.4 266.5 L377.3 266.3 L378.2 266.6 L379.1 266.4 L380 265.9 L380.9 265.7 L381.8 265.4 L382.7 265.2 L383.6 264.9 L384.5 265.1 L385.4 265.6 L386.3 265.6 L387.2 265.7 L388.1 265.8 L389 265.6 L389.9 265.6 L390.8 265.6 L391.7 265.6 L392.6 265.7 L393.5 265.6 L394.4 265.3 L395.3 265.1 L396.2 265.3 L397.1 265.8 L398 266.4 L398.9 266.4 L399.8 266.2 L400.7 266.1 L401.6 266.1 L402.5 266.1 L403.4 266 L404.3 265.8 L405.2 265.7 L406.1 266 L407 266.1 L407.9 265.7 L408.8 265.5 L409.7 265.7 L410.6 266.2 L411.5 266.4 L412.4 265.5 L413.3 265 L414.2 265.6 L415.1 265.8 L416 265.3" stroke="#D2202A" stroke-width="0.8" fill="none" stroke-linejoin="round"/>
<path d="M320.3 265.8 L321.2 265.5 L322.1 265.2 L323 265.1 L323.9 265.3 L324.8 265.4 L325.7 265.5 L326.6 265.9 L327.5 265.5 L328.4 265.2 L329.3 265.7 L330.2 265.7 L331.1 265.4 L332 265.2 L332.9 265 L333.8 265 L334.5 265.5 L335.1 305 L335.5 301 L335.9 296.9 L336.4 293.4 L336.8 290.2 L337.3 287.4 L337.7 284.9 L338.2 282.7 L338.6 280.7 L339.1 278.9 L339.5 277.5 L340 276 L340.4 274.7 L340.9 273.8 L341.3 273.1 L341.8 272.4 L342.2 271.6 L342.7 270.9 L343.1 270.3 L343.6 269.5 L344 268.5 L344.5 267.7 L344.9 267.6 L345.4 267.8 L345.8 267.8 L346.3 267.6 L346.7 267.4 L347.2 267 L347.6 266.5 L348.1 266 L348.5 266.2 L349 266.9 L349.4 266.8 L349.9 266.1 L350.3 266.1 L350.8 266.6 L351.2 266.7 L351.7 266.2 L352.1 266.2 L352.6 266.2 L353 265.6 L353.5 265.5 L353.9 265.7 L354.8 266 L355.7 266.5 L356.6 266.4 L357.5 265.9 L358.4 265.7 L359.3 266 L360.2 266 L361.1 265.6 L362 265.3 L362.9 265.2 L363.8 265.6 L364.7 266.1 L365.6 266.2 L366.5 266.2 L367.4 266 L368.3 265.6 L369.2 265.7 L370.1 266.1 L371 265.9 L371.9 265.6 L372.8 265.9 L373.7 266.1 L374.6 266.1 L375.5 265.8 L376.4 265.6 L377.3 266 L378.2 266.3 L379.1 265.9 L380 265.6 L380.9 265.5 L381.8 265.4 L382.7 265.6 L383.6 265.8 L384.5 266 L385.4 266 L386.3 266.4 L387.2 266.5 L388.1 265.9 L389 265.5 L389.9 265.7 L390.8 265.8 L391.7 265.7 L392.6 265.6 L393.5 265.8 L394.4 265.5 L395.3 265.1 L396.2 265.4 L397.1 265.9 L398 266 L398.9 265.6 L399.8 265.6 L400.7 265.8 L401.6 265.7 L402.5 265.7 L403.4 266 L404.3 266 L405.2 265.7 L406.1 265.5 L407 265.8 L407.9 265.7 L408.8 265.8 L409.7 266.3 L410.6 266.1 L411.5 265.5 L412.4 265.4 L413.3 265.5 L414.2 265.2 L415.1 265.2 L416 265.8" stroke="#D2202A" stroke-width="0.8" fill="none" stroke-linejoin="round"/>
<path d="M320.3 265.6 L321.2 265.3 L322.1 265.2 L323 265.4 L323.9 265.7 L324.8 265.5 L325.7 265.1 L326.6 265.4 L327.5 265.8 L328.4 265.5 L329.3 265.3 L330.2 265.5 L331.1 265.8 L332 265.6 L332.9 265.2 L333.8 265.1 L334.5 265.5 L335.1 301 L335.5 296.5 L335.9 292 L336.4 288.2 L336.8 285 L337.3 282.2 L337.7 279.8 L338.2 277.7 L338.6 276 L339.1 274.4 L339.5 273.1 L340 272.1 L340.4 271.3 L340.9 270.7 L341.3 270.1 L341.8 269.4 L342.2 269 L342.7 268.6 L343.1 267.9 L343.6 267.3 L344 266.9 L344.5 266.3 L344.9 266.4 L345.4 266.7 L345.8 266.7 L346.3 266.9 L346.7 266.7 L347.2 266.3 L347.6 266.2 L348.1 266.3 L348.5 265.9 L349 265.9 L349.4 266.2 L349.9 266.5 L350.8 266.5 L351.7 265.8 L352.6 265.3 L353.5 265.9 L354.4 266.2 L355.3 266.1 L356.2 266.4 L357.1 266.4 L358 265.7 L358.9 265.3 L359.8 265.4 L360.7 265.8 L361.6 266.1 L362.5 265.8 L363.4 265.3 L364.3 265.1 L365.2 264.9 L366.1 264.8 L367 264.9 L367.9 265 L368.8 265.5 L369.7 265.9 L370.6 265.9 L371.5 265.7 L372.4 265.5 L373.3 265.7 L374.2 265.8 L375.1 265.7 L376 265.6 L376.9 265.5 L377.8 265.5 L378.7 265.5 L379.6 265.5 L380.5 265.6 L381.4 265.5 L382.3 265.4 L383.2 265.6 L384.1 266.1 L385 266.1 L385.9 265.5 L386.8 265.3 L387.7 265.3 L388.6 265.6 L389.5 266.2 L390.4 266.3 L391.3 265.9 L392.2 265.8 L393.1 265.8 L394 265.8 L394.9 266.1 L395.8 266 L396.7 265.9 L397.6 265.7 L398.5 265.7 L399.4 265.9 L400.3 265.9 L401.2 265.4 L402.1 265.2 L403 265.1 L403.9 265.1 L404.8 265.5 L405.7 266.2 L406.6 266.7 L407.5 266.2 L408.4 265.6 L409.3 265.4 L410.2 265.4 L411.1 265.8 L412 266.2 L412.9 266.2 L413.8 266 L414.7 265.5 L415.6 264.8" stroke="#D2202A" stroke-width="0.8" fill="none" stroke-linejoin="round"/>
<path d="M320.3 265.6 L321.2 265.5 L322.1 265.7 L323 265.8 L323.9 265.5 L324.8 265.3 L325.7 265.7 L326.6 265.8 L327.5 265.5 L328.4 265.2 L329.3 265.1 L330.2 264.7 L331.1 264.6 L332 265.1 L332.9 265.4 L333.8 265.8 L334.5 265.5 L335.1 296 L335.5 291 L335.9 286.3 L336.4 282.4 L336.8 279.3 L337.3 276.8 L337.7 274.7 L338.2 272.9 L338.6 271.5 L339.1 270.5 L339.5 269.7 L340 269 L340.4 268.3 L340.9 267.6 L341.3 267.2 L341.8 267 L342.2 266.8 L342.7 266.5 L343.1 266.3 L343.6 266.4 L344 266.3 L344.5 266.2 L344.9 266.2 L345.4 266.1 L345.8 266.1 L346.3 266.1 L347.2 266.1 L348.1 266.2 L349 266.2 L349.9 266.3 L350.8 266.2 L351.7 265.9 L352.6 266 L353.5 265.7 L354.4 265.4 L355.3 265.6 L356.2 266 L357.1 266.1 L358 265.8 L358.9 265.7 L359.8 265.5 L360.7 265.3 L361.6 265.4 L362.5 265.7 L363.4 266.2 L364.3 266.4 L365.2 265.7 L366.1 265.3 L367 265.5 L367.9 265.9 L368.8 265.9 L369.7 265.5 L370.6 265.3 L371.5 265.4 L372.4 265.7 L373.3 266 L374.2 265.7 L375.1 265.4 L376 265.4 L376.9 265.3 L377.8 265.4 L378.7 265.5 L379.6 265.5 L380.5 265.7 L381.4 266.1 L382.3 265.8 L383.2 265.3 L384.1 265.5 L385 265.8 L385.9 265.6 L386.8 265.6 L387.7 265.8 L388.6 265.8 L389.5 265.7 L390.4 265.5 L391.3 265.5 L392.2 265.5 L393.1 265.7 L394 266.1 L394.9 265.9 L395.8 265.7 L396.7 265.9 L397.6 265.8 L398.5 265.7 L399.4 265.6 L400.3 265.4 L401.2 265.2 L402.1 265.5 L403 265.8 L403.9 265.6 L404.8 265.4 L405.7 265.6 L406.6 266.1 L407.5 266.2 L408.4 265.8 L409.3 265.7 L410.2 265.8 L411.1 265.7 L412 265.6 L412.9 265.5 L413.8 265.8 L414.7 265.7 L415.6 265.7" stroke="#D2202A" stroke-width="0.8" fill="none" stroke-linejoin="round"/>
<path d="M320.3 265.1 L321.2 265.4 L322.1 265.8 L323 265.7 L323.9 265.2 L324.8 265.2 L325.7 265.6 L326.6 265.8 L327.5 265.4 L328.4 265.1 L329.3 265.1 L330.2 265.1 L331.1 265.1 L332 265.3 L332.9 265.4 L333.8 265.3 L334.5 265.5 L335.1 290 L335.5 284.6 L335.9 279.8 L336.4 276.3 L336.8 273.9 L337.3 272.2 L337.7 270.7 L338.2 269.3 L338.6 268.7 L339.1 268.1 L339.5 267.5 L340 267.2 L340.4 266.7 L340.9 266 L341.3 265.7 L341.8 266 L342.2 266.1 L342.7 265.4 L343.1 265.3 L344 265.3 L344.9 265.3 L345.8 265.8 L346.7 266 L347.6 266.1 L348.5 266.1 L349.4 265.4 L350.3 265.5 L351.2 266.2 L352.1 265.9 L353 265.7 L353.9 265.9 L354.8 266.2 L355.7 266.2 L356.6 265.9 L357.5 265.6 L358.4 265.7 L359.3 266 L360.2 266.1 L361.1 266.2 L362 266.1 L362.9 265.8 L363.8 266 L364.7 266.5 L365.6 266.4 L366.5 265.9 L367.4 265.4 L368.3 265.3 L369.2 265.6 L370.1 265.7 L371 265.5 L371.9 265.1 L372.8 265.4 L373.7 265.9 L374.6 265.8 L375.5 265.4 L376.4 265.2 L377.3 265.1 L378.2 265.8 L379.1 266.6 L380 266.2 L380.9 265.5 L381.8 265.3 L382.7 265 L383.6 265 L384.5 265.4 L385.4 265.8 L386.3 265.8 L387.2 265.5 L388.1 265.8 L389 265.9 L389.9 265.4 L390.8 265.4 L391.7 265.4 L392.6 265.8 L393.5 266.2 L394.4 266 L395.3 265.7 L396.2 265.6 L397.1 265.8 L398 266 L398.9 265.8 L399.8 265.7 L400.7 265.9 L401.6 265.8 L402.5 265.4 L403.4 265.4 L404.3 265.6 L405.2 265.9 L406.1 266.1 L407 266.1 L407.9 266 L408.8 265.5 L409.7 265.3 L410.6 265.4 L411.5 265.6 L412.4 265.7 L413.3 265.5 L414.2 265.3 L415.1 265.4 L416 265.7" stroke="#D2202A" stroke-width="0.8" fill="none" stroke-linejoin="round"/>
<path d="M320.3 264.6 L321.2 264.6 L322.1 265 L323 266 L323.9 266.4 L324.8 265.9 L325.7 265.4 L326.6 264.3 L327.5 263.9 L328.4 264.6 L329.3 264.9 L330.2 264.7 L331.1 265.3 L332 265.8 L332.9 266.3 L333.8 266.6 L334.7 266.2 L335.6 265.5 L336.5 265.6 L337.4 265.6 L338.3 265.5 L339.2 266.1 L340.1 266.2 L341 265.5 L341.9 266.1 L342.8 267.4 L343.7 267.1 L344.6 266.6 L345.5 266.9 L346.4 266.5 L347.3 266 L348.2 265.7 L349.1 265.4 L350 265.3 L350.9 265 L351.8 265.5 L352.7 265.5 L353.6 265.3 L354.5 265.8 L355.4 265.7 L356.3 265.6 L357.2 265.6 L358.1 265.4 L359 265.9 L359.9 266.8 L360.8 267.1 L361.7 266.8 L362.6 266.5 L363.5 266.1 L364.4 265.7 L365.3 265.6 L366.2 265.8 L367.1 265.7 L368 265.1 L368.9 264.7 L369.8 265.2 L370.7 265.6 L371.6 265.5 L372.5 265.5 L373.4 265.3 L374.3 264.8 L375.2 264.6 L376.1 264.9 L377 265.1 L377.9 265.6 L378.8 265.7 L379.7 264.8 L380.6 264.4 L381.5 265.2 L382.4 265.4 L383.3 266 L384.2 267.1 L385.1 267 L386 266.4 L386.9 266.2 L387.8 266.1 L388.7 265.9 L389.6 265.3 L390.5 264.9 L391.4 265.5 L392.3 266.6 L393.2 266.5 L394.1 265.9 L395 265.9 L395.9 266 L396.8 265.9 L397.7 265.9 L398.6 265.9 L399.5 265.6 L400.4 265.4 L401.3 265.5 L402.2 265.5 L403.1 264.9 L404 265.1 L404.9 265.9 L405.8 265.3 L406.7 264 L407.6 263.3 L408.5 263.4 L409.4 264.9 L410.3 265.6 L411.2 265 L412.1 264.5 L413 264.8 L413.9 265.7 L414.8 266.1 L415.7 266.1" stroke="#D2202A" stroke-width="1.1" fill="none" stroke-linejoin="round"/>
<path d="M320.3 264.5 L321.2 264.3 L322.1 264.9 L323 265.9 L323.9 265.9 L324.8 265.6 L325.7 266.2 L326.6 266.4 L327.5 266.1 L328.4 266.1 L329.3 265.9 L330.2 265.1 L331.1 264.8 L332 265.3 L332.9 265.3 L333.8 265.2 L334.7 265.6 L335.6 265.9 L336.5 266 L337.4 265.5 L338.3 265.5 L339.2 265.7 L340.1 265.8 L341 265.8 L341.9 265.9 L342.8 265.9 L343.7 265.1 L344.6 264.6 L345.5 265.5 L346.4 266 L347.3 265.4 L348.2 265 L349.1 265.3 L350 265.5 L350.9 265.6 L351.8 265.2 L352.7 265.1 L353.6 266 L354.5 266 L355.4 265.6 L356.3 266.1 L357.2 266.5 L358.1 266.1 L359 265.7 L359.9 266.1 L360.8 265.5 L361.7 264.7 L362.6 265.3 L363.5 265.3 L364.4 264.9 L365.3 264.7 L366.2 264.7 L367.1 265.3 L368 265.5 L368.9 265.7 L369.8 266.2 L370.7 265.7 L371.6 265 L372.5 264.9 L373.4 265.5 L374.3 265.9 L375.2 265.3 L376.1 265.1 L377 265.8 L377.9 265.8 L378.8 266.1 L379.7 266.3 L380.6 265.5 L381.5 264.9 L382.4 264.6 L383.3 265.1 L384.2 266 L385.1 265.9 L386 265.4 L386.9 265.8 L387.8 266.1 L388.7 266.3 L389.6 266.7 L390.5 265.9 L391.4 265.2 L392.3 265.1 L393.2 265.1 L394.1 266.1 L395 266.3 L395.9 265.7 L396.8 265.9 L397.7 266.4 L398.6 266.5 L399.5 265.4 L400.4 264.2 L401.3 264.1 L402.2 264.5 L403.1 264.6 L404 265.2 L404.9 265.6 L405.8 265.2 L406.7 265.3 L407.6 265.8 L408.5 265.8 L409.4 265.8 L410.3 265.7 L411.2 264.9 L412.1 265.4 L413 266.5 L413.9 265.8 L414.8 264.9 L415.7 265" stroke="#D2202A" stroke-width="1.1" fill="none" stroke-linejoin="round"/>
<path d="M320.3 265.7 L321.2 265.4 L322.1 264.4 L323 264.6 L323.9 265.5 L324.8 265.8 L325.7 266.1 L326.6 265.6 L327.5 265.1 L328.4 265.2 L329.3 265.2 L330.2 265.7 L331.1 266.7 L332 266.9 L332.9 266.2 L333.8 265.9 L334.7 266.1 L335.6 265.4 L336.5 264.4 L337.4 264.8 L338.3 265.7 L339.2 265.7 L340.1 265.5 L341 266 L341.9 266.3 L342.8 265.8 L343.7 265.4 L344.6 265.3 L345.5 265.8 L346.4 266.5 L347.3 266.5 L348.2 265.4 L349.1 264.8 L350 265.2 L350.9 265.9 L351.8 266 L352.7 265.9 L353.6 265.9 L354.5 265.8 L355.4 265.3 L356.3 264.8 L357.2 265 L358.1 265.5 L359 265.7 L359.9 265.4 L360.8 265.6 L361.7 266 L362.6 265.7 L363.5 265.5 L364.4 265.2 L365.3 264.7 L366.2 264.4 L367.1 264.7 L368 265.2 L368.9 265.5 L369.8 265.1 L370.7 265.2 L371.6 265.7 L372.5 265.8 L373.4 266 L374.3 265.7 L375.2 264.8 L376.1 264.7 L377 265.3 L377.9 265.9 L378.8 265.9 L379.7 266.2 L380.6 266.4 L381.5 265.8 L382.4 265.6 L383.3 265.7 L384.2 265.8 L385.1 266.3 L386 266.5 L386.9 266.2 L387.8 265.7 L388.7 265.3 L389.6 265.2 L390.5 264.9 L391.4 264.7 L392.3 265.5 L393.2 266 L394.1 265.6 L395 265.3 L395.9 265.5 L396.8 265.7 L397.7 266.2 L398.6 266.3 L399.5 265.6 L400.4 265.7 L401.3 266 L402.2 265.7 L403.1 265.2 L404 264.8 L404.9 265.2 L405.8 266.1 L406.7 266.3 L407.6 265.7 L408.5 265.7 L409.4 266.2 L410.3 266.2 L411.2 266 L412.1 266 L413 265.8 L413.9 265.2 L414.8 264.8 L415.7 264.2" stroke="#D2202A" stroke-width="1.1" fill="none" stroke-linejoin="round"/>
<line x1="334.8" y1="302" x2="334.8" y2="310" stroke="#c060c0" stroke-width="0.8"/>
<path d="M354 276.8 L354.9 276.6 L355.8 276.4 L356.7 276.4 L357.6 276.4 L358.5 276.6 L359.4 276.6 L360.3 276.3 L361.2 276.2 L362.1 276.4 L363 276.6 L363.5 276.5 L364 299.4 L364.4 295.3 L364.8 291.5 L365.3 288.5 L365.7 286.2 L366.2 284.3 L366.6 282.9 L367.1 281.6 L367.5 280.5 L368 279.8 L368.4 279.5 L368.9 279 L369.3 278.2 L369.8 277.5 L370.2 277.4 L370.7 277.4 L371.1 277.4 L371.6 277.3 L372 277 L372.5 277 L372.9 277.2 L373.4 276.9 L373.8 276.6 L374.3 276.3 L375.2 276.2 L376.1 276.4 L377 276.8 L377.9 276.6 L378.8 276.3 L379.7 276.3 L380.6 275.8 L381.5 275.7 L382.4 276.7 L383.3 276.9 L384.2 276.3 L385.1 276.2 L386 276.5 L386.9 276.4 L387.8 276.3 L388.7 276.3 L389.6 276.4 L390.5 276.5 L391.4 276.6 L392.3 276.5 L393.2 276.4 L394.1 276.3 L395 276.4 L395.9 276.5 L396.8 276.3 L397.7 276.4 L398.6 276.8 L399.5 276.8 L400.4 276.9 L401.3 276.8 L402.2 276.5 L403.1 276.5 L404 276.6 L404.9 276.4 L405.8 276.6 L406.7 276.8 L407.6 276.5 L408.5 276.3 L409.4 276.4 L410.3 276.5 L411.2 276.6 L412.1 276.6 L413 276.7 L413.9 276.8 L414.8 277" stroke="#D2202A" stroke-width="0.8" fill="none" stroke-linejoin="round"/>
<path d="M354 276.7 L354.9 276.6 L355.8 276.2 L356.7 276.1 L357.6 276.6 L358.5 276.4 L359.4 276.3 L360.3 276.7 L361.2 276.9 L362.1 277.3 L363 277.3 L363.5 276.5 L364 295 L364.4 290.9 L364.8 287.4 L365.3 284.7 L365.7 282.7 L366.2 281.1 L366.6 280.2 L367.1 279.5 L367.5 278.5 L368 278.2 L368.4 278.2 L368.9 277.7 L369.3 276.9 L369.8 276.8 L370.2 277.3 L370.7 277.4 L371.1 276.8 L371.6 276.5 L372 276.5 L372.9 276.5 L373.8 276.7 L374.7 276.6 L375.6 276.7 L376.5 277.1 L377.4 276.8 L378.3 276.7 L379.2 276.9 L380.1 276.7 L381 276.7 L381.9 276.7 L382.8 276.6 L383.7 276.8 L384.6 277.1 L385.5 276.9 L386.4 276.7 L387.3 276.3 L388.2 276.1 L389.1 276.4 L390 276.8 L390.9 276.9 L391.8 276.7 L392.7 276.4 L393.6 276.3 L394.5 276.5 L395.4 276.8 L396.3 277 L397.2 276.7 L398.1 276.5 L399 276.4 L399.9 276.4 L400.8 276.2 L401.7 275.7 L402.6 275.7 L403.5 276.1 L404.4 276.6 L405.3 276.7 L406.2 276.8 L407.1 276.8 L408 276.6 L408.9 276.8 L409.8 276.8 L410.7 276.7 L411.6 276.7 L412.5 276.3 L413.4 276.1 L414.3 276.5" stroke="#D2202A" stroke-width="0.8" fill="none" stroke-linejoin="round"/>
<path d="M354 276.8 L354.9 277.4 L355.8 277.3 L356.7 276.6 L357.6 276.3 L358.5 276.3 L359.4 276.3 L360.3 276.5 L361.2 276.6 L362.1 276.5 L363 276.5 L363.5 276.5 L364 290 L364.4 286.2 L364.8 283.1 L365.3 281.1 L365.7 279.9 L366.2 279.1 L366.6 278.5 L367.1 277.8 L367.5 277.3 L368 277.7 L368.4 277.7 L368.9 277.4 L369.3 277 L369.8 276.4 L370.2 276.3 L371.1 276.6 L372 276.7 L372.9 276.4 L373.8 276.6 L374.7 277.1 L375.6 276.9 L376.5 276.9 L377.4 276.9 L378.3 276.6 L379.2 276.5 L380.1 276.7 L381 276.7 L381.9 276.5 L382.8 276.4 L383.7 276.4 L384.6 276.3 L385.5 276.5 L386.4 276.7 L387.3 276.8 L388.2 276.5 L389.1 276.4 L390 276.8 L390.9 276.7 L391.8 276.2 L392.7 276.4 L393.6 276.6 L394.5 276.2 L395.4 276.3 L396.3 276.5 L397.2 276.4 L398.1 276.6 L399 276.9 L399.9 276.5 L400.8 275.9 L401.7 275.7 L402.6 275.8 L403.5 276.4 L404.4 277.1 L405.3 277 L406.2 276.7 L407.1 277.1 L408 277.1 L408.9 276.8 L409.8 276.9 L410.7 276.7 L411.6 276.2 L412.5 275.9 L413.4 276.1 L414.3 276.4" stroke="#D2202A" stroke-width="0.8" fill="none" stroke-linejoin="round"/>
<path d="M354 276.5 L354.9 276.5 L355.8 276.3 L356.7 276.2 L357.6 276.2 L358.5 276 L359.4 275.9 L360.3 276.3 L361.2 276.6 L362.1 276.8 L363 276.6 L363.5 276.5 L364 285 L364.4 282 L364.8 280.1 L365.3 278.8 L365.7 278 L366.2 277.6 L366.6 277 L367.1 276.3 L367.5 276.4 L368 277.1 L368.4 277.2 L368.9 276.8 L369.8 276.5 L370.7 276.4 L371.6 276.3 L372.5 276 L373.4 276 L374.3 276.3 L375.2 276.5 L376.1 276.7 L377 277.1 L377.9 276.9 L378.8 276.6 L379.7 276.5 L380.6 276.4 L381.5 276.7 L382.4 276.8 L383.3 276.7 L384.2 276.9 L385.1 277 L386 276.5 L386.9 276.6 L387.8 277.1 L388.7 277.1 L389.6 276.9 L390.5 276.7 L391.4 276.5 L392.3 276.6 L393.2 276.7 L394.1 276.5 L395 276.6 L395.9 277 L396.8 276.6 L397.7 276.1 L398.6 276.1 L399.5 276.1 L400.4 276.1 L401.3 276.2 L402.2 276.4 L403.1 276.4 L404 276.1 L404.9 275.9 L405.8 276.3 L406.7 276.6 L407.6 276.4 L408.5 276.6 L409.4 276.8 L410.3 276.6 L411.2 276.5 L412.1 276.4 L413 276.2 L413.9 276.3 L414.8 276.8" stroke="#D2202A" stroke-width="0.8" fill="none" stroke-linejoin="round"/>
<path d="M354 275.3 L354.9 276.2 L355.8 276.9 L356.7 276.8 L357.6 276.2 L358.5 275.7 L359.4 276.2 L360.3 276.8 L361.2 276 L362.1 275.2 L363 276.1 L363.9 277.2 L364.8 277.4 L365.7 276.6 L366.6 275.7 L367.5 276.2 L368.4 276.7 L369.3 276.5 L370.2 276.5 L371.1 276.4 L372 276.6 L372.9 276.7 L373.8 277 L374.7 277.7 L375.6 277.3 L376.5 276.5 L377.4 276.2 L378.3 276.3 L379.2 276 L380.1 275.4 L381 275.5 L381.9 276.3 L382.8 275.9 L383.7 274.7 L384.6 274.8 L385.5 275.8 L386.4 276.5 L387.3 276.5 L388.2 276.2 L389.1 276.4 L390 276.4 L390.9 276.1 L391.8 276.5 L392.7 277.1 L393.6 277.2 L394.5 276.9 L395.4 276.3 L396.3 275.9 L397.2 275.7 L398.1 275.9 L399 276.1 L399.9 276.4 L400.8 276.8 L401.7 277.1 L402.6 277 L403.5 277 L404.4 277.1 L405.3 277 L406.2 277.1 L407.1 277.1 L408 277 L408.9 276.3 L409.8 275.5 L410.7 276 L411.6 277.2 L412.5 277.3 L413.4 276.8 L414.3 276.4 L415.2 276.9" stroke="#D2202A" stroke-width="1.1" fill="none" stroke-linejoin="round"/>
<path d="M354 275.6 L354.9 275.4 L355.8 275.8 L356.7 276 L357.6 276.4 L358.5 276.5 L359.4 276.2 L360.3 276.8 L361.2 277.5 L362.1 277 L363 275.5 L363.9 275 L364.8 276.3 L365.7 276.8 L366.6 276.6 L367.5 276.9 L368.4 276.6 L369.3 276.2 L370.2 276.1 L371.1 276.3 L372 276.2 L372.9 276.4 L373.8 276.9 L374.7 276.5 L375.6 276 L376.5 276.7 L377.4 276.9 L378.3 276.2 L379.2 276.1 L380.1 276.4 L381 276.4 L381.9 276.7 L382.8 276.7 L383.7 276.9 L384.6 277.2 L385.5 276.5 L386.4 276.5 L387.3 277.9 L388.2 278.1 L389.1 277 L390 276.2 L390.9 276.2 L391.8 276.8 L392.7 276.7 L393.6 276.2 L394.5 276.8 L395.4 277.4 L396.3 277.7 L397.2 278 L398.1 277.7 L399 277 L399.9 276.7 L400.8 277 L401.7 277.4 L402.6 277.5 L403.5 277.3 L404.4 277 L405.3 277.2 L406.2 277.2 L407.1 276.4 L408 276.3 L408.9 277.2 L409.8 277.1 L410.7 276.5 L411.6 276.4 L412.5 276 L413.4 275.6 L414.3 275.7 L415.2 275.8" stroke="#D2202A" stroke-width="1.1" fill="none" stroke-linejoin="round"/>
<path d="M354 276.6 L354.9 276.4 L355.8 275.9 L356.7 276 L357.6 276.7 L358.5 276.7 L359.4 276.3 L360.3 276.4 L361.2 276.2 L362.1 276.1 L363 276.7 L363.9 277.1 L364.8 276.3 L365.7 275.6 L366.6 276.3 L367.5 277 L368.4 276.8 L369.3 276.8 L370.2 276.8 L371.1 276.8 L372 276.2 L372.9 275.6 L373.8 276.4 L374.7 277.4 L375.6 277.1 L376.5 276.7 L377.4 276.4 L378.3 276.4 L379.2 276.7 L380.1 277.3 L381 277.7 L381.9 277 L382.8 276.3 L383.7 275.8 L384.6 275.3 L385.5 275.6 L386.4 276 L387.3 276.1 L388.2 276.9 L389.1 277.2 L390 276.3 L390.9 275.9 L391.8 276.2 L392.7 276.8 L393.6 276.9 L394.5 276.3 L395.4 276.1 L396.3 276.3 L397.2 276.2 L398.1 275.7 L399 275.1 L399.9 275.1 L400.8 275.7 L401.7 276.5 L402.6 277.5 L403.5 278.3 L404.4 278 L405.3 277.6 L406.2 277.5 L407.1 276.8 L408 276.8 L408.9 277.2 L409.8 276.4 L410.7 276 L411.6 276.6 L412.5 277 L413.4 276.8 L414.3 276.6 L415.2 276.2" stroke="#D2202A" stroke-width="1.1" fill="none" stroke-linejoin="round"/>
<line x1="310" y1="338.7" x2="437.2" y2="338.7" stroke="#2a2a2a" stroke-width="1"/>
<line x1="373.1" y1="333" x2="373.1" y2="398" stroke="#2a2a2a" stroke-width="1"/>
<path d="M310.1 338.7 L311.6 338.7 L313.1 338.7 L314.6 338.7 L316.1 338.7 L317.6 338.7 L319.1 338.7 L320.6 338.7 L322.1 338.9 L323.6 339 L325.1 339.2 L326.6 339.5 L328.1 339.8 L329.6 340.2 L331.1 340.9 L332.6 341.7 L334.1 342.7 L335.6 343.8 L337.1 345 L338.6 346.5 L340.1 348.5 L341.6 350.9 L343.1 353.4 L344.6 355.9 L346.1 358.3 L347.6 360.7 L349.1 363.2 L350.6 365.7 L352.1 368.1 L353.6 370.4 L355.1 372.5 L356.6 374.5 L358.1 376.4 L359.6 378.3 L361.1 380 L362.6 381.4 L364.1 382.4 L365.6 383.2 L367.1 383.9 L368.6 384.6 L370.1 385.1 L371.6 385.5 L373.1 385.6 L374.6 385.4 L376.1 384.7 L377.6 383.8 L379.1 382.8 L380.6 381.7 L382.1 380.7 L383.6 379.8 L385.1 378.9 L386.6 377.9 L388.1 376.9 L389.6 375.9 L391.1 374.8 L392.6 373.7 L394.1 372.6 L395.6 371.4 L397.1 370.3 L398.6 369 L400.1 367.8 L401.6 366.5 L403.1 365.1 L404.6 363.7 L406.1 362.3 L407.6 360.9 L409.1 359.6 L410.6 358.3 L412.1 357 L413.6 355.7 L415.1 354.5 L416.6 353.2 L418.1 352 L419.6 350.8 L421.1 349.6 L422.6 348.4 L424.1 347.3 L425.6 346.1 L427.1 345 L428.6 343.9 L430.1 342.8 L431.6 341.8 L433.1 340.7 L434.6 339.7 L436.1 338.7" stroke="#A6A6A6" stroke-width="1.4" fill="none" stroke-linejoin="round"/>
<path d="M310.1 338.7 L311.6 338.7 L313.1 338.7 L314.6 338.7 L316.1 338.7 L317.6 338.7 L319.1 338.7 L320.6 338.8 L322.1 339 L323.6 339.3 L325.1 339.7 L326.6 340.2 L328.1 340.7 L329.6 341.3 L331.1 342.2 L332.6 343.3 L334.1 344.5 L335.6 345.9 L337.1 347.5 L338.6 349.5 L340.1 352.1 L341.6 355.2 L343.1 358.5 L344.6 362 L346.1 365.5 L347.6 369.4 L349.1 373.9 L350.6 378.5 L352.1 383 L353.6 386.8 L355.1 389.5 L356.6 391.5 L358.1 393.5 L359.6 395.2 L361.1 396.6 L362.6 397.5 L364.1 397.8 L365.6 397.8 L367.1 397.8 L368.6 397.8 L370.1 397.8 L371.6 397.8 L373.1 397.8 L374.6 397.4 L376.1 396.3 L377.6 394.7 L379.1 392.9 L380.6 391.1 L382.1 389.5 L383.6 388.1 L385.1 386.7 L386.6 385.3 L388.1 383.8 L389.6 382.4 L391.1 381 L392.6 379.6 L394.1 378.2 L395.6 376.8 L397.1 375.3 L398.6 373.9 L400.1 372.5 L401.6 371.1 L403.1 369.7 L404.6 368.2 L406.1 366.8 L407.6 365.4 L409.1 364 L410.6 362.6 L412.1 361.2 L413.6 359.7 L415.1 358.3 L416.6 356.9 L418.1 355.5 L419.6 354.1 L421.1 352.7 L422.6 351.3 L424.1 349.9 L425.6 348.5 L427.1 347.1 L428.6 345.7 L430.1 344.3 L431.6 342.9 L433.1 341.5 L434.6 340.1 L436.1 338.7" stroke="#D2202A" stroke-width="1.5" fill="none" stroke-linejoin="round"/>
<line x1="319.1" y1="336" x2="319.1" y2="341.4" stroke="#A6A6A6" stroke-width="0.7"/>
<line x1="318.1" y1="336" x2="320.1" y2="336" stroke="#A6A6A6" stroke-width="0.6"/>
<line x1="318.1" y1="341.4" x2="320.1" y2="341.4" stroke="#A6A6A6" stroke-width="0.6"/>
<path d="M317.2 337 L321 337 L319.1 340.4Z" stroke="#A6A6A6" stroke-width="1" fill="#fff"/>
<line x1="328.1" y1="336.8" x2="328.1" y2="342.8" stroke="#A6A6A6" stroke-width="0.7"/>
<line x1="327.1" y1="336.8" x2="329.1" y2="336.8" stroke="#A6A6A6" stroke-width="0.6"/>
<line x1="327.1" y1="342.8" x2="329.1" y2="342.8" stroke="#A6A6A6" stroke-width="0.6"/>
<path d="M326.2 338.1 L330 338.1 L328.1 341.5Z" stroke="#A6A6A6" stroke-width="1" fill="#fff"/>
<line x1="337.1" y1="342" x2="337.1" y2="348" stroke="#A6A6A6" stroke-width="0.7"/>
<line x1="336.1" y1="342" x2="338.1" y2="342" stroke="#A6A6A6" stroke-width="0.6"/>
<line x1="336.1" y1="348" x2="338.1" y2="348" stroke="#A6A6A6" stroke-width="0.6"/>
<path d="M335.2 343.3 L339 343.3 L337.1 346.7Z" stroke="#A6A6A6" stroke-width="1" fill="#fff"/>
<line x1="346.1" y1="355.6" x2="346.1" y2="361" stroke="#A6A6A6" stroke-width="0.7"/>
<line x1="345.1" y1="355.6" x2="347.1" y2="355.6" stroke="#A6A6A6" stroke-width="0.6"/>
<line x1="345.1" y1="361" x2="347.1" y2="361" stroke="#A6A6A6" stroke-width="0.6"/>
<path d="M344.2 356.6 L348 356.6 L346.1 360Z" stroke="#A6A6A6" stroke-width="1" fill="#fff"/>
<line x1="355.1" y1="370.4" x2="355.1" y2="374.6" stroke="#A6A6A6" stroke-width="0.7"/>
<line x1="354.1" y1="370.4" x2="356.1" y2="370.4" stroke="#A6A6A6" stroke-width="0.6"/>
<line x1="354.1" y1="374.6" x2="356.1" y2="374.6" stroke="#A6A6A6" stroke-width="0.6"/>
<path d="M353.2 370.8 L357 370.8 L355.1 374.2Z" stroke="#A6A6A6" stroke-width="1" fill="#fff"/>
<line x1="364.1" y1="381" x2="364.1" y2="383.8" stroke="#A6A6A6" stroke-width="0.7"/>
<line x1="363.1" y1="381" x2="365.1" y2="381" stroke="#A6A6A6" stroke-width="0.6"/>
<line x1="363.1" y1="383.8" x2="365.1" y2="383.8" stroke="#A6A6A6" stroke-width="0.6"/>
<path d="M362.2 380.7 L366 380.7 L364.1 384.1Z" stroke="#A6A6A6" stroke-width="1" fill="#fff"/>
<line x1="373.1" y1="383.6" x2="373.1" y2="387.6" stroke="#A6A6A6" stroke-width="0.7"/>
<line x1="372.1" y1="383.6" x2="374.1" y2="383.6" stroke="#A6A6A6" stroke-width="0.6"/>
<line x1="372.1" y1="387.6" x2="374.1" y2="387.6" stroke="#A6A6A6" stroke-width="0.6"/>
<path d="M371.2 383.9 L375 383.9 L373.1 387.3Z" stroke="#A6A6A6" stroke-width="1" fill="#fff"/>
<line x1="382.1" y1="378.1" x2="382.1" y2="383.3" stroke="#A6A6A6" stroke-width="0.7"/>
<line x1="381.1" y1="378.1" x2="383.1" y2="378.1" stroke="#A6A6A6" stroke-width="0.6"/>
<line x1="381.1" y1="383.3" x2="383.1" y2="383.3" stroke="#A6A6A6" stroke-width="0.6"/>
<path d="M380.2 379 L384 379 L382.1 382.4Z" stroke="#A6A6A6" stroke-width="1" fill="#fff"/>
<line x1="391.1" y1="371.8" x2="391.1" y2="377.8" stroke="#A6A6A6" stroke-width="0.7"/>
<line x1="390.1" y1="371.8" x2="392.1" y2="371.8" stroke="#A6A6A6" stroke-width="0.6"/>
<line x1="390.1" y1="377.8" x2="392.1" y2="377.8" stroke="#A6A6A6" stroke-width="0.6"/>
<path d="M389.2 373.1 L393 373.1 L391.1 376.5Z" stroke="#A6A6A6" stroke-width="1" fill="#fff"/>
<line x1="400.1" y1="364.7" x2="400.1" y2="370.9" stroke="#A6A6A6" stroke-width="0.7"/>
<line x1="399.1" y1="364.7" x2="401.1" y2="364.7" stroke="#A6A6A6" stroke-width="0.6"/>
<line x1="399.1" y1="370.9" x2="401.1" y2="370.9" stroke="#A6A6A6" stroke-width="0.6"/>
<path d="M398.2 366.1 L402 366.1 L400.1 369.5Z" stroke="#A6A6A6" stroke-width="1" fill="#fff"/>
<line x1="409.1" y1="356.3" x2="409.1" y2="361.9" stroke="#A6A6A6" stroke-width="0.7"/>
<line x1="408.1" y1="356.3" x2="410.1" y2="356.3" stroke="#A6A6A6" stroke-width="0.6"/>
<line x1="408.1" y1="361.9" x2="410.1" y2="361.9" stroke="#A6A6A6" stroke-width="0.6"/>
<path d="M407.2 357.4 L411 357.4 L409.1 360.8Z" stroke="#A6A6A6" stroke-width="1" fill="#fff"/>
<line x1="418.1" y1="351" x2="418.1" y2="355.6" stroke="#A6A6A6" stroke-width="0.7"/>
<line x1="417.1" y1="351" x2="419.1" y2="351" stroke="#A6A6A6" stroke-width="0.6"/>
<line x1="417.1" y1="355.6" x2="419.1" y2="355.6" stroke="#A6A6A6" stroke-width="0.6"/>
<path d="M416.2 351.6 L420 351.6 L418.1 355Z" stroke="#A6A6A6" stroke-width="1" fill="#fff"/>
<line x1="427.1" y1="341.8" x2="427.1" y2="345" stroke="#A6A6A6" stroke-width="0.7"/>
<line x1="426.1" y1="341.8" x2="428.1" y2="341.8" stroke="#A6A6A6" stroke-width="0.6"/>
<line x1="426.1" y1="345" x2="428.1" y2="345" stroke="#A6A6A6" stroke-width="0.6"/>
<path d="M425.2 341.7 L429 341.7 L427.1 345.1Z" stroke="#A6A6A6" stroke-width="1" fill="#fff"/>
<line x1="319.1" y1="336" x2="319.1" y2="341.4" stroke="#D2202A" stroke-width="0.7"/>
<line x1="318.1" y1="336" x2="320.1" y2="336" stroke="#D2202A" stroke-width="0.6"/>
<line x1="318.1" y1="341.4" x2="320.1" y2="341.4" stroke="#D2202A" stroke-width="0.6"/>
<path d="M317.2 337 L321 337 L319.1 340.4Z" stroke="#D2202A" stroke-width="1" fill="#fff"/>
<line x1="328.1" y1="337.7" x2="328.1" y2="343.7" stroke="#D2202A" stroke-width="0.7"/>
<line x1="327.1" y1="337.7" x2="329.1" y2="337.7" stroke="#D2202A" stroke-width="0.6"/>
<line x1="327.1" y1="343.7" x2="329.1" y2="343.7" stroke="#D2202A" stroke-width="0.6"/>
<path d="M326.2 339 L330 339 L328.1 342.4Z" stroke="#D2202A" stroke-width="1" fill="#fff"/>
<line x1="337.1" y1="344.5" x2="337.1" y2="350.5" stroke="#D2202A" stroke-width="0.7"/>
<line x1="336.1" y1="344.5" x2="338.1" y2="344.5" stroke="#D2202A" stroke-width="0.6"/>
<line x1="336.1" y1="350.5" x2="338.1" y2="350.5" stroke="#D2202A" stroke-width="0.6"/>
<path d="M335.2 345.8 L339 345.8 L337.1 349.2Z" stroke="#D2202A" stroke-width="1" fill="#fff"/>
<line x1="346.1" y1="362.8" x2="346.1" y2="368.2" stroke="#D2202A" stroke-width="0.7"/>
<line x1="345.1" y1="362.8" x2="347.1" y2="362.8" stroke="#D2202A" stroke-width="0.6"/>
<line x1="345.1" y1="368.2" x2="347.1" y2="368.2" stroke="#D2202A" stroke-width="0.6"/>
<path d="M344.2 363.8 L348 363.8 L346.1 367.2Z" stroke="#D2202A" stroke-width="1" fill="#fff"/>
<line x1="355.1" y1="387.4" x2="355.1" y2="391.6" stroke="#D2202A" stroke-width="0.7"/>
<line x1="354.1" y1="387.4" x2="356.1" y2="387.4" stroke="#D2202A" stroke-width="0.6"/>
<line x1="354.1" y1="391.6" x2="356.1" y2="391.6" stroke="#D2202A" stroke-width="0.6"/>
<path d="M353.2 387.8 L357 387.8 L355.1 391.2Z" stroke="#D2202A" stroke-width="1" fill="#fff"/>
<line x1="364.1" y1="393.1" x2="364.1" y2="395.9" stroke="#D2202A" stroke-width="0.7"/>
<line x1="363.1" y1="393.1" x2="365.1" y2="393.1" stroke="#D2202A" stroke-width="0.6"/>
<line x1="363.1" y1="395.9" x2="365.1" y2="395.9" stroke="#D2202A" stroke-width="0.6"/>
<path d="M362.2 392.8 L366 392.8 L364.1 396.2Z" stroke="#D2202A" stroke-width="1" fill="#fff"/>
<line x1="373.1" y1="393.5" x2="373.1" y2="397.5" stroke="#D2202A" stroke-width="0.7"/>
<line x1="372.1" y1="393.5" x2="374.1" y2="393.5" stroke="#D2202A" stroke-width="0.6"/>
<line x1="372.1" y1="397.5" x2="374.1" y2="397.5" stroke="#D2202A" stroke-width="0.6"/>
<path d="M371.2 393.8 L375 393.8 L373.1 397.2Z" stroke="#D2202A" stroke-width="1" fill="#fff"/>
<line x1="382.1" y1="388.7" x2="382.1" y2="393.9" stroke="#D2202A" stroke-width="0.7"/>
<line x1="381.1" y1="388.7" x2="383.1" y2="388.7" stroke="#D2202A" stroke-width="0.6"/>
<line x1="381.1" y1="393.9" x2="383.1" y2="393.9" stroke="#D2202A" stroke-width="0.6"/>
<path d="M380.2 389.6 L384 389.6 L382.1 393Z" stroke="#D2202A" stroke-width="1" fill="#fff"/>
<line x1="391.1" y1="380.5" x2="391.1" y2="386.5" stroke="#D2202A" stroke-width="0.7"/>
<line x1="390.1" y1="380.5" x2="392.1" y2="380.5" stroke="#D2202A" stroke-width="0.6"/>
<line x1="390.1" y1="386.5" x2="392.1" y2="386.5" stroke="#D2202A" stroke-width="0.6"/>
<path d="M389.2 381.8 L393 381.8 L391.1 385.2Z" stroke="#D2202A" stroke-width="1" fill="#fff"/>
<line x1="400.1" y1="372.5" x2="400.1" y2="378.7" stroke="#D2202A" stroke-width="0.7"/>
<line x1="399.1" y1="372.5" x2="401.1" y2="372.5" stroke="#D2202A" stroke-width="0.6"/>
<line x1="399.1" y1="378.7" x2="401.1" y2="378.7" stroke="#D2202A" stroke-width="0.6"/>
<path d="M398.2 373.9 L402 373.9 L400.1 377.3Z" stroke="#D2202A" stroke-width="1" fill="#fff"/>
<line x1="409.1" y1="362.6" x2="409.1" y2="368.2" stroke="#D2202A" stroke-width="0.7"/>
<line x1="408.1" y1="362.6" x2="410.1" y2="362.6" stroke="#D2202A" stroke-width="0.6"/>
<line x1="408.1" y1="368.2" x2="410.1" y2="368.2" stroke="#D2202A" stroke-width="0.6"/>
<path d="M407.2 363.7 L411 363.7 L409.1 367.1Z" stroke="#D2202A" stroke-width="1" fill="#fff"/>
<line x1="418.1" y1="355.2" x2="418.1" y2="359.8" stroke="#D2202A" stroke-width="0.7"/>
<line x1="417.1" y1="355.2" x2="419.1" y2="355.2" stroke="#D2202A" stroke-width="0.6"/>
<line x1="417.1" y1="359.8" x2="419.1" y2="359.8" stroke="#D2202A" stroke-width="0.6"/>
<path d="M416.2 355.8 L420 355.8 L418.1 359.2Z" stroke="#D2202A" stroke-width="1" fill="#fff"/>
<line x1="427.1" y1="348.1" x2="427.1" y2="351.3" stroke="#D2202A" stroke-width="0.7"/>
<line x1="426.1" y1="348.1" x2="428.1" y2="348.1" stroke="#D2202A" stroke-width="0.6"/>
<line x1="426.1" y1="351.3" x2="428.1" y2="351.3" stroke="#D2202A" stroke-width="0.6"/>
<path d="M425.2 348 L429 348 L427.1 351.4Z" stroke="#D2202A" stroke-width="1" fill="#fff"/>
<text xml:space="preserve" x="321.6" y="335.3" font-size="8.5" text-anchor="middle" font-weight="normal" fill="#1e1e1e" class="k"><tspan>-60</tspan></text>
<text xml:space="preserve" x="339.4" y="335.3" font-size="8.5" text-anchor="middle" font-weight="normal" fill="#1e1e1e" class="k"><tspan>-40</tspan></text>
<text xml:space="preserve" x="358.5" y="335.3" font-size="8.5" text-anchor="middle" font-weight="normal" fill="#1e1e1e" class="k"><tspan>-20</tspan></text>
<text xml:space="preserve" x="394.1" y="335.3" font-size="8.5" text-anchor="middle" font-weight="normal" fill="#1e1e1e" class="k"><tspan>20</tspan></text>
<text xml:space="preserve" x="412" y="335.3" font-size="8.5" text-anchor="middle" font-weight="normal" fill="#1e1e1e" class="k"><tspan>40</tspan></text>
<text xml:space="preserve" x="430.3" y="335.3" font-size="8.5" text-anchor="middle" font-weight="normal" fill="#1e1e1e" class="k"><tspan>60</tspan></text>
<text xml:space="preserve" x="374.5" y="349.4" font-size="8.5" text-anchor="start" font-weight="normal" fill="#1e1e1e" class="k"><tspan>-0.2</tspan></text>
<text xml:space="preserve" x="374.5" y="359" font-size="8.5" text-anchor="start" font-weight="normal" fill="#1e1e1e" class="k"><tspan>-0.4</tspan></text>
<text xml:space="preserve" x="374.5" y="368.6" font-size="8.5" text-anchor="start" font-weight="normal" fill="#1e1e1e" class="k"><tspan>-0.6</tspan></text>
<text xml:space="preserve" x="374.5" y="378.2" font-size="8.5" text-anchor="start" font-weight="normal" fill="#1e1e1e" class="k"><tspan>-0.8</tspan></text>
<text xml:space="preserve" x="374.5" y="387.8" font-size="8.5" text-anchor="start" font-weight="normal" fill="#1e1e1e" class="k"><tspan>-1.0</tspan></text>
<text xml:space="preserve" x="374.5" y="397.4" font-size="8.5" text-anchor="start" font-weight="normal" fill="#1e1e1e" class="k"><tspan>-1.2</tspan></text>
<text xml:space="preserve" x="392.5" y="417.3" font-size="8.6" text-anchor="end" font-weight="normal" fill="#1e1e1e" letter-spacing="0.1" class="k"><tspan>PbTx-3</tspan><tspan font-size="6.7" dy="0.3">o</tspan><tspan dy="-0.3">: I</tspan><tspan font-size="6.7" dy="0.3">peak</tspan></text>
<path d="M395.4 412.7 L400.6 412.7 L398 417.3Z" stroke="#D2202A" stroke-width="1.3" fill="none"/>
<text xml:space="preserve" x="392.5" y="426.9" font-size="8.6" text-anchor="end" font-weight="normal" fill="#1e1e1e" letter-spacing="0.1" class="k"><tspan>Brevenal</tspan><tspan font-size="6.7" dy="0.3">i</tspan><tspan dy="-0.3">: I</tspan><tspan font-size="6.7" dy="0.3">peak</tspan></text>
<path d="M395.4 422.3 L400.6 422.3 L398 426.9Z" stroke="#A6A6A6" stroke-width="0.8" fill="none"/>
<line x1="475.6" y1="242.6" x2="475.6" y2="321" stroke="#2a2a2a" stroke-width="1.1"/>
<line x1="475.1" y1="321" x2="538" y2="321" stroke="#2a2a2a" stroke-width="1.1"/>
<line x1="473.1" y1="321" x2="475.6" y2="321" stroke="#2a2a2a" stroke-width="1"/>
<text xml:space="preserve" x="472" y="324" font-size="8.5" text-anchor="end" font-weight="normal" fill="#1e1e1e" class="k"><tspan>0.0</tspan></text>
<line x1="473.1" y1="300.8" x2="475.6" y2="300.8" stroke="#2a2a2a" stroke-width="1"/>
<text xml:space="preserve" x="472" y="303.8" font-size="8.5" text-anchor="end" font-weight="normal" fill="#1e1e1e" class="k"><tspan>0.5</tspan></text>
<line x1="473.1" y1="280.4" x2="475.6" y2="280.4" stroke="#2a2a2a" stroke-width="1"/>
<text xml:space="preserve" x="472" y="283.4" font-size="8.5" text-anchor="end" font-weight="normal" fill="#1e1e1e" class="k"><tspan>1.0</tspan></text>
<line x1="473.1" y1="259.8" x2="475.6" y2="259.8" stroke="#2a2a2a" stroke-width="1"/>
<text xml:space="preserve" x="472" y="262.8" font-size="8.5" text-anchor="end" font-weight="normal" fill="#1e1e1e" class="k"><tspan>1.5</tspan></text>
<line x1="488.2" y1="321" x2="488.2" y2="323.8" stroke="#2a2a2a" stroke-width="1"/>
<line x1="507.1" y1="321" x2="507.1" y2="323.8" stroke="#2a2a2a" stroke-width="1"/>
<line x1="525.6" y1="321" x2="525.6" y2="323.8" stroke="#2a2a2a" stroke-width="1"/>
<line x1="477" y1="280.4" x2="533" y2="280.4" stroke="#c0c0c0" stroke-width="1.1" stroke-dasharray="3,2.3"/>
<path d="M488.6 251.9 L488.6 247.3 L525.6 247.3 L525.6 273" stroke="#808080" stroke-width="0.9" fill="none" stroke-linejoin="round"/>
<path d="M488.6 294.7 L488.6 264.4 L507.2 264.4 L507.2 270.3" stroke="#808080" stroke-width="0.9" fill="none" stroke-linejoin="round"/>
<line x1="507.6" y1="239.3" x2="507.6" y2="247" stroke="#555" stroke-width="0.9"/>
<line x1="505.4" y1="241.6" x2="509.8" y2="241.6" stroke="#555" stroke-width="0.9"/>
<line x1="505.4" y1="244.3" x2="509.8" y2="244.3" stroke="#555" stroke-width="0.9"/>
<path d="M491.7 257.4 L492.4 259 L494.1 258.8 L493.1 260.2 L494.1 261.6 L492.4 261.4 L491.7 263 L491 261.4 L489.3 261.6 L490.3 260.2 L489.3 258.8 L491 259Z" fill="#111"/>
<path d="M498.2 257.4 L498.9 259 L500.6 258.8 L499.6 260.2 L500.6 261.6 L498.9 261.4 L498.2 263 L497.5 261.4 L495.8 261.6 L496.8 260.2 L495.8 258.8 L497.5 259Z" fill="#111"/>
<path d="M504.7 257.4 L505.4 259 L507.1 258.8 L506.1 260.2 L507.1 261.6 L505.4 261.4 L504.7 263 L504 261.4 L502.3 261.6 L503.3 260.2 L502.3 258.8 L504 259Z" fill="#111"/>
<rect x="486.8" y="297.4" width="3.9" height="3.9" fill="#F6B31E"/>
<rect x="486.8" y="307.4" width="3.9" height="3.9" fill="#F6B31E"/>
<rect x="489.4" y="311.2" width="3.9" height="3.9" fill="#F6B31E"/>
<rect x="485.2" y="309.6" width="3.9" height="3.9" fill="#F6B31E"/>
<rect x="486.8" y="314.9" width="3.9" height="3.9" fill="#F6B31E"/>
<line x1="482.3" y1="309.9" x2="495" y2="309.9" stroke="#111" stroke-width="1.2"/>
<line x1="488.7" y1="307.5" x2="488.7" y2="312" stroke="#111" stroke-width="1"/>
<line x1="485.9" y1="307.5" x2="491.5" y2="307.5" stroke="#111" stroke-width="1"/>
<line x1="485.9" y1="312" x2="491.5" y2="312" stroke="#111" stroke-width="1"/>
<circle cx="506.9" cy="275" r="2" fill="#3E50B4"/>
<circle cx="506.9" cy="278.3" r="2" fill="#3E50B4"/>
<circle cx="506.9" cy="286.2" r="2" fill="#3E50B4"/>
<circle cx="506.9" cy="290.5" r="2" fill="#3E50B4"/>
<circle cx="504.7" cy="294.1" r="2" fill="#3E50B4"/>
<circle cx="509.6" cy="294.1" r="2" fill="#3E50B4"/>
<line x1="500.8" y1="286.5" x2="513.5" y2="286.5" stroke="#111" stroke-width="1.2"/>
<line x1="507.1" y1="283.6" x2="507.1" y2="289.6" stroke="#111" stroke-width="1"/>
<line x1="504.3" y1="283.6" x2="509.9" y2="283.6" stroke="#111" stroke-width="1"/>
<line x1="504.3" y1="289.6" x2="509.9" y2="289.6" stroke="#111" stroke-width="1"/>
<path d="M518.3 275.7 L522.7 275.7 L520.5 271.7Z" fill="#D2202A"/>
<path d="M528.3 277.5 L532.7 277.5 L530.5 273.5Z" fill="#D2202A"/>
<path d="M523.2 282.4 L527.6 282.4 L525.4 278.4Z" fill="#D2202A"/>
<path d="M523.8 277.9 L528.2 277.9 L526 273.9Z" fill="#D2202A"/>
<line x1="519.3" y1="276.3" x2="529.5" y2="276.3" stroke="#333" stroke-width="1.2"/>
<line x1="524.5" y1="275" x2="524.5" y2="277.6" stroke="#333" stroke-width="1"/>
<line x1="522.3" y1="275" x2="526.7" y2="275" stroke="#333" stroke-width="1"/>
<line x1="522.3" y1="277.6" x2="526.7" y2="277.6" stroke="#333" stroke-width="1"/>
<text xml:space="preserve" x="456.8" y="322.8" font-size="8" text-anchor="start" font-weight="normal" fill="#1e1e1e" transform="rotate(-90 456.8 322.8)" class="k"><tspan>Gmax</tspan><tspan font-size="5" dy="-3.7">Comp</tspan><tspan dy="3.7"> / Gmax</tspan><tspan font-size="5" dy="-3.7">Ctr</tspan></text>
<line x1="477.1" y1="333.5" x2="477.1" y2="412.2" stroke="#2a2a2a" stroke-width="1.1"/>
<line x1="476.6" y1="412.2" x2="538" y2="412.2" stroke="#2a2a2a" stroke-width="1.1"/>
<line x1="474.6" y1="401.3" x2="477.1" y2="401.3" stroke="#2a2a2a" stroke-width="1"/>
<text xml:space="preserve" x="473.5" y="404.3" font-size="8.5" text-anchor="end" font-weight="normal" fill="#1e1e1e" class="k"><tspan>-10</tspan></text>
<line x1="474.6" y1="383.8" x2="477.1" y2="383.8" stroke="#2a2a2a" stroke-width="1"/>
<text xml:space="preserve" x="473.5" y="386.8" font-size="8.5" text-anchor="end" font-weight="normal" fill="#1e1e1e" class="k"><tspan>-5</tspan></text>
<line x1="474.6" y1="366.3" x2="477.1" y2="366.3" stroke="#2a2a2a" stroke-width="1"/>
<text xml:space="preserve" x="473.5" y="369.3" font-size="8.5" text-anchor="end" font-weight="normal" fill="#1e1e1e" class="k"><tspan>0</tspan></text>
<line x1="474.6" y1="348.8" x2="477.1" y2="348.8" stroke="#2a2a2a" stroke-width="1"/>
<text xml:space="preserve" x="473.5" y="351.8" font-size="8.5" text-anchor="end" font-weight="normal" fill="#1e1e1e" class="k"><tspan>5</tspan></text>
<line x1="488.3" y1="412.2" x2="488.3" y2="415" stroke="#2a2a2a" stroke-width="1"/>
<line x1="507.2" y1="412.2" x2="507.2" y2="415" stroke="#2a2a2a" stroke-width="1"/>
<line x1="525.4" y1="412.2" x2="525.4" y2="415" stroke="#2a2a2a" stroke-width="1"/>
<line x1="478" y1="365.8" x2="533" y2="365.8" stroke="#c0c0c0" stroke-width="1.1" stroke-dasharray="3,2.3"/>
<path d="M488.6 348.6 L488.6 345 L525.6 345 L525.6 356.6" stroke="#808080" stroke-width="0.9" fill="none" stroke-linejoin="round"/>
<path d="M488.6 391.3 L488.6 360.8 L505.6 360.8 L505.6 364.5" stroke="#808080" stroke-width="0.9" fill="none" stroke-linejoin="round"/>
<path d="M508.7 364.5 L508.7 360.8 L525.6 360.8 L525.6 380.9" stroke="#808080" stroke-width="0.9" fill="none" stroke-linejoin="round"/>
<path d="M504.7 338.6 L505.4 340.2 L507.1 340 L506.1 341.4 L507.1 342.8 L505.4 342.6 L504.7 344.2 L504 342.6 L502.3 342.8 L503.3 341.4 L502.3 340 L504 340.2Z" fill="#111"/>
<path d="M511.4 338.6 L512.1 340.2 L513.8 340 L512.8 341.4 L513.8 342.8 L512.1 342.6 L511.4 344.2 L510.7 342.6 L509 342.8 L510 341.4 L509 340 L510.7 340.2Z" fill="#111"/>
<line x1="498.4" y1="352.8" x2="498.4" y2="360.5" stroke="#555" stroke-width="0.9"/>
<line x1="496.2" y1="355.1" x2="500.6" y2="355.1" stroke="#555" stroke-width="0.9"/>
<line x1="496.2" y1="357.8" x2="500.6" y2="357.8" stroke="#555" stroke-width="0.9"/>
<path d="M517.3 354.2 L518 355.8 L519.7 355.6 L518.7 357 L519.7 358.4 L518 358.2 L517.3 359.8 L516.6 358.2 L514.9 358.4 L515.9 357 L514.9 355.6 L516.6 355.8Z" fill="#111"/>
<rect x="484.2" y="394.2" width="3.9" height="3.9" fill="#F6B31E"/>
<rect x="489.4" y="394.8" width="3.9" height="3.9" fill="#F6B31E"/>
<rect x="484.8" y="400.2" width="3.9" height="3.9" fill="#F6B31E"/>
<rect x="488.9" y="400.8" width="3.9" height="3.9" fill="#F6B31E"/>
<rect x="486.8" y="406.4" width="3.9" height="3.9" fill="#F6B31E"/>
<line x1="482.4" y1="401.6" x2="494.9" y2="401.6" stroke="#111" stroke-width="1.2"/>
<line x1="488.6" y1="399.2" x2="488.6" y2="403.3" stroke="#111" stroke-width="1"/>
<line x1="485.9" y1="399.2" x2="491.4" y2="399.2" stroke="#111" stroke-width="1"/>
<line x1="485.9" y1="403.3" x2="491.4" y2="403.3" stroke="#111" stroke-width="1"/>
<circle cx="504.7" cy="379.3" r="2" fill="#3E50B4"/>
<circle cx="509.6" cy="377.6" r="2" fill="#3E50B4"/>
<circle cx="509.6" cy="380.9" r="2" fill="#3E50B4"/>
<circle cx="509.6" cy="384.7" r="2" fill="#3E50B4"/>
<circle cx="507.2" cy="388" r="2" fill="#3E50B4"/>
<circle cx="505.3" cy="382.5" r="2" fill="#3E50B4"/>
<line x1="500.9" y1="382" x2="513.8" y2="382" stroke="#111" stroke-width="1.2"/>
<line x1="507.3" y1="380.4" x2="507.3" y2="383.6" stroke="#111" stroke-width="1"/>
<line x1="504.5" y1="380.4" x2="510.1" y2="380.4" stroke="#111" stroke-width="1"/>
<line x1="504.5" y1="383.6" x2="510.1" y2="383.6" stroke="#111" stroke-width="1"/>
<path d="M521.6 389.4 L526 389.4 L523.8 385.4Z" fill="#D2202A"/>
<path d="M526.2 387.8 L530.6 387.8 L528.4 383.8Z" fill="#D2202A"/>
<path d="M523.8 393.8 L528.2 393.8 L526 389.8Z" fill="#D2202A"/>
<path d="M523.2 398.2 L527.6 398.2 L525.4 394.2Z" fill="#D2202A"/>
<line x1="519.4" y1="390.2" x2="532" y2="390.2" stroke="#111" stroke-width="1.2"/>
<line x1="525.7" y1="388.5" x2="525.7" y2="392.9" stroke="#111" stroke-width="1"/>
<line x1="522.9" y1="388.5" x2="528.5" y2="388.5" stroke="#111" stroke-width="1"/>
<line x1="522.9" y1="392.9" x2="528.5" y2="392.9" stroke="#111" stroke-width="1"/>
<text xml:space="preserve" x="458" y="420" font-size="8.2" text-anchor="start" font-weight="normal" fill="#1e1e1e" transform="rotate(-90 458 420)" class="k"><tspan>V0.5</tspan><tspan font-size="5.2" dy="-3.8">Comp</tspan><tspan dy="3.8"> - V0.5</tspan><tspan font-size="5.2" dy="-3.8">Ctr</tspan><tspan dy="3.8"> (mV)</tspan></text>
<text xml:space="preserve" x="473.8" y="430.6" font-size="6.9" text-anchor="start" font-weight="bold" fill="#1e1e1e" transform="rotate(-25 473.8 430.6)" class="k"><tspan>PbTx-3</tspan><tspan font-size="5.4" dy="0.2">o</tspan></text>
<text xml:space="preserve" x="487.3" y="432.8" font-size="6.9" text-anchor="start" font-weight="bold" fill="#1e1e1e" transform="rotate(-25 487.3 432.8)" class="k"><tspan>Brevenal</tspan><tspan font-size="5.4" dy="0.2">o</tspan></text>
<text xml:space="preserve" x="510" y="431.3" font-size="6.9" text-anchor="start" font-weight="bold" fill="#1e1e1e" transform="rotate(-25 510 431.3)" class="k"><tspan>PbTx-3</tspan><tspan font-size="5.4" dy="0.2">o</tspan></text>
<text xml:space="preserve" x="512" y="440.3" font-size="6.9" text-anchor="start" font-weight="bold" fill="#1e1e1e" transform="rotate(-25 512 440.3)" class="k"><tspan>Brevenal</tspan><tspan font-size="5.4" dy="0.2">i</tspan></text>
</svg></body></html>
